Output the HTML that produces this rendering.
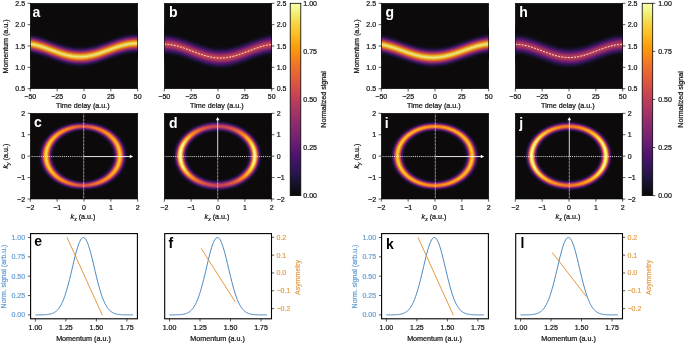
<!DOCTYPE html><html><head><meta charset="utf-8"><style>html,body{margin:0;padding:0;background:#fff;width:685px;height:343px;overflow:hidden}svg text{stroke-width:0.22px}svg text[font-weight=bold]{stroke:none}</style></head><body><svg width="685" height="343" viewBox="0 0 685 343" style="display:block;font-family:'Liberation Sans',Arial,Helvetica,sans-serif"><defs><linearGradient id="bg1" x1="0" y1="0" x2="0" y2="1"><stop offset="0" stop-color="#0c0a0a"/><stop offset="0.04" stop-color="#0c0a0a"/><stop offset="0.08" stop-color="#0c0a0a"/><stop offset="0.12" stop-color="#0c0a0b"/><stop offset="0.17" stop-color="#0d0b10"/><stop offset="0.21" stop-color="#110e1f"/><stop offset="0.25" stop-color="#221541"/><stop offset="0.29" stop-color="#4c146c"/><stop offset="0.33" stop-color="#862870"/><stop offset="0.38" stop-color="#cc474f"/><stop offset="0.42" stop-color="#f88c14"/><stop offset="0.46" stop-color="#f8d13f"/><stop offset="0.5" stop-color="#f2eb6d"/><stop offset="0.54" stop-color="#f8d13f"/><stop offset="0.58" stop-color="#f88c14"/><stop offset="0.62" stop-color="#cc474f"/><stop offset="0.67" stop-color="#862870"/><stop offset="0.71" stop-color="#4c146c"/><stop offset="0.75" stop-color="#221541"/><stop offset="0.79" stop-color="#110e1f"/><stop offset="0.83" stop-color="#0d0b10"/><stop offset="0.88" stop-color="#0c0a0b"/><stop offset="0.92" stop-color="#0c0a0a"/><stop offset="0.96" stop-color="#0c0a0a"/><stop offset="1" stop-color="#0c0a0a"/></linearGradient><clipPath id="cp2"><rect x="30.3" y="3.3" width="107.4" height="85.4"/></clipPath><linearGradient id="bg3" x1="0" y1="0" x2="0" y2="1"><stop offset="0" stop-color="#0c0a0a"/><stop offset="0.04" stop-color="#0c0a0a"/><stop offset="0.08" stop-color="#0c0a0a"/><stop offset="0.12" stop-color="#0c0a0b"/><stop offset="0.17" stop-color="#0c0a0d"/><stop offset="0.21" stop-color="#0e0c16"/><stop offset="0.25" stop-color="#151027"/><stop offset="0.29" stop-color="#2a164d"/><stop offset="0.33" stop-color="#4e146d"/><stop offset="0.38" stop-color="#7a2372"/><stop offset="0.42" stop-color="#a73465"/><stop offset="0.46" stop-color="#c74453"/><stop offset="0.5" stop-color="#d34c4a"/><stop offset="0.54" stop-color="#c74453"/><stop offset="0.58" stop-color="#a73465"/><stop offset="0.62" stop-color="#7a2372"/><stop offset="0.67" stop-color="#4e146d"/><stop offset="0.71" stop-color="#2a164d"/><stop offset="0.75" stop-color="#151027"/><stop offset="0.79" stop-color="#0e0c16"/><stop offset="0.83" stop-color="#0c0a0d"/><stop offset="0.88" stop-color="#0c0a0b"/><stop offset="0.92" stop-color="#0c0a0a"/><stop offset="0.96" stop-color="#0c0a0a"/><stop offset="1" stop-color="#0c0a0a"/></linearGradient><clipPath id="cp4"><rect x="164.3" y="3.3" width="107.4" height="85.4"/></clipPath><clipPath id="cp5"><rect x="30.3" y="113.3" width="107.4" height="85.7"/></clipPath><radialGradient id="r6" gradientUnits="userSpaceOnUse" cx="0" cy="0" r="1.292"><stop offset="0.548" stop-color="#0c0a0a"/><stop offset="0.580" stop-color="#0c0a0a"/><stop offset="0.613" stop-color="#0d0b0e"/><stop offset="0.645" stop-color="#16112a"/><stop offset="0.677" stop-color="#4c146c"/><stop offset="0.709" stop-color="#b23860"/><stop offset="0.742" stop-color="#fb980d"/><stop offset="0.774" stop-color="#f6d94a"/><stop offset="0.806" stop-color="#fb980d"/><stop offset="0.839" stop-color="#b23860"/><stop offset="0.871" stop-color="#4c146c"/><stop offset="0.903" stop-color="#16112a"/><stop offset="0.935" stop-color="#0d0b0e"/><stop offset="0.968" stop-color="#0c0a0a"/><stop offset="1.000" stop-color="#0c0a0a"/></radialGradient><radialGradient id="r7" gradientUnits="userSpaceOnUse" cx="0" cy="0" r="1.292"><stop offset="0.548" stop-color="#0c0a0a"/><stop offset="0.581" stop-color="#0c0a0a"/><stop offset="0.613" stop-color="#0d0b0e"/><stop offset="0.645" stop-color="#16112a"/><stop offset="0.677" stop-color="#4c146c"/><stop offset="0.710" stop-color="#b23860"/><stop offset="0.742" stop-color="#fb980d"/><stop offset="0.774" stop-color="#f7d748"/><stop offset="0.806" stop-color="#fb980d"/><stop offset="0.839" stop-color="#b23860"/><stop offset="0.871" stop-color="#4c146c"/><stop offset="0.903" stop-color="#16112a"/><stop offset="0.935" stop-color="#0d0b0e"/><stop offset="0.968" stop-color="#0c0a0a"/><stop offset="1.000" stop-color="#0c0a0a"/></radialGradient><radialGradient id="r8" gradientUnits="userSpaceOnUse" cx="0" cy="0" r="1.291"><stop offset="0.549" stop-color="#0c0a0a"/><stop offset="0.581" stop-color="#0c0a0a"/><stop offset="0.614" stop-color="#0d0b0e"/><stop offset="0.646" stop-color="#16112a"/><stop offset="0.678" stop-color="#4c146c"/><stop offset="0.710" stop-color="#b23860"/><stop offset="0.742" stop-color="#fa960e"/><stop offset="0.775" stop-color="#f7d545"/><stop offset="0.807" stop-color="#fa960e"/><stop offset="0.839" stop-color="#b23860"/><stop offset="0.871" stop-color="#4c146c"/><stop offset="0.903" stop-color="#16112a"/><stop offset="0.936" stop-color="#0d0b0e"/><stop offset="0.968" stop-color="#0c0a0a"/><stop offset="1.000" stop-color="#0c0a0a"/></radialGradient><radialGradient id="r9" gradientUnits="userSpaceOnUse" cx="0" cy="0" r="1.290"><stop offset="0.550" stop-color="#0c0a0a"/><stop offset="0.583" stop-color="#0c0a0a"/><stop offset="0.615" stop-color="#0d0b0e"/><stop offset="0.647" stop-color="#16112a"/><stop offset="0.679" stop-color="#4c146c"/><stop offset="0.711" stop-color="#b03861"/><stop offset="0.743" stop-color="#fa930f"/><stop offset="0.775" stop-color="#f8d342"/><stop offset="0.807" stop-color="#fa930f"/><stop offset="0.839" stop-color="#b03861"/><stop offset="0.872" stop-color="#4c146c"/><stop offset="0.904" stop-color="#16112a"/><stop offset="0.936" stop-color="#0d0b0e"/><stop offset="0.968" stop-color="#0c0a0a"/><stop offset="1.000" stop-color="#0c0a0a"/></radialGradient><radialGradient id="r10" gradientUnits="userSpaceOnUse" cx="0" cy="0" r="1.289"><stop offset="0.552" stop-color="#0c0a0a"/><stop offset="0.584" stop-color="#0c0a0a"/><stop offset="0.616" stop-color="#0d0b0e"/><stop offset="0.648" stop-color="#16112a"/><stop offset="0.680" stop-color="#4a136c"/><stop offset="0.712" stop-color="#af3762"/><stop offset="0.744" stop-color="#f99110"/><stop offset="0.776" stop-color="#f9cd3a"/><stop offset="0.808" stop-color="#f99110"/><stop offset="0.840" stop-color="#af3762"/><stop offset="0.872" stop-color="#4a136c"/><stop offset="0.904" stop-color="#16112a"/><stop offset="0.936" stop-color="#0d0b0e"/><stop offset="0.968" stop-color="#0c0a0a"/><stop offset="1.000" stop-color="#0c0a0a"/></radialGradient><radialGradient id="r11" gradientUnits="userSpaceOnUse" cx="0" cy="0" r="1.287"><stop offset="0.554" stop-color="#0c0a0a"/><stop offset="0.586" stop-color="#0c0a0a"/><stop offset="0.618" stop-color="#0d0b0e"/><stop offset="0.650" stop-color="#16112a"/><stop offset="0.681" stop-color="#4a136c"/><stop offset="0.713" stop-color="#ac3663"/><stop offset="0.745" stop-color="#f88c14"/><stop offset="0.777" stop-color="#faca35"/><stop offset="0.809" stop-color="#f88c14"/><stop offset="0.841" stop-color="#ac3663"/><stop offset="0.873" stop-color="#4a136c"/><stop offset="0.904" stop-color="#16112a"/><stop offset="0.936" stop-color="#0d0b0e"/><stop offset="0.968" stop-color="#0c0a0a"/><stop offset="1.000" stop-color="#0c0a0a"/></radialGradient><radialGradient id="r12" gradientUnits="userSpaceOnUse" cx="0" cy="0" r="1.285"><stop offset="0.556" stop-color="#0c0a0a"/><stop offset="0.588" stop-color="#0c0a0a"/><stop offset="0.620" stop-color="#0d0b0e"/><stop offset="0.651" stop-color="#16112a"/><stop offset="0.683" stop-color="#49136b"/><stop offset="0.715" stop-color="#aa3564"/><stop offset="0.746" stop-color="#f78816"/><stop offset="0.778" stop-color="#fac42e"/><stop offset="0.810" stop-color="#f78816"/><stop offset="0.842" stop-color="#aa3564"/><stop offset="0.873" stop-color="#49136b"/><stop offset="0.905" stop-color="#16112a"/><stop offset="0.937" stop-color="#0d0b0e"/><stop offset="0.968" stop-color="#0c0a0a"/><stop offset="1.000" stop-color="#0c0a0a"/></radialGradient><radialGradient id="r13" gradientUnits="userSpaceOnUse" cx="0" cy="0" r="1.283"><stop offset="0.559" stop-color="#0c0a0a"/><stop offset="0.590" stop-color="#0c0a0a"/><stop offset="0.622" stop-color="#0d0b0e"/><stop offset="0.653" stop-color="#151027"/><stop offset="0.685" stop-color="#47136a"/><stop offset="0.716" stop-color="#a73465"/><stop offset="0.748" stop-color="#f6831a"/><stop offset="0.779" stop-color="#fbbc25"/><stop offset="0.811" stop-color="#f6831a"/><stop offset="0.842" stop-color="#a73465"/><stop offset="0.874" stop-color="#47136a"/><stop offset="0.905" stop-color="#151027"/><stop offset="0.937" stop-color="#0d0b0e"/><stop offset="0.968" stop-color="#0c0a0a"/><stop offset="1.000" stop-color="#0c0a0a"/></radialGradient><radialGradient id="r14" gradientUnits="userSpaceOnUse" cx="0" cy="0" r="1.280"><stop offset="0.562" stop-color="#0c0a0a"/><stop offset="0.593" stop-color="#0c0a0a"/><stop offset="0.625" stop-color="#0d0b0e"/><stop offset="0.656" stop-color="#151027"/><stop offset="0.687" stop-color="#461369"/><stop offset="0.718" stop-color="#a43367"/><stop offset="0.750" stop-color="#f47d1f"/><stop offset="0.781" stop-color="#fcb51c"/><stop offset="0.812" stop-color="#f47d1f"/><stop offset="0.844" stop-color="#a43367"/><stop offset="0.875" stop-color="#461369"/><stop offset="0.906" stop-color="#151027"/><stop offset="0.937" stop-color="#0d0b0e"/><stop offset="0.969" stop-color="#0c0a0a"/><stop offset="1.000" stop-color="#0c0a0a"/></radialGradient><radialGradient id="r15" gradientUnits="userSpaceOnUse" cx="0" cy="0" r="1.278"><stop offset="0.565" stop-color="#0c0a0a"/><stop offset="0.596" stop-color="#0c0a0a"/><stop offset="0.627" stop-color="#0d0b0e"/><stop offset="0.658" stop-color="#151027"/><stop offset="0.689" stop-color="#441368"/><stop offset="0.721" stop-color="#a03168"/><stop offset="0.752" stop-color="#f17624"/><stop offset="0.783" stop-color="#fcae15"/><stop offset="0.814" stop-color="#f17624"/><stop offset="0.845" stop-color="#a03168"/><stop offset="0.876" stop-color="#441368"/><stop offset="0.907" stop-color="#151027"/><stop offset="0.938" stop-color="#0d0b0e"/><stop offset="0.969" stop-color="#0c0a0a"/><stop offset="1.000" stop-color="#0c0a0a"/></radialGradient><radialGradient id="r16" gradientUnits="userSpaceOnUse" cx="0" cy="0" r="1.275"><stop offset="0.569" stop-color="#0c0a0a"/><stop offset="0.600" stop-color="#0c0a0a"/><stop offset="0.630" stop-color="#0d0b0e"/><stop offset="0.661" stop-color="#141025"/><stop offset="0.692" stop-color="#421367"/><stop offset="0.723" stop-color="#9d3069"/><stop offset="0.754" stop-color="#ef7029"/><stop offset="0.784" stop-color="#fca40e"/><stop offset="0.815" stop-color="#ef7029"/><stop offset="0.846" stop-color="#9d3069"/><stop offset="0.877" stop-color="#421367"/><stop offset="0.908" stop-color="#141025"/><stop offset="0.938" stop-color="#0d0b0e"/><stop offset="0.969" stop-color="#0c0a0a"/><stop offset="1.000" stop-color="#0c0a0a"/></radialGradient><radialGradient id="r17" gradientUnits="userSpaceOnUse" cx="0" cy="0" r="1.272"><stop offset="0.573" stop-color="#0c0a0a"/><stop offset="0.603" stop-color="#0c0a0a"/><stop offset="0.634" stop-color="#0d0b0e"/><stop offset="0.664" stop-color="#141025"/><stop offset="0.695" stop-color="#411366"/><stop offset="0.725" stop-color="#982e6b"/><stop offset="0.756" stop-color="#ec6a2e"/><stop offset="0.786" stop-color="#fb9b0c"/><stop offset="0.817" stop-color="#ec6a2e"/><stop offset="0.847" stop-color="#982e6b"/><stop offset="0.878" stop-color="#411366"/><stop offset="0.908" stop-color="#141025"/><stop offset="0.939" stop-color="#0d0b0e"/><stop offset="0.969" stop-color="#0c0a0a"/><stop offset="1.000" stop-color="#0c0a0a"/></radialGradient><radialGradient id="r18" gradientUnits="userSpaceOnUse" cx="0" cy="0" r="1.268"><stop offset="0.577" stop-color="#0c0a0a"/><stop offset="0.607" stop-color="#0c0a0a"/><stop offset="0.637" stop-color="#0d0b0e"/><stop offset="0.668" stop-color="#141025"/><stop offset="0.698" stop-color="#3f1365"/><stop offset="0.728" stop-color="#942d6c"/><stop offset="0.758" stop-color="#e76334"/><stop offset="0.788" stop-color="#f99110"/><stop offset="0.819" stop-color="#e76334"/><stop offset="0.849" stop-color="#942d6c"/><stop offset="0.879" stop-color="#3f1365"/><stop offset="0.909" stop-color="#141025"/><stop offset="0.940" stop-color="#0d0b0e"/><stop offset="0.970" stop-color="#0c0a0a"/><stop offset="1.000" stop-color="#0c0a0a"/></radialGradient><radialGradient id="r19" gradientUnits="userSpaceOnUse" cx="0" cy="0" r="1.265"><stop offset="0.581" stop-color="#0c0a0a"/><stop offset="0.611" stop-color="#0c0a0a"/><stop offset="0.641" stop-color="#0d0b0e"/><stop offset="0.671" stop-color="#130f23"/><stop offset="0.701" stop-color="#3c1362"/><stop offset="0.731" stop-color="#8f2b6e"/><stop offset="0.761" stop-color="#e35e39"/><stop offset="0.791" stop-color="#f78816"/><stop offset="0.821" stop-color="#e35e39"/><stop offset="0.850" stop-color="#8f2b6e"/><stop offset="0.880" stop-color="#3c1362"/><stop offset="0.910" stop-color="#130f23"/><stop offset="0.940" stop-color="#0d0b0e"/><stop offset="0.970" stop-color="#0c0a0a"/><stop offset="1.000" stop-color="#0c0a0a"/></radialGradient><radialGradient id="r20" gradientUnits="userSpaceOnUse" cx="0" cy="0" r="1.261"><stop offset="0.586" stop-color="#0c0a0a"/><stop offset="0.615" stop-color="#0c0a0a"/><stop offset="0.645" stop-color="#0d0b0e"/><stop offset="0.675" stop-color="#130f23"/><stop offset="0.704" stop-color="#3a1460"/><stop offset="0.734" stop-color="#8b296f"/><stop offset="0.763" stop-color="#de583f"/><stop offset="0.793" stop-color="#f47e1e"/><stop offset="0.822" stop-color="#de583f"/><stop offset="0.852" stop-color="#8b296f"/><stop offset="0.882" stop-color="#3a1460"/><stop offset="0.911" stop-color="#130f23"/><stop offset="0.941" stop-color="#0d0b0e"/><stop offset="0.970" stop-color="#0c0a0a"/><stop offset="1.000" stop-color="#0c0a0a"/></radialGradient><radialGradient id="r21" gradientUnits="userSpaceOnUse" cx="0" cy="0" r="1.258"><stop offset="0.590" stop-color="#0c0a0a"/><stop offset="0.620" stop-color="#0c0a0a"/><stop offset="0.649" stop-color="#0c0a0d"/><stop offset="0.678" stop-color="#120f21"/><stop offset="0.707" stop-color="#38145f"/><stop offset="0.737" stop-color="#862870"/><stop offset="0.766" stop-color="#d75145"/><stop offset="0.795" stop-color="#f17526"/><stop offset="0.824" stop-color="#d75145"/><stop offset="0.854" stop-color="#862870"/><stop offset="0.883" stop-color="#38145f"/><stop offset="0.912" stop-color="#120f21"/><stop offset="0.941" stop-color="#0c0a0d"/><stop offset="0.971" stop-color="#0c0a0a"/><stop offset="1.000" stop-color="#0c0a0a"/></radialGradient><radialGradient id="r22" gradientUnits="userSpaceOnUse" cx="0" cy="0" r="1.254"><stop offset="0.595" stop-color="#0c0a0a"/><stop offset="0.624" stop-color="#0c0a0a"/><stop offset="0.653" stop-color="#0c0a0d"/><stop offset="0.682" stop-color="#120f21"/><stop offset="0.711" stop-color="#35145b"/><stop offset="0.740" stop-color="#822671"/><stop offset="0.769" stop-color="#d14b4b"/><stop offset="0.798" stop-color="#ec6c2d"/><stop offset="0.827" stop-color="#d14b4b"/><stop offset="0.855" stop-color="#822671"/><stop offset="0.884" stop-color="#35145b"/><stop offset="0.913" stop-color="#120f21"/><stop offset="0.942" stop-color="#0c0a0d"/><stop offset="0.971" stop-color="#0c0a0a"/><stop offset="1.000" stop-color="#0c0a0a"/></radialGradient><radialGradient id="r23" gradientUnits="userSpaceOnUse" cx="0" cy="0" r="1.250"><stop offset="0.600" stop-color="#0c0a0a"/><stop offset="0.629" stop-color="#0c0a0a"/><stop offset="0.657" stop-color="#0c0a0d"/><stop offset="0.686" stop-color="#110e1f"/><stop offset="0.714" stop-color="#331559"/><stop offset="0.743" stop-color="#7d2471"/><stop offset="0.771" stop-color="#cb4650"/><stop offset="0.800" stop-color="#e66235"/><stop offset="0.829" stop-color="#cb4650"/><stop offset="0.857" stop-color="#7d2471"/><stop offset="0.886" stop-color="#331559"/><stop offset="0.914" stop-color="#110e1f"/><stop offset="0.943" stop-color="#0c0a0d"/><stop offset="0.971" stop-color="#0c0a0a"/><stop offset="1.000" stop-color="#0c0a0a"/></radialGradient><radialGradient id="r24" gradientUnits="userSpaceOnUse" cx="0" cy="0" r="1.250"><stop offset="0.600" stop-color="#0c0a0a"/><stop offset="0.629" stop-color="#0c0a0a"/><stop offset="0.657" stop-color="#0c0a0d"/><stop offset="0.686" stop-color="#110e1f"/><stop offset="0.714" stop-color="#331559"/><stop offset="0.743" stop-color="#7d2471"/><stop offset="0.771" stop-color="#cb4650"/><stop offset="0.800" stop-color="#e76334"/><stop offset="0.829" stop-color="#cb4650"/><stop offset="0.857" stop-color="#7d2471"/><stop offset="0.886" stop-color="#331559"/><stop offset="0.914" stop-color="#110e1f"/><stop offset="0.943" stop-color="#0c0a0d"/><stop offset="0.971" stop-color="#0c0a0a"/><stop offset="1.000" stop-color="#0c0a0a"/></radialGradient><radialGradient id="r25" gradientUnits="userSpaceOnUse" cx="0" cy="0" r="1.254"><stop offset="0.595" stop-color="#0c0a0a"/><stop offset="0.624" stop-color="#0c0a0a"/><stop offset="0.653" stop-color="#0c0a0d"/><stop offset="0.682" stop-color="#120f21"/><stop offset="0.711" stop-color="#35145b"/><stop offset="0.740" stop-color="#822671"/><stop offset="0.769" stop-color="#d34c4a"/><stop offset="0.798" stop-color="#ed6d2c"/><stop offset="0.827" stop-color="#d34c4a"/><stop offset="0.855" stop-color="#822671"/><stop offset="0.884" stop-color="#35145b"/><stop offset="0.913" stop-color="#120f21"/><stop offset="0.942" stop-color="#0c0a0d"/><stop offset="0.971" stop-color="#0c0a0a"/><stop offset="1.000" stop-color="#0c0a0a"/></radialGradient><radialGradient id="r26" gradientUnits="userSpaceOnUse" cx="0" cy="0" r="1.258"><stop offset="0.590" stop-color="#0c0a0a"/><stop offset="0.620" stop-color="#0c0a0a"/><stop offset="0.649" stop-color="#0c0a0d"/><stop offset="0.678" stop-color="#120f21"/><stop offset="0.707" stop-color="#38145f"/><stop offset="0.737" stop-color="#88286f"/><stop offset="0.766" stop-color="#da5343"/><stop offset="0.795" stop-color="#f17624"/><stop offset="0.824" stop-color="#da5343"/><stop offset="0.854" stop-color="#88286f"/><stop offset="0.883" stop-color="#38145f"/><stop offset="0.912" stop-color="#120f21"/><stop offset="0.941" stop-color="#0c0a0d"/><stop offset="0.971" stop-color="#0c0a0a"/><stop offset="1.000" stop-color="#0c0a0a"/></radialGradient><radialGradient id="r27" gradientUnits="userSpaceOnUse" cx="0" cy="0" r="1.261"><stop offset="0.586" stop-color="#0c0a0a"/><stop offset="0.615" stop-color="#0c0a0a"/><stop offset="0.645" stop-color="#0d0b0e"/><stop offset="0.675" stop-color="#130f23"/><stop offset="0.704" stop-color="#3c1362"/><stop offset="0.734" stop-color="#8e2a6e"/><stop offset="0.763" stop-color="#e05a3c"/><stop offset="0.793" stop-color="#f6821b"/><stop offset="0.822" stop-color="#e05a3c"/><stop offset="0.852" stop-color="#8e2a6e"/><stop offset="0.882" stop-color="#3c1362"/><stop offset="0.911" stop-color="#130f23"/><stop offset="0.941" stop-color="#0d0b0e"/><stop offset="0.970" stop-color="#0c0a0a"/><stop offset="1.000" stop-color="#0c0a0a"/></radialGradient><radialGradient id="r28" gradientUnits="userSpaceOnUse" cx="0" cy="0" r="1.265"><stop offset="0.581" stop-color="#0c0a0a"/><stop offset="0.611" stop-color="#0c0a0a"/><stop offset="0.641" stop-color="#0d0b0e"/><stop offset="0.671" stop-color="#130f23"/><stop offset="0.701" stop-color="#3d1363"/><stop offset="0.731" stop-color="#922c6d"/><stop offset="0.761" stop-color="#e56137"/><stop offset="0.791" stop-color="#f98d13"/><stop offset="0.821" stop-color="#e56137"/><stop offset="0.850" stop-color="#922c6d"/><stop offset="0.880" stop-color="#3d1363"/><stop offset="0.910" stop-color="#130f23"/><stop offset="0.940" stop-color="#0d0b0e"/><stop offset="0.970" stop-color="#0c0a0a"/><stop offset="1.000" stop-color="#0c0a0a"/></radialGradient><radialGradient id="r29" gradientUnits="userSpaceOnUse" cx="0" cy="0" r="1.268"><stop offset="0.577" stop-color="#0c0a0a"/><stop offset="0.607" stop-color="#0c0a0a"/><stop offset="0.637" stop-color="#0d0b0e"/><stop offset="0.668" stop-color="#141025"/><stop offset="0.698" stop-color="#3f1365"/><stop offset="0.728" stop-color="#972e6c"/><stop offset="0.758" stop-color="#ea6731"/><stop offset="0.788" stop-color="#fb980d"/><stop offset="0.819" stop-color="#ea6731"/><stop offset="0.849" stop-color="#972e6c"/><stop offset="0.879" stop-color="#3f1365"/><stop offset="0.909" stop-color="#141025"/><stop offset="0.940" stop-color="#0d0b0e"/><stop offset="0.970" stop-color="#0c0a0a"/><stop offset="1.000" stop-color="#0c0a0a"/></radialGradient><radialGradient id="r30" gradientUnits="userSpaceOnUse" cx="0" cy="0" r="1.272"><stop offset="0.573" stop-color="#0c0a0a"/><stop offset="0.603" stop-color="#0c0a0a"/><stop offset="0.634" stop-color="#0d0b0e"/><stop offset="0.664" stop-color="#141025"/><stop offset="0.695" stop-color="#421367"/><stop offset="0.725" stop-color="#9b2f6a"/><stop offset="0.756" stop-color="#ef7029"/><stop offset="0.786" stop-color="#fca30d"/><stop offset="0.817" stop-color="#ef7029"/><stop offset="0.847" stop-color="#9b2f6a"/><stop offset="0.878" stop-color="#421367"/><stop offset="0.908" stop-color="#141025"/><stop offset="0.939" stop-color="#0d0b0e"/><stop offset="0.969" stop-color="#0c0a0a"/><stop offset="1.000" stop-color="#0c0a0a"/></radialGradient><radialGradient id="r31" gradientUnits="userSpaceOnUse" cx="0" cy="0" r="1.275"><stop offset="0.569" stop-color="#0c0a0a"/><stop offset="0.600" stop-color="#0c0a0a"/><stop offset="0.630" stop-color="#0d0b0e"/><stop offset="0.661" stop-color="#151027"/><stop offset="0.692" stop-color="#441368"/><stop offset="0.723" stop-color="#a03168"/><stop offset="0.754" stop-color="#f17624"/><stop offset="0.784" stop-color="#fcae15"/><stop offset="0.815" stop-color="#f17624"/><stop offset="0.846" stop-color="#a03168"/><stop offset="0.877" stop-color="#441368"/><stop offset="0.908" stop-color="#151027"/><stop offset="0.938" stop-color="#0d0b0e"/><stop offset="0.969" stop-color="#0c0a0a"/><stop offset="1.000" stop-color="#0c0a0a"/></radialGradient><radialGradient id="r32" gradientUnits="userSpaceOnUse" cx="0" cy="0" r="1.278"><stop offset="0.565" stop-color="#0c0a0a"/><stop offset="0.596" stop-color="#0c0a0a"/><stop offset="0.627" stop-color="#0d0b0e"/><stop offset="0.658" stop-color="#151027"/><stop offset="0.689" stop-color="#461369"/><stop offset="0.721" stop-color="#a43367"/><stop offset="0.752" stop-color="#f47e1e"/><stop offset="0.783" stop-color="#fcb71e"/><stop offset="0.814" stop-color="#f47e1e"/><stop offset="0.845" stop-color="#a43367"/><stop offset="0.876" stop-color="#461369"/><stop offset="0.907" stop-color="#151027"/><stop offset="0.938" stop-color="#0d0b0e"/><stop offset="0.969" stop-color="#0c0a0a"/><stop offset="1.000" stop-color="#0c0a0a"/></radialGradient><radialGradient id="r33" gradientUnits="userSpaceOnUse" cx="0" cy="0" r="1.280"><stop offset="0.562" stop-color="#0c0a0a"/><stop offset="0.593" stop-color="#0c0a0a"/><stop offset="0.625" stop-color="#0d0b0e"/><stop offset="0.656" stop-color="#151027"/><stop offset="0.687" stop-color="#47136a"/><stop offset="0.718" stop-color="#a93565"/><stop offset="0.750" stop-color="#f78519"/><stop offset="0.781" stop-color="#fbc029"/><stop offset="0.812" stop-color="#f78519"/><stop offset="0.844" stop-color="#a93565"/><stop offset="0.875" stop-color="#47136a"/><stop offset="0.906" stop-color="#151027"/><stop offset="0.937" stop-color="#0d0b0e"/><stop offset="0.969" stop-color="#0c0a0a"/><stop offset="1.000" stop-color="#0c0a0a"/></radialGradient><radialGradient id="r34" gradientUnits="userSpaceOnUse" cx="0" cy="0" r="1.283"><stop offset="0.559" stop-color="#0c0a0a"/><stop offset="0.590" stop-color="#0c0a0a"/><stop offset="0.622" stop-color="#0d0b0e"/><stop offset="0.653" stop-color="#16112a"/><stop offset="0.685" stop-color="#4a136c"/><stop offset="0.716" stop-color="#ac3663"/><stop offset="0.748" stop-color="#f88c14"/><stop offset="0.779" stop-color="#fac832"/><stop offset="0.811" stop-color="#f88c14"/><stop offset="0.842" stop-color="#ac3663"/><stop offset="0.874" stop-color="#4a136c"/><stop offset="0.905" stop-color="#16112a"/><stop offset="0.937" stop-color="#0d0b0e"/><stop offset="0.968" stop-color="#0c0a0a"/><stop offset="1.000" stop-color="#0c0a0a"/></radialGradient><radialGradient id="r35" gradientUnits="userSpaceOnUse" cx="0" cy="0" r="1.285"><stop offset="0.556" stop-color="#0c0a0a"/><stop offset="0.588" stop-color="#0c0a0a"/><stop offset="0.620" stop-color="#0d0b0e"/><stop offset="0.651" stop-color="#16112a"/><stop offset="0.683" stop-color="#4a136c"/><stop offset="0.715" stop-color="#af3762"/><stop offset="0.746" stop-color="#f99110"/><stop offset="0.778" stop-color="#f8cf3c"/><stop offset="0.810" stop-color="#f99110"/><stop offset="0.842" stop-color="#af3762"/><stop offset="0.873" stop-color="#4a136c"/><stop offset="0.905" stop-color="#16112a"/><stop offset="0.937" stop-color="#0d0b0e"/><stop offset="0.968" stop-color="#0c0a0a"/><stop offset="1.000" stop-color="#0c0a0a"/></radialGradient><radialGradient id="r36" gradientUnits="userSpaceOnUse" cx="0" cy="0" r="1.287"><stop offset="0.554" stop-color="#0c0a0a"/><stop offset="0.586" stop-color="#0c0a0a"/><stop offset="0.618" stop-color="#0d0b0e"/><stop offset="0.650" stop-color="#16112a"/><stop offset="0.681" stop-color="#4c146c"/><stop offset="0.713" stop-color="#b23860"/><stop offset="0.745" stop-color="#fa960e"/><stop offset="0.777" stop-color="#f7d748"/><stop offset="0.809" stop-color="#fa960e"/><stop offset="0.841" stop-color="#b23860"/><stop offset="0.873" stop-color="#4c146c"/><stop offset="0.904" stop-color="#16112a"/><stop offset="0.936" stop-color="#0d0b0e"/><stop offset="0.968" stop-color="#0c0a0a"/><stop offset="1.000" stop-color="#0c0a0a"/></radialGradient><radialGradient id="r37" gradientUnits="userSpaceOnUse" cx="0" cy="0" r="1.289"><stop offset="0.552" stop-color="#0c0a0a"/><stop offset="0.584" stop-color="#0c0a0a"/><stop offset="0.616" stop-color="#0d0b0e"/><stop offset="0.648" stop-color="#17112c"/><stop offset="0.680" stop-color="#4e146d"/><stop offset="0.712" stop-color="#b3395f"/><stop offset="0.744" stop-color="#fb9b0c"/><stop offset="0.776" stop-color="#f5dc51"/><stop offset="0.808" stop-color="#fb9b0c"/><stop offset="0.840" stop-color="#b3395f"/><stop offset="0.872" stop-color="#4e146d"/><stop offset="0.904" stop-color="#17112c"/><stop offset="0.936" stop-color="#0d0b0e"/><stop offset="0.968" stop-color="#0c0a0a"/><stop offset="1.000" stop-color="#0c0a0a"/></radialGradient><radialGradient id="r38" gradientUnits="userSpaceOnUse" cx="0" cy="0" r="1.290"><stop offset="0.550" stop-color="#0c0a0a"/><stop offset="0.583" stop-color="#0c0a0a"/><stop offset="0.615" stop-color="#0d0b0e"/><stop offset="0.647" stop-color="#17112c"/><stop offset="0.679" stop-color="#4e146d"/><stop offset="0.711" stop-color="#b53a5f"/><stop offset="0.743" stop-color="#fb9f0d"/><stop offset="0.775" stop-color="#f4e057"/><stop offset="0.807" stop-color="#fb9f0d"/><stop offset="0.839" stop-color="#b53a5f"/><stop offset="0.872" stop-color="#4e146d"/><stop offset="0.904" stop-color="#17112c"/><stop offset="0.936" stop-color="#0d0b0e"/><stop offset="0.968" stop-color="#0c0a0a"/><stop offset="1.000" stop-color="#0c0a0a"/></radialGradient><radialGradient id="r39" gradientUnits="userSpaceOnUse" cx="0" cy="0" r="1.291"><stop offset="0.549" stop-color="#0c0a0a"/><stop offset="0.581" stop-color="#0c0a0a"/><stop offset="0.614" stop-color="#0d0b0e"/><stop offset="0.646" stop-color="#17112c"/><stop offset="0.678" stop-color="#4f146e"/><stop offset="0.710" stop-color="#b63a5e"/><stop offset="0.742" stop-color="#fca10d"/><stop offset="0.775" stop-color="#f4e45e"/><stop offset="0.807" stop-color="#fca10d"/><stop offset="0.839" stop-color="#b63a5e"/><stop offset="0.871" stop-color="#4f146e"/><stop offset="0.903" stop-color="#17112c"/><stop offset="0.936" stop-color="#0d0b0e"/><stop offset="0.968" stop-color="#0c0a0a"/><stop offset="1.000" stop-color="#0c0a0a"/></radialGradient><radialGradient id="r40" gradientUnits="userSpaceOnUse" cx="0" cy="0" r="1.292"><stop offset="0.548" stop-color="#0c0a0a"/><stop offset="0.581" stop-color="#0c0a0a"/><stop offset="0.613" stop-color="#0d0b10"/><stop offset="0.645" stop-color="#17112c"/><stop offset="0.677" stop-color="#4f146e"/><stop offset="0.710" stop-color="#b83b5d"/><stop offset="0.742" stop-color="#fca30d"/><stop offset="0.774" stop-color="#f3e661"/><stop offset="0.806" stop-color="#fca30d"/><stop offset="0.839" stop-color="#b83b5d"/><stop offset="0.871" stop-color="#4f146e"/><stop offset="0.903" stop-color="#17112c"/><stop offset="0.935" stop-color="#0d0b10"/><stop offset="0.968" stop-color="#0c0a0a"/><stop offset="1.000" stop-color="#0c0a0a"/></radialGradient><radialGradient id="r41" gradientUnits="userSpaceOnUse" cx="0" cy="0" r="1.292"><stop offset="0.548" stop-color="#0c0a0a"/><stop offset="0.580" stop-color="#0c0a0a"/><stop offset="0.613" stop-color="#0d0b10"/><stop offset="0.645" stop-color="#17112c"/><stop offset="0.677" stop-color="#4f146e"/><stop offset="0.709" stop-color="#b83b5d"/><stop offset="0.742" stop-color="#fca40e"/><stop offset="0.774" stop-color="#f3e765"/><stop offset="0.806" stop-color="#fca40e"/><stop offset="0.839" stop-color="#b83b5d"/><stop offset="0.871" stop-color="#4f146e"/><stop offset="0.903" stop-color="#17112c"/><stop offset="0.935" stop-color="#0d0b10"/><stop offset="0.968" stop-color="#0c0a0a"/><stop offset="1.000" stop-color="#0c0a0a"/></radialGradient><radialGradient id="r42" gradientUnits="userSpaceOnUse" cx="0" cy="0" r="1.292"><stop offset="0.548" stop-color="#0c0a0a"/><stop offset="0.580" stop-color="#0c0a0a"/><stop offset="0.613" stop-color="#0d0b10"/><stop offset="0.645" stop-color="#17112c"/><stop offset="0.677" stop-color="#4f146e"/><stop offset="0.709" stop-color="#b83b5d"/><stop offset="0.742" stop-color="#fca40e"/><stop offset="0.774" stop-color="#f3e661"/><stop offset="0.806" stop-color="#fca40e"/><stop offset="0.839" stop-color="#b83b5d"/><stop offset="0.871" stop-color="#4f146e"/><stop offset="0.903" stop-color="#17112c"/><stop offset="0.935" stop-color="#0d0b10"/><stop offset="0.968" stop-color="#0c0a0a"/><stop offset="1.000" stop-color="#0c0a0a"/></radialGradient><radialGradient id="r43" gradientUnits="userSpaceOnUse" cx="0" cy="0" r="1.292"><stop offset="0.548" stop-color="#0c0a0a"/><stop offset="0.581" stop-color="#0c0a0a"/><stop offset="0.613" stop-color="#0d0b10"/><stop offset="0.645" stop-color="#17112c"/><stop offset="0.677" stop-color="#4f146e"/><stop offset="0.710" stop-color="#b83b5d"/><stop offset="0.742" stop-color="#fca30d"/><stop offset="0.774" stop-color="#f3e661"/><stop offset="0.806" stop-color="#fca30d"/><stop offset="0.839" stop-color="#b83b5d"/><stop offset="0.871" stop-color="#4f146e"/><stop offset="0.903" stop-color="#17112c"/><stop offset="0.935" stop-color="#0d0b10"/><stop offset="0.968" stop-color="#0c0a0a"/><stop offset="1.000" stop-color="#0c0a0a"/></radialGradient><radialGradient id="r44" gradientUnits="userSpaceOnUse" cx="0" cy="0" r="1.291"><stop offset="0.549" stop-color="#0c0a0a"/><stop offset="0.581" stop-color="#0c0a0a"/><stop offset="0.614" stop-color="#0d0b0e"/><stop offset="0.646" stop-color="#17112c"/><stop offset="0.678" stop-color="#4f146e"/><stop offset="0.710" stop-color="#b63a5e"/><stop offset="0.742" stop-color="#fca10d"/><stop offset="0.775" stop-color="#f4e45e"/><stop offset="0.807" stop-color="#fca10d"/><stop offset="0.839" stop-color="#b63a5e"/><stop offset="0.871" stop-color="#4f146e"/><stop offset="0.903" stop-color="#17112c"/><stop offset="0.936" stop-color="#0d0b0e"/><stop offset="0.968" stop-color="#0c0a0a"/><stop offset="1.000" stop-color="#0c0a0a"/></radialGradient><radialGradient id="r45" gradientUnits="userSpaceOnUse" cx="0" cy="0" r="1.290"><stop offset="0.550" stop-color="#0c0a0a"/><stop offset="0.583" stop-color="#0c0a0a"/><stop offset="0.615" stop-color="#0d0b0e"/><stop offset="0.647" stop-color="#17112c"/><stop offset="0.679" stop-color="#4e146d"/><stop offset="0.711" stop-color="#b53a5f"/><stop offset="0.743" stop-color="#fb9d0c"/><stop offset="0.775" stop-color="#f4e057"/><stop offset="0.807" stop-color="#fb9d0c"/><stop offset="0.839" stop-color="#b53a5f"/><stop offset="0.872" stop-color="#4e146d"/><stop offset="0.904" stop-color="#17112c"/><stop offset="0.936" stop-color="#0d0b0e"/><stop offset="0.968" stop-color="#0c0a0a"/><stop offset="1.000" stop-color="#0c0a0a"/></radialGradient><radialGradient id="r46" gradientUnits="userSpaceOnUse" cx="0" cy="0" r="1.289"><stop offset="0.552" stop-color="#0c0a0a"/><stop offset="0.584" stop-color="#0c0a0a"/><stop offset="0.616" stop-color="#0d0b0e"/><stop offset="0.648" stop-color="#16112a"/><stop offset="0.680" stop-color="#4e146d"/><stop offset="0.712" stop-color="#b3395f"/><stop offset="0.744" stop-color="#fb9a0d"/><stop offset="0.776" stop-color="#f6db4d"/><stop offset="0.808" stop-color="#fb9a0d"/><stop offset="0.840" stop-color="#b3395f"/><stop offset="0.872" stop-color="#4e146d"/><stop offset="0.904" stop-color="#16112a"/><stop offset="0.936" stop-color="#0d0b0e"/><stop offset="0.968" stop-color="#0c0a0a"/><stop offset="1.000" stop-color="#0c0a0a"/></radialGradient><radialGradient id="r47" gradientUnits="userSpaceOnUse" cx="0" cy="0" r="1.287"><stop offset="0.554" stop-color="#0c0a0a"/><stop offset="0.586" stop-color="#0c0a0a"/><stop offset="0.618" stop-color="#0d0b0e"/><stop offset="0.650" stop-color="#16112a"/><stop offset="0.681" stop-color="#4c146c"/><stop offset="0.713" stop-color="#b03861"/><stop offset="0.745" stop-color="#fa960e"/><stop offset="0.777" stop-color="#f7d545"/><stop offset="0.809" stop-color="#fa960e"/><stop offset="0.841" stop-color="#b03861"/><stop offset="0.873" stop-color="#4c146c"/><stop offset="0.904" stop-color="#16112a"/><stop offset="0.936" stop-color="#0d0b0e"/><stop offset="0.968" stop-color="#0c0a0a"/><stop offset="1.000" stop-color="#0c0a0a"/></radialGradient><radialGradient id="r48" gradientUnits="userSpaceOnUse" cx="0" cy="0" r="1.285"><stop offset="0.556" stop-color="#0c0a0a"/><stop offset="0.588" stop-color="#0c0a0a"/><stop offset="0.620" stop-color="#0d0b0e"/><stop offset="0.651" stop-color="#16112a"/><stop offset="0.683" stop-color="#4a136c"/><stop offset="0.715" stop-color="#af3762"/><stop offset="0.746" stop-color="#f98f11"/><stop offset="0.778" stop-color="#f9cd3a"/><stop offset="0.810" stop-color="#f98f11"/><stop offset="0.842" stop-color="#af3762"/><stop offset="0.873" stop-color="#4a136c"/><stop offset="0.905" stop-color="#16112a"/><stop offset="0.937" stop-color="#0d0b0e"/><stop offset="0.968" stop-color="#0c0a0a"/><stop offset="1.000" stop-color="#0c0a0a"/></radialGradient><radialGradient id="r49" gradientUnits="userSpaceOnUse" cx="0" cy="0" r="1.283"><stop offset="0.559" stop-color="#0c0a0a"/><stop offset="0.590" stop-color="#0c0a0a"/><stop offset="0.622" stop-color="#0d0b0e"/><stop offset="0.653" stop-color="#16112a"/><stop offset="0.685" stop-color="#49136b"/><stop offset="0.716" stop-color="#aa3564"/><stop offset="0.748" stop-color="#f88a15"/><stop offset="0.779" stop-color="#fac630"/><stop offset="0.811" stop-color="#f88a15"/><stop offset="0.842" stop-color="#aa3564"/><stop offset="0.874" stop-color="#49136b"/><stop offset="0.905" stop-color="#16112a"/><stop offset="0.937" stop-color="#0d0b0e"/><stop offset="0.968" stop-color="#0c0a0a"/><stop offset="1.000" stop-color="#0c0a0a"/></radialGradient><radialGradient id="r50" gradientUnits="userSpaceOnUse" cx="0" cy="0" r="1.280"><stop offset="0.562" stop-color="#0c0a0a"/><stop offset="0.593" stop-color="#0c0a0a"/><stop offset="0.625" stop-color="#0d0b0e"/><stop offset="0.656" stop-color="#151027"/><stop offset="0.687" stop-color="#47136a"/><stop offset="0.718" stop-color="#a73465"/><stop offset="0.750" stop-color="#f6831a"/><stop offset="0.781" stop-color="#fbbc25"/><stop offset="0.812" stop-color="#f6831a"/><stop offset="0.844" stop-color="#a73465"/><stop offset="0.875" stop-color="#47136a"/><stop offset="0.906" stop-color="#151027"/><stop offset="0.937" stop-color="#0d0b0e"/><stop offset="0.969" stop-color="#0c0a0a"/><stop offset="1.000" stop-color="#0c0a0a"/></radialGradient><radialGradient id="r51" gradientUnits="userSpaceOnUse" cx="0" cy="0" r="1.278"><stop offset="0.565" stop-color="#0c0a0a"/><stop offset="0.596" stop-color="#0c0a0a"/><stop offset="0.627" stop-color="#0d0b0e"/><stop offset="0.658" stop-color="#151027"/><stop offset="0.689" stop-color="#461369"/><stop offset="0.721" stop-color="#a33267"/><stop offset="0.752" stop-color="#f37b21"/><stop offset="0.783" stop-color="#fcb31a"/><stop offset="0.814" stop-color="#f37b21"/><stop offset="0.845" stop-color="#a33267"/><stop offset="0.876" stop-color="#461369"/><stop offset="0.907" stop-color="#151027"/><stop offset="0.938" stop-color="#0d0b0e"/><stop offset="0.969" stop-color="#0c0a0a"/><stop offset="1.000" stop-color="#0c0a0a"/></radialGradient><radialGradient id="r52" gradientUnits="userSpaceOnUse" cx="0" cy="0" r="1.275"><stop offset="0.569" stop-color="#0c0a0a"/><stop offset="0.600" stop-color="#0c0a0a"/><stop offset="0.630" stop-color="#0d0b0e"/><stop offset="0.661" stop-color="#151027"/><stop offset="0.692" stop-color="#441368"/><stop offset="0.723" stop-color="#9e3069"/><stop offset="0.754" stop-color="#f17526"/><stop offset="0.784" stop-color="#fcaa12"/><stop offset="0.815" stop-color="#f17526"/><stop offset="0.846" stop-color="#9e3069"/><stop offset="0.877" stop-color="#441368"/><stop offset="0.908" stop-color="#151027"/><stop offset="0.938" stop-color="#0d0b0e"/><stop offset="0.969" stop-color="#0c0a0a"/><stop offset="1.000" stop-color="#0c0a0a"/></radialGradient><radialGradient id="r53" gradientUnits="userSpaceOnUse" cx="0" cy="0" r="1.272"><stop offset="0.573" stop-color="#0c0a0a"/><stop offset="0.603" stop-color="#0c0a0a"/><stop offset="0.634" stop-color="#0d0b0e"/><stop offset="0.664" stop-color="#141025"/><stop offset="0.695" stop-color="#411366"/><stop offset="0.725" stop-color="#9a2f6b"/><stop offset="0.756" stop-color="#ed6d2c"/><stop offset="0.786" stop-color="#fb9d0c"/><stop offset="0.817" stop-color="#ed6d2c"/><stop offset="0.847" stop-color="#9a2f6b"/><stop offset="0.878" stop-color="#411366"/><stop offset="0.908" stop-color="#141025"/><stop offset="0.939" stop-color="#0d0b0e"/><stop offset="0.969" stop-color="#0c0a0a"/><stop offset="1.000" stop-color="#0c0a0a"/></radialGradient><radialGradient id="r54" gradientUnits="userSpaceOnUse" cx="0" cy="0" r="1.268"><stop offset="0.577" stop-color="#0c0a0a"/><stop offset="0.607" stop-color="#0c0a0a"/><stop offset="0.637" stop-color="#0d0b0e"/><stop offset="0.668" stop-color="#141025"/><stop offset="0.698" stop-color="#3f1365"/><stop offset="0.728" stop-color="#952d6c"/><stop offset="0.758" stop-color="#e86533"/><stop offset="0.788" stop-color="#fa930f"/><stop offset="0.819" stop-color="#e86533"/><stop offset="0.849" stop-color="#952d6c"/><stop offset="0.879" stop-color="#3f1365"/><stop offset="0.909" stop-color="#141025"/><stop offset="0.940" stop-color="#0d0b0e"/><stop offset="0.970" stop-color="#0c0a0a"/><stop offset="1.000" stop-color="#0c0a0a"/></radialGradient><radialGradient id="r55" gradientUnits="userSpaceOnUse" cx="0" cy="0" r="1.265"><stop offset="0.581" stop-color="#0c0a0a"/><stop offset="0.611" stop-color="#0c0a0a"/><stop offset="0.641" stop-color="#0d0b0e"/><stop offset="0.671" stop-color="#130f23"/><stop offset="0.701" stop-color="#3c1362"/><stop offset="0.731" stop-color="#8f2b6e"/><stop offset="0.761" stop-color="#e25d3a"/><stop offset="0.791" stop-color="#f78718"/><stop offset="0.821" stop-color="#e25d3a"/><stop offset="0.850" stop-color="#8f2b6e"/><stop offset="0.880" stop-color="#3c1362"/><stop offset="0.910" stop-color="#130f23"/><stop offset="0.940" stop-color="#0d0b0e"/><stop offset="0.970" stop-color="#0c0a0a"/><stop offset="1.000" stop-color="#0c0a0a"/></radialGradient><radialGradient id="r56" gradientUnits="userSpaceOnUse" cx="0" cy="0" r="1.261"><stop offset="0.586" stop-color="#0c0a0a"/><stop offset="0.615" stop-color="#0c0a0a"/><stop offset="0.645" stop-color="#0d0b0e"/><stop offset="0.675" stop-color="#130f23"/><stop offset="0.704" stop-color="#3a1460"/><stop offset="0.734" stop-color="#8b296f"/><stop offset="0.763" stop-color="#dd5640"/><stop offset="0.793" stop-color="#f47d1f"/><stop offset="0.822" stop-color="#dd5640"/><stop offset="0.852" stop-color="#8b296f"/><stop offset="0.882" stop-color="#3a1460"/><stop offset="0.911" stop-color="#130f23"/><stop offset="0.941" stop-color="#0d0b0e"/><stop offset="0.970" stop-color="#0c0a0a"/><stop offset="1.000" stop-color="#0c0a0a"/></radialGradient><radialGradient id="r57" gradientUnits="userSpaceOnUse" cx="0" cy="0" r="1.258"><stop offset="0.590" stop-color="#0c0a0a"/><stop offset="0.620" stop-color="#0c0a0a"/><stop offset="0.649" stop-color="#0c0a0d"/><stop offset="0.678" stop-color="#120f21"/><stop offset="0.707" stop-color="#37145d"/><stop offset="0.737" stop-color="#852770"/><stop offset="0.766" stop-color="#d54e48"/><stop offset="0.795" stop-color="#ef7029"/><stop offset="0.824" stop-color="#d54e48"/><stop offset="0.854" stop-color="#852770"/><stop offset="0.883" stop-color="#37145d"/><stop offset="0.912" stop-color="#120f21"/><stop offset="0.941" stop-color="#0c0a0d"/><stop offset="0.971" stop-color="#0c0a0a"/><stop offset="1.000" stop-color="#0c0a0a"/></radialGradient><radialGradient id="r58" gradientUnits="userSpaceOnUse" cx="0" cy="0" r="1.254"><stop offset="0.595" stop-color="#0c0a0a"/><stop offset="0.624" stop-color="#0c0a0a"/><stop offset="0.653" stop-color="#0c0a0d"/><stop offset="0.682" stop-color="#120f21"/><stop offset="0.711" stop-color="#331559"/><stop offset="0.740" stop-color="#7f2571"/><stop offset="0.769" stop-color="#ce484e"/><stop offset="0.798" stop-color="#e96632"/><stop offset="0.827" stop-color="#ce484e"/><stop offset="0.855" stop-color="#7f2571"/><stop offset="0.884" stop-color="#331559"/><stop offset="0.913" stop-color="#120f21"/><stop offset="0.942" stop-color="#0c0a0d"/><stop offset="0.971" stop-color="#0c0a0a"/><stop offset="1.000" stop-color="#0c0a0a"/></radialGradient><radialGradient id="r59" gradientUnits="userSpaceOnUse" cx="0" cy="0" r="1.250"><stop offset="0.600" stop-color="#0c0a0a"/><stop offset="0.629" stop-color="#0c0a0a"/><stop offset="0.657" stop-color="#0c0a0d"/><stop offset="0.686" stop-color="#110e1f"/><stop offset="0.714" stop-color="#321557"/><stop offset="0.743" stop-color="#792372"/><stop offset="0.771" stop-color="#c64354"/><stop offset="0.800" stop-color="#e25d3a"/><stop offset="0.829" stop-color="#c64354"/><stop offset="0.857" stop-color="#792372"/><stop offset="0.886" stop-color="#321557"/><stop offset="0.914" stop-color="#110e1f"/><stop offset="0.943" stop-color="#0c0a0d"/><stop offset="0.971" stop-color="#0c0a0a"/><stop offset="1.000" stop-color="#0c0a0a"/></radialGradient><radialGradient id="r60" gradientUnits="userSpaceOnUse" cx="0" cy="0" r="1.250"><stop offset="0.600" stop-color="#0c0a0a"/><stop offset="0.629" stop-color="#0c0a0a"/><stop offset="0.657" stop-color="#0c0a0d"/><stop offset="0.686" stop-color="#110e1f"/><stop offset="0.714" stop-color="#321557"/><stop offset="0.743" stop-color="#792372"/><stop offset="0.771" stop-color="#c64354"/><stop offset="0.800" stop-color="#e15b3b"/><stop offset="0.829" stop-color="#c64354"/><stop offset="0.857" stop-color="#792372"/><stop offset="0.886" stop-color="#321557"/><stop offset="0.914" stop-color="#110e1f"/><stop offset="0.943" stop-color="#0c0a0d"/><stop offset="0.971" stop-color="#0c0a0a"/><stop offset="1.000" stop-color="#0c0a0a"/></radialGradient><radialGradient id="r61" gradientUnits="userSpaceOnUse" cx="0" cy="0" r="1.254"><stop offset="0.595" stop-color="#0c0a0a"/><stop offset="0.624" stop-color="#0c0a0a"/><stop offset="0.653" stop-color="#0c0a0d"/><stop offset="0.682" stop-color="#120f21"/><stop offset="0.711" stop-color="#331559"/><stop offset="0.740" stop-color="#7f2571"/><stop offset="0.769" stop-color="#cc474f"/><stop offset="0.798" stop-color="#e86533"/><stop offset="0.827" stop-color="#cc474f"/><stop offset="0.855" stop-color="#7f2571"/><stop offset="0.884" stop-color="#331559"/><stop offset="0.913" stop-color="#120f21"/><stop offset="0.942" stop-color="#0c0a0d"/><stop offset="0.971" stop-color="#0c0a0a"/><stop offset="1.000" stop-color="#0c0a0a"/></radialGradient><radialGradient id="r62" gradientUnits="userSpaceOnUse" cx="0" cy="0" r="1.258"><stop offset="0.590" stop-color="#0c0a0a"/><stop offset="0.620" stop-color="#0c0a0a"/><stop offset="0.649" stop-color="#0c0a0d"/><stop offset="0.678" stop-color="#120f21"/><stop offset="0.707" stop-color="#37145d"/><stop offset="0.737" stop-color="#832770"/><stop offset="0.766" stop-color="#d44d49"/><stop offset="0.795" stop-color="#ee6f2b"/><stop offset="0.824" stop-color="#d44d49"/><stop offset="0.854" stop-color="#832770"/><stop offset="0.883" stop-color="#37145d"/><stop offset="0.912" stop-color="#120f21"/><stop offset="0.941" stop-color="#0c0a0d"/><stop offset="0.971" stop-color="#0c0a0a"/><stop offset="1.000" stop-color="#0c0a0a"/></radialGradient><radialGradient id="r63" gradientUnits="userSpaceOnUse" cx="0" cy="0" r="1.261"><stop offset="0.586" stop-color="#0c0a0a"/><stop offset="0.615" stop-color="#0c0a0a"/><stop offset="0.645" stop-color="#0c0a0d"/><stop offset="0.675" stop-color="#120f21"/><stop offset="0.704" stop-color="#38145f"/><stop offset="0.734" stop-color="#88286f"/><stop offset="0.763" stop-color="#db5442"/><stop offset="0.793" stop-color="#f27823"/><stop offset="0.822" stop-color="#db5442"/><stop offset="0.852" stop-color="#88286f"/><stop offset="0.882" stop-color="#38145f"/><stop offset="0.911" stop-color="#120f21"/><stop offset="0.941" stop-color="#0c0a0d"/><stop offset="0.970" stop-color="#0c0a0a"/><stop offset="1.000" stop-color="#0c0a0a"/></radialGradient><radialGradient id="r64" gradientUnits="userSpaceOnUse" cx="0" cy="0" r="1.265"><stop offset="0.581" stop-color="#0c0a0a"/><stop offset="0.611" stop-color="#0c0a0a"/><stop offset="0.641" stop-color="#0d0b0e"/><stop offset="0.671" stop-color="#130f23"/><stop offset="0.701" stop-color="#3c1362"/><stop offset="0.731" stop-color="#8e2a6e"/><stop offset="0.761" stop-color="#e05a3c"/><stop offset="0.791" stop-color="#f6821b"/><stop offset="0.821" stop-color="#e05a3c"/><stop offset="0.850" stop-color="#8e2a6e"/><stop offset="0.880" stop-color="#3c1362"/><stop offset="0.910" stop-color="#130f23"/><stop offset="0.940" stop-color="#0d0b0e"/><stop offset="0.970" stop-color="#0c0a0a"/><stop offset="1.000" stop-color="#0c0a0a"/></radialGradient><radialGradient id="r65" gradientUnits="userSpaceOnUse" cx="0" cy="0" r="1.268"><stop offset="0.577" stop-color="#0c0a0a"/><stop offset="0.607" stop-color="#0c0a0a"/><stop offset="0.637" stop-color="#0d0b0e"/><stop offset="0.668" stop-color="#130f23"/><stop offset="0.698" stop-color="#3d1363"/><stop offset="0.728" stop-color="#922c6d"/><stop offset="0.758" stop-color="#e56137"/><stop offset="0.788" stop-color="#f98d13"/><stop offset="0.819" stop-color="#e56137"/><stop offset="0.849" stop-color="#922c6d"/><stop offset="0.879" stop-color="#3d1363"/><stop offset="0.909" stop-color="#130f23"/><stop offset="0.940" stop-color="#0d0b0e"/><stop offset="0.970" stop-color="#0c0a0a"/><stop offset="1.000" stop-color="#0c0a0a"/></radialGradient><radialGradient id="r66" gradientUnits="userSpaceOnUse" cx="0" cy="0" r="1.272"><stop offset="0.573" stop-color="#0c0a0a"/><stop offset="0.603" stop-color="#0c0a0a"/><stop offset="0.634" stop-color="#0d0b0e"/><stop offset="0.664" stop-color="#141025"/><stop offset="0.695" stop-color="#3f1365"/><stop offset="0.725" stop-color="#972e6c"/><stop offset="0.756" stop-color="#ea6731"/><stop offset="0.786" stop-color="#fa960e"/><stop offset="0.817" stop-color="#ea6731"/><stop offset="0.847" stop-color="#972e6c"/><stop offset="0.878" stop-color="#3f1365"/><stop offset="0.908" stop-color="#141025"/><stop offset="0.939" stop-color="#0d0b0e"/><stop offset="0.969" stop-color="#0c0a0a"/><stop offset="1.000" stop-color="#0c0a0a"/></radialGradient><radialGradient id="r67" gradientUnits="userSpaceOnUse" cx="0" cy="0" r="1.275"><stop offset="0.569" stop-color="#0c0a0a"/><stop offset="0.600" stop-color="#0c0a0a"/><stop offset="0.630" stop-color="#0d0b0e"/><stop offset="0.661" stop-color="#141025"/><stop offset="0.692" stop-color="#421367"/><stop offset="0.723" stop-color="#9b2f6a"/><stop offset="0.754" stop-color="#ee6f2b"/><stop offset="0.784" stop-color="#fca10d"/><stop offset="0.815" stop-color="#ee6f2b"/><stop offset="0.846" stop-color="#9b2f6a"/><stop offset="0.877" stop-color="#421367"/><stop offset="0.908" stop-color="#141025"/><stop offset="0.938" stop-color="#0d0b0e"/><stop offset="0.969" stop-color="#0c0a0a"/><stop offset="1.000" stop-color="#0c0a0a"/></radialGradient><radialGradient id="r68" gradientUnits="userSpaceOnUse" cx="0" cy="0" r="1.278"><stop offset="0.565" stop-color="#0c0a0a"/><stop offset="0.596" stop-color="#0c0a0a"/><stop offset="0.627" stop-color="#0d0b0e"/><stop offset="0.658" stop-color="#151027"/><stop offset="0.689" stop-color="#441368"/><stop offset="0.721" stop-color="#9e3069"/><stop offset="0.752" stop-color="#f17526"/><stop offset="0.783" stop-color="#fcaa12"/><stop offset="0.814" stop-color="#f17526"/><stop offset="0.845" stop-color="#9e3069"/><stop offset="0.876" stop-color="#441368"/><stop offset="0.907" stop-color="#151027"/><stop offset="0.938" stop-color="#0d0b0e"/><stop offset="0.969" stop-color="#0c0a0a"/><stop offset="1.000" stop-color="#0c0a0a"/></radialGradient><radialGradient id="r69" gradientUnits="userSpaceOnUse" cx="0" cy="0" r="1.280"><stop offset="0.562" stop-color="#0c0a0a"/><stop offset="0.593" stop-color="#0c0a0a"/><stop offset="0.625" stop-color="#0d0b0e"/><stop offset="0.656" stop-color="#151027"/><stop offset="0.687" stop-color="#461369"/><stop offset="0.718" stop-color="#a33267"/><stop offset="0.750" stop-color="#f37b21"/><stop offset="0.781" stop-color="#fcb31a"/><stop offset="0.812" stop-color="#f37b21"/><stop offset="0.844" stop-color="#a33267"/><stop offset="0.875" stop-color="#461369"/><stop offset="0.906" stop-color="#151027"/><stop offset="0.937" stop-color="#0d0b0e"/><stop offset="0.969" stop-color="#0c0a0a"/><stop offset="1.000" stop-color="#0c0a0a"/></radialGradient><radialGradient id="r70" gradientUnits="userSpaceOnUse" cx="0" cy="0" r="1.283"><stop offset="0.559" stop-color="#0c0a0a"/><stop offset="0.590" stop-color="#0c0a0a"/><stop offset="0.622" stop-color="#0d0b0e"/><stop offset="0.653" stop-color="#151027"/><stop offset="0.685" stop-color="#47136a"/><stop offset="0.716" stop-color="#a63366"/><stop offset="0.748" stop-color="#f6821b"/><stop offset="0.779" stop-color="#fbbb22"/><stop offset="0.811" stop-color="#f6821b"/><stop offset="0.842" stop-color="#a63366"/><stop offset="0.874" stop-color="#47136a"/><stop offset="0.905" stop-color="#151027"/><stop offset="0.937" stop-color="#0d0b0e"/><stop offset="0.968" stop-color="#0c0a0a"/><stop offset="1.000" stop-color="#0c0a0a"/></radialGradient><radialGradient id="r71" gradientUnits="userSpaceOnUse" cx="0" cy="0" r="1.285"><stop offset="0.556" stop-color="#0c0a0a"/><stop offset="0.588" stop-color="#0c0a0a"/><stop offset="0.620" stop-color="#0d0b0e"/><stop offset="0.651" stop-color="#16112a"/><stop offset="0.683" stop-color="#49136b"/><stop offset="0.715" stop-color="#a93565"/><stop offset="0.746" stop-color="#f78718"/><stop offset="0.778" stop-color="#fbc22b"/><stop offset="0.810" stop-color="#f78718"/><stop offset="0.842" stop-color="#a93565"/><stop offset="0.873" stop-color="#49136b"/><stop offset="0.905" stop-color="#16112a"/><stop offset="0.937" stop-color="#0d0b0e"/><stop offset="0.968" stop-color="#0c0a0a"/><stop offset="1.000" stop-color="#0c0a0a"/></radialGradient><radialGradient id="r72" gradientUnits="userSpaceOnUse" cx="0" cy="0" r="1.287"><stop offset="0.554" stop-color="#0c0a0a"/><stop offset="0.586" stop-color="#0c0a0a"/><stop offset="0.618" stop-color="#0d0b0e"/><stop offset="0.650" stop-color="#16112a"/><stop offset="0.681" stop-color="#4a136c"/><stop offset="0.713" stop-color="#ac3663"/><stop offset="0.745" stop-color="#f88c14"/><stop offset="0.777" stop-color="#fac832"/><stop offset="0.809" stop-color="#f88c14"/><stop offset="0.841" stop-color="#ac3663"/><stop offset="0.873" stop-color="#4a136c"/><stop offset="0.904" stop-color="#16112a"/><stop offset="0.936" stop-color="#0d0b0e"/><stop offset="0.968" stop-color="#0c0a0a"/><stop offset="1.000" stop-color="#0c0a0a"/></radialGradient><radialGradient id="r73" gradientUnits="userSpaceOnUse" cx="0" cy="0" r="1.289"><stop offset="0.552" stop-color="#0c0a0a"/><stop offset="0.584" stop-color="#0c0a0a"/><stop offset="0.616" stop-color="#0d0b0e"/><stop offset="0.648" stop-color="#16112a"/><stop offset="0.680" stop-color="#4a136c"/><stop offset="0.712" stop-color="#ad3662"/><stop offset="0.744" stop-color="#f98f11"/><stop offset="0.776" stop-color="#f9cd3a"/><stop offset="0.808" stop-color="#f98f11"/><stop offset="0.840" stop-color="#ad3662"/><stop offset="0.872" stop-color="#4a136c"/><stop offset="0.904" stop-color="#16112a"/><stop offset="0.936" stop-color="#0d0b0e"/><stop offset="0.968" stop-color="#0c0a0a"/><stop offset="1.000" stop-color="#0c0a0a"/></radialGradient><radialGradient id="r74" gradientUnits="userSpaceOnUse" cx="0" cy="0" r="1.290"><stop offset="0.550" stop-color="#0c0a0a"/><stop offset="0.583" stop-color="#0c0a0a"/><stop offset="0.615" stop-color="#0d0b0e"/><stop offset="0.647" stop-color="#16112a"/><stop offset="0.679" stop-color="#4c146c"/><stop offset="0.711" stop-color="#b03861"/><stop offset="0.743" stop-color="#fa930f"/><stop offset="0.775" stop-color="#f8d13f"/><stop offset="0.807" stop-color="#fa930f"/><stop offset="0.839" stop-color="#b03861"/><stop offset="0.872" stop-color="#4c146c"/><stop offset="0.904" stop-color="#16112a"/><stop offset="0.936" stop-color="#0d0b0e"/><stop offset="0.968" stop-color="#0c0a0a"/><stop offset="1.000" stop-color="#0c0a0a"/></radialGradient><radialGradient id="r75" gradientUnits="userSpaceOnUse" cx="0" cy="0" r="1.291"><stop offset="0.549" stop-color="#0c0a0a"/><stop offset="0.581" stop-color="#0c0a0a"/><stop offset="0.614" stop-color="#0d0b0e"/><stop offset="0.646" stop-color="#16112a"/><stop offset="0.678" stop-color="#4c146c"/><stop offset="0.710" stop-color="#b03861"/><stop offset="0.742" stop-color="#fa960e"/><stop offset="0.775" stop-color="#f7d545"/><stop offset="0.807" stop-color="#fa960e"/><stop offset="0.839" stop-color="#b03861"/><stop offset="0.871" stop-color="#4c146c"/><stop offset="0.903" stop-color="#16112a"/><stop offset="0.936" stop-color="#0d0b0e"/><stop offset="0.968" stop-color="#0c0a0a"/><stop offset="1.000" stop-color="#0c0a0a"/></radialGradient><radialGradient id="r76" gradientUnits="userSpaceOnUse" cx="0" cy="0" r="1.292"><stop offset="0.548" stop-color="#0c0a0a"/><stop offset="0.581" stop-color="#0c0a0a"/><stop offset="0.613" stop-color="#0d0b0e"/><stop offset="0.645" stop-color="#16112a"/><stop offset="0.677" stop-color="#4c146c"/><stop offset="0.710" stop-color="#b23860"/><stop offset="0.742" stop-color="#fb980d"/><stop offset="0.774" stop-color="#f7d748"/><stop offset="0.806" stop-color="#fb980d"/><stop offset="0.839" stop-color="#b23860"/><stop offset="0.871" stop-color="#4c146c"/><stop offset="0.903" stop-color="#16112a"/><stop offset="0.935" stop-color="#0d0b0e"/><stop offset="0.968" stop-color="#0c0a0a"/><stop offset="1.000" stop-color="#0c0a0a"/></radialGradient><radialGradient id="r77" gradientUnits="userSpaceOnUse" cx="0" cy="0" r="1.292"><stop offset="0.548" stop-color="#0c0a0a"/><stop offset="0.580" stop-color="#0c0a0a"/><stop offset="0.613" stop-color="#0d0b0e"/><stop offset="0.645" stop-color="#16112a"/><stop offset="0.677" stop-color="#4c146c"/><stop offset="0.709" stop-color="#b23860"/><stop offset="0.742" stop-color="#fb980d"/><stop offset="0.774" stop-color="#f6d94a"/><stop offset="0.806" stop-color="#fb980d"/><stop offset="0.839" stop-color="#b23860"/><stop offset="0.871" stop-color="#4c146c"/><stop offset="0.903" stop-color="#16112a"/><stop offset="0.935" stop-color="#0d0b0e"/><stop offset="0.968" stop-color="#0c0a0a"/><stop offset="1.000" stop-color="#0c0a0a"/></radialGradient><clipPath id="cp78"><rect x="164.3" y="113.3" width="107.4" height="85.7"/></clipPath><radialGradient id="r79" gradientUnits="userSpaceOnUse" cx="0" cy="0" r="1.272"><stop offset="0.572" stop-color="#0c0a0a"/><stop offset="0.603" stop-color="#0c0a0a"/><stop offset="0.633" stop-color="#0d0b10"/><stop offset="0.664" stop-color="#191230"/><stop offset="0.694" stop-color="#591770"/><stop offset="0.725" stop-color="#cb4650"/><stop offset="0.756" stop-color="#f9cc37"/><stop offset="0.786" stop-color="#fcffa7"/><stop offset="0.817" stop-color="#f9cc37"/><stop offset="0.847" stop-color="#cb4650"/><stop offset="0.878" stop-color="#591770"/><stop offset="0.908" stop-color="#191230"/><stop offset="0.939" stop-color="#0d0b10"/><stop offset="0.969" stop-color="#0c0a0a"/><stop offset="1.000" stop-color="#0c0a0a"/></radialGradient><radialGradient id="r80" gradientUnits="userSpaceOnUse" cx="0" cy="0" r="1.272"><stop offset="0.572" stop-color="#0c0a0a"/><stop offset="0.602" stop-color="#0c0a0a"/><stop offset="0.633" stop-color="#0d0b10"/><stop offset="0.664" stop-color="#191230"/><stop offset="0.694" stop-color="#591770"/><stop offset="0.725" stop-color="#ca4651"/><stop offset="0.755" stop-color="#faca35"/><stop offset="0.786" stop-color="#fcffa7"/><stop offset="0.816" stop-color="#faca35"/><stop offset="0.847" stop-color="#ca4651"/><stop offset="0.878" stop-color="#591770"/><stop offset="0.908" stop-color="#191230"/><stop offset="0.939" stop-color="#0d0b10"/><stop offset="0.969" stop-color="#0c0a0a"/><stop offset="1.000" stop-color="#0c0a0a"/></radialGradient><radialGradient id="r81" gradientUnits="userSpaceOnUse" cx="0" cy="0" r="1.273"><stop offset="0.571" stop-color="#0c0a0a"/><stop offset="0.601" stop-color="#0c0a0a"/><stop offset="0.632" stop-color="#0d0b10"/><stop offset="0.663" stop-color="#18122e"/><stop offset="0.693" stop-color="#571670"/><stop offset="0.724" stop-color="#c74453"/><stop offset="0.755" stop-color="#fac42e"/><stop offset="0.785" stop-color="#fcffa7"/><stop offset="0.816" stop-color="#fac42e"/><stop offset="0.847" stop-color="#c74453"/><stop offset="0.877" stop-color="#571670"/><stop offset="0.908" stop-color="#18122e"/><stop offset="0.939" stop-color="#0d0b10"/><stop offset="0.969" stop-color="#0c0a0a"/><stop offset="1.000" stop-color="#0c0a0a"/></radialGradient><radialGradient id="r82" gradientUnits="userSpaceOnUse" cx="0" cy="0" r="1.275"><stop offset="0.569" stop-color="#0c0a0a"/><stop offset="0.600" stop-color="#0c0a0a"/><stop offset="0.631" stop-color="#0d0b10"/><stop offset="0.662" stop-color="#18122e"/><stop offset="0.692" stop-color="#56166f"/><stop offset="0.723" stop-color="#c34156"/><stop offset="0.754" stop-color="#fbbb22"/><stop offset="0.785" stop-color="#f8fb9c"/><stop offset="0.815" stop-color="#fbbb22"/><stop offset="0.846" stop-color="#c34156"/><stop offset="0.877" stop-color="#56166f"/><stop offset="0.908" stop-color="#18122e"/><stop offset="0.938" stop-color="#0d0b10"/><stop offset="0.969" stop-color="#0c0a0a"/><stop offset="1.000" stop-color="#0c0a0a"/></radialGradient><radialGradient id="r83" gradientUnits="userSpaceOnUse" cx="0" cy="0" r="1.276"><stop offset="0.567" stop-color="#0c0a0a"/><stop offset="0.598" stop-color="#0c0a0a"/><stop offset="0.629" stop-color="#0d0b10"/><stop offset="0.660" stop-color="#18122e"/><stop offset="0.691" stop-color="#52156f"/><stop offset="0.722" stop-color="#bd3e5a"/><stop offset="0.753" stop-color="#fcaf17"/><stop offset="0.784" stop-color="#f2f381"/><stop offset="0.815" stop-color="#fcaf17"/><stop offset="0.845" stop-color="#bd3e5a"/><stop offset="0.876" stop-color="#52156f"/><stop offset="0.907" stop-color="#18122e"/><stop offset="0.938" stop-color="#0d0b10"/><stop offset="0.969" stop-color="#0c0a0a"/><stop offset="1.000" stop-color="#0c0a0a"/></radialGradient><radialGradient id="r84" gradientUnits="userSpaceOnUse" cx="0" cy="0" r="1.278"><stop offset="0.565" stop-color="#0c0a0a"/><stop offset="0.596" stop-color="#0c0a0a"/><stop offset="0.627" stop-color="#0d0b10"/><stop offset="0.658" stop-color="#17112c"/><stop offset="0.689" stop-color="#4f146e"/><stop offset="0.720" stop-color="#b83b5d"/><stop offset="0.751" stop-color="#fca30d"/><stop offset="0.782" stop-color="#f3e661"/><stop offset="0.814" stop-color="#fca30d"/><stop offset="0.845" stop-color="#b83b5d"/><stop offset="0.876" stop-color="#4f146e"/><stop offset="0.907" stop-color="#17112c"/><stop offset="0.938" stop-color="#0d0b10"/><stop offset="0.969" stop-color="#0c0a0a"/><stop offset="1.000" stop-color="#0c0a0a"/></radialGradient><radialGradient id="r85" gradientUnits="userSpaceOnUse" cx="0" cy="0" r="1.280"><stop offset="0.562" stop-color="#0c0a0a"/><stop offset="0.594" stop-color="#0c0a0a"/><stop offset="0.625" stop-color="#0d0b0e"/><stop offset="0.656" stop-color="#16112a"/><stop offset="0.687" stop-color="#4c146c"/><stop offset="0.719" stop-color="#b03861"/><stop offset="0.750" stop-color="#fa940e"/><stop offset="0.781" stop-color="#f7d545"/><stop offset="0.812" stop-color="#fa940e"/><stop offset="0.844" stop-color="#b03861"/><stop offset="0.875" stop-color="#4c146c"/><stop offset="0.906" stop-color="#16112a"/><stop offset="0.937" stop-color="#0d0b0e"/><stop offset="0.969" stop-color="#0c0a0a"/><stop offset="1.000" stop-color="#0c0a0a"/></radialGradient><radialGradient id="r86" gradientUnits="userSpaceOnUse" cx="0" cy="0" r="1.282"><stop offset="0.560" stop-color="#0c0a0a"/><stop offset="0.591" stop-color="#0c0a0a"/><stop offset="0.623" stop-color="#0d0b0e"/><stop offset="0.654" stop-color="#16112a"/><stop offset="0.685" stop-color="#49136b"/><stop offset="0.717" stop-color="#a93565"/><stop offset="0.748" stop-color="#f78718"/><stop offset="0.780" stop-color="#fbc22b"/><stop offset="0.811" stop-color="#f78718"/><stop offset="0.843" stop-color="#a93565"/><stop offset="0.874" stop-color="#49136b"/><stop offset="0.906" stop-color="#16112a"/><stop offset="0.937" stop-color="#0d0b0e"/><stop offset="0.969" stop-color="#0c0a0a"/><stop offset="1.000" stop-color="#0c0a0a"/></radialGradient><radialGradient id="r87" gradientUnits="userSpaceOnUse" cx="0" cy="0" r="1.285"><stop offset="0.557" stop-color="#0c0a0a"/><stop offset="0.588" stop-color="#0c0a0a"/><stop offset="0.620" stop-color="#0d0b0e"/><stop offset="0.652" stop-color="#151027"/><stop offset="0.683" stop-color="#441368"/><stop offset="0.715" stop-color="#a13268"/><stop offset="0.747" stop-color="#f27823"/><stop offset="0.778" stop-color="#fcae15"/><stop offset="0.810" stop-color="#f27823"/><stop offset="0.842" stop-color="#a13268"/><stop offset="0.873" stop-color="#441368"/><stop offset="0.905" stop-color="#151027"/><stop offset="0.937" stop-color="#0d0b0e"/><stop offset="0.968" stop-color="#0c0a0a"/><stop offset="1.000" stop-color="#0c0a0a"/></radialGradient><radialGradient id="r88" gradientUnits="userSpaceOnUse" cx="0" cy="0" r="1.287"><stop offset="0.554" stop-color="#0c0a0a"/><stop offset="0.586" stop-color="#0c0a0a"/><stop offset="0.617" stop-color="#0d0b0e"/><stop offset="0.649" stop-color="#141025"/><stop offset="0.681" stop-color="#411366"/><stop offset="0.713" stop-color="#982e6b"/><stop offset="0.745" stop-color="#ec6a2e"/><stop offset="0.777" stop-color="#fb9a0d"/><stop offset="0.809" stop-color="#ec6a2e"/><stop offset="0.841" stop-color="#982e6b"/><stop offset="0.872" stop-color="#411366"/><stop offset="0.904" stop-color="#141025"/><stop offset="0.936" stop-color="#0d0b0e"/><stop offset="0.968" stop-color="#0c0a0a"/><stop offset="1.000" stop-color="#0c0a0a"/></radialGradient><radialGradient id="r89" gradientUnits="userSpaceOnUse" cx="0" cy="0" r="1.290"><stop offset="0.551" stop-color="#0c0a0a"/><stop offset="0.583" stop-color="#0c0a0a"/><stop offset="0.615" stop-color="#0d0b0e"/><stop offset="0.647" stop-color="#130f23"/><stop offset="0.679" stop-color="#3c1362"/><stop offset="0.711" stop-color="#8f2b6e"/><stop offset="0.743" stop-color="#e35e39"/><stop offset="0.775" stop-color="#f78816"/><stop offset="0.808" stop-color="#e35e39"/><stop offset="0.840" stop-color="#8f2b6e"/><stop offset="0.872" stop-color="#3c1362"/><stop offset="0.904" stop-color="#130f23"/><stop offset="0.936" stop-color="#0d0b0e"/><stop offset="0.968" stop-color="#0c0a0a"/><stop offset="1.000" stop-color="#0c0a0a"/></radialGradient><radialGradient id="r90" gradientUnits="userSpaceOnUse" cx="0" cy="0" r="1.292"><stop offset="0.548" stop-color="#0c0a0a"/><stop offset="0.580" stop-color="#0c0a0a"/><stop offset="0.613" stop-color="#0c0a0d"/><stop offset="0.645" stop-color="#120f21"/><stop offset="0.677" stop-color="#38145f"/><stop offset="0.709" stop-color="#88286f"/><stop offset="0.742" stop-color="#da5343"/><stop offset="0.774" stop-color="#f27823"/><stop offset="0.806" stop-color="#da5343"/><stop offset="0.839" stop-color="#88286f"/><stop offset="0.871" stop-color="#38145f"/><stop offset="0.903" stop-color="#120f21"/><stop offset="0.935" stop-color="#0c0a0d"/><stop offset="0.968" stop-color="#0c0a0a"/><stop offset="1.000" stop-color="#0c0a0a"/></radialGradient><radialGradient id="r91" gradientUnits="userSpaceOnUse" cx="0" cy="0" r="1.294"><stop offset="0.546" stop-color="#0c0a0a"/><stop offset="0.578" stop-color="#0c0a0a"/><stop offset="0.610" stop-color="#0c0a0d"/><stop offset="0.643" stop-color="#120f21"/><stop offset="0.675" stop-color="#35145b"/><stop offset="0.708" stop-color="#802671"/><stop offset="0.740" stop-color="#d04a4c"/><stop offset="0.773" stop-color="#eb6930"/><stop offset="0.805" stop-color="#d04a4c"/><stop offset="0.838" stop-color="#802671"/><stop offset="0.870" stop-color="#35145b"/><stop offset="0.903" stop-color="#120f21"/><stop offset="0.935" stop-color="#0c0a0d"/><stop offset="0.968" stop-color="#0c0a0a"/><stop offset="1.000" stop-color="#0c0a0a"/></radialGradient><radialGradient id="r92" gradientUnits="userSpaceOnUse" cx="0" cy="0" r="1.296"><stop offset="0.543" stop-color="#0c0a0a"/><stop offset="0.576" stop-color="#0c0a0a"/><stop offset="0.609" stop-color="#0c0a0d"/><stop offset="0.641" stop-color="#110e1f"/><stop offset="0.674" stop-color="#321557"/><stop offset="0.706" stop-color="#7a2372"/><stop offset="0.739" stop-color="#c74453"/><stop offset="0.772" stop-color="#e35e39"/><stop offset="0.804" stop-color="#c74453"/><stop offset="0.837" stop-color="#7a2372"/><stop offset="0.870" stop-color="#321557"/><stop offset="0.902" stop-color="#110e1f"/><stop offset="0.935" stop-color="#0c0a0d"/><stop offset="0.967" stop-color="#0c0a0a"/><stop offset="1.000" stop-color="#0c0a0a"/></radialGradient><radialGradient id="r93" gradientUnits="userSpaceOnUse" cx="0" cy="0" r="1.297"><stop offset="0.541" stop-color="#0c0a0a"/><stop offset="0.574" stop-color="#0c0a0a"/><stop offset="0.607" stop-color="#0c0a0d"/><stop offset="0.640" stop-color="#110e1f"/><stop offset="0.672" stop-color="#2e1553"/><stop offset="0.705" stop-color="#762272"/><stop offset="0.738" stop-color="#c04058"/><stop offset="0.771" stop-color="#dc5541"/><stop offset="0.803" stop-color="#c04058"/><stop offset="0.836" stop-color="#762272"/><stop offset="0.869" stop-color="#2e1553"/><stop offset="0.902" stop-color="#110e1f"/><stop offset="0.934" stop-color="#0c0a0d"/><stop offset="0.967" stop-color="#0c0a0a"/><stop offset="1.000" stop-color="#0c0a0a"/></radialGradient><radialGradient id="r94" gradientUnits="userSpaceOnUse" cx="0" cy="0" r="1.299"><stop offset="0.540" stop-color="#0c0a0a"/><stop offset="0.573" stop-color="#0c0a0a"/><stop offset="0.606" stop-color="#0c0a0d"/><stop offset="0.639" stop-color="#100e1d"/><stop offset="0.671" stop-color="#2d1551"/><stop offset="0.704" stop-color="#712072"/><stop offset="0.737" stop-color="#b93c5c"/><stop offset="0.770" stop-color="#d64f47"/><stop offset="0.803" stop-color="#b93c5c"/><stop offset="0.836" stop-color="#712072"/><stop offset="0.869" stop-color="#2d1551"/><stop offset="0.901" stop-color="#100e1d"/><stop offset="0.934" stop-color="#0c0a0d"/><stop offset="0.967" stop-color="#0c0a0a"/><stop offset="1.000" stop-color="#0c0a0a"/></radialGradient><radialGradient id="r95" gradientUnits="userSpaceOnUse" cx="0" cy="0" r="1.300"><stop offset="0.539" stop-color="#0c0a0a"/><stop offset="0.572" stop-color="#0c0a0a"/><stop offset="0.605" stop-color="#0c0a0d"/><stop offset="0.638" stop-color="#100e1d"/><stop offset="0.671" stop-color="#2b154f"/><stop offset="0.704" stop-color="#6e1f72"/><stop offset="0.737" stop-color="#b53a5f"/><stop offset="0.770" stop-color="#d14b4b"/><stop offset="0.802" stop-color="#b53a5f"/><stop offset="0.835" stop-color="#6e1f72"/><stop offset="0.868" stop-color="#2b154f"/><stop offset="0.901" stop-color="#100e1d"/><stop offset="0.934" stop-color="#0c0a0d"/><stop offset="0.967" stop-color="#0c0a0a"/><stop offset="1.000" stop-color="#0c0a0a"/></radialGradient><radialGradient id="r96" gradientUnits="userSpaceOnUse" cx="0" cy="0" r="1.300"><stop offset="0.539" stop-color="#0c0a0a"/><stop offset="0.571" stop-color="#0c0a0a"/><stop offset="0.604" stop-color="#0c0a0d"/><stop offset="0.637" stop-color="#100e1d"/><stop offset="0.670" stop-color="#2b154f"/><stop offset="0.703" stop-color="#6c1e72"/><stop offset="0.736" stop-color="#b23860"/><stop offset="0.769" stop-color="#d04a4c"/><stop offset="0.802" stop-color="#b23860"/><stop offset="0.835" stop-color="#6c1e72"/><stop offset="0.868" stop-color="#2b154f"/><stop offset="0.901" stop-color="#100e1d"/><stop offset="0.934" stop-color="#0c0a0d"/><stop offset="0.967" stop-color="#0c0a0a"/><stop offset="1.000" stop-color="#0c0a0a"/></radialGradient><radialGradient id="r97" gradientUnits="userSpaceOnUse" cx="0" cy="0" r="1.300"><stop offset="0.539" stop-color="#0c0a0a"/><stop offset="0.571" stop-color="#0c0a0a"/><stop offset="0.604" stop-color="#0c0a0d"/><stop offset="0.637" stop-color="#100e1d"/><stop offset="0.670" stop-color="#2b154f"/><stop offset="0.703" stop-color="#6c1e72"/><stop offset="0.736" stop-color="#b23860"/><stop offset="0.769" stop-color="#d04a4c"/><stop offset="0.802" stop-color="#b23860"/><stop offset="0.835" stop-color="#6c1e72"/><stop offset="0.868" stop-color="#2b154f"/><stop offset="0.901" stop-color="#100e1d"/><stop offset="0.934" stop-color="#0c0a0d"/><stop offset="0.967" stop-color="#0c0a0a"/><stop offset="1.000" stop-color="#0c0a0a"/></radialGradient><radialGradient id="r98" gradientUnits="userSpaceOnUse" cx="0" cy="0" r="1.300"><stop offset="0.539" stop-color="#0c0a0a"/><stop offset="0.572" stop-color="#0c0a0a"/><stop offset="0.605" stop-color="#0c0a0d"/><stop offset="0.638" stop-color="#100e1d"/><stop offset="0.671" stop-color="#2b154f"/><stop offset="0.704" stop-color="#6e1f72"/><stop offset="0.737" stop-color="#b53a5f"/><stop offset="0.770" stop-color="#d34c4a"/><stop offset="0.802" stop-color="#b53a5f"/><stop offset="0.835" stop-color="#6e1f72"/><stop offset="0.868" stop-color="#2b154f"/><stop offset="0.901" stop-color="#100e1d"/><stop offset="0.934" stop-color="#0c0a0d"/><stop offset="0.967" stop-color="#0c0a0a"/><stop offset="1.000" stop-color="#0c0a0a"/></radialGradient><radialGradient id="r99" gradientUnits="userSpaceOnUse" cx="0" cy="0" r="1.299"><stop offset="0.540" stop-color="#0c0a0a"/><stop offset="0.573" stop-color="#0c0a0a"/><stop offset="0.606" stop-color="#0c0a0d"/><stop offset="0.639" stop-color="#100e1d"/><stop offset="0.671" stop-color="#2d1551"/><stop offset="0.704" stop-color="#712072"/><stop offset="0.737" stop-color="#b93c5c"/><stop offset="0.770" stop-color="#d75145"/><stop offset="0.803" stop-color="#b93c5c"/><stop offset="0.836" stop-color="#712072"/><stop offset="0.869" stop-color="#2d1551"/><stop offset="0.901" stop-color="#100e1d"/><stop offset="0.934" stop-color="#0c0a0d"/><stop offset="0.967" stop-color="#0c0a0a"/><stop offset="1.000" stop-color="#0c0a0a"/></radialGradient><radialGradient id="r100" gradientUnits="userSpaceOnUse" cx="0" cy="0" r="1.297"><stop offset="0.541" stop-color="#0c0a0a"/><stop offset="0.574" stop-color="#0c0a0a"/><stop offset="0.607" stop-color="#0c0a0d"/><stop offset="0.640" stop-color="#110e1f"/><stop offset="0.672" stop-color="#301555"/><stop offset="0.705" stop-color="#762272"/><stop offset="0.738" stop-color="#c14057"/><stop offset="0.771" stop-color="#de583f"/><stop offset="0.803" stop-color="#c14057"/><stop offset="0.836" stop-color="#762272"/><stop offset="0.869" stop-color="#301555"/><stop offset="0.902" stop-color="#110e1f"/><stop offset="0.934" stop-color="#0c0a0d"/><stop offset="0.967" stop-color="#0c0a0a"/><stop offset="1.000" stop-color="#0c0a0a"/></radialGradient><radialGradient id="r101" gradientUnits="userSpaceOnUse" cx="0" cy="0" r="1.296"><stop offset="0.543" stop-color="#0c0a0a"/><stop offset="0.576" stop-color="#0c0a0a"/><stop offset="0.609" stop-color="#0c0a0d"/><stop offset="0.641" stop-color="#110e1f"/><stop offset="0.674" stop-color="#321557"/><stop offset="0.706" stop-color="#7c2471"/><stop offset="0.739" stop-color="#ca4651"/><stop offset="0.772" stop-color="#e56137"/><stop offset="0.804" stop-color="#ca4651"/><stop offset="0.837" stop-color="#7c2471"/><stop offset="0.870" stop-color="#321557"/><stop offset="0.902" stop-color="#110e1f"/><stop offset="0.935" stop-color="#0c0a0d"/><stop offset="0.967" stop-color="#0c0a0a"/><stop offset="1.000" stop-color="#0c0a0a"/></radialGradient><radialGradient id="r102" gradientUnits="userSpaceOnUse" cx="0" cy="0" r="1.294"><stop offset="0.546" stop-color="#0c0a0a"/><stop offset="0.578" stop-color="#0c0a0a"/><stop offset="0.610" stop-color="#0c0a0d"/><stop offset="0.643" stop-color="#120f21"/><stop offset="0.675" stop-color="#37145d"/><stop offset="0.708" stop-color="#832770"/><stop offset="0.740" stop-color="#d44d49"/><stop offset="0.773" stop-color="#ed6d2c"/><stop offset="0.805" stop-color="#d44d49"/><stop offset="0.838" stop-color="#832770"/><stop offset="0.870" stop-color="#37145d"/><stop offset="0.903" stop-color="#120f21"/><stop offset="0.935" stop-color="#0c0a0d"/><stop offset="0.968" stop-color="#0c0a0a"/><stop offset="1.000" stop-color="#0c0a0a"/></radialGradient><radialGradient id="r103" gradientUnits="userSpaceOnUse" cx="0" cy="0" r="1.292"><stop offset="0.548" stop-color="#0c0a0a"/><stop offset="0.580" stop-color="#0c0a0a"/><stop offset="0.613" stop-color="#0d0b0e"/><stop offset="0.645" stop-color="#130f23"/><stop offset="0.677" stop-color="#3a1460"/><stop offset="0.709" stop-color="#8b296f"/><stop offset="0.742" stop-color="#dd5640"/><stop offset="0.774" stop-color="#f47d1f"/><stop offset="0.806" stop-color="#dd5640"/><stop offset="0.839" stop-color="#8b296f"/><stop offset="0.871" stop-color="#3a1460"/><stop offset="0.903" stop-color="#130f23"/><stop offset="0.935" stop-color="#0d0b0e"/><stop offset="0.968" stop-color="#0c0a0a"/><stop offset="1.000" stop-color="#0c0a0a"/></radialGradient><radialGradient id="r104" gradientUnits="userSpaceOnUse" cx="0" cy="0" r="1.290"><stop offset="0.551" stop-color="#0c0a0a"/><stop offset="0.583" stop-color="#0c0a0a"/><stop offset="0.615" stop-color="#0d0b0e"/><stop offset="0.647" stop-color="#141025"/><stop offset="0.679" stop-color="#3d1363"/><stop offset="0.711" stop-color="#942d6c"/><stop offset="0.743" stop-color="#e76334"/><stop offset="0.775" stop-color="#f99110"/><stop offset="0.808" stop-color="#e76334"/><stop offset="0.840" stop-color="#942d6c"/><stop offset="0.872" stop-color="#3d1363"/><stop offset="0.904" stop-color="#141025"/><stop offset="0.936" stop-color="#0d0b0e"/><stop offset="0.968" stop-color="#0c0a0a"/><stop offset="1.000" stop-color="#0c0a0a"/></radialGradient><radialGradient id="r105" gradientUnits="userSpaceOnUse" cx="0" cy="0" r="1.287"><stop offset="0.554" stop-color="#0c0a0a"/><stop offset="0.586" stop-color="#0c0a0a"/><stop offset="0.617" stop-color="#0d0b0e"/><stop offset="0.649" stop-color="#141025"/><stop offset="0.681" stop-color="#421367"/><stop offset="0.713" stop-color="#9d3069"/><stop offset="0.745" stop-color="#ef7228"/><stop offset="0.777" stop-color="#fca40e"/><stop offset="0.809" stop-color="#ef7228"/><stop offset="0.841" stop-color="#9d3069"/><stop offset="0.872" stop-color="#421367"/><stop offset="0.904" stop-color="#141025"/><stop offset="0.936" stop-color="#0d0b0e"/><stop offset="0.968" stop-color="#0c0a0a"/><stop offset="1.000" stop-color="#0c0a0a"/></radialGradient><radialGradient id="r106" gradientUnits="userSpaceOnUse" cx="0" cy="0" r="1.285"><stop offset="0.557" stop-color="#0c0a0a"/><stop offset="0.588" stop-color="#0c0a0a"/><stop offset="0.620" stop-color="#0d0b0e"/><stop offset="0.652" stop-color="#151027"/><stop offset="0.683" stop-color="#47136a"/><stop offset="0.715" stop-color="#a63366"/><stop offset="0.747" stop-color="#f6821b"/><stop offset="0.778" stop-color="#fbbb22"/><stop offset="0.810" stop-color="#f6821b"/><stop offset="0.842" stop-color="#a63366"/><stop offset="0.873" stop-color="#47136a"/><stop offset="0.905" stop-color="#151027"/><stop offset="0.937" stop-color="#0d0b0e"/><stop offset="0.968" stop-color="#0c0a0a"/><stop offset="1.000" stop-color="#0c0a0a"/></radialGradient><radialGradient id="r107" gradientUnits="userSpaceOnUse" cx="0" cy="0" r="1.282"><stop offset="0.560" stop-color="#0c0a0a"/><stop offset="0.591" stop-color="#0c0a0a"/><stop offset="0.623" stop-color="#0d0b0e"/><stop offset="0.654" stop-color="#16112a"/><stop offset="0.685" stop-color="#4c146c"/><stop offset="0.717" stop-color="#af3762"/><stop offset="0.748" stop-color="#fa930f"/><stop offset="0.780" stop-color="#f8d13f"/><stop offset="0.811" stop-color="#fa930f"/><stop offset="0.843" stop-color="#af3762"/><stop offset="0.874" stop-color="#4c146c"/><stop offset="0.906" stop-color="#16112a"/><stop offset="0.937" stop-color="#0d0b0e"/><stop offset="0.969" stop-color="#0c0a0a"/><stop offset="1.000" stop-color="#0c0a0a"/></radialGradient><radialGradient id="r108" gradientUnits="userSpaceOnUse" cx="0" cy="0" r="1.280"><stop offset="0.562" stop-color="#0c0a0a"/><stop offset="0.594" stop-color="#0c0a0a"/><stop offset="0.625" stop-color="#0d0b10"/><stop offset="0.656" stop-color="#17112c"/><stop offset="0.687" stop-color="#4f146e"/><stop offset="0.719" stop-color="#b83b5d"/><stop offset="0.750" stop-color="#fca30d"/><stop offset="0.781" stop-color="#f3e661"/><stop offset="0.812" stop-color="#fca30d"/><stop offset="0.844" stop-color="#b83b5d"/><stop offset="0.875" stop-color="#4f146e"/><stop offset="0.906" stop-color="#17112c"/><stop offset="0.937" stop-color="#0d0b10"/><stop offset="0.969" stop-color="#0c0a0a"/><stop offset="1.000" stop-color="#0c0a0a"/></radialGradient><radialGradient id="r109" gradientUnits="userSpaceOnUse" cx="0" cy="0" r="1.278"><stop offset="0.565" stop-color="#0c0a0a"/><stop offset="0.596" stop-color="#0c0a0a"/><stop offset="0.627" stop-color="#0d0b10"/><stop offset="0.658" stop-color="#18122e"/><stop offset="0.689" stop-color="#52156f"/><stop offset="0.720" stop-color="#bf3f59"/><stop offset="0.751" stop-color="#fcb31a"/><stop offset="0.782" stop-color="#f3f589"/><stop offset="0.814" stop-color="#fcb31a"/><stop offset="0.845" stop-color="#bf3f59"/><stop offset="0.876" stop-color="#52156f"/><stop offset="0.907" stop-color="#18122e"/><stop offset="0.938" stop-color="#0d0b10"/><stop offset="0.969" stop-color="#0c0a0a"/><stop offset="1.000" stop-color="#0c0a0a"/></radialGradient><radialGradient id="r110" gradientUnits="userSpaceOnUse" cx="0" cy="0" r="1.276"><stop offset="0.567" stop-color="#0c0a0a"/><stop offset="0.598" stop-color="#0c0a0a"/><stop offset="0.629" stop-color="#0d0b10"/><stop offset="0.660" stop-color="#18122e"/><stop offset="0.691" stop-color="#571670"/><stop offset="0.722" stop-color="#c64354"/><stop offset="0.753" stop-color="#fbc029"/><stop offset="0.784" stop-color="#fcffa7"/><stop offset="0.815" stop-color="#fbc029"/><stop offset="0.845" stop-color="#c64354"/><stop offset="0.876" stop-color="#571670"/><stop offset="0.907" stop-color="#18122e"/><stop offset="0.938" stop-color="#0d0b10"/><stop offset="0.969" stop-color="#0c0a0a"/><stop offset="1.000" stop-color="#0c0a0a"/></radialGradient><radialGradient id="r111" gradientUnits="userSpaceOnUse" cx="0" cy="0" r="1.275"><stop offset="0.569" stop-color="#0c0a0a"/><stop offset="0.600" stop-color="#0c0a0a"/><stop offset="0.631" stop-color="#0d0b10"/><stop offset="0.662" stop-color="#191230"/><stop offset="0.692" stop-color="#591770"/><stop offset="0.723" stop-color="#cb4650"/><stop offset="0.754" stop-color="#f9cd3a"/><stop offset="0.785" stop-color="#fcffa7"/><stop offset="0.815" stop-color="#f9cd3a"/><stop offset="0.846" stop-color="#cb4650"/><stop offset="0.877" stop-color="#591770"/><stop offset="0.908" stop-color="#191230"/><stop offset="0.938" stop-color="#0d0b10"/><stop offset="0.969" stop-color="#0c0a0a"/><stop offset="1.000" stop-color="#0c0a0a"/></radialGradient><radialGradient id="r112" gradientUnits="userSpaceOnUse" cx="0" cy="0" r="1.273"><stop offset="0.571" stop-color="#0c0a0a"/><stop offset="0.601" stop-color="#0c0a0a"/><stop offset="0.632" stop-color="#0d0b10"/><stop offset="0.663" stop-color="#191230"/><stop offset="0.693" stop-color="#5c1871"/><stop offset="0.724" stop-color="#cf494d"/><stop offset="0.755" stop-color="#f7d748"/><stop offset="0.785" stop-color="#fcffa7"/><stop offset="0.816" stop-color="#f7d748"/><stop offset="0.847" stop-color="#cf494d"/><stop offset="0.877" stop-color="#5c1871"/><stop offset="0.908" stop-color="#191230"/><stop offset="0.939" stop-color="#0d0b10"/><stop offset="0.969" stop-color="#0c0a0a"/><stop offset="1.000" stop-color="#0c0a0a"/></radialGradient><radialGradient id="r113" gradientUnits="userSpaceOnUse" cx="0" cy="0" r="1.272"><stop offset="0.572" stop-color="#0c0a0a"/><stop offset="0.602" stop-color="#0c0a0a"/><stop offset="0.633" stop-color="#0d0b10"/><stop offset="0.664" stop-color="#1b1333"/><stop offset="0.694" stop-color="#5d1971"/><stop offset="0.725" stop-color="#d14b4b"/><stop offset="0.755" stop-color="#f5dc51"/><stop offset="0.786" stop-color="#fcffa7"/><stop offset="0.816" stop-color="#f5dc51"/><stop offset="0.847" stop-color="#d14b4b"/><stop offset="0.878" stop-color="#5d1971"/><stop offset="0.908" stop-color="#1b1333"/><stop offset="0.939" stop-color="#0d0b10"/><stop offset="0.969" stop-color="#0c0a0a"/><stop offset="1.000" stop-color="#0c0a0a"/></radialGradient><radialGradient id="r114" gradientUnits="userSpaceOnUse" cx="0" cy="0" r="1.272"><stop offset="0.572" stop-color="#0c0a0a"/><stop offset="0.603" stop-color="#0c0a0a"/><stop offset="0.633" stop-color="#0d0b10"/><stop offset="0.664" stop-color="#1b1333"/><stop offset="0.694" stop-color="#5d1971"/><stop offset="0.725" stop-color="#d34c4a"/><stop offset="0.756" stop-color="#f4e057"/><stop offset="0.786" stop-color="#fcffa7"/><stop offset="0.817" stop-color="#f4e057"/><stop offset="0.847" stop-color="#d34c4a"/><stop offset="0.878" stop-color="#5d1971"/><stop offset="0.908" stop-color="#1b1333"/><stop offset="0.939" stop-color="#0d0b10"/><stop offset="0.969" stop-color="#0c0a0a"/><stop offset="1.000" stop-color="#0c0a0a"/></radialGradient><radialGradient id="r115" gradientUnits="userSpaceOnUse" cx="0" cy="0" r="1.272"><stop offset="0.572" stop-color="#0c0a0a"/><stop offset="0.603" stop-color="#0c0a0a"/><stop offset="0.633" stop-color="#0d0b10"/><stop offset="0.664" stop-color="#1b1333"/><stop offset="0.694" stop-color="#5d1971"/><stop offset="0.725" stop-color="#d34c4a"/><stop offset="0.756" stop-color="#f4e057"/><stop offset="0.786" stop-color="#fcffa7"/><stop offset="0.817" stop-color="#f4e057"/><stop offset="0.847" stop-color="#d34c4a"/><stop offset="0.878" stop-color="#5d1971"/><stop offset="0.908" stop-color="#1b1333"/><stop offset="0.939" stop-color="#0d0b10"/><stop offset="0.969" stop-color="#0c0a0a"/><stop offset="1.000" stop-color="#0c0a0a"/></radialGradient><radialGradient id="r116" gradientUnits="userSpaceOnUse" cx="0" cy="0" r="1.272"><stop offset="0.572" stop-color="#0c0a0a"/><stop offset="0.602" stop-color="#0c0a0a"/><stop offset="0.633" stop-color="#0d0b10"/><stop offset="0.664" stop-color="#1b1333"/><stop offset="0.694" stop-color="#5d1971"/><stop offset="0.725" stop-color="#d14b4b"/><stop offset="0.755" stop-color="#f5dc51"/><stop offset="0.786" stop-color="#fcffa7"/><stop offset="0.816" stop-color="#f5dc51"/><stop offset="0.847" stop-color="#d14b4b"/><stop offset="0.878" stop-color="#5d1971"/><stop offset="0.908" stop-color="#1b1333"/><stop offset="0.939" stop-color="#0d0b10"/><stop offset="0.969" stop-color="#0c0a0a"/><stop offset="1.000" stop-color="#0c0a0a"/></radialGradient><radialGradient id="r117" gradientUnits="userSpaceOnUse" cx="0" cy="0" r="1.273"><stop offset="0.571" stop-color="#0c0a0a"/><stop offset="0.601" stop-color="#0c0a0a"/><stop offset="0.632" stop-color="#0d0b10"/><stop offset="0.663" stop-color="#191230"/><stop offset="0.693" stop-color="#5c1871"/><stop offset="0.724" stop-color="#cf494d"/><stop offset="0.755" stop-color="#f7d748"/><stop offset="0.785" stop-color="#fcffa7"/><stop offset="0.816" stop-color="#f7d748"/><stop offset="0.847" stop-color="#cf494d"/><stop offset="0.877" stop-color="#5c1871"/><stop offset="0.908" stop-color="#191230"/><stop offset="0.939" stop-color="#0d0b10"/><stop offset="0.969" stop-color="#0c0a0a"/><stop offset="1.000" stop-color="#0c0a0a"/></radialGradient><radialGradient id="r118" gradientUnits="userSpaceOnUse" cx="0" cy="0" r="1.275"><stop offset="0.569" stop-color="#0c0a0a"/><stop offset="0.600" stop-color="#0c0a0a"/><stop offset="0.631" stop-color="#0d0b10"/><stop offset="0.662" stop-color="#191230"/><stop offset="0.692" stop-color="#591770"/><stop offset="0.723" stop-color="#cb4650"/><stop offset="0.754" stop-color="#f9cd3a"/><stop offset="0.785" stop-color="#fcffa7"/><stop offset="0.815" stop-color="#f9cd3a"/><stop offset="0.846" stop-color="#cb4650"/><stop offset="0.877" stop-color="#591770"/><stop offset="0.908" stop-color="#191230"/><stop offset="0.938" stop-color="#0d0b10"/><stop offset="0.969" stop-color="#0c0a0a"/><stop offset="1.000" stop-color="#0c0a0a"/></radialGradient><radialGradient id="r119" gradientUnits="userSpaceOnUse" cx="0" cy="0" r="1.276"><stop offset="0.567" stop-color="#0c0a0a"/><stop offset="0.598" stop-color="#0c0a0a"/><stop offset="0.629" stop-color="#0d0b10"/><stop offset="0.660" stop-color="#18122e"/><stop offset="0.691" stop-color="#571670"/><stop offset="0.722" stop-color="#c64354"/><stop offset="0.753" stop-color="#fbc029"/><stop offset="0.784" stop-color="#fcffa7"/><stop offset="0.815" stop-color="#fbc029"/><stop offset="0.845" stop-color="#c64354"/><stop offset="0.876" stop-color="#571670"/><stop offset="0.907" stop-color="#18122e"/><stop offset="0.938" stop-color="#0d0b10"/><stop offset="0.969" stop-color="#0c0a0a"/><stop offset="1.000" stop-color="#0c0a0a"/></radialGradient><radialGradient id="r120" gradientUnits="userSpaceOnUse" cx="0" cy="0" r="1.278"><stop offset="0.565" stop-color="#0c0a0a"/><stop offset="0.596" stop-color="#0c0a0a"/><stop offset="0.627" stop-color="#0d0b10"/><stop offset="0.658" stop-color="#18122e"/><stop offset="0.689" stop-color="#52156f"/><stop offset="0.720" stop-color="#bf3f59"/><stop offset="0.751" stop-color="#fcb31a"/><stop offset="0.782" stop-color="#f3f589"/><stop offset="0.814" stop-color="#fcb31a"/><stop offset="0.845" stop-color="#bf3f59"/><stop offset="0.876" stop-color="#52156f"/><stop offset="0.907" stop-color="#18122e"/><stop offset="0.938" stop-color="#0d0b10"/><stop offset="0.969" stop-color="#0c0a0a"/><stop offset="1.000" stop-color="#0c0a0a"/></radialGradient><radialGradient id="r121" gradientUnits="userSpaceOnUse" cx="0" cy="0" r="1.280"><stop offset="0.562" stop-color="#0c0a0a"/><stop offset="0.594" stop-color="#0c0a0a"/><stop offset="0.625" stop-color="#0d0b10"/><stop offset="0.656" stop-color="#17112c"/><stop offset="0.687" stop-color="#4f146e"/><stop offset="0.719" stop-color="#b83b5d"/><stop offset="0.750" stop-color="#fca30d"/><stop offset="0.781" stop-color="#f3e661"/><stop offset="0.812" stop-color="#fca30d"/><stop offset="0.844" stop-color="#b83b5d"/><stop offset="0.875" stop-color="#4f146e"/><stop offset="0.906" stop-color="#17112c"/><stop offset="0.937" stop-color="#0d0b10"/><stop offset="0.969" stop-color="#0c0a0a"/><stop offset="1.000" stop-color="#0c0a0a"/></radialGradient><radialGradient id="r122" gradientUnits="userSpaceOnUse" cx="0" cy="0" r="1.282"><stop offset="0.560" stop-color="#0c0a0a"/><stop offset="0.591" stop-color="#0c0a0a"/><stop offset="0.623" stop-color="#0d0b0e"/><stop offset="0.654" stop-color="#16112a"/><stop offset="0.685" stop-color="#4c146c"/><stop offset="0.717" stop-color="#af3762"/><stop offset="0.748" stop-color="#fa930f"/><stop offset="0.780" stop-color="#f8d13f"/><stop offset="0.811" stop-color="#fa930f"/><stop offset="0.843" stop-color="#af3762"/><stop offset="0.874" stop-color="#4c146c"/><stop offset="0.906" stop-color="#16112a"/><stop offset="0.937" stop-color="#0d0b0e"/><stop offset="0.969" stop-color="#0c0a0a"/><stop offset="1.000" stop-color="#0c0a0a"/></radialGradient><radialGradient id="r123" gradientUnits="userSpaceOnUse" cx="0" cy="0" r="1.285"><stop offset="0.557" stop-color="#0c0a0a"/><stop offset="0.588" stop-color="#0c0a0a"/><stop offset="0.620" stop-color="#0d0b0e"/><stop offset="0.652" stop-color="#151027"/><stop offset="0.683" stop-color="#47136a"/><stop offset="0.715" stop-color="#a63366"/><stop offset="0.747" stop-color="#f6821b"/><stop offset="0.778" stop-color="#fbbb22"/><stop offset="0.810" stop-color="#f6821b"/><stop offset="0.842" stop-color="#a63366"/><stop offset="0.873" stop-color="#47136a"/><stop offset="0.905" stop-color="#151027"/><stop offset="0.937" stop-color="#0d0b0e"/><stop offset="0.968" stop-color="#0c0a0a"/><stop offset="1.000" stop-color="#0c0a0a"/></radialGradient><radialGradient id="r124" gradientUnits="userSpaceOnUse" cx="0" cy="0" r="1.287"><stop offset="0.554" stop-color="#0c0a0a"/><stop offset="0.586" stop-color="#0c0a0a"/><stop offset="0.617" stop-color="#0d0b0e"/><stop offset="0.649" stop-color="#141025"/><stop offset="0.681" stop-color="#421367"/><stop offset="0.713" stop-color="#9d3069"/><stop offset="0.745" stop-color="#ef7228"/><stop offset="0.777" stop-color="#fca40e"/><stop offset="0.809" stop-color="#ef7228"/><stop offset="0.841" stop-color="#9d3069"/><stop offset="0.872" stop-color="#421367"/><stop offset="0.904" stop-color="#141025"/><stop offset="0.936" stop-color="#0d0b0e"/><stop offset="0.968" stop-color="#0c0a0a"/><stop offset="1.000" stop-color="#0c0a0a"/></radialGradient><radialGradient id="r125" gradientUnits="userSpaceOnUse" cx="0" cy="0" r="1.290"><stop offset="0.551" stop-color="#0c0a0a"/><stop offset="0.583" stop-color="#0c0a0a"/><stop offset="0.615" stop-color="#0d0b0e"/><stop offset="0.647" stop-color="#141025"/><stop offset="0.679" stop-color="#3d1363"/><stop offset="0.711" stop-color="#942d6c"/><stop offset="0.743" stop-color="#e76334"/><stop offset="0.775" stop-color="#f99110"/><stop offset="0.808" stop-color="#e76334"/><stop offset="0.840" stop-color="#942d6c"/><stop offset="0.872" stop-color="#3d1363"/><stop offset="0.904" stop-color="#141025"/><stop offset="0.936" stop-color="#0d0b0e"/><stop offset="0.968" stop-color="#0c0a0a"/><stop offset="1.000" stop-color="#0c0a0a"/></radialGradient><radialGradient id="r126" gradientUnits="userSpaceOnUse" cx="0" cy="0" r="1.292"><stop offset="0.548" stop-color="#0c0a0a"/><stop offset="0.580" stop-color="#0c0a0a"/><stop offset="0.613" stop-color="#0d0b0e"/><stop offset="0.645" stop-color="#130f23"/><stop offset="0.677" stop-color="#3a1460"/><stop offset="0.709" stop-color="#8b296f"/><stop offset="0.742" stop-color="#dd5640"/><stop offset="0.774" stop-color="#f47d1f"/><stop offset="0.806" stop-color="#dd5640"/><stop offset="0.839" stop-color="#8b296f"/><stop offset="0.871" stop-color="#3a1460"/><stop offset="0.903" stop-color="#130f23"/><stop offset="0.935" stop-color="#0d0b0e"/><stop offset="0.968" stop-color="#0c0a0a"/><stop offset="1.000" stop-color="#0c0a0a"/></radialGradient><radialGradient id="r127" gradientUnits="userSpaceOnUse" cx="0" cy="0" r="1.294"><stop offset="0.546" stop-color="#0c0a0a"/><stop offset="0.578" stop-color="#0c0a0a"/><stop offset="0.610" stop-color="#0c0a0d"/><stop offset="0.643" stop-color="#120f21"/><stop offset="0.675" stop-color="#37145d"/><stop offset="0.708" stop-color="#832770"/><stop offset="0.740" stop-color="#d44d49"/><stop offset="0.773" stop-color="#ed6d2c"/><stop offset="0.805" stop-color="#d44d49"/><stop offset="0.838" stop-color="#832770"/><stop offset="0.870" stop-color="#37145d"/><stop offset="0.903" stop-color="#120f21"/><stop offset="0.935" stop-color="#0c0a0d"/><stop offset="0.968" stop-color="#0c0a0a"/><stop offset="1.000" stop-color="#0c0a0a"/></radialGradient><radialGradient id="r128" gradientUnits="userSpaceOnUse" cx="0" cy="0" r="1.296"><stop offset="0.543" stop-color="#0c0a0a"/><stop offset="0.576" stop-color="#0c0a0a"/><stop offset="0.609" stop-color="#0c0a0d"/><stop offset="0.641" stop-color="#110e1f"/><stop offset="0.674" stop-color="#321557"/><stop offset="0.706" stop-color="#7c2471"/><stop offset="0.739" stop-color="#ca4651"/><stop offset="0.772" stop-color="#e56137"/><stop offset="0.804" stop-color="#ca4651"/><stop offset="0.837" stop-color="#7c2471"/><stop offset="0.870" stop-color="#321557"/><stop offset="0.902" stop-color="#110e1f"/><stop offset="0.935" stop-color="#0c0a0d"/><stop offset="0.967" stop-color="#0c0a0a"/><stop offset="1.000" stop-color="#0c0a0a"/></radialGradient><radialGradient id="r129" gradientUnits="userSpaceOnUse" cx="0" cy="0" r="1.297"><stop offset="0.541" stop-color="#0c0a0a"/><stop offset="0.574" stop-color="#0c0a0a"/><stop offset="0.607" stop-color="#0c0a0d"/><stop offset="0.640" stop-color="#110e1f"/><stop offset="0.672" stop-color="#301555"/><stop offset="0.705" stop-color="#762272"/><stop offset="0.738" stop-color="#c14057"/><stop offset="0.771" stop-color="#de583f"/><stop offset="0.803" stop-color="#c14057"/><stop offset="0.836" stop-color="#762272"/><stop offset="0.869" stop-color="#301555"/><stop offset="0.902" stop-color="#110e1f"/><stop offset="0.934" stop-color="#0c0a0d"/><stop offset="0.967" stop-color="#0c0a0a"/><stop offset="1.000" stop-color="#0c0a0a"/></radialGradient><radialGradient id="r130" gradientUnits="userSpaceOnUse" cx="0" cy="0" r="1.299"><stop offset="0.540" stop-color="#0c0a0a"/><stop offset="0.573" stop-color="#0c0a0a"/><stop offset="0.606" stop-color="#0c0a0d"/><stop offset="0.639" stop-color="#100e1d"/><stop offset="0.671" stop-color="#2d1551"/><stop offset="0.704" stop-color="#712072"/><stop offset="0.737" stop-color="#b93c5c"/><stop offset="0.770" stop-color="#d75145"/><stop offset="0.803" stop-color="#b93c5c"/><stop offset="0.836" stop-color="#712072"/><stop offset="0.869" stop-color="#2d1551"/><stop offset="0.901" stop-color="#100e1d"/><stop offset="0.934" stop-color="#0c0a0d"/><stop offset="0.967" stop-color="#0c0a0a"/><stop offset="1.000" stop-color="#0c0a0a"/></radialGradient><radialGradient id="r131" gradientUnits="userSpaceOnUse" cx="0" cy="0" r="1.300"><stop offset="0.539" stop-color="#0c0a0a"/><stop offset="0.572" stop-color="#0c0a0a"/><stop offset="0.605" stop-color="#0c0a0d"/><stop offset="0.638" stop-color="#100e1d"/><stop offset="0.671" stop-color="#2b154f"/><stop offset="0.704" stop-color="#6e1f72"/><stop offset="0.737" stop-color="#b53a5f"/><stop offset="0.770" stop-color="#d34c4a"/><stop offset="0.802" stop-color="#b53a5f"/><stop offset="0.835" stop-color="#6e1f72"/><stop offset="0.868" stop-color="#2b154f"/><stop offset="0.901" stop-color="#100e1d"/><stop offset="0.934" stop-color="#0c0a0d"/><stop offset="0.967" stop-color="#0c0a0a"/><stop offset="1.000" stop-color="#0c0a0a"/></radialGradient><radialGradient id="r132" gradientUnits="userSpaceOnUse" cx="0" cy="0" r="1.300"><stop offset="0.539" stop-color="#0c0a0a"/><stop offset="0.571" stop-color="#0c0a0a"/><stop offset="0.604" stop-color="#0c0a0d"/><stop offset="0.637" stop-color="#100e1d"/><stop offset="0.670" stop-color="#2b154f"/><stop offset="0.703" stop-color="#6c1e72"/><stop offset="0.736" stop-color="#b23860"/><stop offset="0.769" stop-color="#d04a4c"/><stop offset="0.802" stop-color="#b23860"/><stop offset="0.835" stop-color="#6c1e72"/><stop offset="0.868" stop-color="#2b154f"/><stop offset="0.901" stop-color="#100e1d"/><stop offset="0.934" stop-color="#0c0a0d"/><stop offset="0.967" stop-color="#0c0a0a"/><stop offset="1.000" stop-color="#0c0a0a"/></radialGradient><radialGradient id="r133" gradientUnits="userSpaceOnUse" cx="0" cy="0" r="1.300"><stop offset="0.539" stop-color="#0c0a0a"/><stop offset="0.571" stop-color="#0c0a0a"/><stop offset="0.604" stop-color="#0c0a0d"/><stop offset="0.637" stop-color="#100e1d"/><stop offset="0.670" stop-color="#2b154f"/><stop offset="0.703" stop-color="#6c1e72"/><stop offset="0.736" stop-color="#b23860"/><stop offset="0.769" stop-color="#d04a4c"/><stop offset="0.802" stop-color="#b23860"/><stop offset="0.835" stop-color="#6c1e72"/><stop offset="0.868" stop-color="#2b154f"/><stop offset="0.901" stop-color="#100e1d"/><stop offset="0.934" stop-color="#0c0a0d"/><stop offset="0.967" stop-color="#0c0a0a"/><stop offset="1.000" stop-color="#0c0a0a"/></radialGradient><radialGradient id="r134" gradientUnits="userSpaceOnUse" cx="0" cy="0" r="1.300"><stop offset="0.539" stop-color="#0c0a0a"/><stop offset="0.572" stop-color="#0c0a0a"/><stop offset="0.605" stop-color="#0c0a0d"/><stop offset="0.638" stop-color="#100e1d"/><stop offset="0.671" stop-color="#2b154f"/><stop offset="0.704" stop-color="#6e1f72"/><stop offset="0.737" stop-color="#b53a5f"/><stop offset="0.770" stop-color="#d14b4b"/><stop offset="0.802" stop-color="#b53a5f"/><stop offset="0.835" stop-color="#6e1f72"/><stop offset="0.868" stop-color="#2b154f"/><stop offset="0.901" stop-color="#100e1d"/><stop offset="0.934" stop-color="#0c0a0d"/><stop offset="0.967" stop-color="#0c0a0a"/><stop offset="1.000" stop-color="#0c0a0a"/></radialGradient><radialGradient id="r135" gradientUnits="userSpaceOnUse" cx="0" cy="0" r="1.299"><stop offset="0.540" stop-color="#0c0a0a"/><stop offset="0.573" stop-color="#0c0a0a"/><stop offset="0.606" stop-color="#0c0a0d"/><stop offset="0.639" stop-color="#100e1d"/><stop offset="0.671" stop-color="#2d1551"/><stop offset="0.704" stop-color="#712072"/><stop offset="0.737" stop-color="#b93c5c"/><stop offset="0.770" stop-color="#d64f47"/><stop offset="0.803" stop-color="#b93c5c"/><stop offset="0.836" stop-color="#712072"/><stop offset="0.869" stop-color="#2d1551"/><stop offset="0.901" stop-color="#100e1d"/><stop offset="0.934" stop-color="#0c0a0d"/><stop offset="0.967" stop-color="#0c0a0a"/><stop offset="1.000" stop-color="#0c0a0a"/></radialGradient><radialGradient id="r136" gradientUnits="userSpaceOnUse" cx="0" cy="0" r="1.297"><stop offset="0.541" stop-color="#0c0a0a"/><stop offset="0.574" stop-color="#0c0a0a"/><stop offset="0.607" stop-color="#0c0a0d"/><stop offset="0.640" stop-color="#110e1f"/><stop offset="0.672" stop-color="#2e1553"/><stop offset="0.705" stop-color="#762272"/><stop offset="0.738" stop-color="#c04058"/><stop offset="0.771" stop-color="#dc5541"/><stop offset="0.803" stop-color="#c04058"/><stop offset="0.836" stop-color="#762272"/><stop offset="0.869" stop-color="#2e1553"/><stop offset="0.902" stop-color="#110e1f"/><stop offset="0.934" stop-color="#0c0a0d"/><stop offset="0.967" stop-color="#0c0a0a"/><stop offset="1.000" stop-color="#0c0a0a"/></radialGradient><radialGradient id="r137" gradientUnits="userSpaceOnUse" cx="0" cy="0" r="1.296"><stop offset="0.543" stop-color="#0c0a0a"/><stop offset="0.576" stop-color="#0c0a0a"/><stop offset="0.609" stop-color="#0c0a0d"/><stop offset="0.641" stop-color="#110e1f"/><stop offset="0.674" stop-color="#321557"/><stop offset="0.706" stop-color="#7a2372"/><stop offset="0.739" stop-color="#c74453"/><stop offset="0.772" stop-color="#e35e39"/><stop offset="0.804" stop-color="#c74453"/><stop offset="0.837" stop-color="#7a2372"/><stop offset="0.870" stop-color="#321557"/><stop offset="0.902" stop-color="#110e1f"/><stop offset="0.935" stop-color="#0c0a0d"/><stop offset="0.967" stop-color="#0c0a0a"/><stop offset="1.000" stop-color="#0c0a0a"/></radialGradient><radialGradient id="r138" gradientUnits="userSpaceOnUse" cx="0" cy="0" r="1.294"><stop offset="0.546" stop-color="#0c0a0a"/><stop offset="0.578" stop-color="#0c0a0a"/><stop offset="0.610" stop-color="#0c0a0d"/><stop offset="0.643" stop-color="#120f21"/><stop offset="0.675" stop-color="#35145b"/><stop offset="0.708" stop-color="#802671"/><stop offset="0.740" stop-color="#d04a4c"/><stop offset="0.773" stop-color="#eb6930"/><stop offset="0.805" stop-color="#d04a4c"/><stop offset="0.838" stop-color="#802671"/><stop offset="0.870" stop-color="#35145b"/><stop offset="0.903" stop-color="#120f21"/><stop offset="0.935" stop-color="#0c0a0d"/><stop offset="0.968" stop-color="#0c0a0a"/><stop offset="1.000" stop-color="#0c0a0a"/></radialGradient><radialGradient id="r139" gradientUnits="userSpaceOnUse" cx="0" cy="0" r="1.292"><stop offset="0.548" stop-color="#0c0a0a"/><stop offset="0.580" stop-color="#0c0a0a"/><stop offset="0.613" stop-color="#0c0a0d"/><stop offset="0.645" stop-color="#120f21"/><stop offset="0.677" stop-color="#38145f"/><stop offset="0.709" stop-color="#88286f"/><stop offset="0.742" stop-color="#da5343"/><stop offset="0.774" stop-color="#f27823"/><stop offset="0.806" stop-color="#da5343"/><stop offset="0.839" stop-color="#88286f"/><stop offset="0.871" stop-color="#38145f"/><stop offset="0.903" stop-color="#120f21"/><stop offset="0.935" stop-color="#0c0a0d"/><stop offset="0.968" stop-color="#0c0a0a"/><stop offset="1.000" stop-color="#0c0a0a"/></radialGradient><radialGradient id="r140" gradientUnits="userSpaceOnUse" cx="0" cy="0" r="1.290"><stop offset="0.551" stop-color="#0c0a0a"/><stop offset="0.583" stop-color="#0c0a0a"/><stop offset="0.615" stop-color="#0d0b0e"/><stop offset="0.647" stop-color="#130f23"/><stop offset="0.679" stop-color="#3c1362"/><stop offset="0.711" stop-color="#8f2b6e"/><stop offset="0.743" stop-color="#e35e39"/><stop offset="0.775" stop-color="#f78816"/><stop offset="0.808" stop-color="#e35e39"/><stop offset="0.840" stop-color="#8f2b6e"/><stop offset="0.872" stop-color="#3c1362"/><stop offset="0.904" stop-color="#130f23"/><stop offset="0.936" stop-color="#0d0b0e"/><stop offset="0.968" stop-color="#0c0a0a"/><stop offset="1.000" stop-color="#0c0a0a"/></radialGradient><radialGradient id="r141" gradientUnits="userSpaceOnUse" cx="0" cy="0" r="1.287"><stop offset="0.554" stop-color="#0c0a0a"/><stop offset="0.586" stop-color="#0c0a0a"/><stop offset="0.617" stop-color="#0d0b0e"/><stop offset="0.649" stop-color="#141025"/><stop offset="0.681" stop-color="#411366"/><stop offset="0.713" stop-color="#982e6b"/><stop offset="0.745" stop-color="#ec6a2e"/><stop offset="0.777" stop-color="#fb9a0d"/><stop offset="0.809" stop-color="#ec6a2e"/><stop offset="0.841" stop-color="#982e6b"/><stop offset="0.872" stop-color="#411366"/><stop offset="0.904" stop-color="#141025"/><stop offset="0.936" stop-color="#0d0b0e"/><stop offset="0.968" stop-color="#0c0a0a"/><stop offset="1.000" stop-color="#0c0a0a"/></radialGradient><radialGradient id="r142" gradientUnits="userSpaceOnUse" cx="0" cy="0" r="1.285"><stop offset="0.557" stop-color="#0c0a0a"/><stop offset="0.588" stop-color="#0c0a0a"/><stop offset="0.620" stop-color="#0d0b0e"/><stop offset="0.652" stop-color="#151027"/><stop offset="0.683" stop-color="#441368"/><stop offset="0.715" stop-color="#a13268"/><stop offset="0.747" stop-color="#f27823"/><stop offset="0.778" stop-color="#fcae15"/><stop offset="0.810" stop-color="#f27823"/><stop offset="0.842" stop-color="#a13268"/><stop offset="0.873" stop-color="#441368"/><stop offset="0.905" stop-color="#151027"/><stop offset="0.937" stop-color="#0d0b0e"/><stop offset="0.968" stop-color="#0c0a0a"/><stop offset="1.000" stop-color="#0c0a0a"/></radialGradient><radialGradient id="r143" gradientUnits="userSpaceOnUse" cx="0" cy="0" r="1.282"><stop offset="0.560" stop-color="#0c0a0a"/><stop offset="0.591" stop-color="#0c0a0a"/><stop offset="0.623" stop-color="#0d0b0e"/><stop offset="0.654" stop-color="#16112a"/><stop offset="0.685" stop-color="#49136b"/><stop offset="0.717" stop-color="#a93565"/><stop offset="0.748" stop-color="#f78718"/><stop offset="0.780" stop-color="#fbc22b"/><stop offset="0.811" stop-color="#f78718"/><stop offset="0.843" stop-color="#a93565"/><stop offset="0.874" stop-color="#49136b"/><stop offset="0.906" stop-color="#16112a"/><stop offset="0.937" stop-color="#0d0b0e"/><stop offset="0.969" stop-color="#0c0a0a"/><stop offset="1.000" stop-color="#0c0a0a"/></radialGradient><radialGradient id="r144" gradientUnits="userSpaceOnUse" cx="0" cy="0" r="1.280"><stop offset="0.562" stop-color="#0c0a0a"/><stop offset="0.594" stop-color="#0c0a0a"/><stop offset="0.625" stop-color="#0d0b0e"/><stop offset="0.656" stop-color="#16112a"/><stop offset="0.687" stop-color="#4c146c"/><stop offset="0.719" stop-color="#b03861"/><stop offset="0.750" stop-color="#fa940e"/><stop offset="0.781" stop-color="#f7d545"/><stop offset="0.812" stop-color="#fa940e"/><stop offset="0.844" stop-color="#b03861"/><stop offset="0.875" stop-color="#4c146c"/><stop offset="0.906" stop-color="#16112a"/><stop offset="0.937" stop-color="#0d0b0e"/><stop offset="0.969" stop-color="#0c0a0a"/><stop offset="1.000" stop-color="#0c0a0a"/></radialGradient><radialGradient id="r145" gradientUnits="userSpaceOnUse" cx="0" cy="0" r="1.278"><stop offset="0.565" stop-color="#0c0a0a"/><stop offset="0.596" stop-color="#0c0a0a"/><stop offset="0.627" stop-color="#0d0b10"/><stop offset="0.658" stop-color="#17112c"/><stop offset="0.689" stop-color="#4f146e"/><stop offset="0.720" stop-color="#b83b5d"/><stop offset="0.751" stop-color="#fca30d"/><stop offset="0.782" stop-color="#f3e661"/><stop offset="0.814" stop-color="#fca30d"/><stop offset="0.845" stop-color="#b83b5d"/><stop offset="0.876" stop-color="#4f146e"/><stop offset="0.907" stop-color="#17112c"/><stop offset="0.938" stop-color="#0d0b10"/><stop offset="0.969" stop-color="#0c0a0a"/><stop offset="1.000" stop-color="#0c0a0a"/></radialGradient><radialGradient id="r146" gradientUnits="userSpaceOnUse" cx="0" cy="0" r="1.276"><stop offset="0.567" stop-color="#0c0a0a"/><stop offset="0.598" stop-color="#0c0a0a"/><stop offset="0.629" stop-color="#0d0b10"/><stop offset="0.660" stop-color="#18122e"/><stop offset="0.691" stop-color="#52156f"/><stop offset="0.722" stop-color="#bd3e5a"/><stop offset="0.753" stop-color="#fcaf17"/><stop offset="0.784" stop-color="#f2f381"/><stop offset="0.815" stop-color="#fcaf17"/><stop offset="0.845" stop-color="#bd3e5a"/><stop offset="0.876" stop-color="#52156f"/><stop offset="0.907" stop-color="#18122e"/><stop offset="0.938" stop-color="#0d0b10"/><stop offset="0.969" stop-color="#0c0a0a"/><stop offset="1.000" stop-color="#0c0a0a"/></radialGradient><radialGradient id="r147" gradientUnits="userSpaceOnUse" cx="0" cy="0" r="1.275"><stop offset="0.569" stop-color="#0c0a0a"/><stop offset="0.600" stop-color="#0c0a0a"/><stop offset="0.631" stop-color="#0d0b10"/><stop offset="0.662" stop-color="#18122e"/><stop offset="0.692" stop-color="#56166f"/><stop offset="0.723" stop-color="#c34156"/><stop offset="0.754" stop-color="#fbbb22"/><stop offset="0.785" stop-color="#f8fb9c"/><stop offset="0.815" stop-color="#fbbb22"/><stop offset="0.846" stop-color="#c34156"/><stop offset="0.877" stop-color="#56166f"/><stop offset="0.908" stop-color="#18122e"/><stop offset="0.938" stop-color="#0d0b10"/><stop offset="0.969" stop-color="#0c0a0a"/><stop offset="1.000" stop-color="#0c0a0a"/></radialGradient><radialGradient id="r148" gradientUnits="userSpaceOnUse" cx="0" cy="0" r="1.273"><stop offset="0.571" stop-color="#0c0a0a"/><stop offset="0.601" stop-color="#0c0a0a"/><stop offset="0.632" stop-color="#0d0b10"/><stop offset="0.663" stop-color="#18122e"/><stop offset="0.693" stop-color="#571670"/><stop offset="0.724" stop-color="#c74453"/><stop offset="0.755" stop-color="#fac42e"/><stop offset="0.785" stop-color="#fcffa7"/><stop offset="0.816" stop-color="#fac42e"/><stop offset="0.847" stop-color="#c74453"/><stop offset="0.877" stop-color="#571670"/><stop offset="0.908" stop-color="#18122e"/><stop offset="0.939" stop-color="#0d0b10"/><stop offset="0.969" stop-color="#0c0a0a"/><stop offset="1.000" stop-color="#0c0a0a"/></radialGradient><radialGradient id="r149" gradientUnits="userSpaceOnUse" cx="0" cy="0" r="1.272"><stop offset="0.572" stop-color="#0c0a0a"/><stop offset="0.602" stop-color="#0c0a0a"/><stop offset="0.633" stop-color="#0d0b10"/><stop offset="0.664" stop-color="#191230"/><stop offset="0.694" stop-color="#591770"/><stop offset="0.725" stop-color="#ca4651"/><stop offset="0.755" stop-color="#faca35"/><stop offset="0.786" stop-color="#fcffa7"/><stop offset="0.816" stop-color="#faca35"/><stop offset="0.847" stop-color="#ca4651"/><stop offset="0.878" stop-color="#591770"/><stop offset="0.908" stop-color="#191230"/><stop offset="0.939" stop-color="#0d0b10"/><stop offset="0.969" stop-color="#0c0a0a"/><stop offset="1.000" stop-color="#0c0a0a"/></radialGradient><radialGradient id="r150" gradientUnits="userSpaceOnUse" cx="0" cy="0" r="1.272"><stop offset="0.572" stop-color="#0c0a0a"/><stop offset="0.603" stop-color="#0c0a0a"/><stop offset="0.633" stop-color="#0d0b10"/><stop offset="0.664" stop-color="#191230"/><stop offset="0.694" stop-color="#591770"/><stop offset="0.725" stop-color="#cb4650"/><stop offset="0.756" stop-color="#f9cc37"/><stop offset="0.786" stop-color="#fcffa7"/><stop offset="0.817" stop-color="#f9cc37"/><stop offset="0.847" stop-color="#cb4650"/><stop offset="0.878" stop-color="#591770"/><stop offset="0.908" stop-color="#191230"/><stop offset="0.939" stop-color="#0d0b10"/><stop offset="0.969" stop-color="#0c0a0a"/><stop offset="1.000" stop-color="#0c0a0a"/></radialGradient><linearGradient id="cb151" x1="0" y1="0" x2="0" y2="1"><stop offset="0" stop-color="#fcffa7"/><stop offset="0.03" stop-color="#f4f78d"/><stop offset="0.06" stop-color="#f2eb6d"/><stop offset="0.09" stop-color="#f5dc51"/><stop offset="0.12" stop-color="#f9cd3a"/><stop offset="0.16" stop-color="#fbbe27"/><stop offset="0.19" stop-color="#fcaf17"/><stop offset="0.22" stop-color="#fca10d"/><stop offset="0.25" stop-color="#fa930f"/><stop offset="0.28" stop-color="#f78519"/><stop offset="0.31" stop-color="#f27823"/><stop offset="0.34" stop-color="#ec6c2d"/><stop offset="0.38" stop-color="#e56137"/><stop offset="0.41" stop-color="#dd5640"/><stop offset="0.44" stop-color="#d44d49"/><stop offset="0.47" stop-color="#ca4651"/><stop offset="0.5" stop-color="#bf3f59"/><stop offset="0.53" stop-color="#b3395f"/><stop offset="0.56" stop-color="#a73465"/><stop offset="0.59" stop-color="#9b2f6a"/><stop offset="0.62" stop-color="#8f2b6e"/><stop offset="0.66" stop-color="#832770"/><stop offset="0.69" stop-color="#772272"/><stop offset="0.72" stop-color="#6b1e72"/><stop offset="0.75" stop-color="#5f1971"/><stop offset="0.78" stop-color="#52156f"/><stop offset="0.81" stop-color="#461369"/><stop offset="0.84" stop-color="#38145f"/><stop offset="0.88" stop-color="#2b154f"/><stop offset="0.91" stop-color="#20153c"/><stop offset="0.94" stop-color="#16112a"/><stop offset="0.97" stop-color="#0f0d18"/><stop offset="1" stop-color="#0c0a0a"/></linearGradient><linearGradient id="bg152" x1="0" y1="0" x2="0" y2="1"><stop offset="0" stop-color="#0c0a0a"/><stop offset="0.04" stop-color="#0c0a0a"/><stop offset="0.08" stop-color="#0c0a0a"/><stop offset="0.12" stop-color="#0c0a0b"/><stop offset="0.17" stop-color="#0d0b10"/><stop offset="0.21" stop-color="#110e1f"/><stop offset="0.25" stop-color="#221541"/><stop offset="0.29" stop-color="#4c146c"/><stop offset="0.33" stop-color="#862870"/><stop offset="0.38" stop-color="#cc474f"/><stop offset="0.42" stop-color="#f88c14"/><stop offset="0.46" stop-color="#f8d13f"/><stop offset="0.5" stop-color="#f2eb6d"/><stop offset="0.54" stop-color="#f8d13f"/><stop offset="0.58" stop-color="#f88c14"/><stop offset="0.62" stop-color="#cc474f"/><stop offset="0.67" stop-color="#862870"/><stop offset="0.71" stop-color="#4c146c"/><stop offset="0.75" stop-color="#221541"/><stop offset="0.79" stop-color="#110e1f"/><stop offset="0.83" stop-color="#0d0b10"/><stop offset="0.88" stop-color="#0c0a0b"/><stop offset="0.92" stop-color="#0c0a0a"/><stop offset="0.96" stop-color="#0c0a0a"/><stop offset="1" stop-color="#0c0a0a"/></linearGradient><clipPath id="cp153"><rect x="381.3" y="3.3" width="107.4" height="85.4"/></clipPath><linearGradient id="bg154" x1="0" y1="0" x2="0" y2="1"><stop offset="0" stop-color="#0c0a0a"/><stop offset="0.04" stop-color="#0c0a0a"/><stop offset="0.08" stop-color="#0c0a0a"/><stop offset="0.12" stop-color="#0c0a0a"/><stop offset="0.17" stop-color="#0c0a0d"/><stop offset="0.21" stop-color="#0e0c14"/><stop offset="0.25" stop-color="#141025"/><stop offset="0.29" stop-color="#251546"/><stop offset="0.33" stop-color="#47136a"/><stop offset="0.38" stop-color="#712072"/><stop offset="0.42" stop-color="#9b2f6a"/><stop offset="0.46" stop-color="#ba3d5b"/><stop offset="0.5" stop-color="#c64354"/><stop offset="0.54" stop-color="#ba3d5b"/><stop offset="0.58" stop-color="#9b2f6a"/><stop offset="0.62" stop-color="#712072"/><stop offset="0.67" stop-color="#47136a"/><stop offset="0.71" stop-color="#251546"/><stop offset="0.75" stop-color="#141025"/><stop offset="0.79" stop-color="#0e0c14"/><stop offset="0.83" stop-color="#0c0a0d"/><stop offset="0.88" stop-color="#0c0a0a"/><stop offset="0.92" stop-color="#0c0a0a"/><stop offset="0.96" stop-color="#0c0a0a"/><stop offset="1" stop-color="#0c0a0a"/></linearGradient><clipPath id="cp155"><rect x="515.3" y="3.3" width="107.4" height="85.4"/></clipPath><clipPath id="cp156"><rect x="381.3" y="113.3" width="107.4" height="85.7"/></clipPath><radialGradient id="r157" gradientUnits="userSpaceOnUse" cx="0" cy="0" r="1.272"><stop offset="0.572" stop-color="#0c0a0a"/><stop offset="0.603" stop-color="#0c0a0a"/><stop offset="0.633" stop-color="#0d0b0e"/><stop offset="0.664" stop-color="#16112a"/><stop offset="0.695" stop-color="#4e146d"/><stop offset="0.725" stop-color="#b23860"/><stop offset="0.756" stop-color="#fb980d"/><stop offset="0.786" stop-color="#f6d94a"/><stop offset="0.817" stop-color="#fb980d"/><stop offset="0.847" stop-color="#b23860"/><stop offset="0.878" stop-color="#4e146d"/><stop offset="0.908" stop-color="#16112a"/><stop offset="0.939" stop-color="#0d0b0e"/><stop offset="0.969" stop-color="#0c0a0a"/><stop offset="1.000" stop-color="#0c0a0a"/></radialGradient><radialGradient id="r158" gradientUnits="userSpaceOnUse" cx="0" cy="0" r="1.272"><stop offset="0.572" stop-color="#0c0a0a"/><stop offset="0.603" stop-color="#0c0a0a"/><stop offset="0.634" stop-color="#0d0b0e"/><stop offset="0.664" stop-color="#16112a"/><stop offset="0.695" stop-color="#4c146c"/><stop offset="0.725" stop-color="#b23860"/><stop offset="0.756" stop-color="#fb980d"/><stop offset="0.786" stop-color="#f6d94a"/><stop offset="0.817" stop-color="#fb980d"/><stop offset="0.847" stop-color="#b23860"/><stop offset="0.878" stop-color="#4c146c"/><stop offset="0.908" stop-color="#16112a"/><stop offset="0.939" stop-color="#0d0b0e"/><stop offset="0.969" stop-color="#0c0a0a"/><stop offset="1.000" stop-color="#0c0a0a"/></radialGradient><radialGradient id="r159" gradientUnits="userSpaceOnUse" cx="0" cy="0" r="1.272"><stop offset="0.573" stop-color="#0c0a0a"/><stop offset="0.603" stop-color="#0c0a0a"/><stop offset="0.634" stop-color="#0d0b0e"/><stop offset="0.664" stop-color="#16112a"/><stop offset="0.695" stop-color="#4c146c"/><stop offset="0.725" stop-color="#b23860"/><stop offset="0.756" stop-color="#fb980d"/><stop offset="0.786" stop-color="#f7d748"/><stop offset="0.817" stop-color="#fb980d"/><stop offset="0.847" stop-color="#b23860"/><stop offset="0.878" stop-color="#4c146c"/><stop offset="0.908" stop-color="#16112a"/><stop offset="0.939" stop-color="#0d0b0e"/><stop offset="0.969" stop-color="#0c0a0a"/><stop offset="1.000" stop-color="#0c0a0a"/></radialGradient><radialGradient id="r160" gradientUnits="userSpaceOnUse" cx="0" cy="0" r="1.271"><stop offset="0.573" stop-color="#0c0a0a"/><stop offset="0.604" stop-color="#0c0a0a"/><stop offset="0.634" stop-color="#0d0b0e"/><stop offset="0.665" stop-color="#16112a"/><stop offset="0.695" stop-color="#4c146c"/><stop offset="0.726" stop-color="#b23860"/><stop offset="0.756" stop-color="#fa960e"/><stop offset="0.787" stop-color="#f7d545"/><stop offset="0.817" stop-color="#fa960e"/><stop offset="0.848" stop-color="#b23860"/><stop offset="0.878" stop-color="#4c146c"/><stop offset="0.909" stop-color="#16112a"/><stop offset="0.939" stop-color="#0d0b0e"/><stop offset="0.970" stop-color="#0c0a0a"/><stop offset="1.000" stop-color="#0c0a0a"/></radialGradient><radialGradient id="r161" gradientUnits="userSpaceOnUse" cx="0" cy="0" r="1.271"><stop offset="0.573" stop-color="#0c0a0a"/><stop offset="0.604" stop-color="#0c0a0a"/><stop offset="0.634" stop-color="#0d0b0e"/><stop offset="0.665" stop-color="#16112a"/><stop offset="0.695" stop-color="#4c146c"/><stop offset="0.726" stop-color="#b03861"/><stop offset="0.756" stop-color="#fa940e"/><stop offset="0.787" stop-color="#f7d545"/><stop offset="0.817" stop-color="#fa940e"/><stop offset="0.848" stop-color="#b03861"/><stop offset="0.878" stop-color="#4c146c"/><stop offset="0.909" stop-color="#16112a"/><stop offset="0.939" stop-color="#0d0b0e"/><stop offset="0.970" stop-color="#0c0a0a"/><stop offset="1.000" stop-color="#0c0a0a"/></radialGradient><radialGradient id="r162" gradientUnits="userSpaceOnUse" cx="0" cy="0" r="1.271"><stop offset="0.574" stop-color="#0c0a0a"/><stop offset="0.604" stop-color="#0c0a0a"/><stop offset="0.635" stop-color="#0d0b0e"/><stop offset="0.665" stop-color="#16112a"/><stop offset="0.696" stop-color="#4c146c"/><stop offset="0.726" stop-color="#b03861"/><stop offset="0.757" stop-color="#fa930f"/><stop offset="0.787" stop-color="#f8d13f"/><stop offset="0.817" stop-color="#fa930f"/><stop offset="0.848" stop-color="#b03861"/><stop offset="0.878" stop-color="#4c146c"/><stop offset="0.909" stop-color="#16112a"/><stop offset="0.939" stop-color="#0d0b0e"/><stop offset="0.970" stop-color="#0c0a0a"/><stop offset="1.000" stop-color="#0c0a0a"/></radialGradient><radialGradient id="r163" gradientUnits="userSpaceOnUse" cx="0" cy="0" r="1.270"><stop offset="0.575" stop-color="#0c0a0a"/><stop offset="0.605" stop-color="#0c0a0a"/><stop offset="0.635" stop-color="#0d0b0e"/><stop offset="0.666" stop-color="#16112a"/><stop offset="0.696" stop-color="#4a136c"/><stop offset="0.727" stop-color="#af3762"/><stop offset="0.757" stop-color="#f99110"/><stop offset="0.787" stop-color="#f8cf3c"/><stop offset="0.818" stop-color="#f99110"/><stop offset="0.848" stop-color="#af3762"/><stop offset="0.878" stop-color="#4a136c"/><stop offset="0.909" stop-color="#16112a"/><stop offset="0.939" stop-color="#0d0b0e"/><stop offset="0.970" stop-color="#0c0a0a"/><stop offset="1.000" stop-color="#0c0a0a"/></radialGradient><radialGradient id="r164" gradientUnits="userSpaceOnUse" cx="0" cy="0" r="1.270"><stop offset="0.575" stop-color="#0c0a0a"/><stop offset="0.606" stop-color="#0c0a0a"/><stop offset="0.636" stop-color="#0d0b0e"/><stop offset="0.666" stop-color="#16112a"/><stop offset="0.697" stop-color="#4a136c"/><stop offset="0.727" stop-color="#ad3662"/><stop offset="0.757" stop-color="#f98f11"/><stop offset="0.788" stop-color="#f9cd3a"/><stop offset="0.818" stop-color="#f98f11"/><stop offset="0.848" stop-color="#ad3662"/><stop offset="0.879" stop-color="#4a136c"/><stop offset="0.909" stop-color="#16112a"/><stop offset="0.939" stop-color="#0d0b0e"/><stop offset="0.970" stop-color="#0c0a0a"/><stop offset="1.000" stop-color="#0c0a0a"/></radialGradient><radialGradient id="r165" gradientUnits="userSpaceOnUse" cx="0" cy="0" r="1.269"><stop offset="0.576" stop-color="#0c0a0a"/><stop offset="0.607" stop-color="#0c0a0a"/><stop offset="0.637" stop-color="#0d0b0e"/><stop offset="0.667" stop-color="#16112a"/><stop offset="0.697" stop-color="#4a136c"/><stop offset="0.728" stop-color="#ac3663"/><stop offset="0.758" stop-color="#f88c14"/><stop offset="0.788" stop-color="#faca35"/><stop offset="0.818" stop-color="#f88c14"/><stop offset="0.849" stop-color="#ac3663"/><stop offset="0.879" stop-color="#4a136c"/><stop offset="0.909" stop-color="#16112a"/><stop offset="0.939" stop-color="#0d0b0e"/><stop offset="0.970" stop-color="#0c0a0a"/><stop offset="1.000" stop-color="#0c0a0a"/></radialGradient><radialGradient id="r166" gradientUnits="userSpaceOnUse" cx="0" cy="0" r="1.268"><stop offset="0.577" stop-color="#0c0a0a"/><stop offset="0.607" stop-color="#0c0a0a"/><stop offset="0.638" stop-color="#0d0b0e"/><stop offset="0.668" stop-color="#16112a"/><stop offset="0.698" stop-color="#49136b"/><stop offset="0.728" stop-color="#aa3564"/><stop offset="0.758" stop-color="#f88a15"/><stop offset="0.789" stop-color="#fac630"/><stop offset="0.819" stop-color="#f88a15"/><stop offset="0.849" stop-color="#aa3564"/><stop offset="0.879" stop-color="#49136b"/><stop offset="0.909" stop-color="#16112a"/><stop offset="0.940" stop-color="#0d0b0e"/><stop offset="0.970" stop-color="#0c0a0a"/><stop offset="1.000" stop-color="#0c0a0a"/></radialGradient><radialGradient id="r167" gradientUnits="userSpaceOnUse" cx="0" cy="0" r="1.267"><stop offset="0.578" stop-color="#0c0a0a"/><stop offset="0.608" stop-color="#0c0a0a"/><stop offset="0.638" stop-color="#0d0b0e"/><stop offset="0.669" stop-color="#16112a"/><stop offset="0.699" stop-color="#49136b"/><stop offset="0.729" stop-color="#a93565"/><stop offset="0.759" stop-color="#f78718"/><stop offset="0.789" stop-color="#fbc22b"/><stop offset="0.819" stop-color="#f78718"/><stop offset="0.849" stop-color="#a93565"/><stop offset="0.879" stop-color="#49136b"/><stop offset="0.910" stop-color="#16112a"/><stop offset="0.940" stop-color="#0d0b0e"/><stop offset="0.970" stop-color="#0c0a0a"/><stop offset="1.000" stop-color="#0c0a0a"/></radialGradient><radialGradient id="r168" gradientUnits="userSpaceOnUse" cx="0" cy="0" r="1.266"><stop offset="0.579" stop-color="#0c0a0a"/><stop offset="0.609" stop-color="#0c0a0a"/><stop offset="0.639" stop-color="#0d0b0e"/><stop offset="0.669" stop-color="#151027"/><stop offset="0.699" stop-color="#47136a"/><stop offset="0.729" stop-color="#a73465"/><stop offset="0.760" stop-color="#f6831a"/><stop offset="0.790" stop-color="#fbbe27"/><stop offset="0.820" stop-color="#f6831a"/><stop offset="0.850" stop-color="#a73465"/><stop offset="0.880" stop-color="#47136a"/><stop offset="0.910" stop-color="#151027"/><stop offset="0.940" stop-color="#0d0b0e"/><stop offset="0.970" stop-color="#0c0a0a"/><stop offset="1.000" stop-color="#0c0a0a"/></radialGradient><radialGradient id="r169" gradientUnits="userSpaceOnUse" cx="0" cy="0" r="1.266"><stop offset="0.580" stop-color="#0c0a0a"/><stop offset="0.610" stop-color="#0c0a0a"/><stop offset="0.640" stop-color="#0d0b0e"/><stop offset="0.670" stop-color="#151027"/><stop offset="0.700" stop-color="#47136a"/><stop offset="0.730" stop-color="#a63366"/><stop offset="0.760" stop-color="#f5801d"/><stop offset="0.790" stop-color="#fcb920"/><stop offset="0.820" stop-color="#f5801d"/><stop offset="0.850" stop-color="#a63366"/><stop offset="0.880" stop-color="#47136a"/><stop offset="0.910" stop-color="#151027"/><stop offset="0.940" stop-color="#0d0b0e"/><stop offset="0.970" stop-color="#0c0a0a"/><stop offset="1.000" stop-color="#0c0a0a"/></radialGradient><radialGradient id="r170" gradientUnits="userSpaceOnUse" cx="0" cy="0" r="1.265"><stop offset="0.582" stop-color="#0c0a0a"/><stop offset="0.611" stop-color="#0c0a0a"/><stop offset="0.641" stop-color="#0d0b0e"/><stop offset="0.671" stop-color="#151027"/><stop offset="0.701" stop-color="#461369"/><stop offset="0.731" stop-color="#a43367"/><stop offset="0.761" stop-color="#f47d1f"/><stop offset="0.791" stop-color="#fcb51c"/><stop offset="0.821" stop-color="#f47d1f"/><stop offset="0.851" stop-color="#a43367"/><stop offset="0.880" stop-color="#461369"/><stop offset="0.910" stop-color="#151027"/><stop offset="0.940" stop-color="#0d0b0e"/><stop offset="0.970" stop-color="#0c0a0a"/><stop offset="1.000" stop-color="#0c0a0a"/></radialGradient><radialGradient id="r171" gradientUnits="userSpaceOnUse" cx="0" cy="0" r="1.264"><stop offset="0.583" stop-color="#0c0a0a"/><stop offset="0.613" stop-color="#0c0a0a"/><stop offset="0.642" stop-color="#0d0b0e"/><stop offset="0.672" stop-color="#151027"/><stop offset="0.702" stop-color="#461369"/><stop offset="0.732" stop-color="#a13268"/><stop offset="0.762" stop-color="#f37a22"/><stop offset="0.791" stop-color="#fcaf17"/><stop offset="0.821" stop-color="#f37a22"/><stop offset="0.851" stop-color="#a13268"/><stop offset="0.881" stop-color="#461369"/><stop offset="0.911" stop-color="#151027"/><stop offset="0.940" stop-color="#0d0b0e"/><stop offset="0.970" stop-color="#0c0a0a"/><stop offset="1.000" stop-color="#0c0a0a"/></radialGradient><radialGradient id="r172" gradientUnits="userSpaceOnUse" cx="0" cy="0" r="1.263"><stop offset="0.584" stop-color="#0c0a0a"/><stop offset="0.614" stop-color="#0c0a0a"/><stop offset="0.643" stop-color="#0d0b0e"/><stop offset="0.673" stop-color="#151027"/><stop offset="0.703" stop-color="#441368"/><stop offset="0.733" stop-color="#a03168"/><stop offset="0.762" stop-color="#f17624"/><stop offset="0.792" stop-color="#fcac13"/><stop offset="0.822" stop-color="#f17624"/><stop offset="0.851" stop-color="#a03168"/><stop offset="0.881" stop-color="#441368"/><stop offset="0.911" stop-color="#151027"/><stop offset="0.941" stop-color="#0d0b0e"/><stop offset="0.970" stop-color="#0c0a0a"/><stop offset="1.000" stop-color="#0c0a0a"/></radialGradient><radialGradient id="r173" gradientUnits="userSpaceOnUse" cx="0" cy="0" r="1.262"><stop offset="0.585" stop-color="#0c0a0a"/><stop offset="0.615" stop-color="#0c0a0a"/><stop offset="0.645" stop-color="#0d0b0e"/><stop offset="0.674" stop-color="#141025"/><stop offset="0.704" stop-color="#421367"/><stop offset="0.733" stop-color="#9e3069"/><stop offset="0.763" stop-color="#f07327"/><stop offset="0.793" stop-color="#fca60f"/><stop offset="0.822" stop-color="#f07327"/><stop offset="0.852" stop-color="#9e3069"/><stop offset="0.882" stop-color="#421367"/><stop offset="0.911" stop-color="#141025"/><stop offset="0.941" stop-color="#0d0b0e"/><stop offset="0.970" stop-color="#0c0a0a"/><stop offset="1.000" stop-color="#0c0a0a"/></radialGradient><radialGradient id="r174" gradientUnits="userSpaceOnUse" cx="0" cy="0" r="1.261"><stop offset="0.587" stop-color="#0c0a0a"/><stop offset="0.616" stop-color="#0c0a0a"/><stop offset="0.646" stop-color="#0d0b0e"/><stop offset="0.675" stop-color="#141025"/><stop offset="0.705" stop-color="#421367"/><stop offset="0.734" stop-color="#9b2f6a"/><stop offset="0.764" stop-color="#ee6f2b"/><stop offset="0.793" stop-color="#fca30d"/><stop offset="0.823" stop-color="#ee6f2b"/><stop offset="0.852" stop-color="#9b2f6a"/><stop offset="0.882" stop-color="#421367"/><stop offset="0.911" stop-color="#141025"/><stop offset="0.941" stop-color="#0d0b0e"/><stop offset="0.970" stop-color="#0c0a0a"/><stop offset="1.000" stop-color="#0c0a0a"/></radialGradient><radialGradient id="r175" gradientUnits="userSpaceOnUse" cx="0" cy="0" r="1.261"><stop offset="0.587" stop-color="#0c0a0a"/><stop offset="0.616" stop-color="#0c0a0a"/><stop offset="0.646" stop-color="#0d0b0e"/><stop offset="0.675" stop-color="#141025"/><stop offset="0.705" stop-color="#421367"/><stop offset="0.734" stop-color="#9b2f6a"/><stop offset="0.764" stop-color="#ee6f2b"/><stop offset="0.793" stop-color="#fca30d"/><stop offset="0.823" stop-color="#ee6f2b"/><stop offset="0.852" stop-color="#9b2f6a"/><stop offset="0.882" stop-color="#421367"/><stop offset="0.911" stop-color="#141025"/><stop offset="0.941" stop-color="#0d0b0e"/><stop offset="0.970" stop-color="#0c0a0a"/><stop offset="1.000" stop-color="#0c0a0a"/></radialGradient><radialGradient id="r176" gradientUnits="userSpaceOnUse" cx="0" cy="0" r="1.262"><stop offset="0.585" stop-color="#0c0a0a"/><stop offset="0.615" stop-color="#0c0a0a"/><stop offset="0.645" stop-color="#0d0b0e"/><stop offset="0.674" stop-color="#141025"/><stop offset="0.704" stop-color="#421367"/><stop offset="0.733" stop-color="#9e3069"/><stop offset="0.763" stop-color="#f07327"/><stop offset="0.793" stop-color="#fca810"/><stop offset="0.822" stop-color="#f07327"/><stop offset="0.852" stop-color="#9e3069"/><stop offset="0.882" stop-color="#421367"/><stop offset="0.911" stop-color="#141025"/><stop offset="0.941" stop-color="#0d0b0e"/><stop offset="0.970" stop-color="#0c0a0a"/><stop offset="1.000" stop-color="#0c0a0a"/></radialGradient><radialGradient id="r177" gradientUnits="userSpaceOnUse" cx="0" cy="0" r="1.263"><stop offset="0.584" stop-color="#0c0a0a"/><stop offset="0.614" stop-color="#0c0a0a"/><stop offset="0.643" stop-color="#0d0b0e"/><stop offset="0.673" stop-color="#151027"/><stop offset="0.703" stop-color="#441368"/><stop offset="0.733" stop-color="#a03168"/><stop offset="0.762" stop-color="#f17624"/><stop offset="0.792" stop-color="#fcac13"/><stop offset="0.822" stop-color="#f17624"/><stop offset="0.851" stop-color="#a03168"/><stop offset="0.881" stop-color="#441368"/><stop offset="0.911" stop-color="#151027"/><stop offset="0.941" stop-color="#0d0b0e"/><stop offset="0.970" stop-color="#0c0a0a"/><stop offset="1.000" stop-color="#0c0a0a"/></radialGradient><radialGradient id="r178" gradientUnits="userSpaceOnUse" cx="0" cy="0" r="1.264"><stop offset="0.583" stop-color="#0c0a0a"/><stop offset="0.613" stop-color="#0c0a0a"/><stop offset="0.642" stop-color="#0d0b0e"/><stop offset="0.672" stop-color="#151027"/><stop offset="0.702" stop-color="#461369"/><stop offset="0.732" stop-color="#a33267"/><stop offset="0.762" stop-color="#f37b21"/><stop offset="0.791" stop-color="#fcb119"/><stop offset="0.821" stop-color="#f37b21"/><stop offset="0.851" stop-color="#a33267"/><stop offset="0.881" stop-color="#461369"/><stop offset="0.911" stop-color="#151027"/><stop offset="0.940" stop-color="#0d0b0e"/><stop offset="0.970" stop-color="#0c0a0a"/><stop offset="1.000" stop-color="#0c0a0a"/></radialGradient><radialGradient id="r179" gradientUnits="userSpaceOnUse" cx="0" cy="0" r="1.265"><stop offset="0.582" stop-color="#0c0a0a"/><stop offset="0.611" stop-color="#0c0a0a"/><stop offset="0.641" stop-color="#0d0b0e"/><stop offset="0.671" stop-color="#151027"/><stop offset="0.701" stop-color="#461369"/><stop offset="0.731" stop-color="#a43367"/><stop offset="0.761" stop-color="#f47e1e"/><stop offset="0.791" stop-color="#fcb71e"/><stop offset="0.821" stop-color="#f47e1e"/><stop offset="0.851" stop-color="#a43367"/><stop offset="0.880" stop-color="#461369"/><stop offset="0.910" stop-color="#151027"/><stop offset="0.940" stop-color="#0d0b0e"/><stop offset="0.970" stop-color="#0c0a0a"/><stop offset="1.000" stop-color="#0c0a0a"/></radialGradient><radialGradient id="r180" gradientUnits="userSpaceOnUse" cx="0" cy="0" r="1.266"><stop offset="0.580" stop-color="#0c0a0a"/><stop offset="0.610" stop-color="#0c0a0a"/><stop offset="0.640" stop-color="#0d0b0e"/><stop offset="0.670" stop-color="#151027"/><stop offset="0.700" stop-color="#47136a"/><stop offset="0.730" stop-color="#a63366"/><stop offset="0.760" stop-color="#f6821b"/><stop offset="0.790" stop-color="#fbbc25"/><stop offset="0.820" stop-color="#f6821b"/><stop offset="0.850" stop-color="#a63366"/><stop offset="0.880" stop-color="#47136a"/><stop offset="0.910" stop-color="#151027"/><stop offset="0.940" stop-color="#0d0b0e"/><stop offset="0.970" stop-color="#0c0a0a"/><stop offset="1.000" stop-color="#0c0a0a"/></radialGradient><radialGradient id="r181" gradientUnits="userSpaceOnUse" cx="0" cy="0" r="1.266"><stop offset="0.579" stop-color="#0c0a0a"/><stop offset="0.609" stop-color="#0c0a0a"/><stop offset="0.639" stop-color="#0d0b0e"/><stop offset="0.669" stop-color="#151027"/><stop offset="0.699" stop-color="#49136b"/><stop offset="0.729" stop-color="#a93565"/><stop offset="0.760" stop-color="#f78519"/><stop offset="0.790" stop-color="#fbc029"/><stop offset="0.820" stop-color="#f78519"/><stop offset="0.850" stop-color="#a93565"/><stop offset="0.880" stop-color="#49136b"/><stop offset="0.910" stop-color="#151027"/><stop offset="0.940" stop-color="#0d0b0e"/><stop offset="0.970" stop-color="#0c0a0a"/><stop offset="1.000" stop-color="#0c0a0a"/></radialGradient><radialGradient id="r182" gradientUnits="userSpaceOnUse" cx="0" cy="0" r="1.267"><stop offset="0.578" stop-color="#0c0a0a"/><stop offset="0.608" stop-color="#0c0a0a"/><stop offset="0.638" stop-color="#0d0b0e"/><stop offset="0.669" stop-color="#16112a"/><stop offset="0.699" stop-color="#49136b"/><stop offset="0.729" stop-color="#aa3564"/><stop offset="0.759" stop-color="#f78816"/><stop offset="0.789" stop-color="#fac42e"/><stop offset="0.819" stop-color="#f78816"/><stop offset="0.849" stop-color="#aa3564"/><stop offset="0.879" stop-color="#49136b"/><stop offset="0.910" stop-color="#16112a"/><stop offset="0.940" stop-color="#0d0b0e"/><stop offset="0.970" stop-color="#0c0a0a"/><stop offset="1.000" stop-color="#0c0a0a"/></radialGradient><radialGradient id="r183" gradientUnits="userSpaceOnUse" cx="0" cy="0" r="1.268"><stop offset="0.577" stop-color="#0c0a0a"/><stop offset="0.607" stop-color="#0c0a0a"/><stop offset="0.638" stop-color="#0d0b0e"/><stop offset="0.668" stop-color="#16112a"/><stop offset="0.698" stop-color="#4a136c"/><stop offset="0.728" stop-color="#ac3663"/><stop offset="0.758" stop-color="#f88c14"/><stop offset="0.789" stop-color="#faca35"/><stop offset="0.819" stop-color="#f88c14"/><stop offset="0.849" stop-color="#ac3663"/><stop offset="0.879" stop-color="#4a136c"/><stop offset="0.909" stop-color="#16112a"/><stop offset="0.940" stop-color="#0d0b0e"/><stop offset="0.970" stop-color="#0c0a0a"/><stop offset="1.000" stop-color="#0c0a0a"/></radialGradient><radialGradient id="r184" gradientUnits="userSpaceOnUse" cx="0" cy="0" r="1.269"><stop offset="0.576" stop-color="#0c0a0a"/><stop offset="0.607" stop-color="#0c0a0a"/><stop offset="0.637" stop-color="#0d0b0e"/><stop offset="0.667" stop-color="#16112a"/><stop offset="0.697" stop-color="#4a136c"/><stop offset="0.728" stop-color="#ad3662"/><stop offset="0.758" stop-color="#f98f11"/><stop offset="0.788" stop-color="#f9cd3a"/><stop offset="0.818" stop-color="#f98f11"/><stop offset="0.849" stop-color="#ad3662"/><stop offset="0.879" stop-color="#4a136c"/><stop offset="0.909" stop-color="#16112a"/><stop offset="0.939" stop-color="#0d0b0e"/><stop offset="0.970" stop-color="#0c0a0a"/><stop offset="1.000" stop-color="#0c0a0a"/></radialGradient><radialGradient id="r185" gradientUnits="userSpaceOnUse" cx="0" cy="0" r="1.270"><stop offset="0.575" stop-color="#0c0a0a"/><stop offset="0.606" stop-color="#0c0a0a"/><stop offset="0.636" stop-color="#0d0b0e"/><stop offset="0.666" stop-color="#16112a"/><stop offset="0.697" stop-color="#4c146c"/><stop offset="0.727" stop-color="#af3762"/><stop offset="0.757" stop-color="#fa930f"/><stop offset="0.788" stop-color="#f8d13f"/><stop offset="0.818" stop-color="#fa930f"/><stop offset="0.848" stop-color="#af3762"/><stop offset="0.879" stop-color="#4c146c"/><stop offset="0.909" stop-color="#16112a"/><stop offset="0.939" stop-color="#0d0b0e"/><stop offset="0.970" stop-color="#0c0a0a"/><stop offset="1.000" stop-color="#0c0a0a"/></radialGradient><radialGradient id="r186" gradientUnits="userSpaceOnUse" cx="0" cy="0" r="1.270"><stop offset="0.575" stop-color="#0c0a0a"/><stop offset="0.605" stop-color="#0c0a0a"/><stop offset="0.635" stop-color="#0d0b0e"/><stop offset="0.666" stop-color="#16112a"/><stop offset="0.696" stop-color="#4c146c"/><stop offset="0.727" stop-color="#b03861"/><stop offset="0.757" stop-color="#fa940e"/><stop offset="0.787" stop-color="#f8d342"/><stop offset="0.818" stop-color="#fa940e"/><stop offset="0.848" stop-color="#b03861"/><stop offset="0.878" stop-color="#4c146c"/><stop offset="0.909" stop-color="#16112a"/><stop offset="0.939" stop-color="#0d0b0e"/><stop offset="0.970" stop-color="#0c0a0a"/><stop offset="1.000" stop-color="#0c0a0a"/></radialGradient><radialGradient id="r187" gradientUnits="userSpaceOnUse" cx="0" cy="0" r="1.271"><stop offset="0.574" stop-color="#0c0a0a"/><stop offset="0.604" stop-color="#0c0a0a"/><stop offset="0.635" stop-color="#0d0b0e"/><stop offset="0.665" stop-color="#16112a"/><stop offset="0.696" stop-color="#4c146c"/><stop offset="0.726" stop-color="#b23860"/><stop offset="0.757" stop-color="#fa960e"/><stop offset="0.787" stop-color="#f7d748"/><stop offset="0.817" stop-color="#fa960e"/><stop offset="0.848" stop-color="#b23860"/><stop offset="0.878" stop-color="#4c146c"/><stop offset="0.909" stop-color="#16112a"/><stop offset="0.939" stop-color="#0d0b0e"/><stop offset="0.970" stop-color="#0c0a0a"/><stop offset="1.000" stop-color="#0c0a0a"/></radialGradient><radialGradient id="r188" gradientUnits="userSpaceOnUse" cx="0" cy="0" r="1.271"><stop offset="0.573" stop-color="#0c0a0a"/><stop offset="0.604" stop-color="#0c0a0a"/><stop offset="0.634" stop-color="#0d0b0e"/><stop offset="0.665" stop-color="#16112a"/><stop offset="0.695" stop-color="#4e146d"/><stop offset="0.726" stop-color="#b23860"/><stop offset="0.756" stop-color="#fb980d"/><stop offset="0.787" stop-color="#f6d94a"/><stop offset="0.817" stop-color="#fb980d"/><stop offset="0.848" stop-color="#b23860"/><stop offset="0.878" stop-color="#4e146d"/><stop offset="0.909" stop-color="#16112a"/><stop offset="0.939" stop-color="#0d0b0e"/><stop offset="0.970" stop-color="#0c0a0a"/><stop offset="1.000" stop-color="#0c0a0a"/></radialGradient><radialGradient id="r189" gradientUnits="userSpaceOnUse" cx="0" cy="0" r="1.271"><stop offset="0.573" stop-color="#0c0a0a"/><stop offset="0.604" stop-color="#0c0a0a"/><stop offset="0.634" stop-color="#0d0b0e"/><stop offset="0.665" stop-color="#16112a"/><stop offset="0.695" stop-color="#4e146d"/><stop offset="0.726" stop-color="#b3395f"/><stop offset="0.756" stop-color="#fb9a0d"/><stop offset="0.787" stop-color="#f6db4d"/><stop offset="0.817" stop-color="#fb9a0d"/><stop offset="0.848" stop-color="#b3395f"/><stop offset="0.878" stop-color="#4e146d"/><stop offset="0.909" stop-color="#16112a"/><stop offset="0.939" stop-color="#0d0b0e"/><stop offset="0.970" stop-color="#0c0a0a"/><stop offset="1.000" stop-color="#0c0a0a"/></radialGradient><radialGradient id="r190" gradientUnits="userSpaceOnUse" cx="0" cy="0" r="1.272"><stop offset="0.573" stop-color="#0c0a0a"/><stop offset="0.603" stop-color="#0c0a0a"/><stop offset="0.634" stop-color="#0d0b0e"/><stop offset="0.664" stop-color="#17112c"/><stop offset="0.695" stop-color="#4e146d"/><stop offset="0.725" stop-color="#b3395f"/><stop offset="0.756" stop-color="#fb9b0c"/><stop offset="0.786" stop-color="#f5dc51"/><stop offset="0.817" stop-color="#fb9b0c"/><stop offset="0.847" stop-color="#b3395f"/><stop offset="0.878" stop-color="#4e146d"/><stop offset="0.908" stop-color="#17112c"/><stop offset="0.939" stop-color="#0d0b0e"/><stop offset="0.969" stop-color="#0c0a0a"/><stop offset="1.000" stop-color="#0c0a0a"/></radialGradient><radialGradient id="r191" gradientUnits="userSpaceOnUse" cx="0" cy="0" r="1.272"><stop offset="0.572" stop-color="#0c0a0a"/><stop offset="0.603" stop-color="#0c0a0a"/><stop offset="0.634" stop-color="#0d0b0e"/><stop offset="0.664" stop-color="#17112c"/><stop offset="0.695" stop-color="#4e146d"/><stop offset="0.725" stop-color="#b53a5f"/><stop offset="0.756" stop-color="#fb9b0c"/><stop offset="0.786" stop-color="#f5dc51"/><stop offset="0.817" stop-color="#fb9b0c"/><stop offset="0.847" stop-color="#b53a5f"/><stop offset="0.878" stop-color="#4e146d"/><stop offset="0.908" stop-color="#17112c"/><stop offset="0.939" stop-color="#0d0b0e"/><stop offset="0.969" stop-color="#0c0a0a"/><stop offset="1.000" stop-color="#0c0a0a"/></radialGradient><radialGradient id="r192" gradientUnits="userSpaceOnUse" cx="0" cy="0" r="1.272"><stop offset="0.572" stop-color="#0c0a0a"/><stop offset="0.603" stop-color="#0c0a0a"/><stop offset="0.633" stop-color="#0d0b0e"/><stop offset="0.664" stop-color="#17112c"/><stop offset="0.695" stop-color="#4e146d"/><stop offset="0.725" stop-color="#b53a5f"/><stop offset="0.756" stop-color="#fb9b0c"/><stop offset="0.786" stop-color="#f5dc51"/><stop offset="0.817" stop-color="#fb9b0c"/><stop offset="0.847" stop-color="#b53a5f"/><stop offset="0.878" stop-color="#4e146d"/><stop offset="0.908" stop-color="#17112c"/><stop offset="0.939" stop-color="#0d0b0e"/><stop offset="0.969" stop-color="#0c0a0a"/><stop offset="1.000" stop-color="#0c0a0a"/></radialGradient><radialGradient id="r193" gradientUnits="userSpaceOnUse" cx="0" cy="0" r="1.272"><stop offset="0.572" stop-color="#0c0a0a"/><stop offset="0.603" stop-color="#0c0a0a"/><stop offset="0.633" stop-color="#0d0b0e"/><stop offset="0.664" stop-color="#17112c"/><stop offset="0.695" stop-color="#4e146d"/><stop offset="0.725" stop-color="#b53a5f"/><stop offset="0.756" stop-color="#fb9b0c"/><stop offset="0.786" stop-color="#f5dc51"/><stop offset="0.817" stop-color="#fb9b0c"/><stop offset="0.847" stop-color="#b53a5f"/><stop offset="0.878" stop-color="#4e146d"/><stop offset="0.908" stop-color="#17112c"/><stop offset="0.939" stop-color="#0d0b0e"/><stop offset="0.969" stop-color="#0c0a0a"/><stop offset="1.000" stop-color="#0c0a0a"/></radialGradient><radialGradient id="r194" gradientUnits="userSpaceOnUse" cx="0" cy="0" r="1.272"><stop offset="0.572" stop-color="#0c0a0a"/><stop offset="0.603" stop-color="#0c0a0a"/><stop offset="0.634" stop-color="#0d0b0e"/><stop offset="0.664" stop-color="#17112c"/><stop offset="0.695" stop-color="#4e146d"/><stop offset="0.725" stop-color="#b53a5f"/><stop offset="0.756" stop-color="#fb9b0c"/><stop offset="0.786" stop-color="#f5dc51"/><stop offset="0.817" stop-color="#fb9b0c"/><stop offset="0.847" stop-color="#b53a5f"/><stop offset="0.878" stop-color="#4e146d"/><stop offset="0.908" stop-color="#17112c"/><stop offset="0.939" stop-color="#0d0b0e"/><stop offset="0.969" stop-color="#0c0a0a"/><stop offset="1.000" stop-color="#0c0a0a"/></radialGradient><radialGradient id="r195" gradientUnits="userSpaceOnUse" cx="0" cy="0" r="1.272"><stop offset="0.573" stop-color="#0c0a0a"/><stop offset="0.603" stop-color="#0c0a0a"/><stop offset="0.634" stop-color="#0d0b0e"/><stop offset="0.664" stop-color="#17112c"/><stop offset="0.695" stop-color="#4e146d"/><stop offset="0.725" stop-color="#b3395f"/><stop offset="0.756" stop-color="#fb9b0c"/><stop offset="0.786" stop-color="#f5dc51"/><stop offset="0.817" stop-color="#fb9b0c"/><stop offset="0.847" stop-color="#b3395f"/><stop offset="0.878" stop-color="#4e146d"/><stop offset="0.908" stop-color="#17112c"/><stop offset="0.939" stop-color="#0d0b0e"/><stop offset="0.969" stop-color="#0c0a0a"/><stop offset="1.000" stop-color="#0c0a0a"/></radialGradient><radialGradient id="r196" gradientUnits="userSpaceOnUse" cx="0" cy="0" r="1.271"><stop offset="0.573" stop-color="#0c0a0a"/><stop offset="0.604" stop-color="#0c0a0a"/><stop offset="0.634" stop-color="#0d0b0e"/><stop offset="0.665" stop-color="#16112a"/><stop offset="0.695" stop-color="#4e146d"/><stop offset="0.726" stop-color="#b3395f"/><stop offset="0.756" stop-color="#fb9a0d"/><stop offset="0.787" stop-color="#f6db4d"/><stop offset="0.817" stop-color="#fb9a0d"/><stop offset="0.848" stop-color="#b3395f"/><stop offset="0.878" stop-color="#4e146d"/><stop offset="0.909" stop-color="#16112a"/><stop offset="0.939" stop-color="#0d0b0e"/><stop offset="0.970" stop-color="#0c0a0a"/><stop offset="1.000" stop-color="#0c0a0a"/></radialGradient><radialGradient id="r197" gradientUnits="userSpaceOnUse" cx="0" cy="0" r="1.271"><stop offset="0.573" stop-color="#0c0a0a"/><stop offset="0.604" stop-color="#0c0a0a"/><stop offset="0.634" stop-color="#0d0b0e"/><stop offset="0.665" stop-color="#16112a"/><stop offset="0.695" stop-color="#4c146c"/><stop offset="0.726" stop-color="#b23860"/><stop offset="0.756" stop-color="#fb980d"/><stop offset="0.787" stop-color="#f6d94a"/><stop offset="0.817" stop-color="#fb980d"/><stop offset="0.848" stop-color="#b23860"/><stop offset="0.878" stop-color="#4c146c"/><stop offset="0.909" stop-color="#16112a"/><stop offset="0.939" stop-color="#0d0b0e"/><stop offset="0.970" stop-color="#0c0a0a"/><stop offset="1.000" stop-color="#0c0a0a"/></radialGradient><radialGradient id="r198" gradientUnits="userSpaceOnUse" cx="0" cy="0" r="1.271"><stop offset="0.574" stop-color="#0c0a0a"/><stop offset="0.604" stop-color="#0c0a0a"/><stop offset="0.635" stop-color="#0d0b0e"/><stop offset="0.665" stop-color="#16112a"/><stop offset="0.696" stop-color="#4c146c"/><stop offset="0.726" stop-color="#b03861"/><stop offset="0.757" stop-color="#fa960e"/><stop offset="0.787" stop-color="#f7d545"/><stop offset="0.817" stop-color="#fa960e"/><stop offset="0.848" stop-color="#b03861"/><stop offset="0.878" stop-color="#4c146c"/><stop offset="0.909" stop-color="#16112a"/><stop offset="0.939" stop-color="#0d0b0e"/><stop offset="0.970" stop-color="#0c0a0a"/><stop offset="1.000" stop-color="#0c0a0a"/></radialGradient><radialGradient id="r199" gradientUnits="userSpaceOnUse" cx="0" cy="0" r="1.270"><stop offset="0.575" stop-color="#0c0a0a"/><stop offset="0.605" stop-color="#0c0a0a"/><stop offset="0.635" stop-color="#0d0b0e"/><stop offset="0.666" stop-color="#16112a"/><stop offset="0.696" stop-color="#4c146c"/><stop offset="0.727" stop-color="#b03861"/><stop offset="0.757" stop-color="#fa930f"/><stop offset="0.787" stop-color="#f8d13f"/><stop offset="0.818" stop-color="#fa930f"/><stop offset="0.848" stop-color="#b03861"/><stop offset="0.878" stop-color="#4c146c"/><stop offset="0.909" stop-color="#16112a"/><stop offset="0.939" stop-color="#0d0b0e"/><stop offset="0.970" stop-color="#0c0a0a"/><stop offset="1.000" stop-color="#0c0a0a"/></radialGradient><radialGradient id="r200" gradientUnits="userSpaceOnUse" cx="0" cy="0" r="1.270"><stop offset="0.575" stop-color="#0c0a0a"/><stop offset="0.606" stop-color="#0c0a0a"/><stop offset="0.636" stop-color="#0d0b0e"/><stop offset="0.666" stop-color="#16112a"/><stop offset="0.697" stop-color="#4a136c"/><stop offset="0.727" stop-color="#af3762"/><stop offset="0.757" stop-color="#f99110"/><stop offset="0.788" stop-color="#f8cf3c"/><stop offset="0.818" stop-color="#f99110"/><stop offset="0.848" stop-color="#af3762"/><stop offset="0.879" stop-color="#4a136c"/><stop offset="0.909" stop-color="#16112a"/><stop offset="0.939" stop-color="#0d0b0e"/><stop offset="0.970" stop-color="#0c0a0a"/><stop offset="1.000" stop-color="#0c0a0a"/></radialGradient><radialGradient id="r201" gradientUnits="userSpaceOnUse" cx="0" cy="0" r="1.269"><stop offset="0.576" stop-color="#0c0a0a"/><stop offset="0.607" stop-color="#0c0a0a"/><stop offset="0.637" stop-color="#0d0b0e"/><stop offset="0.667" stop-color="#16112a"/><stop offset="0.697" stop-color="#4a136c"/><stop offset="0.728" stop-color="#ac3663"/><stop offset="0.758" stop-color="#f98d13"/><stop offset="0.788" stop-color="#faca35"/><stop offset="0.818" stop-color="#f98d13"/><stop offset="0.849" stop-color="#ac3663"/><stop offset="0.879" stop-color="#4a136c"/><stop offset="0.909" stop-color="#16112a"/><stop offset="0.939" stop-color="#0d0b0e"/><stop offset="0.970" stop-color="#0c0a0a"/><stop offset="1.000" stop-color="#0c0a0a"/></radialGradient><radialGradient id="r202" gradientUnits="userSpaceOnUse" cx="0" cy="0" r="1.268"><stop offset="0.577" stop-color="#0c0a0a"/><stop offset="0.607" stop-color="#0c0a0a"/><stop offset="0.638" stop-color="#0d0b0e"/><stop offset="0.668" stop-color="#16112a"/><stop offset="0.698" stop-color="#49136b"/><stop offset="0.728" stop-color="#aa3564"/><stop offset="0.758" stop-color="#f88a15"/><stop offset="0.789" stop-color="#fac630"/><stop offset="0.819" stop-color="#f88a15"/><stop offset="0.849" stop-color="#aa3564"/><stop offset="0.879" stop-color="#49136b"/><stop offset="0.909" stop-color="#16112a"/><stop offset="0.940" stop-color="#0d0b0e"/><stop offset="0.970" stop-color="#0c0a0a"/><stop offset="1.000" stop-color="#0c0a0a"/></radialGradient><radialGradient id="r203" gradientUnits="userSpaceOnUse" cx="0" cy="0" r="1.267"><stop offset="0.578" stop-color="#0c0a0a"/><stop offset="0.608" stop-color="#0c0a0a"/><stop offset="0.638" stop-color="#0d0b0e"/><stop offset="0.669" stop-color="#151027"/><stop offset="0.699" stop-color="#49136b"/><stop offset="0.729" stop-color="#a93565"/><stop offset="0.759" stop-color="#f78718"/><stop offset="0.789" stop-color="#fbc029"/><stop offset="0.819" stop-color="#f78718"/><stop offset="0.849" stop-color="#a93565"/><stop offset="0.879" stop-color="#49136b"/><stop offset="0.910" stop-color="#151027"/><stop offset="0.940" stop-color="#0d0b0e"/><stop offset="0.970" stop-color="#0c0a0a"/><stop offset="1.000" stop-color="#0c0a0a"/></radialGradient><radialGradient id="r204" gradientUnits="userSpaceOnUse" cx="0" cy="0" r="1.266"><stop offset="0.579" stop-color="#0c0a0a"/><stop offset="0.609" stop-color="#0c0a0a"/><stop offset="0.639" stop-color="#0d0b0e"/><stop offset="0.669" stop-color="#151027"/><stop offset="0.699" stop-color="#47136a"/><stop offset="0.729" stop-color="#a63366"/><stop offset="0.760" stop-color="#f6821b"/><stop offset="0.790" stop-color="#fbbc25"/><stop offset="0.820" stop-color="#f6821b"/><stop offset="0.850" stop-color="#a63366"/><stop offset="0.880" stop-color="#47136a"/><stop offset="0.910" stop-color="#151027"/><stop offset="0.940" stop-color="#0d0b0e"/><stop offset="0.970" stop-color="#0c0a0a"/><stop offset="1.000" stop-color="#0c0a0a"/></radialGradient><radialGradient id="r205" gradientUnits="userSpaceOnUse" cx="0" cy="0" r="1.266"><stop offset="0.580" stop-color="#0c0a0a"/><stop offset="0.610" stop-color="#0c0a0a"/><stop offset="0.640" stop-color="#0d0b0e"/><stop offset="0.670" stop-color="#151027"/><stop offset="0.700" stop-color="#461369"/><stop offset="0.730" stop-color="#a43367"/><stop offset="0.760" stop-color="#f47e1e"/><stop offset="0.790" stop-color="#fcb71e"/><stop offset="0.820" stop-color="#f47e1e"/><stop offset="0.850" stop-color="#a43367"/><stop offset="0.880" stop-color="#461369"/><stop offset="0.910" stop-color="#151027"/><stop offset="0.940" stop-color="#0d0b0e"/><stop offset="0.970" stop-color="#0c0a0a"/><stop offset="1.000" stop-color="#0c0a0a"/></radialGradient><radialGradient id="r206" gradientUnits="userSpaceOnUse" cx="0" cy="0" r="1.265"><stop offset="0.582" stop-color="#0c0a0a"/><stop offset="0.611" stop-color="#0c0a0a"/><stop offset="0.641" stop-color="#0d0b0e"/><stop offset="0.671" stop-color="#151027"/><stop offset="0.701" stop-color="#461369"/><stop offset="0.731" stop-color="#a13268"/><stop offset="0.761" stop-color="#f37a22"/><stop offset="0.791" stop-color="#fcb119"/><stop offset="0.821" stop-color="#f37a22"/><stop offset="0.851" stop-color="#a13268"/><stop offset="0.880" stop-color="#461369"/><stop offset="0.910" stop-color="#151027"/><stop offset="0.940" stop-color="#0d0b0e"/><stop offset="0.970" stop-color="#0c0a0a"/><stop offset="1.000" stop-color="#0c0a0a"/></radialGradient><radialGradient id="r207" gradientUnits="userSpaceOnUse" cx="0" cy="0" r="1.264"><stop offset="0.583" stop-color="#0c0a0a"/><stop offset="0.613" stop-color="#0c0a0a"/><stop offset="0.642" stop-color="#0d0b0e"/><stop offset="0.672" stop-color="#151027"/><stop offset="0.702" stop-color="#441368"/><stop offset="0.732" stop-color="#a03168"/><stop offset="0.762" stop-color="#f17624"/><stop offset="0.791" stop-color="#fcac13"/><stop offset="0.821" stop-color="#f17624"/><stop offset="0.851" stop-color="#a03168"/><stop offset="0.881" stop-color="#441368"/><stop offset="0.911" stop-color="#151027"/><stop offset="0.940" stop-color="#0d0b0e"/><stop offset="0.970" stop-color="#0c0a0a"/><stop offset="1.000" stop-color="#0c0a0a"/></radialGradient><radialGradient id="r208" gradientUnits="userSpaceOnUse" cx="0" cy="0" r="1.263"><stop offset="0.584" stop-color="#0c0a0a"/><stop offset="0.614" stop-color="#0c0a0a"/><stop offset="0.643" stop-color="#0d0b0e"/><stop offset="0.673" stop-color="#141025"/><stop offset="0.703" stop-color="#421367"/><stop offset="0.733" stop-color="#9d3069"/><stop offset="0.762" stop-color="#ef7228"/><stop offset="0.792" stop-color="#fca40e"/><stop offset="0.822" stop-color="#ef7228"/><stop offset="0.851" stop-color="#9d3069"/><stop offset="0.881" stop-color="#421367"/><stop offset="0.911" stop-color="#141025"/><stop offset="0.941" stop-color="#0d0b0e"/><stop offset="0.970" stop-color="#0c0a0a"/><stop offset="1.000" stop-color="#0c0a0a"/></radialGradient><radialGradient id="r209" gradientUnits="userSpaceOnUse" cx="0" cy="0" r="1.262"><stop offset="0.585" stop-color="#0c0a0a"/><stop offset="0.615" stop-color="#0c0a0a"/><stop offset="0.645" stop-color="#0d0b0e"/><stop offset="0.674" stop-color="#141025"/><stop offset="0.704" stop-color="#411366"/><stop offset="0.733" stop-color="#9a2f6b"/><stop offset="0.763" stop-color="#ed6d2c"/><stop offset="0.793" stop-color="#fb9f0d"/><stop offset="0.822" stop-color="#ed6d2c"/><stop offset="0.852" stop-color="#9a2f6b"/><stop offset="0.882" stop-color="#411366"/><stop offset="0.911" stop-color="#141025"/><stop offset="0.941" stop-color="#0d0b0e"/><stop offset="0.970" stop-color="#0c0a0a"/><stop offset="1.000" stop-color="#0c0a0a"/></radialGradient><radialGradient id="r210" gradientUnits="userSpaceOnUse" cx="0" cy="0" r="1.261"><stop offset="0.587" stop-color="#0c0a0a"/><stop offset="0.616" stop-color="#0c0a0a"/><stop offset="0.646" stop-color="#0d0b0e"/><stop offset="0.675" stop-color="#141025"/><stop offset="0.705" stop-color="#411366"/><stop offset="0.734" stop-color="#982e6b"/><stop offset="0.764" stop-color="#eb6930"/><stop offset="0.793" stop-color="#fb9a0d"/><stop offset="0.823" stop-color="#eb6930"/><stop offset="0.852" stop-color="#982e6b"/><stop offset="0.882" stop-color="#411366"/><stop offset="0.911" stop-color="#141025"/><stop offset="0.941" stop-color="#0d0b0e"/><stop offset="0.970" stop-color="#0c0a0a"/><stop offset="1.000" stop-color="#0c0a0a"/></radialGradient><radialGradient id="r211" gradientUnits="userSpaceOnUse" cx="0" cy="0" r="1.261"><stop offset="0.587" stop-color="#0c0a0a"/><stop offset="0.616" stop-color="#0c0a0a"/><stop offset="0.646" stop-color="#0d0b0e"/><stop offset="0.675" stop-color="#141025"/><stop offset="0.705" stop-color="#411366"/><stop offset="0.734" stop-color="#982e6b"/><stop offset="0.764" stop-color="#eb6930"/><stop offset="0.793" stop-color="#fb9a0d"/><stop offset="0.823" stop-color="#eb6930"/><stop offset="0.852" stop-color="#982e6b"/><stop offset="0.882" stop-color="#411366"/><stop offset="0.911" stop-color="#141025"/><stop offset="0.941" stop-color="#0d0b0e"/><stop offset="0.970" stop-color="#0c0a0a"/><stop offset="1.000" stop-color="#0c0a0a"/></radialGradient><radialGradient id="r212" gradientUnits="userSpaceOnUse" cx="0" cy="0" r="1.262"><stop offset="0.585" stop-color="#0c0a0a"/><stop offset="0.615" stop-color="#0c0a0a"/><stop offset="0.645" stop-color="#0d0b0e"/><stop offset="0.674" stop-color="#141025"/><stop offset="0.704" stop-color="#411366"/><stop offset="0.733" stop-color="#9a2f6b"/><stop offset="0.763" stop-color="#ed6d2c"/><stop offset="0.793" stop-color="#fb9f0d"/><stop offset="0.822" stop-color="#ed6d2c"/><stop offset="0.852" stop-color="#9a2f6b"/><stop offset="0.882" stop-color="#411366"/><stop offset="0.911" stop-color="#141025"/><stop offset="0.941" stop-color="#0d0b0e"/><stop offset="0.970" stop-color="#0c0a0a"/><stop offset="1.000" stop-color="#0c0a0a"/></radialGradient><radialGradient id="r213" gradientUnits="userSpaceOnUse" cx="0" cy="0" r="1.263"><stop offset="0.584" stop-color="#0c0a0a"/><stop offset="0.614" stop-color="#0c0a0a"/><stop offset="0.643" stop-color="#0d0b0e"/><stop offset="0.673" stop-color="#141025"/><stop offset="0.703" stop-color="#421367"/><stop offset="0.733" stop-color="#9d3069"/><stop offset="0.762" stop-color="#ef7029"/><stop offset="0.792" stop-color="#fca40e"/><stop offset="0.822" stop-color="#ef7029"/><stop offset="0.851" stop-color="#9d3069"/><stop offset="0.881" stop-color="#421367"/><stop offset="0.911" stop-color="#141025"/><stop offset="0.941" stop-color="#0d0b0e"/><stop offset="0.970" stop-color="#0c0a0a"/><stop offset="1.000" stop-color="#0c0a0a"/></radialGradient><radialGradient id="r214" gradientUnits="userSpaceOnUse" cx="0" cy="0" r="1.264"><stop offset="0.583" stop-color="#0c0a0a"/><stop offset="0.613" stop-color="#0c0a0a"/><stop offset="0.642" stop-color="#0d0b0e"/><stop offset="0.672" stop-color="#151027"/><stop offset="0.702" stop-color="#441368"/><stop offset="0.732" stop-color="#9e3069"/><stop offset="0.762" stop-color="#f17526"/><stop offset="0.791" stop-color="#fcaa12"/><stop offset="0.821" stop-color="#f17526"/><stop offset="0.851" stop-color="#9e3069"/><stop offset="0.881" stop-color="#441368"/><stop offset="0.911" stop-color="#151027"/><stop offset="0.940" stop-color="#0d0b0e"/><stop offset="0.970" stop-color="#0c0a0a"/><stop offset="1.000" stop-color="#0c0a0a"/></radialGradient><radialGradient id="r215" gradientUnits="userSpaceOnUse" cx="0" cy="0" r="1.265"><stop offset="0.582" stop-color="#0c0a0a"/><stop offset="0.611" stop-color="#0c0a0a"/><stop offset="0.641" stop-color="#0d0b0e"/><stop offset="0.671" stop-color="#151027"/><stop offset="0.701" stop-color="#441368"/><stop offset="0.731" stop-color="#a13268"/><stop offset="0.761" stop-color="#f27823"/><stop offset="0.791" stop-color="#fcaf17"/><stop offset="0.821" stop-color="#f27823"/><stop offset="0.851" stop-color="#a13268"/><stop offset="0.880" stop-color="#441368"/><stop offset="0.910" stop-color="#151027"/><stop offset="0.940" stop-color="#0d0b0e"/><stop offset="0.970" stop-color="#0c0a0a"/><stop offset="1.000" stop-color="#0c0a0a"/></radialGradient><radialGradient id="r216" gradientUnits="userSpaceOnUse" cx="0" cy="0" r="1.266"><stop offset="0.580" stop-color="#0c0a0a"/><stop offset="0.610" stop-color="#0c0a0a"/><stop offset="0.640" stop-color="#0d0b0e"/><stop offset="0.670" stop-color="#151027"/><stop offset="0.700" stop-color="#461369"/><stop offset="0.730" stop-color="#a33267"/><stop offset="0.760" stop-color="#f47d1f"/><stop offset="0.790" stop-color="#fcb51c"/><stop offset="0.820" stop-color="#f47d1f"/><stop offset="0.850" stop-color="#a33267"/><stop offset="0.880" stop-color="#461369"/><stop offset="0.910" stop-color="#151027"/><stop offset="0.940" stop-color="#0d0b0e"/><stop offset="0.970" stop-color="#0c0a0a"/><stop offset="1.000" stop-color="#0c0a0a"/></radialGradient><radialGradient id="r217" gradientUnits="userSpaceOnUse" cx="0" cy="0" r="1.266"><stop offset="0.579" stop-color="#0c0a0a"/><stop offset="0.609" stop-color="#0c0a0a"/><stop offset="0.639" stop-color="#0d0b0e"/><stop offset="0.669" stop-color="#151027"/><stop offset="0.699" stop-color="#47136a"/><stop offset="0.729" stop-color="#a63366"/><stop offset="0.760" stop-color="#f5801d"/><stop offset="0.790" stop-color="#fcb920"/><stop offset="0.820" stop-color="#f5801d"/><stop offset="0.850" stop-color="#a63366"/><stop offset="0.880" stop-color="#47136a"/><stop offset="0.910" stop-color="#151027"/><stop offset="0.940" stop-color="#0d0b0e"/><stop offset="0.970" stop-color="#0c0a0a"/><stop offset="1.000" stop-color="#0c0a0a"/></radialGradient><radialGradient id="r218" gradientUnits="userSpaceOnUse" cx="0" cy="0" r="1.267"><stop offset="0.578" stop-color="#0c0a0a"/><stop offset="0.608" stop-color="#0c0a0a"/><stop offset="0.638" stop-color="#0d0b0e"/><stop offset="0.669" stop-color="#151027"/><stop offset="0.699" stop-color="#47136a"/><stop offset="0.729" stop-color="#a73465"/><stop offset="0.759" stop-color="#f6831a"/><stop offset="0.789" stop-color="#fbbe27"/><stop offset="0.819" stop-color="#f6831a"/><stop offset="0.849" stop-color="#a73465"/><stop offset="0.879" stop-color="#47136a"/><stop offset="0.910" stop-color="#151027"/><stop offset="0.940" stop-color="#0d0b0e"/><stop offset="0.970" stop-color="#0c0a0a"/><stop offset="1.000" stop-color="#0c0a0a"/></radialGradient><radialGradient id="r219" gradientUnits="userSpaceOnUse" cx="0" cy="0" r="1.268"><stop offset="0.577" stop-color="#0c0a0a"/><stop offset="0.607" stop-color="#0c0a0a"/><stop offset="0.638" stop-color="#0d0b0e"/><stop offset="0.668" stop-color="#16112a"/><stop offset="0.698" stop-color="#49136b"/><stop offset="0.728" stop-color="#a93565"/><stop offset="0.758" stop-color="#f78718"/><stop offset="0.789" stop-color="#fbc22b"/><stop offset="0.819" stop-color="#f78718"/><stop offset="0.849" stop-color="#a93565"/><stop offset="0.879" stop-color="#49136b"/><stop offset="0.909" stop-color="#16112a"/><stop offset="0.940" stop-color="#0d0b0e"/><stop offset="0.970" stop-color="#0c0a0a"/><stop offset="1.000" stop-color="#0c0a0a"/></radialGradient><radialGradient id="r220" gradientUnits="userSpaceOnUse" cx="0" cy="0" r="1.269"><stop offset="0.576" stop-color="#0c0a0a"/><stop offset="0.607" stop-color="#0c0a0a"/><stop offset="0.637" stop-color="#0d0b0e"/><stop offset="0.667" stop-color="#16112a"/><stop offset="0.697" stop-color="#49136b"/><stop offset="0.728" stop-color="#ac3663"/><stop offset="0.758" stop-color="#f88a15"/><stop offset="0.788" stop-color="#fac630"/><stop offset="0.818" stop-color="#f88a15"/><stop offset="0.849" stop-color="#ac3663"/><stop offset="0.879" stop-color="#49136b"/><stop offset="0.909" stop-color="#16112a"/><stop offset="0.939" stop-color="#0d0b0e"/><stop offset="0.970" stop-color="#0c0a0a"/><stop offset="1.000" stop-color="#0c0a0a"/></radialGradient><radialGradient id="r221" gradientUnits="userSpaceOnUse" cx="0" cy="0" r="1.270"><stop offset="0.575" stop-color="#0c0a0a"/><stop offset="0.606" stop-color="#0c0a0a"/><stop offset="0.636" stop-color="#0d0b0e"/><stop offset="0.666" stop-color="#16112a"/><stop offset="0.697" stop-color="#4a136c"/><stop offset="0.727" stop-color="#ad3662"/><stop offset="0.757" stop-color="#f98d13"/><stop offset="0.788" stop-color="#faca35"/><stop offset="0.818" stop-color="#f98d13"/><stop offset="0.848" stop-color="#ad3662"/><stop offset="0.879" stop-color="#4a136c"/><stop offset="0.909" stop-color="#16112a"/><stop offset="0.939" stop-color="#0d0b0e"/><stop offset="0.970" stop-color="#0c0a0a"/><stop offset="1.000" stop-color="#0c0a0a"/></radialGradient><radialGradient id="r222" gradientUnits="userSpaceOnUse" cx="0" cy="0" r="1.270"><stop offset="0.575" stop-color="#0c0a0a"/><stop offset="0.605" stop-color="#0c0a0a"/><stop offset="0.635" stop-color="#0d0b0e"/><stop offset="0.666" stop-color="#16112a"/><stop offset="0.696" stop-color="#4a136c"/><stop offset="0.727" stop-color="#ad3662"/><stop offset="0.757" stop-color="#f98f11"/><stop offset="0.787" stop-color="#f9cd3a"/><stop offset="0.818" stop-color="#f98f11"/><stop offset="0.848" stop-color="#ad3662"/><stop offset="0.878" stop-color="#4a136c"/><stop offset="0.909" stop-color="#16112a"/><stop offset="0.939" stop-color="#0d0b0e"/><stop offset="0.970" stop-color="#0c0a0a"/><stop offset="1.000" stop-color="#0c0a0a"/></radialGradient><radialGradient id="r223" gradientUnits="userSpaceOnUse" cx="0" cy="0" r="1.271"><stop offset="0.574" stop-color="#0c0a0a"/><stop offset="0.604" stop-color="#0c0a0a"/><stop offset="0.635" stop-color="#0d0b0e"/><stop offset="0.665" stop-color="#16112a"/><stop offset="0.696" stop-color="#4c146c"/><stop offset="0.726" stop-color="#af3762"/><stop offset="0.757" stop-color="#fa930f"/><stop offset="0.787" stop-color="#f8d13f"/><stop offset="0.817" stop-color="#fa930f"/><stop offset="0.848" stop-color="#af3762"/><stop offset="0.878" stop-color="#4c146c"/><stop offset="0.909" stop-color="#16112a"/><stop offset="0.939" stop-color="#0d0b0e"/><stop offset="0.970" stop-color="#0c0a0a"/><stop offset="1.000" stop-color="#0c0a0a"/></radialGradient><radialGradient id="r224" gradientUnits="userSpaceOnUse" cx="0" cy="0" r="1.271"><stop offset="0.573" stop-color="#0c0a0a"/><stop offset="0.604" stop-color="#0c0a0a"/><stop offset="0.634" stop-color="#0d0b0e"/><stop offset="0.665" stop-color="#16112a"/><stop offset="0.695" stop-color="#4c146c"/><stop offset="0.726" stop-color="#b03861"/><stop offset="0.756" stop-color="#fa940e"/><stop offset="0.787" stop-color="#f8d342"/><stop offset="0.817" stop-color="#fa940e"/><stop offset="0.848" stop-color="#b03861"/><stop offset="0.878" stop-color="#4c146c"/><stop offset="0.909" stop-color="#16112a"/><stop offset="0.939" stop-color="#0d0b0e"/><stop offset="0.970" stop-color="#0c0a0a"/><stop offset="1.000" stop-color="#0c0a0a"/></radialGradient><radialGradient id="r225" gradientUnits="userSpaceOnUse" cx="0" cy="0" r="1.271"><stop offset="0.573" stop-color="#0c0a0a"/><stop offset="0.604" stop-color="#0c0a0a"/><stop offset="0.634" stop-color="#0d0b0e"/><stop offset="0.665" stop-color="#16112a"/><stop offset="0.695" stop-color="#4c146c"/><stop offset="0.726" stop-color="#b23860"/><stop offset="0.756" stop-color="#fa960e"/><stop offset="0.787" stop-color="#f7d545"/><stop offset="0.817" stop-color="#fa960e"/><stop offset="0.848" stop-color="#b23860"/><stop offset="0.878" stop-color="#4c146c"/><stop offset="0.909" stop-color="#16112a"/><stop offset="0.939" stop-color="#0d0b0e"/><stop offset="0.970" stop-color="#0c0a0a"/><stop offset="1.000" stop-color="#0c0a0a"/></radialGradient><radialGradient id="r226" gradientUnits="userSpaceOnUse" cx="0" cy="0" r="1.272"><stop offset="0.573" stop-color="#0c0a0a"/><stop offset="0.603" stop-color="#0c0a0a"/><stop offset="0.634" stop-color="#0d0b0e"/><stop offset="0.664" stop-color="#16112a"/><stop offset="0.695" stop-color="#4c146c"/><stop offset="0.725" stop-color="#b23860"/><stop offset="0.756" stop-color="#fa960e"/><stop offset="0.786" stop-color="#f7d748"/><stop offset="0.817" stop-color="#fa960e"/><stop offset="0.847" stop-color="#b23860"/><stop offset="0.878" stop-color="#4c146c"/><stop offset="0.908" stop-color="#16112a"/><stop offset="0.939" stop-color="#0d0b0e"/><stop offset="0.969" stop-color="#0c0a0a"/><stop offset="1.000" stop-color="#0c0a0a"/></radialGradient><radialGradient id="r227" gradientUnits="userSpaceOnUse" cx="0" cy="0" r="1.272"><stop offset="0.572" stop-color="#0c0a0a"/><stop offset="0.603" stop-color="#0c0a0a"/><stop offset="0.634" stop-color="#0d0b0e"/><stop offset="0.664" stop-color="#16112a"/><stop offset="0.695" stop-color="#4c146c"/><stop offset="0.725" stop-color="#b23860"/><stop offset="0.756" stop-color="#fb980d"/><stop offset="0.786" stop-color="#f6d94a"/><stop offset="0.817" stop-color="#fb980d"/><stop offset="0.847" stop-color="#b23860"/><stop offset="0.878" stop-color="#4c146c"/><stop offset="0.908" stop-color="#16112a"/><stop offset="0.939" stop-color="#0d0b0e"/><stop offset="0.969" stop-color="#0c0a0a"/><stop offset="1.000" stop-color="#0c0a0a"/></radialGradient><radialGradient id="r228" gradientUnits="userSpaceOnUse" cx="0" cy="0" r="1.272"><stop offset="0.572" stop-color="#0c0a0a"/><stop offset="0.603" stop-color="#0c0a0a"/><stop offset="0.633" stop-color="#0d0b0e"/><stop offset="0.664" stop-color="#16112a"/><stop offset="0.695" stop-color="#4c146c"/><stop offset="0.725" stop-color="#b23860"/><stop offset="0.756" stop-color="#fb980d"/><stop offset="0.786" stop-color="#f6d94a"/><stop offset="0.817" stop-color="#fb980d"/><stop offset="0.847" stop-color="#b23860"/><stop offset="0.878" stop-color="#4c146c"/><stop offset="0.908" stop-color="#16112a"/><stop offset="0.939" stop-color="#0d0b0e"/><stop offset="0.969" stop-color="#0c0a0a"/><stop offset="1.000" stop-color="#0c0a0a"/></radialGradient><clipPath id="cp229"><rect x="515.3" y="113.3" width="107.4" height="85.7"/></clipPath><radialGradient id="r230" gradientUnits="userSpaceOnUse" cx="0" cy="0" r="1.256"><stop offset="0.592" stop-color="#0c0a0a"/><stop offset="0.621" stop-color="#0c0a0a"/><stop offset="0.651" stop-color="#0d0b10"/><stop offset="0.680" stop-color="#191230"/><stop offset="0.709" stop-color="#5a1870"/><stop offset="0.738" stop-color="#ce484e"/><stop offset="0.767" stop-color="#f7d545"/><stop offset="0.796" stop-color="#fcffa7"/><stop offset="0.825" stop-color="#f7d545"/><stop offset="0.854" stop-color="#ce484e"/><stop offset="0.884" stop-color="#5a1870"/><stop offset="0.913" stop-color="#191230"/><stop offset="0.942" stop-color="#0d0b10"/><stop offset="0.971" stop-color="#0c0a0a"/><stop offset="1.000" stop-color="#0c0a0a"/></radialGradient><radialGradient id="r231" gradientUnits="userSpaceOnUse" cx="0" cy="0" r="1.256"><stop offset="0.592" stop-color="#0c0a0a"/><stop offset="0.621" stop-color="#0c0a0a"/><stop offset="0.650" stop-color="#0d0b10"/><stop offset="0.680" stop-color="#191230"/><stop offset="0.709" stop-color="#5a1870"/><stop offset="0.738" stop-color="#ce484e"/><stop offset="0.767" stop-color="#f8d342"/><stop offset="0.796" stop-color="#fcffa7"/><stop offset="0.825" stop-color="#f8d342"/><stop offset="0.854" stop-color="#ce484e"/><stop offset="0.883" stop-color="#5a1870"/><stop offset="0.913" stop-color="#191230"/><stop offset="0.942" stop-color="#0d0b10"/><stop offset="0.971" stop-color="#0c0a0a"/><stop offset="1.000" stop-color="#0c0a0a"/></radialGradient><radialGradient id="r232" gradientUnits="userSpaceOnUse" cx="0" cy="0" r="1.257"><stop offset="0.592" stop-color="#0c0a0a"/><stop offset="0.621" stop-color="#0c0a0a"/><stop offset="0.650" stop-color="#0d0b10"/><stop offset="0.679" stop-color="#191230"/><stop offset="0.708" stop-color="#5a1870"/><stop offset="0.737" stop-color="#cc474f"/><stop offset="0.767" stop-color="#f8cf3c"/><stop offset="0.796" stop-color="#fcffa7"/><stop offset="0.825" stop-color="#f8cf3c"/><stop offset="0.854" stop-color="#cc474f"/><stop offset="0.883" stop-color="#5a1870"/><stop offset="0.912" stop-color="#191230"/><stop offset="0.942" stop-color="#0d0b10"/><stop offset="0.971" stop-color="#0c0a0a"/><stop offset="1.000" stop-color="#0c0a0a"/></radialGradient><radialGradient id="r233" gradientUnits="userSpaceOnUse" cx="0" cy="0" r="1.257"><stop offset="0.591" stop-color="#0c0a0a"/><stop offset="0.620" stop-color="#0c0a0a"/><stop offset="0.649" stop-color="#0d0b10"/><stop offset="0.679" stop-color="#191230"/><stop offset="0.708" stop-color="#591770"/><stop offset="0.737" stop-color="#ca4651"/><stop offset="0.766" stop-color="#f9cc37"/><stop offset="0.795" stop-color="#fcffa7"/><stop offset="0.825" stop-color="#f9cc37"/><stop offset="0.854" stop-color="#ca4651"/><stop offset="0.883" stop-color="#591770"/><stop offset="0.912" stop-color="#191230"/><stop offset="0.942" stop-color="#0d0b10"/><stop offset="0.971" stop-color="#0c0a0a"/><stop offset="1.000" stop-color="#0c0a0a"/></radialGradient><radialGradient id="r234" gradientUnits="userSpaceOnUse" cx="0" cy="0" r="1.258"><stop offset="0.590" stop-color="#0c0a0a"/><stop offset="0.619" stop-color="#0c0a0a"/><stop offset="0.649" stop-color="#0d0b10"/><stop offset="0.678" stop-color="#191230"/><stop offset="0.707" stop-color="#571670"/><stop offset="0.736" stop-color="#c74453"/><stop offset="0.766" stop-color="#fac630"/><stop offset="0.795" stop-color="#fcffa7"/><stop offset="0.824" stop-color="#fac630"/><stop offset="0.854" stop-color="#c74453"/><stop offset="0.883" stop-color="#571670"/><stop offset="0.912" stop-color="#191230"/><stop offset="0.941" stop-color="#0d0b10"/><stop offset="0.971" stop-color="#0c0a0a"/><stop offset="1.000" stop-color="#0c0a0a"/></radialGradient><radialGradient id="r235" gradientUnits="userSpaceOnUse" cx="0" cy="0" r="1.259"><stop offset="0.589" stop-color="#0c0a0a"/><stop offset="0.618" stop-color="#0c0a0a"/><stop offset="0.648" stop-color="#0d0b10"/><stop offset="0.677" stop-color="#18122e"/><stop offset="0.706" stop-color="#56166f"/><stop offset="0.736" stop-color="#c44255"/><stop offset="0.765" stop-color="#fbbe27"/><stop offset="0.795" stop-color="#fbfea3"/><stop offset="0.824" stop-color="#fbbe27"/><stop offset="0.853" stop-color="#c44255"/><stop offset="0.883" stop-color="#56166f"/><stop offset="0.912" stop-color="#18122e"/><stop offset="0.941" stop-color="#0d0b10"/><stop offset="0.971" stop-color="#0c0a0a"/><stop offset="1.000" stop-color="#0c0a0a"/></radialGradient><radialGradient id="r236" gradientUnits="userSpaceOnUse" cx="0" cy="0" r="1.260"><stop offset="0.588" stop-color="#0c0a0a"/><stop offset="0.617" stop-color="#0c0a0a"/><stop offset="0.647" stop-color="#0d0b10"/><stop offset="0.676" stop-color="#18122e"/><stop offset="0.706" stop-color="#54166f"/><stop offset="0.735" stop-color="#c04058"/><stop offset="0.764" stop-color="#fcb71e"/><stop offset="0.794" stop-color="#f5f891"/><stop offset="0.823" stop-color="#fcb71e"/><stop offset="0.853" stop-color="#c04058"/><stop offset="0.882" stop-color="#54166f"/><stop offset="0.912" stop-color="#18122e"/><stop offset="0.941" stop-color="#0d0b10"/><stop offset="0.971" stop-color="#0c0a0a"/><stop offset="1.000" stop-color="#0c0a0a"/></radialGradient><radialGradient id="r237" gradientUnits="userSpaceOnUse" cx="0" cy="0" r="1.261"><stop offset="0.586" stop-color="#0c0a0a"/><stop offset="0.616" stop-color="#0c0a0a"/><stop offset="0.646" stop-color="#0d0b10"/><stop offset="0.675" stop-color="#17112c"/><stop offset="0.705" stop-color="#52156f"/><stop offset="0.734" stop-color="#bc3d5a"/><stop offset="0.764" stop-color="#fcae15"/><stop offset="0.793" stop-color="#f2f17d"/><stop offset="0.823" stop-color="#fcae15"/><stop offset="0.852" stop-color="#bc3d5a"/><stop offset="0.882" stop-color="#52156f"/><stop offset="0.911" stop-color="#17112c"/><stop offset="0.941" stop-color="#0d0b10"/><stop offset="0.970" stop-color="#0c0a0a"/><stop offset="1.000" stop-color="#0c0a0a"/></radialGradient><radialGradient id="r238" gradientUnits="userSpaceOnUse" cx="0" cy="0" r="1.262"><stop offset="0.585" stop-color="#0c0a0a"/><stop offset="0.615" stop-color="#0c0a0a"/><stop offset="0.644" stop-color="#0d0b10"/><stop offset="0.674" stop-color="#17112c"/><stop offset="0.704" stop-color="#4f146e"/><stop offset="0.733" stop-color="#b83b5d"/><stop offset="0.763" stop-color="#fca30d"/><stop offset="0.792" stop-color="#f3e661"/><stop offset="0.822" stop-color="#fca30d"/><stop offset="0.852" stop-color="#b83b5d"/><stop offset="0.881" stop-color="#4f146e"/><stop offset="0.911" stop-color="#17112c"/><stop offset="0.941" stop-color="#0d0b10"/><stop offset="0.970" stop-color="#0c0a0a"/><stop offset="1.000" stop-color="#0c0a0a"/></radialGradient><radialGradient id="r239" gradientUnits="userSpaceOnUse" cx="0" cy="0" r="1.263"><stop offset="0.583" stop-color="#0c0a0a"/><stop offset="0.613" stop-color="#0c0a0a"/><stop offset="0.643" stop-color="#0d0b0e"/><stop offset="0.673" stop-color="#16112a"/><stop offset="0.702" stop-color="#4e146d"/><stop offset="0.732" stop-color="#b3395f"/><stop offset="0.762" stop-color="#fb9a0d"/><stop offset="0.792" stop-color="#f6db4d"/><stop offset="0.821" stop-color="#fb9a0d"/><stop offset="0.851" stop-color="#b3395f"/><stop offset="0.881" stop-color="#4e146d"/><stop offset="0.911" stop-color="#16112a"/><stop offset="0.940" stop-color="#0d0b0e"/><stop offset="0.970" stop-color="#0c0a0a"/><stop offset="1.000" stop-color="#0c0a0a"/></radialGradient><radialGradient id="r240" gradientUnits="userSpaceOnUse" cx="0" cy="0" r="1.264"><stop offset="0.582" stop-color="#0c0a0a"/><stop offset="0.612" stop-color="#0c0a0a"/><stop offset="0.642" stop-color="#0d0b0e"/><stop offset="0.671" stop-color="#16112a"/><stop offset="0.701" stop-color="#4a136c"/><stop offset="0.731" stop-color="#ad3662"/><stop offset="0.761" stop-color="#f98f11"/><stop offset="0.791" stop-color="#f9cd3a"/><stop offset="0.821" stop-color="#f98f11"/><stop offset="0.851" stop-color="#ad3662"/><stop offset="0.881" stop-color="#4a136c"/><stop offset="0.910" stop-color="#16112a"/><stop offset="0.940" stop-color="#0d0b0e"/><stop offset="0.970" stop-color="#0c0a0a"/><stop offset="1.000" stop-color="#0c0a0a"/></radialGradient><radialGradient id="r241" gradientUnits="userSpaceOnUse" cx="0" cy="0" r="1.266"><stop offset="0.580" stop-color="#0c0a0a"/><stop offset="0.610" stop-color="#0c0a0a"/><stop offset="0.640" stop-color="#0d0b0e"/><stop offset="0.670" stop-color="#151027"/><stop offset="0.700" stop-color="#49136b"/><stop offset="0.730" stop-color="#a93565"/><stop offset="0.760" stop-color="#f78519"/><stop offset="0.790" stop-color="#fbc029"/><stop offset="0.820" stop-color="#f78519"/><stop offset="0.850" stop-color="#a93565"/><stop offset="0.880" stop-color="#49136b"/><stop offset="0.910" stop-color="#151027"/><stop offset="0.940" stop-color="#0d0b0e"/><stop offset="0.970" stop-color="#0c0a0a"/><stop offset="1.000" stop-color="#0c0a0a"/></radialGradient><radialGradient id="r242" gradientUnits="userSpaceOnUse" cx="0" cy="0" r="1.267"><stop offset="0.579" stop-color="#0c0a0a"/><stop offset="0.609" stop-color="#0c0a0a"/><stop offset="0.639" stop-color="#0d0b0e"/><stop offset="0.669" stop-color="#151027"/><stop offset="0.699" stop-color="#461369"/><stop offset="0.729" stop-color="#a33267"/><stop offset="0.759" stop-color="#f47d1f"/><stop offset="0.789" stop-color="#fcb31a"/><stop offset="0.819" stop-color="#f47d1f"/><stop offset="0.849" stop-color="#a33267"/><stop offset="0.880" stop-color="#461369"/><stop offset="0.910" stop-color="#151027"/><stop offset="0.940" stop-color="#0d0b0e"/><stop offset="0.970" stop-color="#0c0a0a"/><stop offset="1.000" stop-color="#0c0a0a"/></radialGradient><radialGradient id="r243" gradientUnits="userSpaceOnUse" cx="0" cy="0" r="1.268"><stop offset="0.577" stop-color="#0c0a0a"/><stop offset="0.607" stop-color="#0c0a0a"/><stop offset="0.637" stop-color="#0d0b0e"/><stop offset="0.668" stop-color="#141025"/><stop offset="0.698" stop-color="#441368"/><stop offset="0.728" stop-color="#9e3069"/><stop offset="0.758" stop-color="#f07327"/><stop offset="0.789" stop-color="#fca810"/><stop offset="0.819" stop-color="#f07327"/><stop offset="0.849" stop-color="#9e3069"/><stop offset="0.879" stop-color="#441368"/><stop offset="0.909" stop-color="#141025"/><stop offset="0.940" stop-color="#0d0b0e"/><stop offset="0.970" stop-color="#0c0a0a"/><stop offset="1.000" stop-color="#0c0a0a"/></radialGradient><radialGradient id="r244" gradientUnits="userSpaceOnUse" cx="0" cy="0" r="1.269"><stop offset="0.576" stop-color="#0c0a0a"/><stop offset="0.606" stop-color="#0c0a0a"/><stop offset="0.636" stop-color="#0d0b0e"/><stop offset="0.667" stop-color="#141025"/><stop offset="0.697" stop-color="#411366"/><stop offset="0.727" stop-color="#9a2f6b"/><stop offset="0.757" stop-color="#ec6c2d"/><stop offset="0.788" stop-color="#fb9d0c"/><stop offset="0.818" stop-color="#ec6c2d"/><stop offset="0.848" stop-color="#9a2f6b"/><stop offset="0.879" stop-color="#411366"/><stop offset="0.909" stop-color="#141025"/><stop offset="0.939" stop-color="#0d0b0e"/><stop offset="0.970" stop-color="#0c0a0a"/><stop offset="1.000" stop-color="#0c0a0a"/></radialGradient><radialGradient id="r245" gradientUnits="userSpaceOnUse" cx="0" cy="0" r="1.270"><stop offset="0.574" stop-color="#0c0a0a"/><stop offset="0.605" stop-color="#0c0a0a"/><stop offset="0.635" stop-color="#0d0b0e"/><stop offset="0.666" stop-color="#141025"/><stop offset="0.696" stop-color="#3f1365"/><stop offset="0.726" stop-color="#952d6c"/><stop offset="0.757" stop-color="#e86533"/><stop offset="0.787" stop-color="#fa930f"/><stop offset="0.818" stop-color="#e86533"/><stop offset="0.848" stop-color="#952d6c"/><stop offset="0.878" stop-color="#3f1365"/><stop offset="0.909" stop-color="#141025"/><stop offset="0.939" stop-color="#0d0b0e"/><stop offset="0.970" stop-color="#0c0a0a"/><stop offset="1.000" stop-color="#0c0a0a"/></radialGradient><radialGradient id="r246" gradientUnits="userSpaceOnUse" cx="0" cy="0" r="1.271"><stop offset="0.573" stop-color="#0c0a0a"/><stop offset="0.604" stop-color="#0c0a0a"/><stop offset="0.634" stop-color="#0d0b0e"/><stop offset="0.665" stop-color="#130f23"/><stop offset="0.695" stop-color="#3d1363"/><stop offset="0.726" stop-color="#922c6d"/><stop offset="0.756" stop-color="#e45f38"/><stop offset="0.787" stop-color="#f88c14"/><stop offset="0.817" stop-color="#e45f38"/><stop offset="0.848" stop-color="#922c6d"/><stop offset="0.878" stop-color="#3d1363"/><stop offset="0.909" stop-color="#130f23"/><stop offset="0.939" stop-color="#0d0b0e"/><stop offset="0.970" stop-color="#0c0a0a"/><stop offset="1.000" stop-color="#0c0a0a"/></radialGradient><radialGradient id="r247" gradientUnits="userSpaceOnUse" cx="0" cy="0" r="1.272"><stop offset="0.573" stop-color="#0c0a0a"/><stop offset="0.603" stop-color="#0c0a0a"/><stop offset="0.634" stop-color="#0d0b0e"/><stop offset="0.664" stop-color="#130f23"/><stop offset="0.695" stop-color="#3c1362"/><stop offset="0.725" stop-color="#8f2b6e"/><stop offset="0.756" stop-color="#e25d3a"/><stop offset="0.786" stop-color="#f78718"/><stop offset="0.817" stop-color="#e25d3a"/><stop offset="0.847" stop-color="#8f2b6e"/><stop offset="0.878" stop-color="#3c1362"/><stop offset="0.908" stop-color="#130f23"/><stop offset="0.939" stop-color="#0d0b0e"/><stop offset="0.969" stop-color="#0c0a0a"/><stop offset="1.000" stop-color="#0c0a0a"/></radialGradient><radialGradient id="r248" gradientUnits="userSpaceOnUse" cx="0" cy="0" r="1.272"><stop offset="0.573" stop-color="#0c0a0a"/><stop offset="0.603" stop-color="#0c0a0a"/><stop offset="0.634" stop-color="#0d0b0e"/><stop offset="0.664" stop-color="#130f23"/><stop offset="0.695" stop-color="#3c1362"/><stop offset="0.725" stop-color="#8f2b6e"/><stop offset="0.756" stop-color="#e25d3a"/><stop offset="0.786" stop-color="#f78718"/><stop offset="0.817" stop-color="#e25d3a"/><stop offset="0.847" stop-color="#8f2b6e"/><stop offset="0.878" stop-color="#3c1362"/><stop offset="0.908" stop-color="#130f23"/><stop offset="0.939" stop-color="#0d0b0e"/><stop offset="0.969" stop-color="#0c0a0a"/><stop offset="1.000" stop-color="#0c0a0a"/></radialGradient><radialGradient id="r249" gradientUnits="userSpaceOnUse" cx="0" cy="0" r="1.271"><stop offset="0.573" stop-color="#0c0a0a"/><stop offset="0.604" stop-color="#0c0a0a"/><stop offset="0.634" stop-color="#0d0b0e"/><stop offset="0.665" stop-color="#130f23"/><stop offset="0.695" stop-color="#3d1363"/><stop offset="0.726" stop-color="#922c6d"/><stop offset="0.756" stop-color="#e56137"/><stop offset="0.787" stop-color="#f88c14"/><stop offset="0.817" stop-color="#e56137"/><stop offset="0.848" stop-color="#922c6d"/><stop offset="0.878" stop-color="#3d1363"/><stop offset="0.909" stop-color="#130f23"/><stop offset="0.939" stop-color="#0d0b0e"/><stop offset="0.970" stop-color="#0c0a0a"/><stop offset="1.000" stop-color="#0c0a0a"/></radialGradient><radialGradient id="r250" gradientUnits="userSpaceOnUse" cx="0" cy="0" r="1.270"><stop offset="0.574" stop-color="#0c0a0a"/><stop offset="0.605" stop-color="#0c0a0a"/><stop offset="0.635" stop-color="#0d0b0e"/><stop offset="0.666" stop-color="#141025"/><stop offset="0.696" stop-color="#3f1365"/><stop offset="0.726" stop-color="#952d6c"/><stop offset="0.757" stop-color="#e86533"/><stop offset="0.787" stop-color="#fa940e"/><stop offset="0.818" stop-color="#e86533"/><stop offset="0.848" stop-color="#952d6c"/><stop offset="0.878" stop-color="#3f1365"/><stop offset="0.909" stop-color="#141025"/><stop offset="0.939" stop-color="#0d0b0e"/><stop offset="0.970" stop-color="#0c0a0a"/><stop offset="1.000" stop-color="#0c0a0a"/></radialGradient><radialGradient id="r251" gradientUnits="userSpaceOnUse" cx="0" cy="0" r="1.269"><stop offset="0.576" stop-color="#0c0a0a"/><stop offset="0.606" stop-color="#0c0a0a"/><stop offset="0.636" stop-color="#0d0b0e"/><stop offset="0.667" stop-color="#141025"/><stop offset="0.697" stop-color="#411366"/><stop offset="0.727" stop-color="#9a2f6b"/><stop offset="0.757" stop-color="#ec6c2d"/><stop offset="0.788" stop-color="#fb9d0c"/><stop offset="0.818" stop-color="#ec6c2d"/><stop offset="0.848" stop-color="#9a2f6b"/><stop offset="0.879" stop-color="#411366"/><stop offset="0.909" stop-color="#141025"/><stop offset="0.939" stop-color="#0d0b0e"/><stop offset="0.970" stop-color="#0c0a0a"/><stop offset="1.000" stop-color="#0c0a0a"/></radialGradient><radialGradient id="r252" gradientUnits="userSpaceOnUse" cx="0" cy="0" r="1.268"><stop offset="0.577" stop-color="#0c0a0a"/><stop offset="0.607" stop-color="#0c0a0a"/><stop offset="0.637" stop-color="#0d0b0e"/><stop offset="0.668" stop-color="#151027"/><stop offset="0.698" stop-color="#441368"/><stop offset="0.728" stop-color="#9e3069"/><stop offset="0.758" stop-color="#f17526"/><stop offset="0.789" stop-color="#fca810"/><stop offset="0.819" stop-color="#f17526"/><stop offset="0.849" stop-color="#9e3069"/><stop offset="0.879" stop-color="#441368"/><stop offset="0.909" stop-color="#151027"/><stop offset="0.940" stop-color="#0d0b0e"/><stop offset="0.970" stop-color="#0c0a0a"/><stop offset="1.000" stop-color="#0c0a0a"/></radialGradient><radialGradient id="r253" gradientUnits="userSpaceOnUse" cx="0" cy="0" r="1.267"><stop offset="0.579" stop-color="#0c0a0a"/><stop offset="0.609" stop-color="#0c0a0a"/><stop offset="0.639" stop-color="#0d0b0e"/><stop offset="0.669" stop-color="#151027"/><stop offset="0.699" stop-color="#461369"/><stop offset="0.729" stop-color="#a43367"/><stop offset="0.759" stop-color="#f47d1f"/><stop offset="0.789" stop-color="#fcb51c"/><stop offset="0.819" stop-color="#f47d1f"/><stop offset="0.849" stop-color="#a43367"/><stop offset="0.880" stop-color="#461369"/><stop offset="0.910" stop-color="#151027"/><stop offset="0.940" stop-color="#0d0b0e"/><stop offset="0.970" stop-color="#0c0a0a"/><stop offset="1.000" stop-color="#0c0a0a"/></radialGradient><radialGradient id="r254" gradientUnits="userSpaceOnUse" cx="0" cy="0" r="1.266"><stop offset="0.580" stop-color="#0c0a0a"/><stop offset="0.610" stop-color="#0c0a0a"/><stop offset="0.640" stop-color="#0d0b0e"/><stop offset="0.670" stop-color="#16112a"/><stop offset="0.700" stop-color="#49136b"/><stop offset="0.730" stop-color="#a93565"/><stop offset="0.760" stop-color="#f78718"/><stop offset="0.790" stop-color="#fbc22b"/><stop offset="0.820" stop-color="#f78718"/><stop offset="0.850" stop-color="#a93565"/><stop offset="0.880" stop-color="#49136b"/><stop offset="0.910" stop-color="#16112a"/><stop offset="0.940" stop-color="#0d0b0e"/><stop offset="0.970" stop-color="#0c0a0a"/><stop offset="1.000" stop-color="#0c0a0a"/></radialGradient><radialGradient id="r255" gradientUnits="userSpaceOnUse" cx="0" cy="0" r="1.264"><stop offset="0.582" stop-color="#0c0a0a"/><stop offset="0.612" stop-color="#0c0a0a"/><stop offset="0.642" stop-color="#0d0b0e"/><stop offset="0.671" stop-color="#16112a"/><stop offset="0.701" stop-color="#4a136c"/><stop offset="0.731" stop-color="#af3762"/><stop offset="0.761" stop-color="#f99110"/><stop offset="0.791" stop-color="#f8cf3c"/><stop offset="0.821" stop-color="#f99110"/><stop offset="0.851" stop-color="#af3762"/><stop offset="0.881" stop-color="#4a136c"/><stop offset="0.910" stop-color="#16112a"/><stop offset="0.940" stop-color="#0d0b0e"/><stop offset="0.970" stop-color="#0c0a0a"/><stop offset="1.000" stop-color="#0c0a0a"/></radialGradient><radialGradient id="r256" gradientUnits="userSpaceOnUse" cx="0" cy="0" r="1.263"><stop offset="0.583" stop-color="#0c0a0a"/><stop offset="0.613" stop-color="#0c0a0a"/><stop offset="0.643" stop-color="#0d0b0e"/><stop offset="0.673" stop-color="#17112c"/><stop offset="0.702" stop-color="#4e146d"/><stop offset="0.732" stop-color="#b53a5f"/><stop offset="0.762" stop-color="#fb9b0c"/><stop offset="0.792" stop-color="#f5dc51"/><stop offset="0.821" stop-color="#fb9b0c"/><stop offset="0.851" stop-color="#b53a5f"/><stop offset="0.881" stop-color="#4e146d"/><stop offset="0.911" stop-color="#17112c"/><stop offset="0.940" stop-color="#0d0b0e"/><stop offset="0.970" stop-color="#0c0a0a"/><stop offset="1.000" stop-color="#0c0a0a"/></radialGradient><radialGradient id="r257" gradientUnits="userSpaceOnUse" cx="0" cy="0" r="1.262"><stop offset="0.585" stop-color="#0c0a0a"/><stop offset="0.615" stop-color="#0c0a0a"/><stop offset="0.644" stop-color="#0d0b10"/><stop offset="0.674" stop-color="#17112c"/><stop offset="0.704" stop-color="#51156e"/><stop offset="0.733" stop-color="#b93c5c"/><stop offset="0.763" stop-color="#fca60f"/><stop offset="0.792" stop-color="#f3e969"/><stop offset="0.822" stop-color="#fca60f"/><stop offset="0.852" stop-color="#b93c5c"/><stop offset="0.881" stop-color="#51156e"/><stop offset="0.911" stop-color="#17112c"/><stop offset="0.941" stop-color="#0d0b10"/><stop offset="0.970" stop-color="#0c0a0a"/><stop offset="1.000" stop-color="#0c0a0a"/></radialGradient><radialGradient id="r258" gradientUnits="userSpaceOnUse" cx="0" cy="0" r="1.261"><stop offset="0.586" stop-color="#0c0a0a"/><stop offset="0.616" stop-color="#0c0a0a"/><stop offset="0.646" stop-color="#0d0b10"/><stop offset="0.675" stop-color="#18122e"/><stop offset="0.705" stop-color="#52156f"/><stop offset="0.734" stop-color="#bd3e5a"/><stop offset="0.764" stop-color="#fcaf17"/><stop offset="0.793" stop-color="#f2f381"/><stop offset="0.823" stop-color="#fcaf17"/><stop offset="0.852" stop-color="#bd3e5a"/><stop offset="0.882" stop-color="#52156f"/><stop offset="0.911" stop-color="#18122e"/><stop offset="0.941" stop-color="#0d0b10"/><stop offset="0.970" stop-color="#0c0a0a"/><stop offset="1.000" stop-color="#0c0a0a"/></radialGradient><radialGradient id="r259" gradientUnits="userSpaceOnUse" cx="0" cy="0" r="1.260"><stop offset="0.588" stop-color="#0c0a0a"/><stop offset="0.617" stop-color="#0c0a0a"/><stop offset="0.647" stop-color="#0d0b10"/><stop offset="0.676" stop-color="#18122e"/><stop offset="0.706" stop-color="#54166f"/><stop offset="0.735" stop-color="#c34156"/><stop offset="0.764" stop-color="#fcb920"/><stop offset="0.794" stop-color="#f7fa98"/><stop offset="0.823" stop-color="#fcb920"/><stop offset="0.853" stop-color="#c34156"/><stop offset="0.882" stop-color="#54166f"/><stop offset="0.912" stop-color="#18122e"/><stop offset="0.941" stop-color="#0d0b10"/><stop offset="0.971" stop-color="#0c0a0a"/><stop offset="1.000" stop-color="#0c0a0a"/></radialGradient><radialGradient id="r260" gradientUnits="userSpaceOnUse" cx="0" cy="0" r="1.259"><stop offset="0.589" stop-color="#0c0a0a"/><stop offset="0.618" stop-color="#0c0a0a"/><stop offset="0.648" stop-color="#0d0b10"/><stop offset="0.677" stop-color="#18122e"/><stop offset="0.706" stop-color="#571670"/><stop offset="0.736" stop-color="#c64354"/><stop offset="0.765" stop-color="#fbc22b"/><stop offset="0.795" stop-color="#fcffa7"/><stop offset="0.824" stop-color="#fbc22b"/><stop offset="0.853" stop-color="#c64354"/><stop offset="0.883" stop-color="#571670"/><stop offset="0.912" stop-color="#18122e"/><stop offset="0.941" stop-color="#0d0b10"/><stop offset="0.971" stop-color="#0c0a0a"/><stop offset="1.000" stop-color="#0c0a0a"/></radialGradient><radialGradient id="r261" gradientUnits="userSpaceOnUse" cx="0" cy="0" r="1.258"><stop offset="0.590" stop-color="#0c0a0a"/><stop offset="0.619" stop-color="#0c0a0a"/><stop offset="0.649" stop-color="#0d0b10"/><stop offset="0.678" stop-color="#191230"/><stop offset="0.707" stop-color="#591770"/><stop offset="0.736" stop-color="#ca4651"/><stop offset="0.766" stop-color="#faca35"/><stop offset="0.795" stop-color="#fcffa7"/><stop offset="0.824" stop-color="#faca35"/><stop offset="0.854" stop-color="#ca4651"/><stop offset="0.883" stop-color="#591770"/><stop offset="0.912" stop-color="#191230"/><stop offset="0.941" stop-color="#0d0b10"/><stop offset="0.971" stop-color="#0c0a0a"/><stop offset="1.000" stop-color="#0c0a0a"/></radialGradient><radialGradient id="r262" gradientUnits="userSpaceOnUse" cx="0" cy="0" r="1.257"><stop offset="0.591" stop-color="#0c0a0a"/><stop offset="0.620" stop-color="#0c0a0a"/><stop offset="0.649" stop-color="#0d0b10"/><stop offset="0.679" stop-color="#191230"/><stop offset="0.708" stop-color="#5a1870"/><stop offset="0.737" stop-color="#cc474f"/><stop offset="0.766" stop-color="#f8cf3c"/><stop offset="0.795" stop-color="#fcffa7"/><stop offset="0.825" stop-color="#f8cf3c"/><stop offset="0.854" stop-color="#cc474f"/><stop offset="0.883" stop-color="#5a1870"/><stop offset="0.912" stop-color="#191230"/><stop offset="0.942" stop-color="#0d0b10"/><stop offset="0.971" stop-color="#0c0a0a"/><stop offset="1.000" stop-color="#0c0a0a"/></radialGradient><radialGradient id="r263" gradientUnits="userSpaceOnUse" cx="0" cy="0" r="1.257"><stop offset="0.592" stop-color="#0c0a0a"/><stop offset="0.621" stop-color="#0c0a0a"/><stop offset="0.650" stop-color="#0d0b10"/><stop offset="0.679" stop-color="#191230"/><stop offset="0.708" stop-color="#5a1870"/><stop offset="0.737" stop-color="#ce484e"/><stop offset="0.767" stop-color="#f8d342"/><stop offset="0.796" stop-color="#fcffa7"/><stop offset="0.825" stop-color="#f8d342"/><stop offset="0.854" stop-color="#ce484e"/><stop offset="0.883" stop-color="#5a1870"/><stop offset="0.912" stop-color="#191230"/><stop offset="0.942" stop-color="#0d0b10"/><stop offset="0.971" stop-color="#0c0a0a"/><stop offset="1.000" stop-color="#0c0a0a"/></radialGradient><radialGradient id="r264" gradientUnits="userSpaceOnUse" cx="0" cy="0" r="1.256"><stop offset="0.592" stop-color="#0c0a0a"/><stop offset="0.621" stop-color="#0c0a0a"/><stop offset="0.650" stop-color="#0d0b10"/><stop offset="0.680" stop-color="#191230"/><stop offset="0.709" stop-color="#5c1871"/><stop offset="0.738" stop-color="#cf494d"/><stop offset="0.767" stop-color="#f7d748"/><stop offset="0.796" stop-color="#fcffa7"/><stop offset="0.825" stop-color="#f7d748"/><stop offset="0.854" stop-color="#cf494d"/><stop offset="0.883" stop-color="#5c1871"/><stop offset="0.913" stop-color="#191230"/><stop offset="0.942" stop-color="#0d0b10"/><stop offset="0.971" stop-color="#0c0a0a"/><stop offset="1.000" stop-color="#0c0a0a"/></radialGradient><radialGradient id="r265" gradientUnits="userSpaceOnUse" cx="0" cy="0" r="1.256"><stop offset="0.592" stop-color="#0c0a0a"/><stop offset="0.621" stop-color="#0c0a0a"/><stop offset="0.651" stop-color="#0d0b10"/><stop offset="0.680" stop-color="#191230"/><stop offset="0.709" stop-color="#5c1871"/><stop offset="0.738" stop-color="#d04a4c"/><stop offset="0.767" stop-color="#f6d94a"/><stop offset="0.796" stop-color="#fcffa7"/><stop offset="0.825" stop-color="#f6d94a"/><stop offset="0.854" stop-color="#d04a4c"/><stop offset="0.884" stop-color="#5c1871"/><stop offset="0.913" stop-color="#191230"/><stop offset="0.942" stop-color="#0d0b10"/><stop offset="0.971" stop-color="#0c0a0a"/><stop offset="1.000" stop-color="#0c0a0a"/></radialGradient><radialGradient id="r266" gradientUnits="userSpaceOnUse" cx="0" cy="0" r="1.256"><stop offset="0.592" stop-color="#0c0a0a"/><stop offset="0.621" stop-color="#0c0a0a"/><stop offset="0.651" stop-color="#0d0b10"/><stop offset="0.680" stop-color="#191230"/><stop offset="0.709" stop-color="#5c1871"/><stop offset="0.738" stop-color="#d04a4c"/><stop offset="0.767" stop-color="#f6d94a"/><stop offset="0.796" stop-color="#fcffa7"/><stop offset="0.825" stop-color="#f6d94a"/><stop offset="0.854" stop-color="#d04a4c"/><stop offset="0.884" stop-color="#5c1871"/><stop offset="0.913" stop-color="#191230"/><stop offset="0.942" stop-color="#0d0b10"/><stop offset="0.971" stop-color="#0c0a0a"/><stop offset="1.000" stop-color="#0c0a0a"/></radialGradient><radialGradient id="r267" gradientUnits="userSpaceOnUse" cx="0" cy="0" r="1.256"><stop offset="0.592" stop-color="#0c0a0a"/><stop offset="0.621" stop-color="#0c0a0a"/><stop offset="0.650" stop-color="#0d0b10"/><stop offset="0.680" stop-color="#191230"/><stop offset="0.709" stop-color="#5c1871"/><stop offset="0.738" stop-color="#cf494d"/><stop offset="0.767" stop-color="#f7d748"/><stop offset="0.796" stop-color="#fcffa7"/><stop offset="0.825" stop-color="#f7d748"/><stop offset="0.854" stop-color="#cf494d"/><stop offset="0.883" stop-color="#5c1871"/><stop offset="0.913" stop-color="#191230"/><stop offset="0.942" stop-color="#0d0b10"/><stop offset="0.971" stop-color="#0c0a0a"/><stop offset="1.000" stop-color="#0c0a0a"/></radialGradient><radialGradient id="r268" gradientUnits="userSpaceOnUse" cx="0" cy="0" r="1.257"><stop offset="0.592" stop-color="#0c0a0a"/><stop offset="0.621" stop-color="#0c0a0a"/><stop offset="0.650" stop-color="#0d0b10"/><stop offset="0.679" stop-color="#191230"/><stop offset="0.708" stop-color="#5a1870"/><stop offset="0.737" stop-color="#ce484e"/><stop offset="0.767" stop-color="#f8d342"/><stop offset="0.796" stop-color="#fcffa7"/><stop offset="0.825" stop-color="#f8d342"/><stop offset="0.854" stop-color="#ce484e"/><stop offset="0.883" stop-color="#5a1870"/><stop offset="0.912" stop-color="#191230"/><stop offset="0.942" stop-color="#0d0b10"/><stop offset="0.971" stop-color="#0c0a0a"/><stop offset="1.000" stop-color="#0c0a0a"/></radialGradient><radialGradient id="r269" gradientUnits="userSpaceOnUse" cx="0" cy="0" r="1.257"><stop offset="0.591" stop-color="#0c0a0a"/><stop offset="0.620" stop-color="#0c0a0a"/><stop offset="0.649" stop-color="#0d0b10"/><stop offset="0.679" stop-color="#191230"/><stop offset="0.708" stop-color="#5a1870"/><stop offset="0.737" stop-color="#cc474f"/><stop offset="0.766" stop-color="#f8cf3c"/><stop offset="0.795" stop-color="#fcffa7"/><stop offset="0.825" stop-color="#f8cf3c"/><stop offset="0.854" stop-color="#cc474f"/><stop offset="0.883" stop-color="#5a1870"/><stop offset="0.912" stop-color="#191230"/><stop offset="0.942" stop-color="#0d0b10"/><stop offset="0.971" stop-color="#0c0a0a"/><stop offset="1.000" stop-color="#0c0a0a"/></radialGradient><radialGradient id="r270" gradientUnits="userSpaceOnUse" cx="0" cy="0" r="1.258"><stop offset="0.590" stop-color="#0c0a0a"/><stop offset="0.619" stop-color="#0c0a0a"/><stop offset="0.649" stop-color="#0d0b10"/><stop offset="0.678" stop-color="#191230"/><stop offset="0.707" stop-color="#591770"/><stop offset="0.736" stop-color="#ca4651"/><stop offset="0.766" stop-color="#faca35"/><stop offset="0.795" stop-color="#fcffa7"/><stop offset="0.824" stop-color="#faca35"/><stop offset="0.854" stop-color="#ca4651"/><stop offset="0.883" stop-color="#591770"/><stop offset="0.912" stop-color="#191230"/><stop offset="0.941" stop-color="#0d0b10"/><stop offset="0.971" stop-color="#0c0a0a"/><stop offset="1.000" stop-color="#0c0a0a"/></radialGradient><radialGradient id="r271" gradientUnits="userSpaceOnUse" cx="0" cy="0" r="1.259"><stop offset="0.589" stop-color="#0c0a0a"/><stop offset="0.618" stop-color="#0c0a0a"/><stop offset="0.648" stop-color="#0d0b10"/><stop offset="0.677" stop-color="#18122e"/><stop offset="0.706" stop-color="#571670"/><stop offset="0.736" stop-color="#c64354"/><stop offset="0.765" stop-color="#fbc22b"/><stop offset="0.795" stop-color="#fcffa7"/><stop offset="0.824" stop-color="#fbc22b"/><stop offset="0.853" stop-color="#c64354"/><stop offset="0.883" stop-color="#571670"/><stop offset="0.912" stop-color="#18122e"/><stop offset="0.941" stop-color="#0d0b10"/><stop offset="0.971" stop-color="#0c0a0a"/><stop offset="1.000" stop-color="#0c0a0a"/></radialGradient><radialGradient id="r272" gradientUnits="userSpaceOnUse" cx="0" cy="0" r="1.260"><stop offset="0.588" stop-color="#0c0a0a"/><stop offset="0.617" stop-color="#0c0a0a"/><stop offset="0.647" stop-color="#0d0b10"/><stop offset="0.676" stop-color="#18122e"/><stop offset="0.706" stop-color="#54166f"/><stop offset="0.735" stop-color="#c34156"/><stop offset="0.764" stop-color="#fcb920"/><stop offset="0.794" stop-color="#f7fa98"/><stop offset="0.823" stop-color="#fcb920"/><stop offset="0.853" stop-color="#c34156"/><stop offset="0.882" stop-color="#54166f"/><stop offset="0.912" stop-color="#18122e"/><stop offset="0.941" stop-color="#0d0b10"/><stop offset="0.971" stop-color="#0c0a0a"/><stop offset="1.000" stop-color="#0c0a0a"/></radialGradient><radialGradient id="r273" gradientUnits="userSpaceOnUse" cx="0" cy="0" r="1.261"><stop offset="0.586" stop-color="#0c0a0a"/><stop offset="0.616" stop-color="#0c0a0a"/><stop offset="0.646" stop-color="#0d0b10"/><stop offset="0.675" stop-color="#18122e"/><stop offset="0.705" stop-color="#52156f"/><stop offset="0.734" stop-color="#bd3e5a"/><stop offset="0.764" stop-color="#fcaf17"/><stop offset="0.793" stop-color="#f2f381"/><stop offset="0.823" stop-color="#fcaf17"/><stop offset="0.852" stop-color="#bd3e5a"/><stop offset="0.882" stop-color="#52156f"/><stop offset="0.911" stop-color="#18122e"/><stop offset="0.941" stop-color="#0d0b10"/><stop offset="0.970" stop-color="#0c0a0a"/><stop offset="1.000" stop-color="#0c0a0a"/></radialGradient><radialGradient id="r274" gradientUnits="userSpaceOnUse" cx="0" cy="0" r="1.262"><stop offset="0.585" stop-color="#0c0a0a"/><stop offset="0.615" stop-color="#0c0a0a"/><stop offset="0.644" stop-color="#0d0b10"/><stop offset="0.674" stop-color="#17112c"/><stop offset="0.704" stop-color="#51156e"/><stop offset="0.733" stop-color="#b93c5c"/><stop offset="0.763" stop-color="#fca60f"/><stop offset="0.792" stop-color="#f3e969"/><stop offset="0.822" stop-color="#fca60f"/><stop offset="0.852" stop-color="#b93c5c"/><stop offset="0.881" stop-color="#51156e"/><stop offset="0.911" stop-color="#17112c"/><stop offset="0.941" stop-color="#0d0b10"/><stop offset="0.970" stop-color="#0c0a0a"/><stop offset="1.000" stop-color="#0c0a0a"/></radialGradient><radialGradient id="r275" gradientUnits="userSpaceOnUse" cx="0" cy="0" r="1.263"><stop offset="0.583" stop-color="#0c0a0a"/><stop offset="0.613" stop-color="#0c0a0a"/><stop offset="0.643" stop-color="#0d0b0e"/><stop offset="0.673" stop-color="#17112c"/><stop offset="0.702" stop-color="#4e146d"/><stop offset="0.732" stop-color="#b53a5f"/><stop offset="0.762" stop-color="#fb9b0c"/><stop offset="0.792" stop-color="#f5dc51"/><stop offset="0.821" stop-color="#fb9b0c"/><stop offset="0.851" stop-color="#b53a5f"/><stop offset="0.881" stop-color="#4e146d"/><stop offset="0.911" stop-color="#17112c"/><stop offset="0.940" stop-color="#0d0b0e"/><stop offset="0.970" stop-color="#0c0a0a"/><stop offset="1.000" stop-color="#0c0a0a"/></radialGradient><radialGradient id="r276" gradientUnits="userSpaceOnUse" cx="0" cy="0" r="1.264"><stop offset="0.582" stop-color="#0c0a0a"/><stop offset="0.612" stop-color="#0c0a0a"/><stop offset="0.642" stop-color="#0d0b0e"/><stop offset="0.671" stop-color="#16112a"/><stop offset="0.701" stop-color="#4a136c"/><stop offset="0.731" stop-color="#af3762"/><stop offset="0.761" stop-color="#f99110"/><stop offset="0.791" stop-color="#f8cf3c"/><stop offset="0.821" stop-color="#f99110"/><stop offset="0.851" stop-color="#af3762"/><stop offset="0.881" stop-color="#4a136c"/><stop offset="0.910" stop-color="#16112a"/><stop offset="0.940" stop-color="#0d0b0e"/><stop offset="0.970" stop-color="#0c0a0a"/><stop offset="1.000" stop-color="#0c0a0a"/></radialGradient><radialGradient id="r277" gradientUnits="userSpaceOnUse" cx="0" cy="0" r="1.266"><stop offset="0.580" stop-color="#0c0a0a"/><stop offset="0.610" stop-color="#0c0a0a"/><stop offset="0.640" stop-color="#0d0b0e"/><stop offset="0.670" stop-color="#16112a"/><stop offset="0.700" stop-color="#49136b"/><stop offset="0.730" stop-color="#a93565"/><stop offset="0.760" stop-color="#f78718"/><stop offset="0.790" stop-color="#fbc22b"/><stop offset="0.820" stop-color="#f78718"/><stop offset="0.850" stop-color="#a93565"/><stop offset="0.880" stop-color="#49136b"/><stop offset="0.910" stop-color="#16112a"/><stop offset="0.940" stop-color="#0d0b0e"/><stop offset="0.970" stop-color="#0c0a0a"/><stop offset="1.000" stop-color="#0c0a0a"/></radialGradient><radialGradient id="r278" gradientUnits="userSpaceOnUse" cx="0" cy="0" r="1.267"><stop offset="0.579" stop-color="#0c0a0a"/><stop offset="0.609" stop-color="#0c0a0a"/><stop offset="0.639" stop-color="#0d0b0e"/><stop offset="0.669" stop-color="#151027"/><stop offset="0.699" stop-color="#461369"/><stop offset="0.729" stop-color="#a43367"/><stop offset="0.759" stop-color="#f47d1f"/><stop offset="0.789" stop-color="#fcb51c"/><stop offset="0.819" stop-color="#f47d1f"/><stop offset="0.849" stop-color="#a43367"/><stop offset="0.880" stop-color="#461369"/><stop offset="0.910" stop-color="#151027"/><stop offset="0.940" stop-color="#0d0b0e"/><stop offset="0.970" stop-color="#0c0a0a"/><stop offset="1.000" stop-color="#0c0a0a"/></radialGradient><radialGradient id="r279" gradientUnits="userSpaceOnUse" cx="0" cy="0" r="1.268"><stop offset="0.577" stop-color="#0c0a0a"/><stop offset="0.607" stop-color="#0c0a0a"/><stop offset="0.637" stop-color="#0d0b0e"/><stop offset="0.668" stop-color="#151027"/><stop offset="0.698" stop-color="#441368"/><stop offset="0.728" stop-color="#9e3069"/><stop offset="0.758" stop-color="#f17526"/><stop offset="0.789" stop-color="#fca810"/><stop offset="0.819" stop-color="#f17526"/><stop offset="0.849" stop-color="#9e3069"/><stop offset="0.879" stop-color="#441368"/><stop offset="0.909" stop-color="#151027"/><stop offset="0.940" stop-color="#0d0b0e"/><stop offset="0.970" stop-color="#0c0a0a"/><stop offset="1.000" stop-color="#0c0a0a"/></radialGradient><radialGradient id="r280" gradientUnits="userSpaceOnUse" cx="0" cy="0" r="1.269"><stop offset="0.576" stop-color="#0c0a0a"/><stop offset="0.606" stop-color="#0c0a0a"/><stop offset="0.636" stop-color="#0d0b0e"/><stop offset="0.667" stop-color="#141025"/><stop offset="0.697" stop-color="#411366"/><stop offset="0.727" stop-color="#9a2f6b"/><stop offset="0.757" stop-color="#ec6c2d"/><stop offset="0.788" stop-color="#fb9d0c"/><stop offset="0.818" stop-color="#ec6c2d"/><stop offset="0.848" stop-color="#9a2f6b"/><stop offset="0.879" stop-color="#411366"/><stop offset="0.909" stop-color="#141025"/><stop offset="0.939" stop-color="#0d0b0e"/><stop offset="0.970" stop-color="#0c0a0a"/><stop offset="1.000" stop-color="#0c0a0a"/></radialGradient><radialGradient id="r281" gradientUnits="userSpaceOnUse" cx="0" cy="0" r="1.270"><stop offset="0.574" stop-color="#0c0a0a"/><stop offset="0.605" stop-color="#0c0a0a"/><stop offset="0.635" stop-color="#0d0b0e"/><stop offset="0.666" stop-color="#141025"/><stop offset="0.696" stop-color="#3f1365"/><stop offset="0.726" stop-color="#952d6c"/><stop offset="0.757" stop-color="#e86533"/><stop offset="0.787" stop-color="#fa940e"/><stop offset="0.818" stop-color="#e86533"/><stop offset="0.848" stop-color="#952d6c"/><stop offset="0.878" stop-color="#3f1365"/><stop offset="0.909" stop-color="#141025"/><stop offset="0.939" stop-color="#0d0b0e"/><stop offset="0.970" stop-color="#0c0a0a"/><stop offset="1.000" stop-color="#0c0a0a"/></radialGradient><radialGradient id="r282" gradientUnits="userSpaceOnUse" cx="0" cy="0" r="1.271"><stop offset="0.573" stop-color="#0c0a0a"/><stop offset="0.604" stop-color="#0c0a0a"/><stop offset="0.634" stop-color="#0d0b0e"/><stop offset="0.665" stop-color="#130f23"/><stop offset="0.695" stop-color="#3d1363"/><stop offset="0.726" stop-color="#922c6d"/><stop offset="0.756" stop-color="#e56137"/><stop offset="0.787" stop-color="#f88c14"/><stop offset="0.817" stop-color="#e56137"/><stop offset="0.848" stop-color="#922c6d"/><stop offset="0.878" stop-color="#3d1363"/><stop offset="0.909" stop-color="#130f23"/><stop offset="0.939" stop-color="#0d0b0e"/><stop offset="0.970" stop-color="#0c0a0a"/><stop offset="1.000" stop-color="#0c0a0a"/></radialGradient><radialGradient id="r283" gradientUnits="userSpaceOnUse" cx="0" cy="0" r="1.272"><stop offset="0.573" stop-color="#0c0a0a"/><stop offset="0.603" stop-color="#0c0a0a"/><stop offset="0.634" stop-color="#0d0b0e"/><stop offset="0.664" stop-color="#130f23"/><stop offset="0.695" stop-color="#3c1362"/><stop offset="0.725" stop-color="#8f2b6e"/><stop offset="0.756" stop-color="#e25d3a"/><stop offset="0.786" stop-color="#f78718"/><stop offset="0.817" stop-color="#e25d3a"/><stop offset="0.847" stop-color="#8f2b6e"/><stop offset="0.878" stop-color="#3c1362"/><stop offset="0.908" stop-color="#130f23"/><stop offset="0.939" stop-color="#0d0b0e"/><stop offset="0.969" stop-color="#0c0a0a"/><stop offset="1.000" stop-color="#0c0a0a"/></radialGradient><radialGradient id="r284" gradientUnits="userSpaceOnUse" cx="0" cy="0" r="1.272"><stop offset="0.573" stop-color="#0c0a0a"/><stop offset="0.603" stop-color="#0c0a0a"/><stop offset="0.634" stop-color="#0d0b0e"/><stop offset="0.664" stop-color="#130f23"/><stop offset="0.695" stop-color="#3c1362"/><stop offset="0.725" stop-color="#8f2b6e"/><stop offset="0.756" stop-color="#e25d3a"/><stop offset="0.786" stop-color="#f78718"/><stop offset="0.817" stop-color="#e25d3a"/><stop offset="0.847" stop-color="#8f2b6e"/><stop offset="0.878" stop-color="#3c1362"/><stop offset="0.908" stop-color="#130f23"/><stop offset="0.939" stop-color="#0d0b0e"/><stop offset="0.969" stop-color="#0c0a0a"/><stop offset="1.000" stop-color="#0c0a0a"/></radialGradient><radialGradient id="r285" gradientUnits="userSpaceOnUse" cx="0" cy="0" r="1.271"><stop offset="0.573" stop-color="#0c0a0a"/><stop offset="0.604" stop-color="#0c0a0a"/><stop offset="0.634" stop-color="#0d0b0e"/><stop offset="0.665" stop-color="#130f23"/><stop offset="0.695" stop-color="#3d1363"/><stop offset="0.726" stop-color="#922c6d"/><stop offset="0.756" stop-color="#e45f38"/><stop offset="0.787" stop-color="#f88c14"/><stop offset="0.817" stop-color="#e45f38"/><stop offset="0.848" stop-color="#922c6d"/><stop offset="0.878" stop-color="#3d1363"/><stop offset="0.909" stop-color="#130f23"/><stop offset="0.939" stop-color="#0d0b0e"/><stop offset="0.970" stop-color="#0c0a0a"/><stop offset="1.000" stop-color="#0c0a0a"/></radialGradient><radialGradient id="r286" gradientUnits="userSpaceOnUse" cx="0" cy="0" r="1.270"><stop offset="0.574" stop-color="#0c0a0a"/><stop offset="0.605" stop-color="#0c0a0a"/><stop offset="0.635" stop-color="#0d0b0e"/><stop offset="0.666" stop-color="#141025"/><stop offset="0.696" stop-color="#3f1365"/><stop offset="0.726" stop-color="#952d6c"/><stop offset="0.757" stop-color="#e86533"/><stop offset="0.787" stop-color="#fa930f"/><stop offset="0.818" stop-color="#e86533"/><stop offset="0.848" stop-color="#952d6c"/><stop offset="0.878" stop-color="#3f1365"/><stop offset="0.909" stop-color="#141025"/><stop offset="0.939" stop-color="#0d0b0e"/><stop offset="0.970" stop-color="#0c0a0a"/><stop offset="1.000" stop-color="#0c0a0a"/></radialGradient><radialGradient id="r287" gradientUnits="userSpaceOnUse" cx="0" cy="0" r="1.269"><stop offset="0.576" stop-color="#0c0a0a"/><stop offset="0.606" stop-color="#0c0a0a"/><stop offset="0.636" stop-color="#0d0b0e"/><stop offset="0.667" stop-color="#141025"/><stop offset="0.697" stop-color="#411366"/><stop offset="0.727" stop-color="#9a2f6b"/><stop offset="0.757" stop-color="#ec6c2d"/><stop offset="0.788" stop-color="#fb9d0c"/><stop offset="0.818" stop-color="#ec6c2d"/><stop offset="0.848" stop-color="#9a2f6b"/><stop offset="0.879" stop-color="#411366"/><stop offset="0.909" stop-color="#141025"/><stop offset="0.939" stop-color="#0d0b0e"/><stop offset="0.970" stop-color="#0c0a0a"/><stop offset="1.000" stop-color="#0c0a0a"/></radialGradient><radialGradient id="r288" gradientUnits="userSpaceOnUse" cx="0" cy="0" r="1.268"><stop offset="0.577" stop-color="#0c0a0a"/><stop offset="0.607" stop-color="#0c0a0a"/><stop offset="0.637" stop-color="#0d0b0e"/><stop offset="0.668" stop-color="#141025"/><stop offset="0.698" stop-color="#441368"/><stop offset="0.728" stop-color="#9e3069"/><stop offset="0.758" stop-color="#f07327"/><stop offset="0.789" stop-color="#fca810"/><stop offset="0.819" stop-color="#f07327"/><stop offset="0.849" stop-color="#9e3069"/><stop offset="0.879" stop-color="#441368"/><stop offset="0.909" stop-color="#141025"/><stop offset="0.940" stop-color="#0d0b0e"/><stop offset="0.970" stop-color="#0c0a0a"/><stop offset="1.000" stop-color="#0c0a0a"/></radialGradient><radialGradient id="r289" gradientUnits="userSpaceOnUse" cx="0" cy="0" r="1.267"><stop offset="0.579" stop-color="#0c0a0a"/><stop offset="0.609" stop-color="#0c0a0a"/><stop offset="0.639" stop-color="#0d0b0e"/><stop offset="0.669" stop-color="#151027"/><stop offset="0.699" stop-color="#461369"/><stop offset="0.729" stop-color="#a33267"/><stop offset="0.759" stop-color="#f47d1f"/><stop offset="0.789" stop-color="#fcb31a"/><stop offset="0.819" stop-color="#f47d1f"/><stop offset="0.849" stop-color="#a33267"/><stop offset="0.880" stop-color="#461369"/><stop offset="0.910" stop-color="#151027"/><stop offset="0.940" stop-color="#0d0b0e"/><stop offset="0.970" stop-color="#0c0a0a"/><stop offset="1.000" stop-color="#0c0a0a"/></radialGradient><radialGradient id="r290" gradientUnits="userSpaceOnUse" cx="0" cy="0" r="1.266"><stop offset="0.580" stop-color="#0c0a0a"/><stop offset="0.610" stop-color="#0c0a0a"/><stop offset="0.640" stop-color="#0d0b0e"/><stop offset="0.670" stop-color="#151027"/><stop offset="0.700" stop-color="#49136b"/><stop offset="0.730" stop-color="#a93565"/><stop offset="0.760" stop-color="#f78519"/><stop offset="0.790" stop-color="#fbc029"/><stop offset="0.820" stop-color="#f78519"/><stop offset="0.850" stop-color="#a93565"/><stop offset="0.880" stop-color="#49136b"/><stop offset="0.910" stop-color="#151027"/><stop offset="0.940" stop-color="#0d0b0e"/><stop offset="0.970" stop-color="#0c0a0a"/><stop offset="1.000" stop-color="#0c0a0a"/></radialGradient><radialGradient id="r291" gradientUnits="userSpaceOnUse" cx="0" cy="0" r="1.264"><stop offset="0.582" stop-color="#0c0a0a"/><stop offset="0.612" stop-color="#0c0a0a"/><stop offset="0.642" stop-color="#0d0b0e"/><stop offset="0.671" stop-color="#16112a"/><stop offset="0.701" stop-color="#4a136c"/><stop offset="0.731" stop-color="#ad3662"/><stop offset="0.761" stop-color="#f98f11"/><stop offset="0.791" stop-color="#f9cd3a"/><stop offset="0.821" stop-color="#f98f11"/><stop offset="0.851" stop-color="#ad3662"/><stop offset="0.881" stop-color="#4a136c"/><stop offset="0.910" stop-color="#16112a"/><stop offset="0.940" stop-color="#0d0b0e"/><stop offset="0.970" stop-color="#0c0a0a"/><stop offset="1.000" stop-color="#0c0a0a"/></radialGradient><radialGradient id="r292" gradientUnits="userSpaceOnUse" cx="0" cy="0" r="1.263"><stop offset="0.583" stop-color="#0c0a0a"/><stop offset="0.613" stop-color="#0c0a0a"/><stop offset="0.643" stop-color="#0d0b0e"/><stop offset="0.673" stop-color="#16112a"/><stop offset="0.702" stop-color="#4e146d"/><stop offset="0.732" stop-color="#b3395f"/><stop offset="0.762" stop-color="#fb9a0d"/><stop offset="0.792" stop-color="#f6db4d"/><stop offset="0.821" stop-color="#fb9a0d"/><stop offset="0.851" stop-color="#b3395f"/><stop offset="0.881" stop-color="#4e146d"/><stop offset="0.911" stop-color="#16112a"/><stop offset="0.940" stop-color="#0d0b0e"/><stop offset="0.970" stop-color="#0c0a0a"/><stop offset="1.000" stop-color="#0c0a0a"/></radialGradient><radialGradient id="r293" gradientUnits="userSpaceOnUse" cx="0" cy="0" r="1.262"><stop offset="0.585" stop-color="#0c0a0a"/><stop offset="0.615" stop-color="#0c0a0a"/><stop offset="0.644" stop-color="#0d0b10"/><stop offset="0.674" stop-color="#17112c"/><stop offset="0.704" stop-color="#4f146e"/><stop offset="0.733" stop-color="#b83b5d"/><stop offset="0.763" stop-color="#fca30d"/><stop offset="0.792" stop-color="#f3e661"/><stop offset="0.822" stop-color="#fca30d"/><stop offset="0.852" stop-color="#b83b5d"/><stop offset="0.881" stop-color="#4f146e"/><stop offset="0.911" stop-color="#17112c"/><stop offset="0.941" stop-color="#0d0b10"/><stop offset="0.970" stop-color="#0c0a0a"/><stop offset="1.000" stop-color="#0c0a0a"/></radialGradient><radialGradient id="r294" gradientUnits="userSpaceOnUse" cx="0" cy="0" r="1.261"><stop offset="0.586" stop-color="#0c0a0a"/><stop offset="0.616" stop-color="#0c0a0a"/><stop offset="0.646" stop-color="#0d0b10"/><stop offset="0.675" stop-color="#17112c"/><stop offset="0.705" stop-color="#52156f"/><stop offset="0.734" stop-color="#bc3d5a"/><stop offset="0.764" stop-color="#fcae15"/><stop offset="0.793" stop-color="#f2f17d"/><stop offset="0.823" stop-color="#fcae15"/><stop offset="0.852" stop-color="#bc3d5a"/><stop offset="0.882" stop-color="#52156f"/><stop offset="0.911" stop-color="#17112c"/><stop offset="0.941" stop-color="#0d0b10"/><stop offset="0.970" stop-color="#0c0a0a"/><stop offset="1.000" stop-color="#0c0a0a"/></radialGradient><radialGradient id="r295" gradientUnits="userSpaceOnUse" cx="0" cy="0" r="1.260"><stop offset="0.588" stop-color="#0c0a0a"/><stop offset="0.617" stop-color="#0c0a0a"/><stop offset="0.647" stop-color="#0d0b10"/><stop offset="0.676" stop-color="#18122e"/><stop offset="0.706" stop-color="#54166f"/><stop offset="0.735" stop-color="#c04058"/><stop offset="0.764" stop-color="#fcb71e"/><stop offset="0.794" stop-color="#f5f891"/><stop offset="0.823" stop-color="#fcb71e"/><stop offset="0.853" stop-color="#c04058"/><stop offset="0.882" stop-color="#54166f"/><stop offset="0.912" stop-color="#18122e"/><stop offset="0.941" stop-color="#0d0b10"/><stop offset="0.971" stop-color="#0c0a0a"/><stop offset="1.000" stop-color="#0c0a0a"/></radialGradient><radialGradient id="r296" gradientUnits="userSpaceOnUse" cx="0" cy="0" r="1.259"><stop offset="0.589" stop-color="#0c0a0a"/><stop offset="0.618" stop-color="#0c0a0a"/><stop offset="0.648" stop-color="#0d0b10"/><stop offset="0.677" stop-color="#18122e"/><stop offset="0.706" stop-color="#56166f"/><stop offset="0.736" stop-color="#c44255"/><stop offset="0.765" stop-color="#fbbe27"/><stop offset="0.795" stop-color="#fbfea3"/><stop offset="0.824" stop-color="#fbbe27"/><stop offset="0.853" stop-color="#c44255"/><stop offset="0.883" stop-color="#56166f"/><stop offset="0.912" stop-color="#18122e"/><stop offset="0.941" stop-color="#0d0b10"/><stop offset="0.971" stop-color="#0c0a0a"/><stop offset="1.000" stop-color="#0c0a0a"/></radialGradient><radialGradient id="r297" gradientUnits="userSpaceOnUse" cx="0" cy="0" r="1.258"><stop offset="0.590" stop-color="#0c0a0a"/><stop offset="0.619" stop-color="#0c0a0a"/><stop offset="0.649" stop-color="#0d0b10"/><stop offset="0.678" stop-color="#191230"/><stop offset="0.707" stop-color="#571670"/><stop offset="0.736" stop-color="#c74453"/><stop offset="0.766" stop-color="#fac630"/><stop offset="0.795" stop-color="#fcffa7"/><stop offset="0.824" stop-color="#fac630"/><stop offset="0.854" stop-color="#c74453"/><stop offset="0.883" stop-color="#571670"/><stop offset="0.912" stop-color="#191230"/><stop offset="0.941" stop-color="#0d0b10"/><stop offset="0.971" stop-color="#0c0a0a"/><stop offset="1.000" stop-color="#0c0a0a"/></radialGradient><radialGradient id="r298" gradientUnits="userSpaceOnUse" cx="0" cy="0" r="1.257"><stop offset="0.591" stop-color="#0c0a0a"/><stop offset="0.620" stop-color="#0c0a0a"/><stop offset="0.649" stop-color="#0d0b10"/><stop offset="0.679" stop-color="#191230"/><stop offset="0.708" stop-color="#591770"/><stop offset="0.737" stop-color="#ca4651"/><stop offset="0.766" stop-color="#f9cc37"/><stop offset="0.795" stop-color="#fcffa7"/><stop offset="0.825" stop-color="#f9cc37"/><stop offset="0.854" stop-color="#ca4651"/><stop offset="0.883" stop-color="#591770"/><stop offset="0.912" stop-color="#191230"/><stop offset="0.942" stop-color="#0d0b10"/><stop offset="0.971" stop-color="#0c0a0a"/><stop offset="1.000" stop-color="#0c0a0a"/></radialGradient><radialGradient id="r299" gradientUnits="userSpaceOnUse" cx="0" cy="0" r="1.257"><stop offset="0.592" stop-color="#0c0a0a"/><stop offset="0.621" stop-color="#0c0a0a"/><stop offset="0.650" stop-color="#0d0b10"/><stop offset="0.679" stop-color="#191230"/><stop offset="0.708" stop-color="#5a1870"/><stop offset="0.737" stop-color="#cc474f"/><stop offset="0.767" stop-color="#f8cf3c"/><stop offset="0.796" stop-color="#fcffa7"/><stop offset="0.825" stop-color="#f8cf3c"/><stop offset="0.854" stop-color="#cc474f"/><stop offset="0.883" stop-color="#5a1870"/><stop offset="0.912" stop-color="#191230"/><stop offset="0.942" stop-color="#0d0b10"/><stop offset="0.971" stop-color="#0c0a0a"/><stop offset="1.000" stop-color="#0c0a0a"/></radialGradient><radialGradient id="r300" gradientUnits="userSpaceOnUse" cx="0" cy="0" r="1.256"><stop offset="0.592" stop-color="#0c0a0a"/><stop offset="0.621" stop-color="#0c0a0a"/><stop offset="0.650" stop-color="#0d0b10"/><stop offset="0.680" stop-color="#191230"/><stop offset="0.709" stop-color="#5a1870"/><stop offset="0.738" stop-color="#ce484e"/><stop offset="0.767" stop-color="#f8d342"/><stop offset="0.796" stop-color="#fcffa7"/><stop offset="0.825" stop-color="#f8d342"/><stop offset="0.854" stop-color="#ce484e"/><stop offset="0.883" stop-color="#5a1870"/><stop offset="0.913" stop-color="#191230"/><stop offset="0.942" stop-color="#0d0b10"/><stop offset="0.971" stop-color="#0c0a0a"/><stop offset="1.000" stop-color="#0c0a0a"/></radialGradient><radialGradient id="r301" gradientUnits="userSpaceOnUse" cx="0" cy="0" r="1.256"><stop offset="0.592" stop-color="#0c0a0a"/><stop offset="0.621" stop-color="#0c0a0a"/><stop offset="0.651" stop-color="#0d0b10"/><stop offset="0.680" stop-color="#191230"/><stop offset="0.709" stop-color="#5a1870"/><stop offset="0.738" stop-color="#ce484e"/><stop offset="0.767" stop-color="#f7d545"/><stop offset="0.796" stop-color="#fcffa7"/><stop offset="0.825" stop-color="#f7d545"/><stop offset="0.854" stop-color="#ce484e"/><stop offset="0.884" stop-color="#5a1870"/><stop offset="0.913" stop-color="#191230"/><stop offset="0.942" stop-color="#0d0b10"/><stop offset="0.971" stop-color="#0c0a0a"/><stop offset="1.000" stop-color="#0c0a0a"/></radialGradient><linearGradient id="cb302" x1="0" y1="0" x2="0" y2="1"><stop offset="0" stop-color="#fcffa7"/><stop offset="0.03" stop-color="#f4f78d"/><stop offset="0.06" stop-color="#f2eb6d"/><stop offset="0.09" stop-color="#f5dc51"/><stop offset="0.12" stop-color="#f9cd3a"/><stop offset="0.16" stop-color="#fbbe27"/><stop offset="0.19" stop-color="#fcaf17"/><stop offset="0.22" stop-color="#fca10d"/><stop offset="0.25" stop-color="#fa930f"/><stop offset="0.28" stop-color="#f78519"/><stop offset="0.31" stop-color="#f27823"/><stop offset="0.34" stop-color="#ec6c2d"/><stop offset="0.38" stop-color="#e56137"/><stop offset="0.41" stop-color="#dd5640"/><stop offset="0.44" stop-color="#d44d49"/><stop offset="0.47" stop-color="#ca4651"/><stop offset="0.5" stop-color="#bf3f59"/><stop offset="0.53" stop-color="#b3395f"/><stop offset="0.56" stop-color="#a73465"/><stop offset="0.59" stop-color="#9b2f6a"/><stop offset="0.62" stop-color="#8f2b6e"/><stop offset="0.66" stop-color="#832770"/><stop offset="0.69" stop-color="#772272"/><stop offset="0.72" stop-color="#6b1e72"/><stop offset="0.75" stop-color="#5f1971"/><stop offset="0.78" stop-color="#52156f"/><stop offset="0.81" stop-color="#461369"/><stop offset="0.84" stop-color="#38145f"/><stop offset="0.88" stop-color="#2b154f"/><stop offset="0.91" stop-color="#20153c"/><stop offset="0.94" stop-color="#16112a"/><stop offset="0.97" stop-color="#0f0d18"/><stop offset="1" stop-color="#0c0a0a"/></linearGradient></defs><rect x="30.3" y="3.3" width="107.4" height="85.4" fill="#0c0a0a" stroke="none" stroke-width="0.8"/><g clip-path="url(#cp2)" fill="url(#bg1)"><rect x="30.3" y="27.8" width="0.9" height="32.28"/><rect x="30.8" y="27.88" width="0.9" height="32.28"/><rect x="31.3" y="27.96" width="0.9" height="32.28"/><rect x="31.8" y="28.05" width="0.9" height="32.28"/><rect x="32.3" y="28.14" width="0.9" height="32.28"/><rect x="32.8" y="28.24" width="0.9" height="32.28"/><rect x="33.3" y="28.34" width="0.9" height="32.28"/><rect x="33.8" y="28.44" width="0.9" height="32.28"/><rect x="34.3" y="28.55" width="0.9" height="32.28"/><rect x="34.8" y="28.66" width="0.9" height="32.28"/><rect x="35.3" y="28.78" width="0.9" height="32.28"/><rect x="35.8" y="28.9" width="0.9" height="32.28"/><rect x="36.3" y="29.02" width="0.9" height="32.28"/><rect x="36.8" y="29.15" width="0.9" height="32.28"/><rect x="37.3" y="29.28" width="0.9" height="32.28"/><rect x="37.8" y="29.42" width="0.9" height="32.28"/><rect x="38.3" y="29.56" width="0.9" height="32.28"/><rect x="38.8" y="29.7" width="0.9" height="32.28"/><rect x="39.3" y="29.84" width="0.9" height="32.28"/><rect x="39.8" y="29.99" width="0.9" height="32.28"/><rect x="40.3" y="30.14" width="0.9" height="32.28"/><rect x="40.8" y="30.3" width="0.9" height="32.28"/><rect x="41.3" y="30.45" width="0.9" height="32.28"/><rect x="41.8" y="30.61" width="0.9" height="32.28"/><rect x="42.3" y="30.78" width="0.9" height="32.28"/><rect x="42.8" y="30.94" width="0.9" height="32.28"/><rect x="43.3" y="31.11" width="0.9" height="32.28"/><rect x="43.8" y="31.28" width="0.9" height="32.28"/><rect x="44.3" y="31.45" width="0.9" height="32.28"/><rect x="44.8" y="31.62" width="0.9" height="32.28"/><rect x="45.3" y="31.8" width="0.9" height="32.28"/><rect x="45.8" y="31.97" width="0.9" height="32.28"/><rect x="46.3" y="32.15" width="0.9" height="32.28"/><rect x="46.8" y="32.33" width="0.9" height="32.28"/><rect x="47.3" y="32.51" width="0.9" height="32.28"/><rect x="47.8" y="32.69" width="0.9" height="32.28"/><rect x="48.3" y="32.87" width="0.9" height="32.28"/><rect x="48.8" y="33.06" width="0.9" height="32.28"/><rect x="49.3" y="33.24" width="0.9" height="32.28"/><rect x="49.8" y="33.43" width="0.9" height="32.28"/><rect x="50.3" y="33.61" width="0.9" height="32.28"/><rect x="50.8" y="33.8" width="0.9" height="32.28"/><rect x="51.3" y="33.98" width="0.9" height="32.28"/><rect x="51.8" y="34.17" width="0.9" height="32.28"/><rect x="52.3" y="34.35" width="0.9" height="32.28"/><rect x="52.8" y="34.54" width="0.9" height="32.28"/><rect x="53.3" y="34.72" width="0.9" height="32.28"/><rect x="53.8" y="34.91" width="0.9" height="32.28"/><rect x="54.3" y="35.09" width="0.9" height="32.28"/><rect x="54.8" y="35.27" width="0.9" height="32.28"/><rect x="55.3" y="35.45" width="0.9" height="32.28"/><rect x="55.8" y="35.63" width="0.9" height="32.28"/><rect x="56.3" y="35.81" width="0.9" height="32.28"/><rect x="56.8" y="35.99" width="0.9" height="32.28"/><rect x="57.3" y="36.16" width="0.9" height="32.28"/><rect x="57.8" y="36.34" width="0.9" height="32.28"/><rect x="58.3" y="36.51" width="0.9" height="32.28"/><rect x="58.8" y="36.68" width="0.9" height="32.28"/><rect x="59.3" y="36.85" width="0.9" height="32.28"/><rect x="59.8" y="37.01" width="0.9" height="32.28"/><rect x="60.3" y="37.18" width="0.9" height="32.28"/><rect x="60.8" y="37.34" width="0.9" height="32.28"/><rect x="61.3" y="37.5" width="0.9" height="32.28"/><rect x="61.8" y="37.65" width="0.9" height="32.28"/><rect x="62.3" y="37.81" width="0.9" height="32.28"/><rect x="62.8" y="37.96" width="0.9" height="32.28"/><rect x="63.3" y="38.11" width="0.9" height="32.28"/><rect x="63.8" y="38.25" width="0.9" height="32.28"/><rect x="64.3" y="38.39" width="0.9" height="32.28"/><rect x="64.8" y="38.53" width="0.9" height="32.28"/><rect x="65.3" y="38.66" width="0.9" height="32.28"/><rect x="65.8" y="38.79" width="0.9" height="32.28"/><rect x="66.3" y="38.92" width="0.9" height="32.28"/><rect x="66.8" y="39.04" width="0.9" height="32.28"/><rect x="67.3" y="39.16" width="0.9" height="32.28"/><rect x="67.8" y="39.28" width="0.9" height="32.28"/><rect x="68.3" y="39.39" width="0.9" height="32.28"/><rect x="68.8" y="39.5" width="0.9" height="32.28"/><rect x="69.3" y="39.6" width="0.9" height="32.28"/><rect x="69.8" y="39.7" width="0.9" height="32.28"/><rect x="70.3" y="39.79" width="0.9" height="32.28"/><rect x="70.8" y="39.88" width="0.9" height="32.28"/><rect x="71.3" y="39.97" width="0.9" height="32.28"/><rect x="71.8" y="40.05" width="0.9" height="32.28"/><rect x="72.3" y="40.12" width="0.9" height="32.28"/><rect x="72.8" y="40.19" width="0.9" height="32.28"/><rect x="73.3" y="40.26" width="0.9" height="32.28"/><rect x="73.8" y="40.32" width="0.9" height="32.28"/><rect x="74.3" y="40.38" width="0.9" height="32.28"/><rect x="74.8" y="40.43" width="0.9" height="32.28"/><rect x="75.3" y="40.48" width="0.9" height="32.28"/><rect x="75.8" y="40.52" width="0.9" height="32.28"/><rect x="76.3" y="40.56" width="0.9" height="32.28"/><rect x="76.8" y="40.59" width="0.9" height="32.28"/><rect x="77.3" y="40.62" width="0.9" height="32.28"/><rect x="77.8" y="40.64" width="0.9" height="32.28"/><rect x="78.3" y="40.66" width="0.9" height="32.28"/><rect x="78.8" y="40.67" width="0.9" height="32.28"/><rect x="79.3" y="40.68" width="0.9" height="32.28"/><rect x="79.8" y="40.68" width="0.9" height="32.28"/><rect x="80.3" y="40.68" width="0.9" height="32.28"/><rect x="80.8" y="40.67" width="0.9" height="32.28"/><rect x="81.3" y="40.65" width="0.9" height="32.28"/><rect x="81.8" y="40.64" width="0.9" height="32.28"/><rect x="82.3" y="40.61" width="0.9" height="32.28"/><rect x="82.8" y="40.58" width="0.9" height="32.28"/><rect x="83.3" y="40.55" width="0.9" height="32.28"/><rect x="83.8" y="40.51" width="0.9" height="32.28"/><rect x="84.3" y="40.47" width="0.9" height="32.28"/><rect x="84.8" y="40.42" width="0.9" height="32.28"/><rect x="85.3" y="40.37" width="0.9" height="32.28"/><rect x="85.8" y="40.31" width="0.9" height="32.28"/><rect x="86.3" y="40.24" width="0.9" height="32.28"/><rect x="86.8" y="40.18" width="0.9" height="32.28"/><rect x="87.3" y="40.1" width="0.9" height="32.28"/><rect x="87.8" y="40.03" width="0.9" height="32.28"/><rect x="88.3" y="39.94" width="0.9" height="32.28"/><rect x="88.8" y="39.86" width="0.9" height="32.28"/><rect x="89.3" y="39.77" width="0.9" height="32.28"/><rect x="89.8" y="39.67" width="0.9" height="32.28"/><rect x="90.3" y="39.57" width="0.9" height="32.28"/><rect x="90.8" y="39.47" width="0.9" height="32.28"/><rect x="91.3" y="39.36" width="0.9" height="32.28"/><rect x="91.8" y="39.25" width="0.9" height="32.28"/><rect x="92.3" y="39.13" width="0.9" height="32.28"/><rect x="92.8" y="39.01" width="0.9" height="32.28"/><rect x="93.3" y="38.89" width="0.9" height="32.28"/><rect x="93.8" y="38.76" width="0.9" height="32.28"/><rect x="94.3" y="38.63" width="0.9" height="32.28"/><rect x="94.8" y="38.49" width="0.9" height="32.28"/><rect x="95.3" y="38.35" width="0.9" height="32.28"/><rect x="95.8" y="38.21" width="0.9" height="32.28"/><rect x="96.3" y="38.07" width="0.9" height="32.28"/><rect x="96.8" y="37.92" width="0.9" height="32.28"/><rect x="97.3" y="37.77" width="0.9" height="32.28"/><rect x="97.8" y="37.61" width="0.9" height="32.28"/><rect x="98.3" y="37.46" width="0.9" height="32.28"/><rect x="98.8" y="37.3" width="0.9" height="32.28"/><rect x="99.3" y="37.14" width="0.9" height="32.28"/><rect x="99.8" y="36.97" width="0.9" height="32.28"/><rect x="100.3" y="36.8" width="0.9" height="32.28"/><rect x="100.8" y="36.64" width="0.9" height="32.28"/><rect x="101.3" y="36.46" width="0.9" height="32.28"/><rect x="101.8" y="36.29" width="0.9" height="32.28"/><rect x="102.3" y="36.12" width="0.9" height="32.28"/><rect x="102.8" y="35.94" width="0.9" height="32.28"/><rect x="103.3" y="35.76" width="0.9" height="32.28"/><rect x="103.8" y="35.58" width="0.9" height="32.28"/><rect x="104.3" y="35.4" width="0.9" height="32.28"/><rect x="104.8" y="35.22" width="0.9" height="32.28"/><rect x="105.3" y="35.04" width="0.9" height="32.28"/><rect x="105.8" y="34.86" width="0.9" height="32.28"/><rect x="106.3" y="34.67" width="0.9" height="32.28"/><rect x="106.8" y="34.49" width="0.9" height="32.28"/><rect x="107.3" y="34.3" width="0.9" height="32.28"/><rect x="107.8" y="34.12" width="0.9" height="32.28"/><rect x="108.3" y="33.93" width="0.9" height="32.28"/><rect x="108.8" y="33.75" width="0.9" height="32.28"/><rect x="109.3" y="33.56" width="0.9" height="32.28"/><rect x="109.8" y="33.38" width="0.9" height="32.28"/><rect x="110.3" y="33.19" width="0.9" height="32.28"/><rect x="110.8" y="33.01" width="0.9" height="32.28"/><rect x="111.3" y="32.83" width="0.9" height="32.28"/><rect x="111.8" y="32.64" width="0.9" height="32.28"/><rect x="112.3" y="32.46" width="0.9" height="32.28"/><rect x="112.8" y="32.28" width="0.9" height="32.28"/><rect x="113.3" y="32.1" width="0.9" height="32.28"/><rect x="113.8" y="31.93" width="0.9" height="32.28"/><rect x="114.3" y="31.75" width="0.9" height="32.28"/><rect x="114.8" y="31.57" width="0.9" height="32.28"/><rect x="115.3" y="31.4" width="0.9" height="32.28"/><rect x="115.8" y="31.23" width="0.9" height="32.28"/><rect x="116.3" y="31.06" width="0.9" height="32.28"/><rect x="116.8" y="30.9" width="0.9" height="32.28"/><rect x="117.3" y="30.73" width="0.9" height="32.28"/><rect x="117.8" y="30.57" width="0.9" height="32.28"/><rect x="118.3" y="30.41" width="0.9" height="32.28"/><rect x="118.8" y="30.26" width="0.9" height="32.28"/><rect x="119.3" y="30.1" width="0.9" height="32.28"/><rect x="119.8" y="29.95" width="0.9" height="32.28"/><rect x="120.3" y="29.8" width="0.9" height="32.28"/><rect x="120.8" y="29.66" width="0.9" height="32.28"/><rect x="121.3" y="29.52" width="0.9" height="32.28"/><rect x="121.8" y="29.38" width="0.9" height="32.28"/><rect x="122.3" y="29.25" width="0.9" height="32.28"/><rect x="122.8" y="29.12" width="0.9" height="32.28"/><rect x="123.3" y="28.99" width="0.9" height="32.28"/><rect x="123.8" y="28.87" width="0.9" height="32.28"/><rect x="124.3" y="28.75" width="0.9" height="32.28"/><rect x="124.8" y="28.63" width="0.9" height="32.28"/><rect x="125.3" y="28.52" width="0.9" height="32.28"/><rect x="125.8" y="28.41" width="0.9" height="32.28"/><rect x="126.3" y="28.31" width="0.9" height="32.28"/><rect x="126.8" y="28.21" width="0.9" height="32.28"/><rect x="127.3" y="28.11" width="0.9" height="32.28"/><rect x="127.8" y="28.02" width="0.9" height="32.28"/><rect x="128.3" y="27.94" width="0.9" height="32.28"/><rect x="128.8" y="27.86" width="0.9" height="32.28"/><rect x="129.3" y="27.78" width="0.9" height="32.28"/><rect x="129.8" y="27.71" width="0.9" height="32.28"/><rect x="130.3" y="27.64" width="0.9" height="32.28"/><rect x="130.8" y="27.58" width="0.9" height="32.28"/><rect x="131.3" y="27.52" width="0.9" height="32.28"/><rect x="131.8" y="27.47" width="0.9" height="32.28"/><rect x="132.3" y="27.42" width="0.9" height="32.28"/><rect x="132.8" y="27.38" width="0.9" height="32.28"/><rect x="133.3" y="27.34" width="0.9" height="32.28"/><rect x="133.8" y="27.31" width="0.9" height="32.28"/><rect x="134.3" y="27.28" width="0.9" height="32.28"/><rect x="134.8" y="27.26" width="0.9" height="32.28"/><rect x="135.3" y="27.24" width="0.9" height="32.28"/><rect x="135.8" y="27.23" width="0.9" height="32.28"/><rect x="136.3" y="27.22" width="0.9" height="32.28"/><rect x="136.8" y="27.22" width="0.9" height="32.28"/><rect x="137.3" y="27.22" width="0.9" height="32.28"/></g><polyline points="30.3,43.9 31.37,44.07 32.45,44.26 33.52,44.47 34.6,44.7 35.67,44.95 36.74,45.21 37.82,45.5 38.89,45.79 39.97,46.11 41.04,46.44 42.11,46.78 43.19,47.13 44.26,47.49 45.34,47.86 46.41,48.24 47.48,48.63 48.56,49.02 49.63,49.41 50.71,49.81 51.78,50.21 52.85,50.61 53.93,51 55,51.39 56.08,51.78 57.15,52.16 58.22,52.54 59.3,52.9 60.37,53.26 61.45,53.61 62.52,53.94 63.59,54.26 64.67,54.56 65.74,54.85 66.82,55.13 67.89,55.38 68.96,55.62 70.04,55.84 71.11,56.03 72.19,56.21 73.26,56.36 74.33,56.5 75.41,56.61 76.48,56.7 77.56,56.76 78.63,56.8 79.7,56.82 80.78,56.81 81.85,56.78 82.93,56.73 84,56.66 85.07,56.56 86.15,56.44 87.22,56.29 88.3,56.13 89.37,55.94 90.44,55.73 91.52,55.51 92.59,55.26 93.67,55 94.74,54.72 95.81,54.42 96.89,54.11 97.96,53.78 99.04,53.44 100.11,53.09 101.18,52.73 102.26,52.36 103.33,51.98 104.41,51.6 105.48,51.21 106.55,50.81 107.63,50.41 108.7,50.02 109.78,49.62 110.85,49.22 111.92,48.83 113,48.44 114.07,48.06 115.15,47.68 116.22,47.32 117.29,46.96 118.37,46.61 119.44,46.28 120.52,45.96 121.59,45.65 122.66,45.36 123.74,45.08 124.81,44.83 125.89,44.59 126.96,44.37 128.03,44.17 129.11,43.99 130.18,43.83 131.26,43.7 132.33,43.58 133.4,43.49 134.48,43.43 135.55,43.38 136.63,43.36 137.7,43.36" fill="none" stroke="rgba(255,252,240,0.6)" stroke-width="1.0" stroke-dasharray="1.8 1.4" clip-path="url(#cp2)"/><rect x="30.3" y="3.3" width="107.4" height="85.4" fill="none" stroke="#000" stroke-width="0.6"/><line x1="30.3" y1="88.7" x2="30.3" y2="91.4" stroke="#000" stroke-width="0.65"/><text x="30.3" y="98.9" text-anchor="middle" font-size="7" fill="#141414" stroke="#141414">−50</text><line x1="57.15" y1="88.7" x2="57.15" y2="91.4" stroke="#000" stroke-width="0.65"/><text x="57.15" y="98.9" text-anchor="middle" font-size="7" fill="#141414" stroke="#141414">−25</text><line x1="84" y1="88.7" x2="84" y2="91.4" stroke="#000" stroke-width="0.65"/><text x="84" y="98.9" text-anchor="middle" font-size="7" fill="#141414" stroke="#141414">0</text><line x1="110.85" y1="88.7" x2="110.85" y2="91.4" stroke="#000" stroke-width="0.65"/><text x="110.85" y="98.9" text-anchor="middle" font-size="7" fill="#141414" stroke="#141414">25</text><line x1="137.7" y1="88.7" x2="137.7" y2="91.4" stroke="#000" stroke-width="0.65"/><text x="137.7" y="98.9" text-anchor="middle" font-size="7" fill="#141414" stroke="#141414">50</text><text x="82.9" y="108.3" text-anchor="middle" font-size="7.2" fill="#141414" stroke="#141414">Time delay (a.u.)</text><line x1="27.6" y1="88.7" x2="30.3" y2="88.7" stroke="#000" stroke-width="0.65"/><text x="25.1" y="91.2" text-anchor="end" font-size="7" fill="#141414" stroke="#141414">0.5</text><line x1="27.6" y1="67.35" x2="30.3" y2="67.35" stroke="#000" stroke-width="0.65"/><text x="25.1" y="69.85" text-anchor="end" font-size="7" fill="#141414" stroke="#141414">1.0</text><line x1="27.6" y1="46" x2="30.3" y2="46" stroke="#000" stroke-width="0.65"/><text x="25.1" y="48.5" text-anchor="end" font-size="7" fill="#141414" stroke="#141414">1.5</text><line x1="27.6" y1="24.65" x2="30.3" y2="24.65" stroke="#000" stroke-width="0.65"/><text x="25.1" y="27.15" text-anchor="end" font-size="7" fill="#141414" stroke="#141414">2.0</text><line x1="27.6" y1="3.3" x2="30.3" y2="3.3" stroke="#000" stroke-width="0.65"/><text x="25.1" y="5.8" text-anchor="end" font-size="7" fill="#141414" stroke="#141414">2.5</text><text transform="translate(7.8,46.5) rotate(-90)" text-anchor="middle" font-size="7.1" fill="#141414" stroke="#141414">Momentum (a.u.)</text><text x="32.4" y="16.6" font-size="14" font-weight="bold" fill="#fff">a</text><rect x="164.3" y="3.3" width="107.4" height="85.4" fill="#0c0a0a" stroke="none" stroke-width="0.8"/><g clip-path="url(#cp4)" fill="url(#bg3)"><rect x="164.3" y="26.27" width="0.9" height="35.87"/><rect x="164.8" y="26.28" width="0.9" height="35.87"/><rect x="165.3" y="26.29" width="0.9" height="35.87"/><rect x="165.8" y="26.31" width="0.9" height="35.87"/><rect x="166.3" y="26.34" width="0.9" height="35.87"/><rect x="166.8" y="26.37" width="0.9" height="35.87"/><rect x="167.3" y="26.4" width="0.9" height="35.87"/><rect x="167.8" y="26.44" width="0.9" height="35.87"/><rect x="168.3" y="26.49" width="0.9" height="35.87"/><rect x="168.8" y="26.54" width="0.9" height="35.87"/><rect x="169.3" y="26.59" width="0.9" height="35.87"/><rect x="169.8" y="26.66" width="0.9" height="35.87"/><rect x="170.3" y="26.72" width="0.9" height="35.87"/><rect x="170.8" y="26.79" width="0.9" height="35.87"/><rect x="171.3" y="26.87" width="0.9" height="35.87"/><rect x="171.8" y="26.95" width="0.9" height="35.87"/><rect x="172.3" y="27.04" width="0.9" height="35.87"/><rect x="172.8" y="27.13" width="0.9" height="35.87"/><rect x="173.3" y="27.22" width="0.9" height="35.87"/><rect x="173.8" y="27.32" width="0.9" height="35.87"/><rect x="174.3" y="27.43" width="0.9" height="35.87"/><rect x="174.8" y="27.54" width="0.9" height="35.87"/><rect x="175.3" y="27.65" width="0.9" height="35.87"/><rect x="175.8" y="27.77" width="0.9" height="35.87"/><rect x="176.3" y="27.89" width="0.9" height="35.87"/><rect x="176.8" y="28.02" width="0.9" height="35.87"/><rect x="177.3" y="28.15" width="0.9" height="35.87"/><rect x="177.8" y="28.28" width="0.9" height="35.87"/><rect x="178.3" y="28.42" width="0.9" height="35.87"/><rect x="178.8" y="28.56" width="0.9" height="35.87"/><rect x="179.3" y="28.7" width="0.9" height="35.87"/><rect x="179.8" y="28.85" width="0.9" height="35.87"/><rect x="180.3" y="29" width="0.9" height="35.87"/><rect x="180.8" y="29.16" width="0.9" height="35.87"/><rect x="181.3" y="29.32" width="0.9" height="35.87"/><rect x="181.8" y="29.48" width="0.9" height="35.87"/><rect x="182.3" y="29.64" width="0.9" height="35.87"/><rect x="182.8" y="29.81" width="0.9" height="35.87"/><rect x="183.3" y="29.98" width="0.9" height="35.87"/><rect x="183.8" y="30.15" width="0.9" height="35.87"/><rect x="184.3" y="30.32" width="0.9" height="35.87"/><rect x="184.8" y="30.5" width="0.9" height="35.87"/><rect x="185.3" y="30.68" width="0.9" height="35.87"/><rect x="185.8" y="30.86" width="0.9" height="35.87"/><rect x="186.3" y="31.04" width="0.9" height="35.87"/><rect x="186.8" y="31.23" width="0.9" height="35.87"/><rect x="187.3" y="31.41" width="0.9" height="35.87"/><rect x="187.8" y="31.6" width="0.9" height="35.87"/><rect x="188.3" y="31.78" width="0.9" height="35.87"/><rect x="188.8" y="31.97" width="0.9" height="35.87"/><rect x="189.3" y="32.16" width="0.9" height="35.87"/><rect x="189.8" y="32.35" width="0.9" height="35.87"/><rect x="190.3" y="32.55" width="0.9" height="35.87"/><rect x="190.8" y="32.74" width="0.9" height="35.87"/><rect x="191.3" y="32.93" width="0.9" height="35.87"/><rect x="191.8" y="33.12" width="0.9" height="35.87"/><rect x="192.3" y="33.31" width="0.9" height="35.87"/><rect x="192.8" y="33.51" width="0.9" height="35.87"/><rect x="193.3" y="33.7" width="0.9" height="35.87"/><rect x="193.8" y="33.89" width="0.9" height="35.87"/><rect x="194.3" y="34.08" width="0.9" height="35.87"/><rect x="194.8" y="34.27" width="0.9" height="35.87"/><rect x="195.3" y="34.46" width="0.9" height="35.87"/><rect x="195.8" y="34.65" width="0.9" height="35.87"/><rect x="196.3" y="34.84" width="0.9" height="35.87"/><rect x="196.8" y="35.02" width="0.9" height="35.87"/><rect x="197.3" y="35.21" width="0.9" height="35.87"/><rect x="197.8" y="35.39" width="0.9" height="35.87"/><rect x="198.3" y="35.57" width="0.9" height="35.87"/><rect x="198.8" y="35.75" width="0.9" height="35.87"/><rect x="199.3" y="35.93" width="0.9" height="35.87"/><rect x="199.8" y="36.1" width="0.9" height="35.87"/><rect x="200.3" y="36.28" width="0.9" height="35.87"/><rect x="200.8" y="36.45" width="0.9" height="35.87"/><rect x="201.3" y="36.61" width="0.9" height="35.87"/><rect x="201.8" y="36.78" width="0.9" height="35.87"/><rect x="202.3" y="36.94" width="0.9" height="35.87"/><rect x="202.8" y="37.1" width="0.9" height="35.87"/><rect x="203.3" y="37.26" width="0.9" height="35.87"/><rect x="203.8" y="37.41" width="0.9" height="35.87"/><rect x="204.3" y="37.56" width="0.9" height="35.87"/><rect x="204.8" y="37.71" width="0.9" height="35.87"/><rect x="205.3" y="37.85" width="0.9" height="35.87"/><rect x="205.8" y="37.99" width="0.9" height="35.87"/><rect x="206.3" y="38.13" width="0.9" height="35.87"/><rect x="206.8" y="38.26" width="0.9" height="35.87"/><rect x="207.3" y="38.38" width="0.9" height="35.87"/><rect x="207.8" y="38.51" width="0.9" height="35.87"/><rect x="208.3" y="38.63" width="0.9" height="35.87"/><rect x="208.8" y="38.74" width="0.9" height="35.87"/><rect x="209.3" y="38.85" width="0.9" height="35.87"/><rect x="209.8" y="38.96" width="0.9" height="35.87"/><rect x="210.3" y="39.06" width="0.9" height="35.87"/><rect x="210.8" y="39.16" width="0.9" height="35.87"/><rect x="211.3" y="39.25" width="0.9" height="35.87"/><rect x="211.8" y="39.34" width="0.9" height="35.87"/><rect x="212.3" y="39.43" width="0.9" height="35.87"/><rect x="212.8" y="39.5" width="0.9" height="35.87"/><rect x="213.3" y="39.58" width="0.9" height="35.87"/><rect x="213.8" y="39.65" width="0.9" height="35.87"/><rect x="214.3" y="39.71" width="0.9" height="35.87"/><rect x="214.8" y="39.77" width="0.9" height="35.87"/><rect x="215.3" y="39.82" width="0.9" height="35.87"/><rect x="215.8" y="39.87" width="0.9" height="35.87"/><rect x="216.3" y="39.91" width="0.9" height="35.87"/><rect x="216.8" y="39.95" width="0.9" height="35.87"/><rect x="217.3" y="39.98" width="0.9" height="35.87"/><rect x="217.8" y="40.01" width="0.9" height="35.87"/><rect x="218.3" y="40.03" width="0.9" height="35.87"/><rect x="218.8" y="40.05" width="0.9" height="35.87"/><rect x="219.3" y="40.06" width="0.9" height="35.87"/><rect x="219.8" y="40.07" width="0.9" height="35.87"/><rect x="220.3" y="40.07" width="0.9" height="35.87"/><rect x="220.8" y="40.06" width="0.9" height="35.87"/><rect x="221.3" y="40.05" width="0.9" height="35.87"/><rect x="221.8" y="40.03" width="0.9" height="35.87"/><rect x="222.3" y="40.01" width="0.9" height="35.87"/><rect x="222.8" y="39.99" width="0.9" height="35.87"/><rect x="223.3" y="39.96" width="0.9" height="35.87"/><rect x="223.8" y="39.92" width="0.9" height="35.87"/><rect x="224.3" y="39.88" width="0.9" height="35.87"/><rect x="224.8" y="39.83" width="0.9" height="35.87"/><rect x="225.3" y="39.78" width="0.9" height="35.87"/><rect x="225.8" y="39.72" width="0.9" height="35.87"/><rect x="226.3" y="39.66" width="0.9" height="35.87"/><rect x="226.8" y="39.59" width="0.9" height="35.87"/><rect x="227.3" y="39.52" width="0.9" height="35.87"/><rect x="227.8" y="39.44" width="0.9" height="35.87"/><rect x="228.3" y="39.36" width="0.9" height="35.87"/><rect x="228.8" y="39.27" width="0.9" height="35.87"/><rect x="229.3" y="39.18" width="0.9" height="35.87"/><rect x="229.8" y="39.08" width="0.9" height="35.87"/><rect x="230.3" y="38.98" width="0.9" height="35.87"/><rect x="230.8" y="38.87" width="0.9" height="35.87"/><rect x="231.3" y="38.76" width="0.9" height="35.87"/><rect x="231.8" y="38.65" width="0.9" height="35.87"/><rect x="232.3" y="38.53" width="0.9" height="35.87"/><rect x="232.8" y="38.41" width="0.9" height="35.87"/><rect x="233.3" y="38.28" width="0.9" height="35.87"/><rect x="233.8" y="38.15" width="0.9" height="35.87"/><rect x="234.3" y="38.01" width="0.9" height="35.87"/><rect x="234.8" y="37.87" width="0.9" height="35.87"/><rect x="235.3" y="37.73" width="0.9" height="35.87"/><rect x="235.8" y="37.58" width="0.9" height="35.87"/><rect x="236.3" y="37.44" width="0.9" height="35.87"/><rect x="236.8" y="37.28" width="0.9" height="35.87"/><rect x="237.3" y="37.13" width="0.9" height="35.87"/><rect x="237.8" y="36.97" width="0.9" height="35.87"/><rect x="238.3" y="36.81" width="0.9" height="35.87"/><rect x="238.8" y="36.64" width="0.9" height="35.87"/><rect x="239.3" y="36.47" width="0.9" height="35.87"/><rect x="239.8" y="36.3" width="0.9" height="35.87"/><rect x="240.3" y="36.13" width="0.9" height="35.87"/><rect x="240.8" y="35.96" width="0.9" height="35.87"/><rect x="241.3" y="35.78" width="0.9" height="35.87"/><rect x="241.8" y="35.6" width="0.9" height="35.87"/><rect x="242.3" y="35.42" width="0.9" height="35.87"/><rect x="242.8" y="35.24" width="0.9" height="35.87"/><rect x="243.3" y="35.05" width="0.9" height="35.87"/><rect x="243.8" y="34.87" width="0.9" height="35.87"/><rect x="244.3" y="34.68" width="0.9" height="35.87"/><rect x="244.8" y="34.49" width="0.9" height="35.87"/><rect x="245.3" y="34.3" width="0.9" height="35.87"/><rect x="245.8" y="34.11" width="0.9" height="35.87"/><rect x="246.3" y="33.92" width="0.9" height="35.87"/><rect x="246.8" y="33.73" width="0.9" height="35.87"/><rect x="247.3" y="33.54" width="0.9" height="35.87"/><rect x="247.8" y="33.35" width="0.9" height="35.87"/><rect x="248.3" y="33.15" width="0.9" height="35.87"/><rect x="248.8" y="32.96" width="0.9" height="35.87"/><rect x="249.3" y="32.77" width="0.9" height="35.87"/><rect x="249.8" y="32.58" width="0.9" height="35.87"/><rect x="250.3" y="32.39" width="0.9" height="35.87"/><rect x="250.8" y="32.2" width="0.9" height="35.87"/><rect x="251.3" y="32.01" width="0.9" height="35.87"/><rect x="251.8" y="31.82" width="0.9" height="35.87"/><rect x="252.3" y="31.63" width="0.9" height="35.87"/><rect x="252.8" y="31.44" width="0.9" height="35.87"/><rect x="253.3" y="31.26" width="0.9" height="35.87"/><rect x="253.8" y="31.07" width="0.9" height="35.87"/><rect x="254.3" y="30.89" width="0.9" height="35.87"/><rect x="254.8" y="30.71" width="0.9" height="35.87"/><rect x="255.3" y="30.53" width="0.9" height="35.87"/><rect x="255.8" y="30.35" width="0.9" height="35.87"/><rect x="256.3" y="30.18" width="0.9" height="35.87"/><rect x="256.8" y="30.01" width="0.9" height="35.87"/><rect x="257.3" y="29.84" width="0.9" height="35.87"/><rect x="257.8" y="29.67" width="0.9" height="35.87"/><rect x="258.3" y="29.5" width="0.9" height="35.87"/><rect x="258.8" y="29.34" width="0.9" height="35.87"/><rect x="259.3" y="29.18" width="0.9" height="35.87"/><rect x="259.8" y="29.03" width="0.9" height="35.87"/><rect x="260.3" y="28.88" width="0.9" height="35.87"/><rect x="260.8" y="28.73" width="0.9" height="35.87"/><rect x="261.3" y="28.58" width="0.9" height="35.87"/><rect x="261.8" y="28.44" width="0.9" height="35.87"/><rect x="262.3" y="28.3" width="0.9" height="35.87"/><rect x="262.8" y="28.17" width="0.9" height="35.87"/><rect x="263.3" y="28.04" width="0.9" height="35.87"/><rect x="263.8" y="27.91" width="0.9" height="35.87"/><rect x="264.3" y="27.79" width="0.9" height="35.87"/><rect x="264.8" y="27.67" width="0.9" height="35.87"/><rect x="265.3" y="27.56" width="0.9" height="35.87"/><rect x="265.8" y="27.45" width="0.9" height="35.87"/><rect x="266.3" y="27.34" width="0.9" height="35.87"/><rect x="266.8" y="27.24" width="0.9" height="35.87"/><rect x="267.3" y="27.14" width="0.9" height="35.87"/><rect x="267.8" y="27.05" width="0.9" height="35.87"/><rect x="268.3" y="26.97" width="0.9" height="35.87"/><rect x="268.8" y="26.88" width="0.9" height="35.87"/><rect x="269.3" y="26.81" width="0.9" height="35.87"/><rect x="269.8" y="26.73" width="0.9" height="35.87"/><rect x="270.3" y="26.67" width="0.9" height="35.87"/><rect x="270.8" y="26.6" width="0.9" height="35.87"/><rect x="271.3" y="26.55" width="0.9" height="35.87"/></g><polyline points="164.3,44.2 165.37,44.22 166.45,44.26 167.52,44.33 168.6,44.43 169.67,44.54 170.74,44.68 171.82,44.85 172.89,45.03 173.97,45.24 175.04,45.47 176.11,45.72 177.19,45.99 178.26,46.27 179.34,46.58 180.41,46.9 181.48,47.23 182.56,47.58 183.63,47.94 184.71,48.31 185.78,48.7 186.85,49.09 187.93,49.49 189,49.89 190.08,50.3 191.15,50.71 192.22,51.12 193.3,51.54 194.37,51.95 195.45,52.36 196.52,52.76 197.59,53.16 198.67,53.55 199.74,53.93 200.82,54.3 201.89,54.66 202.96,55.01 204.04,55.34 205.11,55.66 206.19,55.96 207.26,56.25 208.33,56.51 209.41,56.76 210.48,56.98 211.56,57.19 212.63,57.37 213.7,57.53 214.78,57.67 215.85,57.79 216.93,57.88 218,57.94 219.07,57.98 220.15,58 221.22,57.99 222.3,57.96 223.37,57.9 224.44,57.82 225.52,57.71 226.59,57.59 227.67,57.43 228.74,57.26 229.81,57.06 230.89,56.84 231.96,56.6 233.04,56.34 234.11,56.07 235.18,55.77 236.26,55.46 237.33,55.13 238.41,54.79 239.48,54.43 240.55,54.06 241.63,53.69 242.7,53.3 243.78,52.9 244.85,52.5 245.92,52.09 247,51.68 248.07,51.27 249.15,50.86 250.22,50.45 251.29,50.04 252.37,49.63 253.44,49.23 254.52,48.84 255.59,48.45 256.66,48.07 257.74,47.71 258.81,47.35 259.89,47.01 260.96,46.69 262.03,46.38 263.11,46.09 264.18,45.81 265.26,45.56 266.33,45.32 267.4,45.1 268.48,44.91 269.55,44.74 270.63,44.59 271.7,44.47" fill="none" stroke="#fff4f0" stroke-width="1.0" stroke-dasharray="1.8 1.4" clip-path="url(#cp4)"/><rect x="164.3" y="3.3" width="107.4" height="85.4" fill="none" stroke="#000" stroke-width="0.6"/><line x1="164.3" y1="88.7" x2="164.3" y2="91.4" stroke="#000" stroke-width="0.65"/><text x="164.3" y="98.9" text-anchor="middle" font-size="7" fill="#141414" stroke="#141414">−50</text><line x1="191.15" y1="88.7" x2="191.15" y2="91.4" stroke="#000" stroke-width="0.65"/><text x="191.15" y="98.9" text-anchor="middle" font-size="7" fill="#141414" stroke="#141414">−25</text><line x1="218" y1="88.7" x2="218" y2="91.4" stroke="#000" stroke-width="0.65"/><text x="218" y="98.9" text-anchor="middle" font-size="7" fill="#141414" stroke="#141414">0</text><line x1="244.85" y1="88.7" x2="244.85" y2="91.4" stroke="#000" stroke-width="0.65"/><text x="244.85" y="98.9" text-anchor="middle" font-size="7" fill="#141414" stroke="#141414">25</text><line x1="271.7" y1="88.7" x2="271.7" y2="91.4" stroke="#000" stroke-width="0.65"/><text x="271.7" y="98.9" text-anchor="middle" font-size="7" fill="#141414" stroke="#141414">50</text><text x="216.9" y="108.3" text-anchor="middle" font-size="7.2" fill="#141414" stroke="#141414">Time delay (a.u.)</text><line x1="271.7" y1="88.7" x2="274.4" y2="88.7" stroke="#000" stroke-width="0.65"/><text x="276.7" y="91.2" text-anchor="start" font-size="7" fill="#141414" stroke="#141414">0.5</text><line x1="271.7" y1="67.35" x2="274.4" y2="67.35" stroke="#000" stroke-width="0.65"/><text x="276.7" y="69.85" text-anchor="start" font-size="7" fill="#141414" stroke="#141414">1.0</text><line x1="271.7" y1="46" x2="274.4" y2="46" stroke="#000" stroke-width="0.65"/><text x="276.7" y="48.5" text-anchor="start" font-size="7" fill="#141414" stroke="#141414">1.5</text><line x1="271.7" y1="24.65" x2="274.4" y2="24.65" stroke="#000" stroke-width="0.65"/><text x="276.7" y="27.15" text-anchor="start" font-size="7" fill="#141414" stroke="#141414">2.0</text><line x1="271.7" y1="3.3" x2="274.4" y2="3.3" stroke="#000" stroke-width="0.65"/><text x="276.7" y="5.8" text-anchor="start" font-size="7" fill="#141414" stroke="#141414">2.5</text><text x="169.1" y="17.1" font-size="14" font-weight="bold" fill="#fff">b</text><rect x="30.3" y="113.3" width="107.4" height="85.7" fill="#0c0a0a" stroke="none" stroke-width="0.8"/><g clip-path="url(#cp5)"><g transform="translate(82.98,155.9) scale(37.000,-29.500)"><path d="M0.708 -0.007L1.292 -0.013A1.292 1.292 0 0 1 1.286 0.125L0.705 0.069A0.708 0.708 0 0 0 0.708 -0.007Z" fill="url(#r6)"/><path d="M0.706 0.055L1.288 0.100A1.292 1.292 0 0 1 1.270 0.237L0.696 0.130A0.708 0.708 0 0 0 0.706 0.055Z" fill="url(#r7)"/><path d="M0.699 0.116L1.274 0.211A1.291 1.291 0 0 1 1.244 0.347L0.683 0.190A0.709 0.709 0 0 0 0.699 0.116Z" fill="url(#r8)"/><path d="M0.688 0.177L1.249 0.321A1.290 1.290 0 0 1 1.208 0.453L0.665 0.250A0.710 0.710 0 0 0 0.688 0.177Z" fill="url(#r9)"/><path d="M0.671 0.237L1.215 0.429A1.289 1.289 0 0 1 1.162 0.556L0.642 0.307A0.711 0.711 0 0 0 0.671 0.237Z" fill="url(#r10)"/><path d="M0.649 0.295L1.172 0.532A1.287 1.287 0 0 1 1.108 0.655L0.614 0.363A0.713 0.713 0 0 0 0.649 0.295Z" fill="url(#r11)"/><path d="M0.623 0.351L1.119 0.631A1.285 1.285 0 0 1 1.045 0.748L0.581 0.416A0.715 0.715 0 0 0 0.623 0.351Z" fill="url(#r12)"/><path d="M0.591 0.405L1.058 0.725A1.283 1.283 0 0 1 0.974 0.834L0.545 0.466A0.717 0.717 0 0 0 0.591 0.405Z" fill="url(#r13)"/><path d="M0.556 0.457L0.989 0.813A1.280 1.280 0 0 1 0.896 0.914L0.504 0.514A0.720 0.720 0 0 0 0.556 0.457Z" fill="url(#r14)"/><path d="M0.516 0.506L0.912 0.894A1.278 1.278 0 0 1 0.811 0.987L0.459 0.558A0.722 0.722 0 0 0 0.516 0.506Z" fill="url(#r15)"/><path d="M0.472 0.551L0.829 0.968A1.275 1.275 0 0 1 0.721 1.052L0.410 0.598A0.725 0.725 0 0 0 0.472 0.551Z" fill="url(#r16)"/><path d="M0.424 0.592L0.740 1.034A1.272 1.272 0 0 1 0.625 1.108L0.358 0.634A0.728 0.728 0 0 0 0.424 0.592Z" fill="url(#r17)"/><path d="M0.372 0.630L0.645 1.092A1.268 1.268 0 0 1 0.524 1.155L0.303 0.666A0.732 0.732 0 0 0 0.372 0.630Z" fill="url(#r18)"/><path d="M0.317 0.663L0.546 1.141A1.265 1.265 0 0 1 0.421 1.193L0.245 0.693A0.735 0.735 0 0 0 0.317 0.663Z" fill="url(#r19)"/><path d="M0.260 0.692L0.443 1.181A1.261 1.261 0 0 1 0.314 1.221L0.184 0.715A0.739 0.739 0 0 0 0.260 0.692Z" fill="url(#r20)"/><path d="M0.199 0.715L0.338 1.211A1.258 1.258 0 0 1 0.206 1.241L0.122 0.732A0.742 0.742 0 0 0 0.199 0.715Z" fill="url(#r21)"/><path d="M0.137 0.734L0.230 1.232A1.254 1.254 0 0 1 0.097 1.250L0.058 0.744A0.746 0.746 0 0 0 0.137 0.734Z" fill="url(#r22)"/><path d="M0.073 0.747L0.121 1.244A1.250 1.250 0 0 1 -0.012 1.250L-0.008 0.750A0.750 0.750 0 0 0 0.073 0.747Z" fill="url(#r23)"/><path d="M0.008 0.750L0.012 1.250A1.250 1.250 0 0 1 -0.121 1.244L-0.073 0.747A0.750 0.750 0 0 0 0.008 0.750Z" fill="url(#r24)"/><path d="M-0.058 0.744L-0.097 1.250A1.254 1.254 0 0 1 -0.230 1.232L-0.137 0.734A0.746 0.746 0 0 0 -0.058 0.744Z" fill="url(#r25)"/><path d="M-0.122 0.732L-0.206 1.241A1.258 1.258 0 0 1 -0.338 1.211L-0.199 0.715A0.742 0.742 0 0 0 -0.122 0.732Z" fill="url(#r26)"/><path d="M-0.184 0.715L-0.314 1.221A1.261 1.261 0 0 1 -0.443 1.181L-0.260 0.692A0.739 0.739 0 0 0 -0.184 0.715Z" fill="url(#r27)"/><path d="M-0.245 0.693L-0.421 1.193A1.265 1.265 0 0 1 -0.546 1.141L-0.317 0.663A0.735 0.735 0 0 0 -0.245 0.693Z" fill="url(#r28)"/><path d="M-0.303 0.666L-0.524 1.155A1.268 1.268 0 0 1 -0.645 1.092L-0.372 0.630A0.732 0.732 0 0 0 -0.303 0.666Z" fill="url(#r29)"/><path d="M-0.358 0.634L-0.625 1.108A1.272 1.272 0 0 1 -0.740 1.034L-0.424 0.592A0.728 0.728 0 0 0 -0.358 0.634Z" fill="url(#r30)"/><path d="M-0.410 0.598L-0.721 1.052A1.275 1.275 0 0 1 -0.829 0.968L-0.472 0.551A0.725 0.725 0 0 0 -0.410 0.598Z" fill="url(#r31)"/><path d="M-0.459 0.558L-0.811 0.987A1.278 1.278 0 0 1 -0.912 0.894L-0.516 0.506A0.722 0.722 0 0 0 -0.459 0.558Z" fill="url(#r32)"/><path d="M-0.504 0.514L-0.896 0.914A1.280 1.280 0 0 1 -0.989 0.813L-0.556 0.457A0.720 0.720 0 0 0 -0.504 0.514Z" fill="url(#r33)"/><path d="M-0.545 0.466L-0.974 0.834A1.283 1.283 0 0 1 -1.058 0.725L-0.591 0.405A0.717 0.717 0 0 0 -0.545 0.466Z" fill="url(#r34)"/><path d="M-0.581 0.416L-1.045 0.748A1.285 1.285 0 0 1 -1.119 0.631L-0.623 0.351A0.715 0.715 0 0 0 -0.581 0.416Z" fill="url(#r35)"/><path d="M-0.614 0.363L-1.108 0.655A1.287 1.287 0 0 1 -1.172 0.532L-0.649 0.295A0.713 0.713 0 0 0 -0.614 0.363Z" fill="url(#r36)"/><path d="M-0.642 0.307L-1.162 0.556A1.289 1.289 0 0 1 -1.215 0.429L-0.671 0.237A0.711 0.711 0 0 0 -0.642 0.307Z" fill="url(#r37)"/><path d="M-0.665 0.250L-1.208 0.453A1.290 1.290 0 0 1 -1.249 0.321L-0.688 0.177A0.710 0.710 0 0 0 -0.665 0.250Z" fill="url(#r38)"/><path d="M-0.683 0.190L-1.244 0.347A1.291 1.291 0 0 1 -1.274 0.211L-0.699 0.116A0.709 0.709 0 0 0 -0.683 0.190Z" fill="url(#r39)"/><path d="M-0.696 0.130L-1.270 0.237A1.292 1.292 0 0 1 -1.288 0.100L-0.706 0.055A0.708 0.708 0 0 0 -0.696 0.130Z" fill="url(#r40)"/><path d="M-0.705 0.069L-1.286 0.125A1.292 1.292 0 0 1 -1.292 -0.013L-0.708 -0.007A0.708 0.708 0 0 0 -0.705 0.069Z" fill="url(#r41)"/><path d="M-0.708 0.007L-1.292 0.013A1.292 1.292 0 0 1 -1.286 -0.125L-0.705 -0.069A0.708 0.708 0 0 0 -0.708 0.007Z" fill="url(#r42)"/><path d="M-0.706 -0.055L-1.288 -0.100A1.292 1.292 0 0 1 -1.270 -0.237L-0.696 -0.130A0.708 0.708 0 0 0 -0.706 -0.055Z" fill="url(#r43)"/><path d="M-0.699 -0.116L-1.274 -0.211A1.291 1.291 0 0 1 -1.244 -0.347L-0.683 -0.190A0.709 0.709 0 0 0 -0.699 -0.116Z" fill="url(#r44)"/><path d="M-0.688 -0.177L-1.249 -0.321A1.290 1.290 0 0 1 -1.208 -0.453L-0.665 -0.250A0.710 0.710 0 0 0 -0.688 -0.177Z" fill="url(#r45)"/><path d="M-0.671 -0.237L-1.215 -0.429A1.289 1.289 0 0 1 -1.162 -0.556L-0.642 -0.307A0.711 0.711 0 0 0 -0.671 -0.237Z" fill="url(#r46)"/><path d="M-0.649 -0.295L-1.172 -0.532A1.287 1.287 0 0 1 -1.108 -0.655L-0.614 -0.363A0.713 0.713 0 0 0 -0.649 -0.295Z" fill="url(#r47)"/><path d="M-0.623 -0.351L-1.119 -0.631A1.285 1.285 0 0 1 -1.045 -0.748L-0.581 -0.416A0.715 0.715 0 0 0 -0.623 -0.351Z" fill="url(#r48)"/><path d="M-0.591 -0.405L-1.058 -0.725A1.283 1.283 0 0 1 -0.974 -0.834L-0.545 -0.466A0.717 0.717 0 0 0 -0.591 -0.405Z" fill="url(#r49)"/><path d="M-0.556 -0.457L-0.989 -0.813A1.280 1.280 0 0 1 -0.896 -0.914L-0.504 -0.514A0.720 0.720 0 0 0 -0.556 -0.457Z" fill="url(#r50)"/><path d="M-0.516 -0.506L-0.912 -0.894A1.278 1.278 0 0 1 -0.811 -0.987L-0.459 -0.558A0.722 0.722 0 0 0 -0.516 -0.506Z" fill="url(#r51)"/><path d="M-0.472 -0.551L-0.829 -0.968A1.275 1.275 0 0 1 -0.721 -1.052L-0.410 -0.598A0.725 0.725 0 0 0 -0.472 -0.551Z" fill="url(#r52)"/><path d="M-0.424 -0.592L-0.740 -1.034A1.272 1.272 0 0 1 -0.625 -1.108L-0.358 -0.634A0.728 0.728 0 0 0 -0.424 -0.592Z" fill="url(#r53)"/><path d="M-0.372 -0.630L-0.645 -1.092A1.268 1.268 0 0 1 -0.524 -1.155L-0.303 -0.666A0.732 0.732 0 0 0 -0.372 -0.630Z" fill="url(#r54)"/><path d="M-0.317 -0.663L-0.546 -1.141A1.265 1.265 0 0 1 -0.421 -1.193L-0.245 -0.693A0.735 0.735 0 0 0 -0.317 -0.663Z" fill="url(#r55)"/><path d="M-0.260 -0.692L-0.443 -1.181A1.261 1.261 0 0 1 -0.314 -1.221L-0.184 -0.715A0.739 0.739 0 0 0 -0.260 -0.692Z" fill="url(#r56)"/><path d="M-0.199 -0.715L-0.338 -1.211A1.258 1.258 0 0 1 -0.206 -1.241L-0.122 -0.732A0.742 0.742 0 0 0 -0.199 -0.715Z" fill="url(#r57)"/><path d="M-0.137 -0.734L-0.230 -1.232A1.254 1.254 0 0 1 -0.097 -1.250L-0.058 -0.744A0.746 0.746 0 0 0 -0.137 -0.734Z" fill="url(#r58)"/><path d="M-0.073 -0.747L-0.121 -1.244A1.250 1.250 0 0 1 0.012 -1.250L0.008 -0.750A0.750 0.750 0 0 0 -0.073 -0.747Z" fill="url(#r59)"/><path d="M-0.008 -0.750L-0.012 -1.250A1.250 1.250 0 0 1 0.121 -1.244L0.073 -0.747A0.750 0.750 0 0 0 -0.008 -0.750Z" fill="url(#r60)"/><path d="M0.058 -0.744L0.097 -1.250A1.254 1.254 0 0 1 0.230 -1.232L0.137 -0.734A0.746 0.746 0 0 0 0.058 -0.744Z" fill="url(#r61)"/><path d="M0.122 -0.732L0.206 -1.241A1.258 1.258 0 0 1 0.338 -1.211L0.199 -0.715A0.742 0.742 0 0 0 0.122 -0.732Z" fill="url(#r62)"/><path d="M0.184 -0.715L0.314 -1.221A1.261 1.261 0 0 1 0.443 -1.181L0.260 -0.692A0.739 0.739 0 0 0 0.184 -0.715Z" fill="url(#r63)"/><path d="M0.245 -0.693L0.421 -1.193A1.265 1.265 0 0 1 0.546 -1.141L0.317 -0.663A0.735 0.735 0 0 0 0.245 -0.693Z" fill="url(#r64)"/><path d="M0.303 -0.666L0.524 -1.155A1.268 1.268 0 0 1 0.645 -1.092L0.372 -0.630A0.732 0.732 0 0 0 0.303 -0.666Z" fill="url(#r65)"/><path d="M0.358 -0.634L0.625 -1.108A1.272 1.272 0 0 1 0.740 -1.034L0.424 -0.592A0.728 0.728 0 0 0 0.358 -0.634Z" fill="url(#r66)"/><path d="M0.410 -0.598L0.721 -1.052A1.275 1.275 0 0 1 0.829 -0.968L0.472 -0.551A0.725 0.725 0 0 0 0.410 -0.598Z" fill="url(#r67)"/><path d="M0.459 -0.558L0.811 -0.987A1.278 1.278 0 0 1 0.912 -0.894L0.516 -0.506A0.722 0.722 0 0 0 0.459 -0.558Z" fill="url(#r68)"/><path d="M0.504 -0.514L0.896 -0.914A1.280 1.280 0 0 1 0.989 -0.813L0.556 -0.457A0.720 0.720 0 0 0 0.504 -0.514Z" fill="url(#r69)"/><path d="M0.545 -0.466L0.974 -0.834A1.283 1.283 0 0 1 1.058 -0.725L0.591 -0.405A0.717 0.717 0 0 0 0.545 -0.466Z" fill="url(#r70)"/><path d="M0.581 -0.416L1.045 -0.748A1.285 1.285 0 0 1 1.119 -0.631L0.623 -0.351A0.715 0.715 0 0 0 0.581 -0.416Z" fill="url(#r71)"/><path d="M0.614 -0.363L1.108 -0.655A1.287 1.287 0 0 1 1.172 -0.532L0.649 -0.295A0.713 0.713 0 0 0 0.614 -0.363Z" fill="url(#r72)"/><path d="M0.642 -0.307L1.162 -0.556A1.289 1.289 0 0 1 1.215 -0.429L0.671 -0.237A0.711 0.711 0 0 0 0.642 -0.307Z" fill="url(#r73)"/><path d="M0.665 -0.250L1.208 -0.453A1.290 1.290 0 0 1 1.249 -0.321L0.688 -0.177A0.710 0.710 0 0 0 0.665 -0.250Z" fill="url(#r74)"/><path d="M0.683 -0.190L1.244 -0.347A1.291 1.291 0 0 1 1.274 -0.211L0.699 -0.116A0.709 0.709 0 0 0 0.683 -0.190Z" fill="url(#r75)"/><path d="M0.696 -0.130L1.270 -0.237A1.292 1.292 0 0 1 1.288 -0.100L0.706 -0.055A0.708 0.708 0 0 0 0.696 -0.130Z" fill="url(#r76)"/><path d="M0.705 -0.069L1.286 -0.125A1.292 1.292 0 0 1 1.292 0.013L0.708 0.007A0.708 0.708 0 0 0 0.705 -0.069Z" fill="url(#r77)"/></g></g><line x1="30.3" y1="156.55" x2="83.7" y2="156.55" stroke="#ffffff" stroke-width="0.85" stroke-dasharray="1.05 1.05"/><line x1="83.7" y1="113.3" x2="83.7" y2="199" stroke="#ffffff" stroke-width="0.8" stroke-dasharray="0.8 0.6"/><line x1="83.7" y1="156.55" x2="130.18" y2="156.55" stroke="#ffffff" stroke-width="0.9"/><path d="M133.14 156.55 L129.74 154.85 L129.74 158.25 Z" fill="#fff"/><rect x="30.3" y="113.3" width="107.4" height="85.7" fill="none" stroke="#000" stroke-width="0.6"/><line x1="30.3" y1="199" x2="30.3" y2="201.7" stroke="#000" stroke-width="0.65"/><text x="30.3" y="209.8" text-anchor="middle" font-size="7" fill="#141414" stroke="#141414">−2</text><line x1="27.6" y1="199" x2="30.3" y2="199" stroke="#000" stroke-width="0.65"/><text x="25.1" y="201.5" text-anchor="end" font-size="7" fill="#141414" stroke="#141414">−2</text><line x1="57.15" y1="199" x2="57.15" y2="201.7" stroke="#000" stroke-width="0.65"/><text x="57.15" y="209.8" text-anchor="middle" font-size="7" fill="#141414" stroke="#141414">−1</text><line x1="27.6" y1="177.58" x2="30.3" y2="177.58" stroke="#000" stroke-width="0.65"/><text x="25.1" y="180.08" text-anchor="end" font-size="7" fill="#141414" stroke="#141414">−1</text><line x1="84" y1="199" x2="84" y2="201.7" stroke="#000" stroke-width="0.65"/><text x="84" y="209.8" text-anchor="middle" font-size="7" fill="#141414" stroke="#141414">0</text><line x1="27.6" y1="156.15" x2="30.3" y2="156.15" stroke="#000" stroke-width="0.65"/><text x="25.1" y="158.65" text-anchor="end" font-size="7" fill="#141414" stroke="#141414">0</text><line x1="110.85" y1="199" x2="110.85" y2="201.7" stroke="#000" stroke-width="0.65"/><text x="110.85" y="209.8" text-anchor="middle" font-size="7" fill="#141414" stroke="#141414">1</text><line x1="27.6" y1="134.72" x2="30.3" y2="134.72" stroke="#000" stroke-width="0.65"/><text x="25.1" y="137.22" text-anchor="end" font-size="7" fill="#141414" stroke="#141414">1</text><line x1="137.7" y1="199" x2="137.7" y2="201.7" stroke="#000" stroke-width="0.65"/><text x="137.7" y="209.8" text-anchor="middle" font-size="7" fill="#141414" stroke="#141414">2</text><line x1="27.6" y1="113.3" x2="30.3" y2="113.3" stroke="#000" stroke-width="0.65"/><text x="25.1" y="115.8" text-anchor="end" font-size="7" fill="#141414" stroke="#141414">2</text><text x="83" y="218.6" text-anchor="middle" font-size="7.2" fill="#141414" stroke="#141414"><tspan font-style="italic">k</tspan><tspan font-size="5" font-style="italic" dy="2.3">x</tspan><tspan dy="-2.3"> (a.u.)</tspan></text><text transform="translate(7.9,156.15) rotate(-90)" text-anchor="middle" font-size="7.2" fill="#141414" stroke="#141414"><tspan font-style="italic">k</tspan><tspan font-size="5" font-style="italic" dy="2.3">y</tspan><tspan dy="-2.3"> (a.u.)</tspan></text><text x="33.9" y="126.5" font-size="14" font-weight="bold" fill="#fff">c</text><rect x="164.3" y="113.3" width="107.4" height="85.7" fill="#0c0a0a" stroke="none" stroke-width="0.8"/><g clip-path="url(#cp78)"><g transform="translate(217.5,155.9) scale(37.300,-29.500)"><path d="M0.728 -0.007L1.272 -0.013A1.272 1.272 0 0 1 1.266 0.124L0.725 0.071A0.728 0.728 0 0 0 0.728 -0.007Z" fill="url(#r79)"/><path d="M0.725 0.056L1.269 0.098A1.272 1.272 0 0 1 1.251 0.233L0.715 0.133A0.728 0.728 0 0 0 0.725 0.056Z" fill="url(#r80)"/><path d="M0.717 0.119L1.256 0.209A1.273 1.273 0 0 1 1.227 0.342L0.700 0.195A0.727 0.727 0 0 0 0.717 0.119Z" fill="url(#r81)"/><path d="M0.703 0.181L1.234 0.318A1.275 1.275 0 0 1 1.193 0.448L0.679 0.255A0.725 0.725 0 0 0 0.703 0.181Z" fill="url(#r82)"/><path d="M0.683 0.241L1.203 0.424A1.276 1.276 0 0 1 1.151 0.551L0.653 0.312A0.724 0.724 0 0 0 0.683 0.241Z" fill="url(#r83)"/><path d="M0.657 0.299L1.164 0.528A1.278 1.278 0 0 1 1.100 0.650L0.622 0.367A0.722 0.722 0 0 0 0.657 0.299Z" fill="url(#r84)"/><path d="M0.627 0.354L1.115 0.629A1.280 1.280 0 0 1 1.041 0.745L0.586 0.419A0.720 0.720 0 0 0 0.627 0.354Z" fill="url(#r85)"/><path d="M0.592 0.406L1.058 0.725A1.282 1.282 0 0 1 0.974 0.834L0.545 0.467A0.718 0.718 0 0 0 0.592 0.406Z" fill="url(#r86)"/><path d="M0.552 0.454L0.992 0.816A1.285 1.285 0 0 1 0.899 0.918L0.501 0.511A0.715 0.715 0 0 0 0.552 0.454Z" fill="url(#r87)"/><path d="M0.509 0.499L0.919 0.901A1.287 1.287 0 0 1 0.818 0.994L0.453 0.551A0.713 0.713 0 0 0 0.509 0.499Z" fill="url(#r88)"/><path d="M0.462 0.540L0.839 0.980A1.290 1.290 0 0 1 0.729 1.064L0.402 0.586A0.710 0.710 0 0 0 0.462 0.540Z" fill="url(#r89)"/><path d="M0.412 0.576L0.752 1.051A1.292 1.292 0 0 1 0.635 1.125L0.348 0.617A0.708 0.708 0 0 0 0.412 0.576Z" fill="url(#r90)"/><path d="M0.359 0.608L0.658 1.114A1.294 1.294 0 0 1 0.535 1.178L0.292 0.643A0.706 0.706 0 0 0 0.359 0.608Z" fill="url(#r91)"/><path d="M0.304 0.635L0.559 1.169A1.296 1.296 0 0 1 0.431 1.222L0.234 0.664A0.704 0.704 0 0 0 0.304 0.635Z" fill="url(#r92)"/><path d="M0.247 0.658L0.456 1.215A1.297 1.297 0 0 1 0.323 1.257L0.175 0.680A0.703 0.703 0 0 0 0.247 0.658Z" fill="url(#r93)"/><path d="M0.188 0.676L0.349 1.251A1.299 1.299 0 0 1 0.213 1.281L0.115 0.692A0.701 0.701 0 0 0 0.188 0.676Z" fill="url(#r94)"/><path d="M0.129 0.689L0.238 1.277A1.300 1.300 0 0 1 0.100 1.296L0.054 0.698A0.700 0.700 0 0 0 0.129 0.689Z" fill="url(#r95)"/><path d="M0.068 0.697L0.126 1.294A1.300 1.300 0 0 1 -0.013 1.300L-0.007 0.700A0.700 0.700 0 0 0 0.068 0.697Z" fill="url(#r96)"/><path d="M0.007 0.700L0.013 1.300A1.300 1.300 0 0 1 -0.126 1.294L-0.068 0.697A0.700 0.700 0 0 0 0.007 0.700Z" fill="url(#r97)"/><path d="M-0.054 0.698L-0.100 1.296A1.300 1.300 0 0 1 -0.238 1.277L-0.129 0.689A0.700 0.700 0 0 0 -0.054 0.698Z" fill="url(#r98)"/><path d="M-0.115 0.692L-0.213 1.281A1.299 1.299 0 0 1 -0.349 1.251L-0.188 0.676A0.701 0.701 0 0 0 -0.115 0.692Z" fill="url(#r99)"/><path d="M-0.175 0.680L-0.323 1.257A1.297 1.297 0 0 1 -0.456 1.215L-0.247 0.658A0.703 0.703 0 0 0 -0.175 0.680Z" fill="url(#r100)"/><path d="M-0.234 0.664L-0.431 1.222A1.296 1.296 0 0 1 -0.559 1.169L-0.304 0.635A0.704 0.704 0 0 0 -0.234 0.664Z" fill="url(#r101)"/><path d="M-0.292 0.643L-0.535 1.178A1.294 1.294 0 0 1 -0.658 1.114L-0.359 0.608A0.706 0.706 0 0 0 -0.292 0.643Z" fill="url(#r102)"/><path d="M-0.348 0.617L-0.635 1.125A1.292 1.292 0 0 1 -0.752 1.051L-0.412 0.576A0.708 0.708 0 0 0 -0.348 0.617Z" fill="url(#r103)"/><path d="M-0.402 0.586L-0.729 1.064A1.290 1.290 0 0 1 -0.839 0.980L-0.462 0.540A0.710 0.710 0 0 0 -0.402 0.586Z" fill="url(#r104)"/><path d="M-0.453 0.551L-0.818 0.994A1.287 1.287 0 0 1 -0.919 0.901L-0.509 0.499A0.713 0.713 0 0 0 -0.453 0.551Z" fill="url(#r105)"/><path d="M-0.501 0.511L-0.899 0.918A1.285 1.285 0 0 1 -0.992 0.816L-0.552 0.454A0.715 0.715 0 0 0 -0.501 0.511Z" fill="url(#r106)"/><path d="M-0.545 0.467L-0.974 0.834A1.282 1.282 0 0 1 -1.058 0.725L-0.592 0.406A0.718 0.718 0 0 0 -0.545 0.467Z" fill="url(#r107)"/><path d="M-0.586 0.419L-1.041 0.745A1.280 1.280 0 0 1 -1.115 0.629L-0.627 0.354A0.720 0.720 0 0 0 -0.586 0.419Z" fill="url(#r108)"/><path d="M-0.622 0.367L-1.100 0.650A1.278 1.278 0 0 1 -1.164 0.528L-0.657 0.299A0.722 0.722 0 0 0 -0.622 0.367Z" fill="url(#r109)"/><path d="M-0.653 0.312L-1.151 0.551A1.276 1.276 0 0 1 -1.203 0.424L-0.683 0.241A0.724 0.724 0 0 0 -0.653 0.312Z" fill="url(#r110)"/><path d="M-0.679 0.255L-1.193 0.448A1.275 1.275 0 0 1 -1.234 0.318L-0.703 0.181A0.725 0.725 0 0 0 -0.679 0.255Z" fill="url(#r111)"/><path d="M-0.700 0.195L-1.227 0.342A1.273 1.273 0 0 1 -1.256 0.209L-0.717 0.119A0.727 0.727 0 0 0 -0.700 0.195Z" fill="url(#r112)"/><path d="M-0.715 0.133L-1.251 0.233A1.272 1.272 0 0 1 -1.269 0.098L-0.725 0.056A0.728 0.728 0 0 0 -0.715 0.133Z" fill="url(#r113)"/><path d="M-0.725 0.071L-1.266 0.124A1.272 1.272 0 0 1 -1.272 -0.013L-0.728 -0.007A0.728 0.728 0 0 0 -0.725 0.071Z" fill="url(#r114)"/><path d="M-0.728 0.007L-1.272 0.013A1.272 1.272 0 0 1 -1.266 -0.124L-0.725 -0.071A0.728 0.728 0 0 0 -0.728 0.007Z" fill="url(#r115)"/><path d="M-0.725 -0.056L-1.269 -0.098A1.272 1.272 0 0 1 -1.251 -0.233L-0.715 -0.133A0.728 0.728 0 0 0 -0.725 -0.056Z" fill="url(#r116)"/><path d="M-0.717 -0.119L-1.256 -0.209A1.273 1.273 0 0 1 -1.227 -0.342L-0.700 -0.195A0.727 0.727 0 0 0 -0.717 -0.119Z" fill="url(#r117)"/><path d="M-0.703 -0.181L-1.234 -0.318A1.275 1.275 0 0 1 -1.193 -0.448L-0.679 -0.255A0.725 0.725 0 0 0 -0.703 -0.181Z" fill="url(#r118)"/><path d="M-0.683 -0.241L-1.203 -0.424A1.276 1.276 0 0 1 -1.151 -0.551L-0.653 -0.312A0.724 0.724 0 0 0 -0.683 -0.241Z" fill="url(#r119)"/><path d="M-0.657 -0.299L-1.164 -0.528A1.278 1.278 0 0 1 -1.100 -0.650L-0.622 -0.367A0.722 0.722 0 0 0 -0.657 -0.299Z" fill="url(#r120)"/><path d="M-0.627 -0.354L-1.115 -0.629A1.280 1.280 0 0 1 -1.041 -0.745L-0.586 -0.419A0.720 0.720 0 0 0 -0.627 -0.354Z" fill="url(#r121)"/><path d="M-0.592 -0.406L-1.058 -0.725A1.282 1.282 0 0 1 -0.974 -0.834L-0.545 -0.467A0.718 0.718 0 0 0 -0.592 -0.406Z" fill="url(#r122)"/><path d="M-0.552 -0.454L-0.992 -0.816A1.285 1.285 0 0 1 -0.899 -0.918L-0.501 -0.511A0.715 0.715 0 0 0 -0.552 -0.454Z" fill="url(#r123)"/><path d="M-0.509 -0.499L-0.919 -0.901A1.287 1.287 0 0 1 -0.818 -0.994L-0.453 -0.551A0.713 0.713 0 0 0 -0.509 -0.499Z" fill="url(#r124)"/><path d="M-0.462 -0.540L-0.839 -0.980A1.290 1.290 0 0 1 -0.729 -1.064L-0.402 -0.586A0.710 0.710 0 0 0 -0.462 -0.540Z" fill="url(#r125)"/><path d="M-0.412 -0.576L-0.752 -1.051A1.292 1.292 0 0 1 -0.635 -1.125L-0.348 -0.617A0.708 0.708 0 0 0 -0.412 -0.576Z" fill="url(#r126)"/><path d="M-0.359 -0.608L-0.658 -1.114A1.294 1.294 0 0 1 -0.535 -1.178L-0.292 -0.643A0.706 0.706 0 0 0 -0.359 -0.608Z" fill="url(#r127)"/><path d="M-0.304 -0.635L-0.559 -1.169A1.296 1.296 0 0 1 -0.431 -1.222L-0.234 -0.664A0.704 0.704 0 0 0 -0.304 -0.635Z" fill="url(#r128)"/><path d="M-0.247 -0.658L-0.456 -1.215A1.297 1.297 0 0 1 -0.323 -1.257L-0.175 -0.680A0.703 0.703 0 0 0 -0.247 -0.658Z" fill="url(#r129)"/><path d="M-0.188 -0.676L-0.349 -1.251A1.299 1.299 0 0 1 -0.213 -1.281L-0.115 -0.692A0.701 0.701 0 0 0 -0.188 -0.676Z" fill="url(#r130)"/><path d="M-0.129 -0.689L-0.238 -1.277A1.300 1.300 0 0 1 -0.100 -1.296L-0.054 -0.698A0.700 0.700 0 0 0 -0.129 -0.689Z" fill="url(#r131)"/><path d="M-0.068 -0.697L-0.126 -1.294A1.300 1.300 0 0 1 0.013 -1.300L0.007 -0.700A0.700 0.700 0 0 0 -0.068 -0.697Z" fill="url(#r132)"/><path d="M-0.007 -0.700L-0.013 -1.300A1.300 1.300 0 0 1 0.126 -1.294L0.068 -0.697A0.700 0.700 0 0 0 -0.007 -0.700Z" fill="url(#r133)"/><path d="M0.054 -0.698L0.100 -1.296A1.300 1.300 0 0 1 0.238 -1.277L0.129 -0.689A0.700 0.700 0 0 0 0.054 -0.698Z" fill="url(#r134)"/><path d="M0.115 -0.692L0.213 -1.281A1.299 1.299 0 0 1 0.349 -1.251L0.188 -0.676A0.701 0.701 0 0 0 0.115 -0.692Z" fill="url(#r135)"/><path d="M0.175 -0.680L0.323 -1.257A1.297 1.297 0 0 1 0.456 -1.215L0.247 -0.658A0.703 0.703 0 0 0 0.175 -0.680Z" fill="url(#r136)"/><path d="M0.234 -0.664L0.431 -1.222A1.296 1.296 0 0 1 0.559 -1.169L0.304 -0.635A0.704 0.704 0 0 0 0.234 -0.664Z" fill="url(#r137)"/><path d="M0.292 -0.643L0.535 -1.178A1.294 1.294 0 0 1 0.658 -1.114L0.359 -0.608A0.706 0.706 0 0 0 0.292 -0.643Z" fill="url(#r138)"/><path d="M0.348 -0.617L0.635 -1.125A1.292 1.292 0 0 1 0.752 -1.051L0.412 -0.576A0.708 0.708 0 0 0 0.348 -0.617Z" fill="url(#r139)"/><path d="M0.402 -0.586L0.729 -1.064A1.290 1.290 0 0 1 0.839 -0.980L0.462 -0.540A0.710 0.710 0 0 0 0.402 -0.586Z" fill="url(#r140)"/><path d="M0.453 -0.551L0.818 -0.994A1.287 1.287 0 0 1 0.919 -0.901L0.509 -0.499A0.713 0.713 0 0 0 0.453 -0.551Z" fill="url(#r141)"/><path d="M0.501 -0.511L0.899 -0.918A1.285 1.285 0 0 1 0.992 -0.816L0.552 -0.454A0.715 0.715 0 0 0 0.501 -0.511Z" fill="url(#r142)"/><path d="M0.545 -0.467L0.974 -0.834A1.282 1.282 0 0 1 1.058 -0.725L0.592 -0.406A0.718 0.718 0 0 0 0.545 -0.467Z" fill="url(#r143)"/><path d="M0.586 -0.419L1.041 -0.745A1.280 1.280 0 0 1 1.115 -0.629L0.627 -0.354A0.720 0.720 0 0 0 0.586 -0.419Z" fill="url(#r144)"/><path d="M0.622 -0.367L1.100 -0.650A1.278 1.278 0 0 1 1.164 -0.528L0.657 -0.299A0.722 0.722 0 0 0 0.622 -0.367Z" fill="url(#r145)"/><path d="M0.653 -0.312L1.151 -0.551A1.276 1.276 0 0 1 1.203 -0.424L0.683 -0.241A0.724 0.724 0 0 0 0.653 -0.312Z" fill="url(#r146)"/><path d="M0.679 -0.255L1.193 -0.448A1.275 1.275 0 0 1 1.234 -0.318L0.703 -0.181A0.725 0.725 0 0 0 0.679 -0.255Z" fill="url(#r147)"/><path d="M0.700 -0.195L1.227 -0.342A1.273 1.273 0 0 1 1.256 -0.209L0.717 -0.119A0.727 0.727 0 0 0 0.700 -0.195Z" fill="url(#r148)"/><path d="M0.715 -0.133L1.251 -0.233A1.272 1.272 0 0 1 1.269 -0.098L0.725 -0.056A0.728 0.728 0 0 0 0.715 -0.133Z" fill="url(#r149)"/><path d="M0.725 -0.071L1.266 -0.124A1.272 1.272 0 0 1 1.272 0.013L0.728 0.007A0.728 0.728 0 0 0 0.725 -0.071Z" fill="url(#r150)"/></g></g><line x1="164.3" y1="156.55" x2="271.7" y2="156.55" stroke="#ffffff" stroke-width="0.85" stroke-dasharray="1.05 1.05"/><line x1="217.7" y1="156.55" x2="217.7" y2="199" stroke="#ffffff" stroke-width="0.8" stroke-dasharray="0.8 0.6"/><line x1="217.7" y1="156.55" x2="217.7" y2="119.73" stroke="#f0f0f0" stroke-width="0.9"/><path d="M217.7 116.94 L215.9 120.34 L219.5 120.34 Z" fill="#fff"/><rect x="164.3" y="113.3" width="107.4" height="85.7" fill="none" stroke="#000" stroke-width="0.6"/><line x1="164.3" y1="199" x2="164.3" y2="201.7" stroke="#000" stroke-width="0.65"/><text x="164.3" y="209.8" text-anchor="middle" font-size="7" fill="#141414" stroke="#141414">−2</text><line x1="271.7" y1="199" x2="274.4" y2="199" stroke="#000" stroke-width="0.65"/><text x="276.7" y="201.5" text-anchor="start" font-size="7" fill="#141414" stroke="#141414">−2</text><line x1="191.15" y1="199" x2="191.15" y2="201.7" stroke="#000" stroke-width="0.65"/><text x="191.15" y="209.8" text-anchor="middle" font-size="7" fill="#141414" stroke="#141414">−1</text><line x1="271.7" y1="177.58" x2="274.4" y2="177.58" stroke="#000" stroke-width="0.65"/><text x="276.7" y="180.08" text-anchor="start" font-size="7" fill="#141414" stroke="#141414">−1</text><line x1="218" y1="199" x2="218" y2="201.7" stroke="#000" stroke-width="0.65"/><text x="218" y="209.8" text-anchor="middle" font-size="7" fill="#141414" stroke="#141414">0</text><line x1="271.7" y1="156.15" x2="274.4" y2="156.15" stroke="#000" stroke-width="0.65"/><text x="276.7" y="158.65" text-anchor="start" font-size="7" fill="#141414" stroke="#141414">0</text><line x1="244.85" y1="199" x2="244.85" y2="201.7" stroke="#000" stroke-width="0.65"/><text x="244.85" y="209.8" text-anchor="middle" font-size="7" fill="#141414" stroke="#141414">1</text><line x1="271.7" y1="134.72" x2="274.4" y2="134.72" stroke="#000" stroke-width="0.65"/><text x="276.7" y="137.22" text-anchor="start" font-size="7" fill="#141414" stroke="#141414">1</text><line x1="271.7" y1="199" x2="271.7" y2="201.7" stroke="#000" stroke-width="0.65"/><text x="271.7" y="209.8" text-anchor="middle" font-size="7" fill="#141414" stroke="#141414">2</text><line x1="271.7" y1="113.3" x2="274.4" y2="113.3" stroke="#000" stroke-width="0.65"/><text x="276.7" y="115.8" text-anchor="start" font-size="7" fill="#141414" stroke="#141414">2</text><text x="217" y="218.6" text-anchor="middle" font-size="7.2" fill="#141414" stroke="#141414"><tspan font-style="italic">k</tspan><tspan font-size="5" font-style="italic" dy="2.3">x</tspan><tspan dy="-2.3"> (a.u.)</tspan></text><text x="169.1" y="128" font-size="14" font-weight="bold" fill="#fff">d</text><rect x="290.2" y="3.3" width="10.6" height="192.3" fill="url(#cb151)" stroke="#000" stroke-width="0.8"/><text x="303.3" y="198.1" text-anchor="start" font-size="7" fill="#141414" stroke="#141414">0.00</text><text x="303.3" y="150.03" text-anchor="start" font-size="7" fill="#141414" stroke="#141414">0.25</text><text x="303.3" y="101.95" text-anchor="start" font-size="7" fill="#141414" stroke="#141414">0.50</text><text x="303.3" y="53.88" text-anchor="start" font-size="7" fill="#141414" stroke="#141414">0.75</text><text x="303.3" y="5.8" text-anchor="start" font-size="7" fill="#141414" stroke="#141414">1.00</text><text transform="translate(326.2,99.45) rotate(-90)" text-anchor="middle" font-size="7.1" fill="#141414" stroke="#141414">Normalized signal</text><polyline points="35.4,314.89 36.01,314.89 36.62,314.89 37.23,314.89 37.84,314.88 38.45,314.88 39.06,314.88 39.67,314.87 40.28,314.86 40.89,314.85 41.5,314.84 42.11,314.83 42.72,314.81 43.33,314.79 43.94,314.77 44.55,314.74 45.16,314.7 45.77,314.66 46.38,314.62 46.99,314.56 47.6,314.49 48.21,314.41 48.82,314.32 49.43,314.21 50.04,314.08 50.65,313.94 51.26,313.77 51.87,313.57 52.48,313.35 53.09,313.09 53.7,312.8 54.31,312.46 54.92,312.09 55.53,311.66 56.14,311.18 56.75,310.65 57.36,310.05 57.97,309.38 58.58,308.65 59.19,307.83 59.8,306.94 60.41,305.95 61.02,304.88 61.63,303.71 62.24,302.45 62.85,301.08 63.46,299.61 64.07,298.04 64.68,296.36 65.29,294.58 65.9,292.69 66.51,290.7 67.12,288.61 67.73,286.43 68.34,284.17 68.95,281.82 69.56,279.4 70.17,276.93 70.78,274.4 71.39,271.84 72,269.25 72.61,266.66 73.22,264.07 73.83,261.51 74.44,258.99 75.05,256.54 75.66,254.15 76.27,251.87 76.88,249.7 77.49,247.66 78.1,245.76 78.71,244.03 79.32,242.48 79.93,241.12 80.54,239.96 81.15,239.02 81.76,238.29 82.37,237.8 82.98,237.54 83.59,237.52 84.2,237.73 84.81,238.18 85.42,238.85 86.03,239.75 86.64,240.87 87.25,242.19 87.86,243.71 88.47,245.4 89.08,247.26 89.69,249.28 90.3,251.43 90.91,253.69 91.52,256.05 92.13,258.5 92.74,261.01 93.35,263.56 93.96,266.14 94.57,268.73 95.18,271.32 95.79,273.89 96.4,276.42 97.01,278.91 97.62,281.34 98.23,283.7 98.84,285.99 99.45,288.18 100.06,290.29 100.67,292.3 101.28,294.21 101.89,296.01 102.5,297.71 103.11,299.31 103.72,300.8 104.33,302.18 104.94,303.47 105.55,304.65 106.16,305.75 106.77,306.75 107.38,307.66 107.99,308.49 108.6,309.24 109.21,309.92 109.82,310.53 110.43,311.08 111.04,311.57 111.65,312 112.26,312.39 112.87,312.73 113.48,313.03 114.09,313.3 114.7,313.53 115.31,313.73 115.92,313.9 116.53,314.05 117.14,314.18 117.75,314.3 118.36,314.39 118.97,314.48 119.58,314.55 120.19,314.6 120.8,314.65 121.41,314.7 122.02,314.73 122.63,314.76 123.24,314.79 123.85,314.81 124.46,314.82 125.07,314.84 125.68,314.85 126.29,314.86 126.9,314.87 127.51,314.87 128.12,314.88 128.73,314.88 129.34,314.89 129.95,314.89 130.56,314.89 131.17,314.89 131.78,314.89 132.39,314.9 133,314.9" fill="none" stroke="#3f80bb" stroke-width="0.95"/><line x1="67" y1="237.3" x2="102.38" y2="315.3" stroke="#e0923a" stroke-width="0.95"/><rect x="30.6" y="233.6" width="106.8" height="85.2" fill="none" stroke="#000" stroke-width="1.1"/><line x1="35.4" y1="318.8" x2="35.4" y2="321.5" stroke="#000" stroke-width="0.65"/><text x="35.4" y="329.7" text-anchor="middle" font-size="7" fill="#141414" stroke="#141414">1.00</text><line x1="65.9" y1="318.8" x2="65.9" y2="321.5" stroke="#000" stroke-width="0.65"/><text x="65.9" y="329.7" text-anchor="middle" font-size="7" fill="#141414" stroke="#141414">1.25</text><line x1="96.4" y1="318.8" x2="96.4" y2="321.5" stroke="#000" stroke-width="0.65"/><text x="96.4" y="329.7" text-anchor="middle" font-size="7" fill="#141414" stroke="#141414">1.50</text><line x1="126.9" y1="318.8" x2="126.9" y2="321.5" stroke="#000" stroke-width="0.65"/><text x="126.9" y="329.7" text-anchor="middle" font-size="7" fill="#141414" stroke="#141414">1.75</text><text x="83.5" y="341.2" text-anchor="middle" font-size="7.2" fill="#141414" stroke="#141414">Momentum (a.u.)</text><line x1="27.9" y1="314.9" x2="30.6" y2="314.9" stroke="#000" stroke-width="0.65"/><text x="25.1" y="317.4" text-anchor="end" font-size="7" fill="#6a9fd0" stroke="#6a9fd0">0.00</text><line x1="27.9" y1="295.55" x2="30.6" y2="295.55" stroke="#000" stroke-width="0.65"/><text x="25.1" y="298.05" text-anchor="end" font-size="7" fill="#6a9fd0" stroke="#6a9fd0">0.25</text><line x1="27.9" y1="276.2" x2="30.6" y2="276.2" stroke="#000" stroke-width="0.65"/><text x="25.1" y="278.7" text-anchor="end" font-size="7" fill="#6a9fd0" stroke="#6a9fd0">0.50</text><line x1="27.9" y1="256.85" x2="30.6" y2="256.85" stroke="#000" stroke-width="0.65"/><text x="25.1" y="259.35" text-anchor="end" font-size="7" fill="#6a9fd0" stroke="#6a9fd0">0.75</text><line x1="27.9" y1="237.5" x2="30.6" y2="237.5" stroke="#000" stroke-width="0.65"/><text x="25.1" y="240" text-anchor="end" font-size="7" fill="#6a9fd0" stroke="#6a9fd0">1.00</text><text transform="translate(6.3,276.5) rotate(-90)" text-anchor="middle" font-size="7" fill="#6a9fd0" stroke="#6a9fd0">Norm. signal (arb.u.)</text><text x="34.3" y="245.5" font-size="14" font-weight="bold" fill="#000">e</text><polyline points="169.5,314.89 170.11,314.89 170.72,314.89 171.33,314.89 171.94,314.88 172.55,314.88 173.16,314.88 173.77,314.87 174.38,314.86 174.99,314.85 175.6,314.84 176.21,314.83 176.82,314.81 177.43,314.79 178.04,314.77 178.65,314.74 179.26,314.7 179.87,314.66 180.48,314.62 181.09,314.56 181.7,314.49 182.31,314.41 182.92,314.32 183.53,314.21 184.14,314.08 184.75,313.94 185.36,313.77 185.97,313.57 186.58,313.35 187.19,313.09 187.8,312.8 188.41,312.46 189.02,312.09 189.63,311.66 190.24,311.18 190.85,310.65 191.46,310.05 192.07,309.38 192.68,308.65 193.29,307.83 193.9,306.94 194.51,305.95 195.12,304.88 195.73,303.71 196.34,302.45 196.95,301.08 197.56,299.61 198.17,298.04 198.78,296.36 199.39,294.58 200,292.69 200.61,290.7 201.22,288.61 201.83,286.43 202.44,284.17 203.05,281.82 203.66,279.4 204.27,276.93 204.88,274.4 205.49,271.84 206.1,269.25 206.71,266.66 207.32,264.07 207.93,261.51 208.54,258.99 209.15,256.54 209.76,254.15 210.37,251.87 210.98,249.7 211.59,247.66 212.2,245.76 212.81,244.03 213.42,242.48 214.03,241.12 214.64,239.96 215.25,239.02 215.86,238.29 216.47,237.8 217.08,237.54 217.69,237.52 218.3,237.73 218.91,238.18 219.52,238.85 220.13,239.75 220.74,240.87 221.35,242.19 221.96,243.71 222.57,245.4 223.18,247.26 223.79,249.28 224.4,251.43 225.01,253.69 225.62,256.05 226.23,258.5 226.84,261.01 227.45,263.56 228.06,266.14 228.67,268.73 229.28,271.32 229.89,273.89 230.5,276.42 231.11,278.91 231.72,281.34 232.33,283.7 232.94,285.99 233.55,288.18 234.16,290.29 234.77,292.3 235.38,294.21 235.99,296.01 236.6,297.71 237.21,299.31 237.82,300.8 238.43,302.18 239.04,303.47 239.65,304.65 240.26,305.75 240.87,306.75 241.48,307.66 242.09,308.49 242.7,309.24 243.31,309.92 243.92,310.53 244.53,311.08 245.14,311.57 245.75,312 246.36,312.39 246.97,312.73 247.58,313.03 248.19,313.3 248.8,313.53 249.41,313.73 250.02,313.9 250.63,314.05 251.24,314.18 251.85,314.3 252.46,314.39 253.07,314.48 253.68,314.55 254.29,314.6 254.9,314.65 255.51,314.7 256.12,314.73 256.73,314.76 257.34,314.79 257.95,314.81 258.56,314.82 259.17,314.84 259.78,314.85 260.39,314.86 261,314.87 261.61,314.87 262.22,314.88 262.83,314.88 263.44,314.89 264.05,314.89 264.66,314.89 265.27,314.89 265.88,314.89 266.49,314.9 267.1,314.9" fill="none" stroke="#3f80bb" stroke-width="0.95"/><line x1="201.22" y1="248.4" x2="235.38" y2="302.1" stroke="#e0923a" stroke-width="0.95"/><rect x="164.7" y="233.6" width="106.8" height="85.2" fill="none" stroke="#000" stroke-width="1.1"/><line x1="169.5" y1="318.8" x2="169.5" y2="321.5" stroke="#000" stroke-width="0.65"/><text x="169.5" y="329.7" text-anchor="middle" font-size="7" fill="#141414" stroke="#141414">1.00</text><line x1="200" y1="318.8" x2="200" y2="321.5" stroke="#000" stroke-width="0.65"/><text x="200" y="329.7" text-anchor="middle" font-size="7" fill="#141414" stroke="#141414">1.25</text><line x1="230.5" y1="318.8" x2="230.5" y2="321.5" stroke="#000" stroke-width="0.65"/><text x="230.5" y="329.7" text-anchor="middle" font-size="7" fill="#141414" stroke="#141414">1.50</text><line x1="261" y1="318.8" x2="261" y2="321.5" stroke="#000" stroke-width="0.65"/><text x="261" y="329.7" text-anchor="middle" font-size="7" fill="#141414" stroke="#141414">1.75</text><text x="217.6" y="341.2" text-anchor="middle" font-size="7.2" fill="#141414" stroke="#141414">Momentum (a.u.)</text><line x1="271.5" y1="237.3" x2="274.2" y2="237.3" stroke="#000" stroke-width="0.65"/><text x="276.5" y="239.8" text-anchor="start" font-size="7" fill="#e6a04e" stroke="#e6a04e">0.2</text><line x1="271.5" y1="255.12" x2="274.2" y2="255.12" stroke="#000" stroke-width="0.65"/><text x="276.5" y="257.62" text-anchor="start" font-size="7" fill="#e6a04e" stroke="#e6a04e">0.1</text><line x1="271.5" y1="272.95" x2="274.2" y2="272.95" stroke="#000" stroke-width="0.65"/><text x="276.5" y="275.45" text-anchor="start" font-size="7" fill="#e6a04e" stroke="#e6a04e">0.0</text><line x1="271.5" y1="290.77" x2="274.2" y2="290.77" stroke="#000" stroke-width="0.65"/><text x="276.5" y="293.27" text-anchor="start" font-size="7" fill="#e6a04e" stroke="#e6a04e">−0.1</text><line x1="271.5" y1="308.6" x2="274.2" y2="308.6" stroke="#000" stroke-width="0.65"/><text x="276.5" y="311.1" text-anchor="start" font-size="7" fill="#e6a04e" stroke="#e6a04e">−0.2</text><text transform="translate(300.1,277.5) rotate(-90)" text-anchor="middle" font-size="7" fill="#e6a04e" stroke="#e6a04e">Asymmetry</text><text x="168.4" y="248.1" font-size="14" font-weight="bold" fill="#000">f</text><rect x="381.3" y="3.3" width="107.4" height="85.4" fill="#0c0a0a" stroke="none" stroke-width="0.8"/><g clip-path="url(#cp153)" fill="url(#bg152)"><rect x="381.3" y="28.37" width="0.9" height="32.28"/><rect x="381.8" y="28.46" width="0.9" height="32.28"/><rect x="382.3" y="28.56" width="0.9" height="32.28"/><rect x="382.8" y="28.66" width="0.9" height="32.28"/><rect x="383.3" y="28.76" width="0.9" height="32.28"/><rect x="383.8" y="28.87" width="0.9" height="32.28"/><rect x="384.3" y="28.98" width="0.9" height="32.28"/><rect x="384.8" y="29.09" width="0.9" height="32.28"/><rect x="385.3" y="29.21" width="0.9" height="32.28"/><rect x="385.8" y="29.33" width="0.9" height="32.28"/><rect x="386.3" y="29.46" width="0.9" height="32.28"/><rect x="386.8" y="29.58" width="0.9" height="32.28"/><rect x="387.3" y="29.72" width="0.9" height="32.28"/><rect x="387.8" y="29.85" width="0.9" height="32.28"/><rect x="388.3" y="29.99" width="0.9" height="32.28"/><rect x="388.8" y="30.12" width="0.9" height="32.28"/><rect x="389.3" y="30.27" width="0.9" height="32.28"/><rect x="389.8" y="30.41" width="0.9" height="32.28"/><rect x="390.3" y="30.56" width="0.9" height="32.28"/><rect x="390.8" y="30.71" width="0.9" height="32.28"/><rect x="391.3" y="30.86" width="0.9" height="32.28"/><rect x="391.8" y="31.01" width="0.9" height="32.28"/><rect x="392.3" y="31.17" width="0.9" height="32.28"/><rect x="392.8" y="31.33" width="0.9" height="32.28"/><rect x="393.3" y="31.49" width="0.9" height="32.28"/><rect x="393.8" y="31.65" width="0.9" height="32.28"/><rect x="394.3" y="31.82" width="0.9" height="32.28"/><rect x="394.8" y="31.98" width="0.9" height="32.28"/><rect x="395.3" y="32.15" width="0.9" height="32.28"/><rect x="395.8" y="32.32" width="0.9" height="32.28"/><rect x="396.3" y="32.49" width="0.9" height="32.28"/><rect x="396.8" y="32.66" width="0.9" height="32.28"/><rect x="397.3" y="32.83" width="0.9" height="32.28"/><rect x="397.8" y="33" width="0.9" height="32.28"/><rect x="398.3" y="33.18" width="0.9" height="32.28"/><rect x="398.8" y="33.35" width="0.9" height="32.28"/><rect x="399.3" y="33.53" width="0.9" height="32.28"/><rect x="399.8" y="33.7" width="0.9" height="32.28"/><rect x="400.3" y="33.88" width="0.9" height="32.28"/><rect x="400.8" y="34.06" width="0.9" height="32.28"/><rect x="401.3" y="34.23" width="0.9" height="32.28"/><rect x="401.8" y="34.41" width="0.9" height="32.28"/><rect x="402.3" y="34.59" width="0.9" height="32.28"/><rect x="402.8" y="34.76" width="0.9" height="32.28"/><rect x="403.3" y="34.94" width="0.9" height="32.28"/><rect x="403.8" y="35.12" width="0.9" height="32.28"/><rect x="404.3" y="35.29" width="0.9" height="32.28"/><rect x="404.8" y="35.47" width="0.9" height="32.28"/><rect x="405.3" y="35.64" width="0.9" height="32.28"/><rect x="405.8" y="35.81" width="0.9" height="32.28"/><rect x="406.3" y="35.99" width="0.9" height="32.28"/><rect x="406.8" y="36.16" width="0.9" height="32.28"/><rect x="407.3" y="36.33" width="0.9" height="32.28"/><rect x="407.8" y="36.5" width="0.9" height="32.28"/><rect x="408.3" y="36.66" width="0.9" height="32.28"/><rect x="408.8" y="36.83" width="0.9" height="32.28"/><rect x="409.3" y="37" width="0.9" height="32.28"/><rect x="409.8" y="37.16" width="0.9" height="32.28"/><rect x="410.3" y="37.32" width="0.9" height="32.28"/><rect x="410.8" y="37.48" width="0.9" height="32.28"/><rect x="411.3" y="37.64" width="0.9" height="32.28"/><rect x="411.8" y="37.79" width="0.9" height="32.28"/><rect x="412.3" y="37.94" width="0.9" height="32.28"/><rect x="412.8" y="38.1" width="0.9" height="32.28"/><rect x="413.3" y="38.24" width="0.9" height="32.28"/><rect x="413.8" y="38.39" width="0.9" height="32.28"/><rect x="414.3" y="38.53" width="0.9" height="32.28"/><rect x="414.8" y="38.67" width="0.9" height="32.28"/><rect x="415.3" y="38.81" width="0.9" height="32.28"/><rect x="415.8" y="38.95" width="0.9" height="32.28"/><rect x="416.3" y="39.08" width="0.9" height="32.28"/><rect x="416.8" y="39.21" width="0.9" height="32.28"/><rect x="417.3" y="39.33" width="0.9" height="32.28"/><rect x="417.8" y="39.45" width="0.9" height="32.28"/><rect x="418.3" y="39.57" width="0.9" height="32.28"/><rect x="418.8" y="39.69" width="0.9" height="32.28"/><rect x="419.3" y="39.8" width="0.9" height="32.28"/><rect x="419.8" y="39.91" width="0.9" height="32.28"/><rect x="420.3" y="40.02" width="0.9" height="32.28"/><rect x="420.8" y="40.12" width="0.9" height="32.28"/><rect x="421.3" y="40.22" width="0.9" height="32.28"/><rect x="421.8" y="40.31" width="0.9" height="32.28"/><rect x="422.3" y="40.4" width="0.9" height="32.28"/><rect x="422.8" y="40.49" width="0.9" height="32.28"/><rect x="423.3" y="40.57" width="0.9" height="32.28"/><rect x="423.8" y="40.65" width="0.9" height="32.28"/><rect x="424.3" y="40.72" width="0.9" height="32.28"/><rect x="424.8" y="40.79" width="0.9" height="32.28"/><rect x="425.3" y="40.86" width="0.9" height="32.28"/><rect x="425.8" y="40.92" width="0.9" height="32.28"/><rect x="426.3" y="40.98" width="0.9" height="32.28"/><rect x="426.8" y="41.04" width="0.9" height="32.28"/><rect x="427.3" y="41.08" width="0.9" height="32.28"/><rect x="427.8" y="41.13" width="0.9" height="32.28"/><rect x="428.3" y="41.17" width="0.9" height="32.28"/><rect x="428.8" y="41.21" width="0.9" height="32.28"/><rect x="429.3" y="41.24" width="0.9" height="32.28"/><rect x="429.8" y="41.27" width="0.9" height="32.28"/><rect x="430.3" y="41.29" width="0.9" height="32.28"/><rect x="430.8" y="41.31" width="0.9" height="32.28"/><rect x="431.3" y="41.32" width="0.9" height="32.28"/><rect x="431.8" y="41.33" width="0.9" height="32.28"/><rect x="432.3" y="41.34" width="0.9" height="32.28"/><rect x="432.8" y="41.34" width="0.9" height="32.28"/><rect x="433.3" y="41.34" width="0.9" height="32.28"/><rect x="433.8" y="41.33" width="0.9" height="32.28"/><rect x="434.3" y="41.31" width="0.9" height="32.28"/><rect x="434.8" y="41.3" width="0.9" height="32.28"/><rect x="435.3" y="41.28" width="0.9" height="32.28"/><rect x="435.8" y="41.25" width="0.9" height="32.28"/><rect x="436.3" y="41.22" width="0.9" height="32.28"/><rect x="436.8" y="41.19" width="0.9" height="32.28"/><rect x="437.3" y="41.15" width="0.9" height="32.28"/><rect x="437.8" y="41.1" width="0.9" height="32.28"/><rect x="438.3" y="41.05" width="0.9" height="32.28"/><rect x="438.8" y="41" width="0.9" height="32.28"/><rect x="439.3" y="40.95" width="0.9" height="32.28"/><rect x="439.8" y="40.89" width="0.9" height="32.28"/><rect x="440.3" y="40.82" width="0.9" height="32.28"/><rect x="440.8" y="40.75" width="0.9" height="32.28"/><rect x="441.3" y="40.68" width="0.9" height="32.28"/><rect x="441.8" y="40.6" width="0.9" height="32.28"/><rect x="442.3" y="40.52" width="0.9" height="32.28"/><rect x="442.8" y="40.43" width="0.9" height="32.28"/><rect x="443.3" y="40.35" width="0.9" height="32.28"/><rect x="443.8" y="40.25" width="0.9" height="32.28"/><rect x="444.3" y="40.16" width="0.9" height="32.28"/><rect x="444.8" y="40.06" width="0.9" height="32.28"/><rect x="445.3" y="39.95" width="0.9" height="32.28"/><rect x="445.8" y="39.84" width="0.9" height="32.28"/><rect x="446.3" y="39.73" width="0.9" height="32.28"/><rect x="446.8" y="39.62" width="0.9" height="32.28"/><rect x="447.3" y="39.5" width="0.9" height="32.28"/><rect x="447.8" y="39.38" width="0.9" height="32.28"/><rect x="448.3" y="39.25" width="0.9" height="32.28"/><rect x="448.8" y="39.13" width="0.9" height="32.28"/><rect x="449.3" y="39" width="0.9" height="32.28"/><rect x="449.8" y="38.86" width="0.9" height="32.28"/><rect x="450.3" y="38.73" width="0.9" height="32.28"/><rect x="450.8" y="38.59" width="0.9" height="32.28"/><rect x="451.3" y="38.44" width="0.9" height="32.28"/><rect x="451.8" y="38.3" width="0.9" height="32.28"/><rect x="452.3" y="38.15" width="0.9" height="32.28"/><rect x="452.8" y="38" width="0.9" height="32.28"/><rect x="453.3" y="37.85" width="0.9" height="32.28"/><rect x="453.8" y="37.7" width="0.9" height="32.28"/><rect x="454.3" y="37.54" width="0.9" height="32.28"/><rect x="454.8" y="37.38" width="0.9" height="32.28"/><rect x="455.3" y="37.22" width="0.9" height="32.28"/><rect x="455.8" y="37.06" width="0.9" height="32.28"/><rect x="456.3" y="36.89" width="0.9" height="32.28"/><rect x="456.8" y="36.73" width="0.9" height="32.28"/><rect x="457.3" y="36.56" width="0.9" height="32.28"/><rect x="457.8" y="36.39" width="0.9" height="32.28"/><rect x="458.3" y="36.22" width="0.9" height="32.28"/><rect x="458.8" y="36.05" width="0.9" height="32.28"/><rect x="459.3" y="35.88" width="0.9" height="32.28"/><rect x="459.8" y="35.71" width="0.9" height="32.28"/><rect x="460.3" y="35.53" width="0.9" height="32.28"/><rect x="460.8" y="35.36" width="0.9" height="32.28"/><rect x="461.3" y="35.18" width="0.9" height="32.28"/><rect x="461.8" y="35.01" width="0.9" height="32.28"/><rect x="462.3" y="34.83" width="0.9" height="32.28"/><rect x="462.8" y="34.65" width="0.9" height="32.28"/><rect x="463.3" y="34.48" width="0.9" height="32.28"/><rect x="463.8" y="34.3" width="0.9" height="32.28"/><rect x="464.3" y="34.12" width="0.9" height="32.28"/><rect x="464.8" y="33.95" width="0.9" height="32.28"/><rect x="465.3" y="33.77" width="0.9" height="32.28"/><rect x="465.8" y="33.59" width="0.9" height="32.28"/><rect x="466.3" y="33.42" width="0.9" height="32.28"/><rect x="466.8" y="33.24" width="0.9" height="32.28"/><rect x="467.3" y="33.07" width="0.9" height="32.28"/><rect x="467.8" y="32.89" width="0.9" height="32.28"/><rect x="468.3" y="32.72" width="0.9" height="32.28"/><rect x="468.8" y="32.55" width="0.9" height="32.28"/><rect x="469.3" y="32.38" width="0.9" height="32.28"/><rect x="469.8" y="32.21" width="0.9" height="32.28"/><rect x="470.3" y="32.04" width="0.9" height="32.28"/><rect x="470.8" y="31.88" width="0.9" height="32.28"/><rect x="471.3" y="31.71" width="0.9" height="32.28"/><rect x="471.8" y="31.55" width="0.9" height="32.28"/><rect x="472.3" y="31.39" width="0.9" height="32.28"/><rect x="472.8" y="31.23" width="0.9" height="32.28"/><rect x="473.3" y="31.07" width="0.9" height="32.28"/><rect x="473.8" y="30.92" width="0.9" height="32.28"/><rect x="474.3" y="30.77" width="0.9" height="32.28"/><rect x="474.8" y="30.61" width="0.9" height="32.28"/><rect x="475.3" y="30.47" width="0.9" height="32.28"/><rect x="475.8" y="30.32" width="0.9" height="32.28"/><rect x="476.3" y="30.18" width="0.9" height="32.28"/><rect x="476.8" y="30.04" width="0.9" height="32.28"/><rect x="477.3" y="29.9" width="0.9" height="32.28"/><rect x="477.8" y="29.77" width="0.9" height="32.28"/><rect x="478.3" y="29.63" width="0.9" height="32.28"/><rect x="478.8" y="29.51" width="0.9" height="32.28"/><rect x="479.3" y="29.38" width="0.9" height="32.28"/><rect x="479.8" y="29.26" width="0.9" height="32.28"/><rect x="480.3" y="29.14" width="0.9" height="32.28"/><rect x="480.8" y="29.02" width="0.9" height="32.28"/><rect x="481.3" y="28.91" width="0.9" height="32.28"/><rect x="481.8" y="28.8" width="0.9" height="32.28"/><rect x="482.3" y="28.7" width="0.9" height="32.28"/><rect x="482.8" y="28.59" width="0.9" height="32.28"/><rect x="483.3" y="28.5" width="0.9" height="32.28"/><rect x="483.8" y="28.4" width="0.9" height="32.28"/><rect x="484.3" y="28.31" width="0.9" height="32.28"/><rect x="484.8" y="28.23" width="0.9" height="32.28"/><rect x="485.3" y="28.14" width="0.9" height="32.28"/><rect x="485.8" y="28.06" width="0.9" height="32.28"/><rect x="486.3" y="27.99" width="0.9" height="32.28"/><rect x="486.8" y="27.92" width="0.9" height="32.28"/><rect x="487.3" y="27.85" width="0.9" height="32.28"/><rect x="487.8" y="27.79" width="0.9" height="32.28"/><rect x="488.3" y="27.73" width="0.9" height="32.28"/></g><polyline points="381.3,44.46 382.37,44.66 383.45,44.88 384.52,45.11 385.6,45.36 386.67,45.63 387.74,45.91 388.82,46.2 389.89,46.51 390.97,46.82 392.04,47.15 393.11,47.49 394.19,47.84 395.26,48.19 396.34,48.55 397.41,48.92 398.48,49.29 399.56,49.67 400.63,50.05 401.71,50.43 402.78,50.81 403.85,51.19 404.93,51.56 406,51.94 407.08,52.31 408.15,52.67 409.22,53.03 410.3,53.38 411.37,53.72 412.45,54.05 413.52,54.38 414.59,54.69 415.67,54.98 416.74,55.27 417.82,55.54 418.89,55.79 419.96,56.03 421.04,56.26 422.11,56.46 423.19,56.65 424.26,56.82 425.33,56.97 426.41,57.11 427.48,57.22 428.56,57.31 429.63,57.38 430.7,57.44 431.78,57.47 432.85,57.48 433.93,57.47 435,57.44 436.07,57.39 437.15,57.32 438.22,57.23 439.3,57.12 440.37,56.98 441.44,56.83 442.52,56.67 443.59,56.48 444.67,56.27 445.74,56.05 446.81,55.81 447.89,55.56 448.96,55.29 450.04,55.01 451.11,54.71 452.18,54.4 453.26,54.08 454.33,53.75 455.41,53.41 456.48,53.06 457.55,52.7 458.63,52.34 459.7,51.97 460.78,51.59 461.85,51.22 462.92,50.84 464,50.46 465.07,50.08 466.15,49.7 467.22,49.32 468.29,48.95 469.37,48.58 470.44,48.22 471.52,47.86 472.59,47.52 473.66,47.18 474.74,46.85 475.81,46.53 476.89,46.22 477.96,45.93 479.03,45.65 480.11,45.38 481.18,45.13 482.26,44.9 483.33,44.68 484.4,44.48 485.48,44.3 486.55,44.13 487.63,43.98 488.7,43.86" fill="none" stroke="rgba(255,252,240,0.6)" stroke-width="1.0" stroke-dasharray="1.8 1.4" clip-path="url(#cp153)"/><rect x="381.3" y="3.3" width="107.4" height="85.4" fill="none" stroke="#000" stroke-width="0.6"/><line x1="381.3" y1="88.7" x2="381.3" y2="91.4" stroke="#000" stroke-width="0.65"/><text x="381.3" y="98.9" text-anchor="middle" font-size="7" fill="#141414" stroke="#141414">−50</text><line x1="408.15" y1="88.7" x2="408.15" y2="91.4" stroke="#000" stroke-width="0.65"/><text x="408.15" y="98.9" text-anchor="middle" font-size="7" fill="#141414" stroke="#141414">−25</text><line x1="435" y1="88.7" x2="435" y2="91.4" stroke="#000" stroke-width="0.65"/><text x="435" y="98.9" text-anchor="middle" font-size="7" fill="#141414" stroke="#141414">0</text><line x1="461.85" y1="88.7" x2="461.85" y2="91.4" stroke="#000" stroke-width="0.65"/><text x="461.85" y="98.9" text-anchor="middle" font-size="7" fill="#141414" stroke="#141414">25</text><line x1="488.7" y1="88.7" x2="488.7" y2="91.4" stroke="#000" stroke-width="0.65"/><text x="488.7" y="98.9" text-anchor="middle" font-size="7" fill="#141414" stroke="#141414">50</text><text x="433.9" y="108.3" text-anchor="middle" font-size="7.2" fill="#141414" stroke="#141414">Time delay (a.u.)</text><line x1="378.6" y1="88.7" x2="381.3" y2="88.7" stroke="#000" stroke-width="0.65"/><text x="376.1" y="91.2" text-anchor="end" font-size="7" fill="#141414" stroke="#141414">0.5</text><line x1="378.6" y1="67.35" x2="381.3" y2="67.35" stroke="#000" stroke-width="0.65"/><text x="376.1" y="69.85" text-anchor="end" font-size="7" fill="#141414" stroke="#141414">1.0</text><line x1="378.6" y1="46" x2="381.3" y2="46" stroke="#000" stroke-width="0.65"/><text x="376.1" y="48.5" text-anchor="end" font-size="7" fill="#141414" stroke="#141414">1.5</text><line x1="378.6" y1="24.65" x2="381.3" y2="24.65" stroke="#000" stroke-width="0.65"/><text x="376.1" y="27.15" text-anchor="end" font-size="7" fill="#141414" stroke="#141414">2.0</text><line x1="378.6" y1="3.3" x2="381.3" y2="3.3" stroke="#000" stroke-width="0.65"/><text x="376.1" y="5.8" text-anchor="end" font-size="7" fill="#141414" stroke="#141414">2.5</text><text transform="translate(358.8,46.5) rotate(-90)" text-anchor="middle" font-size="7.1" fill="#141414" stroke="#141414">Momentum (a.u.)</text><text x="385.6" y="16.6" font-size="14" font-weight="bold" fill="#fff">g</text><rect x="515.3" y="3.3" width="107.4" height="85.4" fill="#0c0a0a" stroke="none" stroke-width="0.8"/><g clip-path="url(#cp155)" fill="url(#bg154)"><rect x="515.3" y="26.42" width="0.9" height="35.87"/><rect x="515.8" y="26.43" width="0.9" height="35.87"/><rect x="516.3" y="26.44" width="0.9" height="35.87"/><rect x="516.8" y="26.46" width="0.9" height="35.87"/><rect x="517.3" y="26.48" width="0.9" height="35.87"/><rect x="517.8" y="26.52" width="0.9" height="35.87"/><rect x="518.3" y="26.55" width="0.9" height="35.87"/><rect x="518.8" y="26.59" width="0.9" height="35.87"/><rect x="519.3" y="26.64" width="0.9" height="35.87"/><rect x="519.8" y="26.69" width="0.9" height="35.87"/><rect x="520.3" y="26.75" width="0.9" height="35.87"/><rect x="520.8" y="26.81" width="0.9" height="35.87"/><rect x="521.3" y="26.88" width="0.9" height="35.87"/><rect x="521.8" y="26.95" width="0.9" height="35.87"/><rect x="522.3" y="27.03" width="0.9" height="35.87"/><rect x="522.8" y="27.11" width="0.9" height="35.87"/><rect x="523.3" y="27.2" width="0.9" height="35.87"/><rect x="523.8" y="27.29" width="0.9" height="35.87"/><rect x="524.3" y="27.39" width="0.9" height="35.87"/><rect x="524.8" y="27.49" width="0.9" height="35.87"/><rect x="525.3" y="27.6" width="0.9" height="35.87"/><rect x="525.8" y="27.71" width="0.9" height="35.87"/><rect x="526.3" y="27.83" width="0.9" height="35.87"/><rect x="526.8" y="27.95" width="0.9" height="35.87"/><rect x="527.3" y="28.07" width="0.9" height="35.87"/><rect x="527.8" y="28.2" width="0.9" height="35.87"/><rect x="528.3" y="28.33" width="0.9" height="35.87"/><rect x="528.8" y="28.47" width="0.9" height="35.87"/><rect x="529.3" y="28.61" width="0.9" height="35.87"/><rect x="529.8" y="28.75" width="0.9" height="35.87"/><rect x="530.3" y="28.9" width="0.9" height="35.87"/><rect x="530.8" y="29.05" width="0.9" height="35.87"/><rect x="531.3" y="29.21" width="0.9" height="35.87"/><rect x="531.8" y="29.36" width="0.9" height="35.87"/><rect x="532.3" y="29.52" width="0.9" height="35.87"/><rect x="532.8" y="29.69" width="0.9" height="35.87"/><rect x="533.3" y="29.85" width="0.9" height="35.87"/><rect x="533.8" y="30.02" width="0.9" height="35.87"/><rect x="534.3" y="30.19" width="0.9" height="35.87"/><rect x="534.8" y="30.37" width="0.9" height="35.87"/><rect x="535.3" y="30.54" width="0.9" height="35.87"/><rect x="535.8" y="30.72" width="0.9" height="35.87"/><rect x="536.3" y="30.9" width="0.9" height="35.87"/><rect x="536.8" y="31.09" width="0.9" height="35.87"/><rect x="537.3" y="31.27" width="0.9" height="35.87"/><rect x="537.8" y="31.45" width="0.9" height="35.87"/><rect x="538.3" y="31.64" width="0.9" height="35.87"/><rect x="538.8" y="31.83" width="0.9" height="35.87"/><rect x="539.3" y="32.02" width="0.9" height="35.87"/><rect x="539.8" y="32.21" width="0.9" height="35.87"/><rect x="540.3" y="32.4" width="0.9" height="35.87"/><rect x="540.8" y="32.59" width="0.9" height="35.87"/><rect x="541.3" y="32.78" width="0.9" height="35.87"/><rect x="541.8" y="32.97" width="0.9" height="35.87"/><rect x="542.3" y="33.16" width="0.9" height="35.87"/><rect x="542.8" y="33.35" width="0.9" height="35.87"/><rect x="543.3" y="33.54" width="0.9" height="35.87"/><rect x="543.8" y="33.73" width="0.9" height="35.87"/><rect x="544.3" y="33.92" width="0.9" height="35.87"/><rect x="544.8" y="34.11" width="0.9" height="35.87"/><rect x="545.3" y="34.3" width="0.9" height="35.87"/><rect x="545.8" y="34.48" width="0.9" height="35.87"/><rect x="546.3" y="34.67" width="0.9" height="35.87"/><rect x="546.8" y="34.85" width="0.9" height="35.87"/><rect x="547.3" y="35.04" width="0.9" height="35.87"/><rect x="547.8" y="35.22" width="0.9" height="35.87"/><rect x="548.3" y="35.4" width="0.9" height="35.87"/><rect x="548.8" y="35.57" width="0.9" height="35.87"/><rect x="549.3" y="35.75" width="0.9" height="35.87"/><rect x="549.8" y="35.92" width="0.9" height="35.87"/><rect x="550.3" y="36.09" width="0.9" height="35.87"/><rect x="550.8" y="36.26" width="0.9" height="35.87"/><rect x="551.3" y="36.43" width="0.9" height="35.87"/><rect x="551.8" y="36.59" width="0.9" height="35.87"/><rect x="552.3" y="36.75" width="0.9" height="35.87"/><rect x="552.8" y="36.9" width="0.9" height="35.87"/><rect x="553.3" y="37.06" width="0.9" height="35.87"/><rect x="553.8" y="37.2" width="0.9" height="35.87"/><rect x="554.3" y="37.35" width="0.9" height="35.87"/><rect x="554.8" y="37.49" width="0.9" height="35.87"/><rect x="555.3" y="37.63" width="0.9" height="35.87"/><rect x="555.8" y="37.77" width="0.9" height="35.87"/><rect x="556.3" y="37.9" width="0.9" height="35.87"/><rect x="556.8" y="38.02" width="0.9" height="35.87"/><rect x="557.3" y="38.15" width="0.9" height="35.87"/><rect x="557.8" y="38.26" width="0.9" height="35.87"/><rect x="558.3" y="38.38" width="0.9" height="35.87"/><rect x="558.8" y="38.49" width="0.9" height="35.87"/><rect x="559.3" y="38.59" width="0.9" height="35.87"/><rect x="559.8" y="38.69" width="0.9" height="35.87"/><rect x="560.3" y="38.79" width="0.9" height="35.87"/><rect x="560.8" y="38.88" width="0.9" height="35.87"/><rect x="561.3" y="38.96" width="0.9" height="35.87"/><rect x="561.8" y="39.04" width="0.9" height="35.87"/><rect x="562.3" y="39.12" width="0.9" height="35.87"/><rect x="562.8" y="39.19" width="0.9" height="35.87"/><rect x="563.3" y="39.25" width="0.9" height="35.87"/><rect x="563.8" y="39.31" width="0.9" height="35.87"/><rect x="564.3" y="39.37" width="0.9" height="35.87"/><rect x="564.8" y="39.42" width="0.9" height="35.87"/><rect x="565.3" y="39.46" width="0.9" height="35.87"/><rect x="565.8" y="39.5" width="0.9" height="35.87"/><rect x="566.3" y="39.53" width="0.9" height="35.87"/><rect x="566.8" y="39.56" width="0.9" height="35.87"/><rect x="567.3" y="39.58" width="0.9" height="35.87"/><rect x="567.8" y="39.6" width="0.9" height="35.87"/><rect x="568.3" y="39.61" width="0.9" height="35.87"/><rect x="568.8" y="39.62" width="0.9" height="35.87"/><rect x="569.3" y="39.62" width="0.9" height="35.87"/><rect x="569.8" y="39.61" width="0.9" height="35.87"/><rect x="570.3" y="39.6" width="0.9" height="35.87"/><rect x="570.8" y="39.58" width="0.9" height="35.87"/><rect x="571.3" y="39.56" width="0.9" height="35.87"/><rect x="571.8" y="39.53" width="0.9" height="35.87"/><rect x="572.3" y="39.5" width="0.9" height="35.87"/><rect x="572.8" y="39.46" width="0.9" height="35.87"/><rect x="573.3" y="39.42" width="0.9" height="35.87"/><rect x="573.8" y="39.37" width="0.9" height="35.87"/><rect x="574.3" y="39.31" width="0.9" height="35.87"/><rect x="574.8" y="39.25" width="0.9" height="35.87"/><rect x="575.3" y="39.19" width="0.9" height="35.87"/><rect x="575.8" y="39.12" width="0.9" height="35.87"/><rect x="576.3" y="39.04" width="0.9" height="35.87"/><rect x="576.8" y="38.96" width="0.9" height="35.87"/><rect x="577.3" y="38.88" width="0.9" height="35.87"/><rect x="577.8" y="38.79" width="0.9" height="35.87"/><rect x="578.3" y="38.69" width="0.9" height="35.87"/><rect x="578.8" y="38.59" width="0.9" height="35.87"/><rect x="579.3" y="38.49" width="0.9" height="35.87"/><rect x="579.8" y="38.38" width="0.9" height="35.87"/><rect x="580.3" y="38.26" width="0.9" height="35.87"/><rect x="580.8" y="38.15" width="0.9" height="35.87"/><rect x="581.3" y="38.02" width="0.9" height="35.87"/><rect x="581.8" y="37.9" width="0.9" height="35.87"/><rect x="582.3" y="37.77" width="0.9" height="35.87"/><rect x="582.8" y="37.63" width="0.9" height="35.87"/><rect x="583.3" y="37.49" width="0.9" height="35.87"/><rect x="583.8" y="37.35" width="0.9" height="35.87"/><rect x="584.3" y="37.21" width="0.9" height="35.87"/><rect x="584.8" y="37.06" width="0.9" height="35.87"/><rect x="585.3" y="36.9" width="0.9" height="35.87"/><rect x="585.8" y="36.75" width="0.9" height="35.87"/><rect x="586.3" y="36.59" width="0.9" height="35.87"/><rect x="586.8" y="36.43" width="0.9" height="35.87"/><rect x="587.3" y="36.26" width="0.9" height="35.87"/><rect x="587.8" y="36.09" width="0.9" height="35.87"/><rect x="588.3" y="35.92" width="0.9" height="35.87"/><rect x="588.8" y="35.75" width="0.9" height="35.87"/><rect x="589.3" y="35.57" width="0.9" height="35.87"/><rect x="589.8" y="35.4" width="0.9" height="35.87"/><rect x="590.3" y="35.22" width="0.9" height="35.87"/><rect x="590.8" y="35.04" width="0.9" height="35.87"/><rect x="591.3" y="34.85" width="0.9" height="35.87"/><rect x="591.8" y="34.67" width="0.9" height="35.87"/><rect x="592.3" y="34.48" width="0.9" height="35.87"/><rect x="592.8" y="34.3" width="0.9" height="35.87"/><rect x="593.3" y="34.11" width="0.9" height="35.87"/><rect x="593.8" y="33.92" width="0.9" height="35.87"/><rect x="594.3" y="33.73" width="0.9" height="35.87"/><rect x="594.8" y="33.54" width="0.9" height="35.87"/><rect x="595.3" y="33.35" width="0.9" height="35.87"/><rect x="595.8" y="33.16" width="0.9" height="35.87"/><rect x="596.3" y="32.97" width="0.9" height="35.87"/><rect x="596.8" y="32.78" width="0.9" height="35.87"/><rect x="597.3" y="32.59" width="0.9" height="35.87"/><rect x="597.8" y="32.4" width="0.9" height="35.87"/><rect x="598.3" y="32.21" width="0.9" height="35.87"/><rect x="598.8" y="32.02" width="0.9" height="35.87"/><rect x="599.3" y="31.83" width="0.9" height="35.87"/><rect x="599.8" y="31.64" width="0.9" height="35.87"/><rect x="600.3" y="31.45" width="0.9" height="35.87"/><rect x="600.8" y="31.27" width="0.9" height="35.87"/><rect x="601.3" y="31.09" width="0.9" height="35.87"/><rect x="601.8" y="30.9" width="0.9" height="35.87"/><rect x="602.3" y="30.72" width="0.9" height="35.87"/><rect x="602.8" y="30.55" width="0.9" height="35.87"/><rect x="603.3" y="30.37" width="0.9" height="35.87"/><rect x="603.8" y="30.2" width="0.9" height="35.87"/><rect x="604.3" y="30.02" width="0.9" height="35.87"/><rect x="604.8" y="29.85" width="0.9" height="35.87"/><rect x="605.3" y="29.69" width="0.9" height="35.87"/><rect x="605.8" y="29.52" width="0.9" height="35.87"/><rect x="606.3" y="29.36" width="0.9" height="35.87"/><rect x="606.8" y="29.21" width="0.9" height="35.87"/><rect x="607.3" y="29.05" width="0.9" height="35.87"/><rect x="607.8" y="28.9" width="0.9" height="35.87"/><rect x="608.3" y="28.75" width="0.9" height="35.87"/><rect x="608.8" y="28.61" width="0.9" height="35.87"/><rect x="609.3" y="28.47" width="0.9" height="35.87"/><rect x="609.8" y="28.33" width="0.9" height="35.87"/><rect x="610.3" y="28.2" width="0.9" height="35.87"/><rect x="610.8" y="28.07" width="0.9" height="35.87"/><rect x="611.3" y="27.95" width="0.9" height="35.87"/><rect x="611.8" y="27.83" width="0.9" height="35.87"/><rect x="612.3" y="27.71" width="0.9" height="35.87"/><rect x="612.8" y="27.6" width="0.9" height="35.87"/><rect x="613.3" y="27.49" width="0.9" height="35.87"/><rect x="613.8" y="27.39" width="0.9" height="35.87"/><rect x="614.3" y="27.29" width="0.9" height="35.87"/><rect x="614.8" y="27.2" width="0.9" height="35.87"/><rect x="615.3" y="27.11" width="0.9" height="35.87"/><rect x="615.8" y="27.03" width="0.9" height="35.87"/><rect x="616.3" y="26.95" width="0.9" height="35.87"/><rect x="616.8" y="26.88" width="0.9" height="35.87"/><rect x="617.3" y="26.81" width="0.9" height="35.87"/><rect x="617.8" y="26.75" width="0.9" height="35.87"/><rect x="618.3" y="26.69" width="0.9" height="35.87"/><rect x="618.8" y="26.64" width="0.9" height="35.87"/><rect x="619.3" y="26.59" width="0.9" height="35.87"/><rect x="619.8" y="26.55" width="0.9" height="35.87"/><rect x="620.3" y="26.52" width="0.9" height="35.87"/><rect x="620.8" y="26.48" width="0.9" height="35.87"/><rect x="621.3" y="26.46" width="0.9" height="35.87"/><rect x="621.8" y="26.44" width="0.9" height="35.87"/><rect x="622.3" y="26.43" width="0.9" height="35.87"/></g><polyline points="515.3,44.35 516.37,44.37 517.45,44.41 518.52,44.48 519.6,44.58 520.67,44.7 521.74,44.84 522.82,45.01 523.89,45.2 524.97,45.41 526.04,45.64 527.11,45.9 528.19,46.17 529.26,46.46 530.34,46.77 531.41,47.1 532.48,47.44 533.56,47.79 534.63,48.16 535.71,48.53 536.78,48.92 537.85,49.31 538.93,49.72 540,50.12 541.08,50.53 542.15,50.94 543.22,51.35 544.3,51.76 545.37,52.16 546.45,52.57 547.52,52.96 548.59,53.35 549.67,53.72 550.74,54.09 551.82,54.45 552.89,54.79 553.96,55.11 555.04,55.42 556.11,55.72 557.19,55.99 558.26,56.25 559.33,56.48 560.41,56.69 561.48,56.88 562.56,57.05 563.63,57.2 564.7,57.32 565.78,57.41 566.85,57.48 567.93,57.53 569,57.55 570.07,57.54 571.15,57.51 572.22,57.46 573.3,57.37 574.37,57.27 575.44,57.14 576.52,56.98 577.59,56.8 578.67,56.6 579.74,56.38 580.81,56.14 581.89,55.87 582.96,55.59 584.04,55.29 585.11,54.97 586.18,54.64 587.26,54.29 588.33,53.93 589.41,53.56 590.48,53.18 591.55,52.79 592.63,52.39 593.7,51.99 594.78,51.58 595.85,51.17 596.92,50.76 598,50.35 599.07,49.94 600.15,49.54 601.22,49.14 602.29,48.75 603.37,48.37 604.44,47.99 605.52,47.63 606.59,47.29 607.66,46.95 608.74,46.63 609.81,46.33 610.89,46.05 611.96,45.78 613.03,45.54 614.11,45.31 615.18,45.11 616.26,44.93 617.33,44.77 618.4,44.64 619.48,44.53 620.55,44.45 621.63,44.39 622.7,44.36" fill="none" stroke="#fff4f0" stroke-width="1.0" stroke-dasharray="1.8 1.4" clip-path="url(#cp155)"/><rect x="515.3" y="3.3" width="107.4" height="85.4" fill="none" stroke="#000" stroke-width="0.6"/><line x1="515.3" y1="88.7" x2="515.3" y2="91.4" stroke="#000" stroke-width="0.65"/><text x="515.3" y="98.9" text-anchor="middle" font-size="7" fill="#141414" stroke="#141414">−50</text><line x1="542.15" y1="88.7" x2="542.15" y2="91.4" stroke="#000" stroke-width="0.65"/><text x="542.15" y="98.9" text-anchor="middle" font-size="7" fill="#141414" stroke="#141414">−25</text><line x1="569" y1="88.7" x2="569" y2="91.4" stroke="#000" stroke-width="0.65"/><text x="569" y="98.9" text-anchor="middle" font-size="7" fill="#141414" stroke="#141414">0</text><line x1="595.85" y1="88.7" x2="595.85" y2="91.4" stroke="#000" stroke-width="0.65"/><text x="595.85" y="98.9" text-anchor="middle" font-size="7" fill="#141414" stroke="#141414">25</text><line x1="622.7" y1="88.7" x2="622.7" y2="91.4" stroke="#000" stroke-width="0.65"/><text x="622.7" y="98.9" text-anchor="middle" font-size="7" fill="#141414" stroke="#141414">50</text><text x="567.9" y="108.3" text-anchor="middle" font-size="7.2" fill="#141414" stroke="#141414">Time delay (a.u.)</text><line x1="622.7" y1="88.7" x2="625.4" y2="88.7" stroke="#000" stroke-width="0.65"/><text x="627.7" y="91.2" text-anchor="start" font-size="7" fill="#141414" stroke="#141414">0.5</text><line x1="622.7" y1="67.35" x2="625.4" y2="67.35" stroke="#000" stroke-width="0.65"/><text x="627.7" y="69.85" text-anchor="start" font-size="7" fill="#141414" stroke="#141414">1.0</text><line x1="622.7" y1="46" x2="625.4" y2="46" stroke="#000" stroke-width="0.65"/><text x="627.7" y="48.5" text-anchor="start" font-size="7" fill="#141414" stroke="#141414">1.5</text><line x1="622.7" y1="24.65" x2="625.4" y2="24.65" stroke="#000" stroke-width="0.65"/><text x="627.7" y="27.15" text-anchor="start" font-size="7" fill="#141414" stroke="#141414">2.0</text><line x1="622.7" y1="3.3" x2="625.4" y2="3.3" stroke="#000" stroke-width="0.65"/><text x="627.7" y="5.8" text-anchor="start" font-size="7" fill="#141414" stroke="#141414">2.5</text><text x="519.2" y="17.1" font-size="14" font-weight="bold" fill="#fff">h</text><rect x="381.3" y="113.3" width="107.4" height="85.7" fill="#0c0a0a" stroke="none" stroke-width="0.8"/><g clip-path="url(#cp156)"><g transform="translate(434.8,156) scale(37.300,-29.500)"><path d="M0.728 -0.007L1.272 -0.013A1.272 1.272 0 0 1 1.266 0.124L0.725 0.071A0.728 0.728 0 0 0 0.728 -0.007Z" fill="url(#r157)"/><path d="M0.726 0.056L1.268 0.098A1.272 1.272 0 0 1 1.250 0.233L0.716 0.134A0.728 0.728 0 0 0 0.726 0.056Z" fill="url(#r158)"/><path d="M0.718 0.119L1.255 0.208A1.272 1.272 0 0 1 1.225 0.341L0.702 0.196A0.728 0.728 0 0 0 0.718 0.119Z" fill="url(#r159)"/><path d="M0.706 0.182L1.231 0.317A1.271 1.271 0 0 1 1.190 0.447L0.682 0.256A0.729 0.729 0 0 0 0.706 0.182Z" fill="url(#r160)"/><path d="M0.687 0.242L1.199 0.423A1.271 1.271 0 0 1 1.147 0.549L0.658 0.315A0.729 0.729 0 0 0 0.687 0.242Z" fill="url(#r161)"/><path d="M0.664 0.302L1.157 0.525A1.271 1.271 0 0 1 1.094 0.646L0.628 0.371A0.729 0.729 0 0 0 0.664 0.302Z" fill="url(#r162)"/><path d="M0.636 0.359L1.106 0.624A1.270 1.270 0 0 1 1.033 0.739L0.594 0.425A0.730 0.730 0 0 0 0.636 0.359Z" fill="url(#r163)"/><path d="M0.603 0.413L1.047 0.718A1.270 1.270 0 0 1 0.964 0.826L0.555 0.475A0.730 0.730 0 0 0 0.603 0.413Z" fill="url(#r164)"/><path d="M0.565 0.464L0.980 0.806A1.269 1.269 0 0 1 0.888 0.906L0.512 0.522A0.731 0.731 0 0 0 0.565 0.464Z" fill="url(#r165)"/><path d="M0.523 0.512L0.906 0.888A1.268 1.268 0 0 1 0.805 0.980L0.465 0.565A0.732 0.732 0 0 0 0.523 0.512Z" fill="url(#r166)"/><path d="M0.477 0.557L0.824 0.963A1.267 1.267 0 0 1 0.716 1.045L0.414 0.604A0.733 0.733 0 0 0 0.477 0.557Z" fill="url(#r167)"/><path d="M0.427 0.597L0.737 1.030A1.266 1.266 0 0 1 0.622 1.103L0.360 0.639A0.734 0.734 0 0 0 0.427 0.597Z" fill="url(#r168)"/><path d="M0.374 0.632L0.644 1.090A1.266 1.266 0 0 1 0.523 1.152L0.304 0.669A0.734 0.734 0 0 0 0.374 0.632Z" fill="url(#r169)"/><path d="M0.317 0.663L0.546 1.141A1.265 1.265 0 0 1 0.421 1.193L0.245 0.694A0.735 0.735 0 0 0 0.317 0.663Z" fill="url(#r170)"/><path d="M0.259 0.689L0.444 1.183A1.264 1.264 0 0 1 0.315 1.224L0.183 0.713A0.736 0.736 0 0 0 0.259 0.689Z" fill="url(#r171)"/><path d="M0.198 0.710L0.339 1.216A1.263 1.263 0 0 1 0.207 1.246L0.121 0.727A0.737 0.737 0 0 0 0.198 0.710Z" fill="url(#r172)"/><path d="M0.135 0.726L0.231 1.240A1.262 1.262 0 0 1 0.097 1.258L0.057 0.736A0.738 0.738 0 0 0 0.135 0.726Z" fill="url(#r173)"/><path d="M0.072 0.736L0.122 1.255A1.261 1.261 0 0 1 -0.013 1.260L-0.007 0.739A0.739 0.739 0 0 0 0.072 0.736Z" fill="url(#r174)"/><path d="M0.007 0.739L0.013 1.260A1.261 1.261 0 0 1 -0.122 1.255L-0.072 0.736A0.739 0.739 0 0 0 0.007 0.739Z" fill="url(#r175)"/><path d="M-0.057 0.736L-0.097 1.258A1.262 1.262 0 0 1 -0.231 1.240L-0.135 0.726A0.738 0.738 0 0 0 -0.057 0.736Z" fill="url(#r176)"/><path d="M-0.121 0.727L-0.207 1.246A1.263 1.263 0 0 1 -0.339 1.216L-0.198 0.710A0.737 0.737 0 0 0 -0.121 0.727Z" fill="url(#r177)"/><path d="M-0.183 0.713L-0.315 1.224A1.264 1.264 0 0 1 -0.444 1.183L-0.259 0.689A0.736 0.736 0 0 0 -0.183 0.713Z" fill="url(#r178)"/><path d="M-0.245 0.694L-0.421 1.193A1.265 1.265 0 0 1 -0.546 1.141L-0.317 0.663A0.735 0.735 0 0 0 -0.245 0.694Z" fill="url(#r179)"/><path d="M-0.304 0.669L-0.523 1.152A1.266 1.266 0 0 1 -0.644 1.090L-0.374 0.632A0.734 0.734 0 0 0 -0.304 0.669Z" fill="url(#r180)"/><path d="M-0.360 0.639L-0.622 1.103A1.266 1.266 0 0 1 -0.737 1.030L-0.427 0.597A0.734 0.734 0 0 0 -0.360 0.639Z" fill="url(#r181)"/><path d="M-0.414 0.604L-0.716 1.045A1.267 1.267 0 0 1 -0.824 0.963L-0.477 0.557A0.733 0.733 0 0 0 -0.414 0.604Z" fill="url(#r182)"/><path d="M-0.465 0.565L-0.805 0.980A1.268 1.268 0 0 1 -0.906 0.888L-0.523 0.512A0.732 0.732 0 0 0 -0.465 0.565Z" fill="url(#r183)"/><path d="M-0.512 0.522L-0.888 0.906A1.269 1.269 0 0 1 -0.980 0.806L-0.565 0.464A0.731 0.731 0 0 0 -0.512 0.522Z" fill="url(#r184)"/><path d="M-0.555 0.475L-0.964 0.826A1.270 1.270 0 0 1 -1.047 0.718L-0.603 0.413A0.730 0.730 0 0 0 -0.555 0.475Z" fill="url(#r185)"/><path d="M-0.594 0.425L-1.033 0.739A1.270 1.270 0 0 1 -1.106 0.624L-0.636 0.359A0.730 0.730 0 0 0 -0.594 0.425Z" fill="url(#r186)"/><path d="M-0.628 0.371L-1.094 0.646A1.271 1.271 0 0 1 -1.157 0.525L-0.664 0.302A0.729 0.729 0 0 0 -0.628 0.371Z" fill="url(#r187)"/><path d="M-0.658 0.315L-1.147 0.549A1.271 1.271 0 0 1 -1.199 0.423L-0.687 0.242A0.729 0.729 0 0 0 -0.658 0.315Z" fill="url(#r188)"/><path d="M-0.682 0.256L-1.190 0.447A1.271 1.271 0 0 1 -1.231 0.317L-0.706 0.182A0.729 0.729 0 0 0 -0.682 0.256Z" fill="url(#r189)"/><path d="M-0.702 0.196L-1.225 0.341A1.272 1.272 0 0 1 -1.255 0.208L-0.718 0.119A0.728 0.728 0 0 0 -0.702 0.196Z" fill="url(#r190)"/><path d="M-0.716 0.134L-1.250 0.233A1.272 1.272 0 0 1 -1.268 0.098L-0.726 0.056A0.728 0.728 0 0 0 -0.716 0.134Z" fill="url(#r191)"/><path d="M-0.725 0.071L-1.266 0.124A1.272 1.272 0 0 1 -1.272 -0.013L-0.728 -0.007A0.728 0.728 0 0 0 -0.725 0.071Z" fill="url(#r192)"/><path d="M-0.728 0.007L-1.272 0.013A1.272 1.272 0 0 1 -1.266 -0.124L-0.725 -0.071A0.728 0.728 0 0 0 -0.728 0.007Z" fill="url(#r193)"/><path d="M-0.726 -0.056L-1.268 -0.098A1.272 1.272 0 0 1 -1.250 -0.233L-0.716 -0.134A0.728 0.728 0 0 0 -0.726 -0.056Z" fill="url(#r194)"/><path d="M-0.718 -0.119L-1.255 -0.208A1.272 1.272 0 0 1 -1.225 -0.341L-0.702 -0.196A0.728 0.728 0 0 0 -0.718 -0.119Z" fill="url(#r195)"/><path d="M-0.706 -0.182L-1.231 -0.317A1.271 1.271 0 0 1 -1.190 -0.447L-0.682 -0.256A0.729 0.729 0 0 0 -0.706 -0.182Z" fill="url(#r196)"/><path d="M-0.687 -0.242L-1.199 -0.423A1.271 1.271 0 0 1 -1.147 -0.549L-0.658 -0.315A0.729 0.729 0 0 0 -0.687 -0.242Z" fill="url(#r197)"/><path d="M-0.664 -0.302L-1.157 -0.525A1.271 1.271 0 0 1 -1.094 -0.646L-0.628 -0.371A0.729 0.729 0 0 0 -0.664 -0.302Z" fill="url(#r198)"/><path d="M-0.636 -0.359L-1.106 -0.624A1.270 1.270 0 0 1 -1.033 -0.739L-0.594 -0.425A0.730 0.730 0 0 0 -0.636 -0.359Z" fill="url(#r199)"/><path d="M-0.603 -0.413L-1.047 -0.718A1.270 1.270 0 0 1 -0.964 -0.826L-0.555 -0.475A0.730 0.730 0 0 0 -0.603 -0.413Z" fill="url(#r200)"/><path d="M-0.565 -0.464L-0.980 -0.806A1.269 1.269 0 0 1 -0.888 -0.906L-0.512 -0.522A0.731 0.731 0 0 0 -0.565 -0.464Z" fill="url(#r201)"/><path d="M-0.523 -0.512L-0.906 -0.888A1.268 1.268 0 0 1 -0.805 -0.980L-0.465 -0.565A0.732 0.732 0 0 0 -0.523 -0.512Z" fill="url(#r202)"/><path d="M-0.477 -0.557L-0.824 -0.963A1.267 1.267 0 0 1 -0.716 -1.045L-0.414 -0.604A0.733 0.733 0 0 0 -0.477 -0.557Z" fill="url(#r203)"/><path d="M-0.427 -0.597L-0.737 -1.030A1.266 1.266 0 0 1 -0.622 -1.103L-0.360 -0.639A0.734 0.734 0 0 0 -0.427 -0.597Z" fill="url(#r204)"/><path d="M-0.374 -0.632L-0.644 -1.090A1.266 1.266 0 0 1 -0.523 -1.152L-0.304 -0.669A0.734 0.734 0 0 0 -0.374 -0.632Z" fill="url(#r205)"/><path d="M-0.317 -0.663L-0.546 -1.141A1.265 1.265 0 0 1 -0.421 -1.193L-0.245 -0.694A0.735 0.735 0 0 0 -0.317 -0.663Z" fill="url(#r206)"/><path d="M-0.259 -0.689L-0.444 -1.183A1.264 1.264 0 0 1 -0.315 -1.224L-0.183 -0.713A0.736 0.736 0 0 0 -0.259 -0.689Z" fill="url(#r207)"/><path d="M-0.198 -0.710L-0.339 -1.216A1.263 1.263 0 0 1 -0.207 -1.246L-0.121 -0.727A0.737 0.737 0 0 0 -0.198 -0.710Z" fill="url(#r208)"/><path d="M-0.135 -0.726L-0.231 -1.240A1.262 1.262 0 0 1 -0.097 -1.258L-0.057 -0.736A0.738 0.738 0 0 0 -0.135 -0.726Z" fill="url(#r209)"/><path d="M-0.072 -0.736L-0.122 -1.255A1.261 1.261 0 0 1 0.013 -1.260L0.007 -0.739A0.739 0.739 0 0 0 -0.072 -0.736Z" fill="url(#r210)"/><path d="M-0.007 -0.739L-0.013 -1.260A1.261 1.261 0 0 1 0.122 -1.255L0.072 -0.736A0.739 0.739 0 0 0 -0.007 -0.739Z" fill="url(#r211)"/><path d="M0.057 -0.736L0.097 -1.258A1.262 1.262 0 0 1 0.231 -1.240L0.135 -0.726A0.738 0.738 0 0 0 0.057 -0.736Z" fill="url(#r212)"/><path d="M0.121 -0.727L0.207 -1.246A1.263 1.263 0 0 1 0.339 -1.216L0.198 -0.710A0.737 0.737 0 0 0 0.121 -0.727Z" fill="url(#r213)"/><path d="M0.183 -0.713L0.315 -1.224A1.264 1.264 0 0 1 0.444 -1.183L0.259 -0.689A0.736 0.736 0 0 0 0.183 -0.713Z" fill="url(#r214)"/><path d="M0.245 -0.694L0.421 -1.193A1.265 1.265 0 0 1 0.546 -1.141L0.317 -0.663A0.735 0.735 0 0 0 0.245 -0.694Z" fill="url(#r215)"/><path d="M0.304 -0.669L0.523 -1.152A1.266 1.266 0 0 1 0.644 -1.090L0.374 -0.632A0.734 0.734 0 0 0 0.304 -0.669Z" fill="url(#r216)"/><path d="M0.360 -0.639L0.622 -1.103A1.266 1.266 0 0 1 0.737 -1.030L0.427 -0.597A0.734 0.734 0 0 0 0.360 -0.639Z" fill="url(#r217)"/><path d="M0.414 -0.604L0.716 -1.045A1.267 1.267 0 0 1 0.824 -0.963L0.477 -0.557A0.733 0.733 0 0 0 0.414 -0.604Z" fill="url(#r218)"/><path d="M0.465 -0.565L0.805 -0.980A1.268 1.268 0 0 1 0.906 -0.888L0.523 -0.512A0.732 0.732 0 0 0 0.465 -0.565Z" fill="url(#r219)"/><path d="M0.512 -0.522L0.888 -0.906A1.269 1.269 0 0 1 0.980 -0.806L0.565 -0.464A0.731 0.731 0 0 0 0.512 -0.522Z" fill="url(#r220)"/><path d="M0.555 -0.475L0.964 -0.826A1.270 1.270 0 0 1 1.047 -0.718L0.603 -0.413A0.730 0.730 0 0 0 0.555 -0.475Z" fill="url(#r221)"/><path d="M0.594 -0.425L1.033 -0.739A1.270 1.270 0 0 1 1.106 -0.624L0.636 -0.359A0.730 0.730 0 0 0 0.594 -0.425Z" fill="url(#r222)"/><path d="M0.628 -0.371L1.094 -0.646A1.271 1.271 0 0 1 1.157 -0.525L0.664 -0.302A0.729 0.729 0 0 0 0.628 -0.371Z" fill="url(#r223)"/><path d="M0.658 -0.315L1.147 -0.549A1.271 1.271 0 0 1 1.199 -0.423L0.687 -0.242A0.729 0.729 0 0 0 0.658 -0.315Z" fill="url(#r224)"/><path d="M0.682 -0.256L1.190 -0.447A1.271 1.271 0 0 1 1.231 -0.317L0.706 -0.182A0.729 0.729 0 0 0 0.682 -0.256Z" fill="url(#r225)"/><path d="M0.702 -0.196L1.225 -0.341A1.272 1.272 0 0 1 1.255 -0.208L0.718 -0.119A0.728 0.728 0 0 0 0.702 -0.196Z" fill="url(#r226)"/><path d="M0.716 -0.134L1.250 -0.233A1.272 1.272 0 0 1 1.268 -0.098L0.726 -0.056A0.728 0.728 0 0 0 0.716 -0.134Z" fill="url(#r227)"/><path d="M0.725 -0.071L1.266 -0.124A1.272 1.272 0 0 1 1.272 0.013L0.728 0.007A0.728 0.728 0 0 0 0.725 -0.071Z" fill="url(#r228)"/></g></g><line x1="381.3" y1="156.55" x2="435.3" y2="156.55" stroke="#ffffff" stroke-width="0.85" stroke-dasharray="1.05 1.05"/><line x1="435.3" y1="113.3" x2="435.3" y2="199" stroke="#ffffff" stroke-width="0.8" stroke-dasharray="0.8 0.6"/><line x1="435.3" y1="156.55" x2="481.18" y2="156.55" stroke="#ffffff" stroke-width="0.9"/><path d="M484.14 156.55 L480.74 154.85 L480.74 158.25 Z" fill="#fff"/><rect x="381.3" y="113.3" width="107.4" height="85.7" fill="none" stroke="#000" stroke-width="0.6"/><line x1="381.3" y1="199" x2="381.3" y2="201.7" stroke="#000" stroke-width="0.65"/><text x="381.3" y="209.8" text-anchor="middle" font-size="7" fill="#141414" stroke="#141414">−2</text><line x1="378.6" y1="199" x2="381.3" y2="199" stroke="#000" stroke-width="0.65"/><text x="376.1" y="201.5" text-anchor="end" font-size="7" fill="#141414" stroke="#141414">−2</text><line x1="408.15" y1="199" x2="408.15" y2="201.7" stroke="#000" stroke-width="0.65"/><text x="408.15" y="209.8" text-anchor="middle" font-size="7" fill="#141414" stroke="#141414">−1</text><line x1="378.6" y1="177.58" x2="381.3" y2="177.58" stroke="#000" stroke-width="0.65"/><text x="376.1" y="180.08" text-anchor="end" font-size="7" fill="#141414" stroke="#141414">−1</text><line x1="435" y1="199" x2="435" y2="201.7" stroke="#000" stroke-width="0.65"/><text x="435" y="209.8" text-anchor="middle" font-size="7" fill="#141414" stroke="#141414">0</text><line x1="378.6" y1="156.15" x2="381.3" y2="156.15" stroke="#000" stroke-width="0.65"/><text x="376.1" y="158.65" text-anchor="end" font-size="7" fill="#141414" stroke="#141414">0</text><line x1="461.85" y1="199" x2="461.85" y2="201.7" stroke="#000" stroke-width="0.65"/><text x="461.85" y="209.8" text-anchor="middle" font-size="7" fill="#141414" stroke="#141414">1</text><line x1="378.6" y1="134.72" x2="381.3" y2="134.72" stroke="#000" stroke-width="0.65"/><text x="376.1" y="137.22" text-anchor="end" font-size="7" fill="#141414" stroke="#141414">1</text><line x1="488.7" y1="199" x2="488.7" y2="201.7" stroke="#000" stroke-width="0.65"/><text x="488.7" y="209.8" text-anchor="middle" font-size="7" fill="#141414" stroke="#141414">2</text><line x1="378.6" y1="113.3" x2="381.3" y2="113.3" stroke="#000" stroke-width="0.65"/><text x="376.1" y="115.8" text-anchor="end" font-size="7" fill="#141414" stroke="#141414">2</text><text x="434" y="218.6" text-anchor="middle" font-size="7.2" fill="#141414" stroke="#141414"><tspan font-style="italic">k</tspan><tspan font-size="5" font-style="italic" dy="2.3">x</tspan><tspan dy="-2.3"> (a.u.)</tspan></text><text transform="translate(358.9,156.15) rotate(-90)" text-anchor="middle" font-size="7.2" fill="#141414" stroke="#141414"><tspan font-style="italic">k</tspan><tspan font-size="5" font-style="italic" dy="2.3">y</tspan><tspan dy="-2.3"> (a.u.)</tspan></text><text x="384.8" y="128" font-size="14" font-weight="bold" fill="#fff">i</text><rect x="515.3" y="113.3" width="107.4" height="85.7" fill="#0c0a0a" stroke="none" stroke-width="0.8"/><g clip-path="url(#cp229)"><g transform="translate(568.7,155.9) scale(37.200,-29.500)"><path d="M0.744 -0.007L1.256 -0.013A1.256 1.256 0 0 1 1.250 0.122L0.740 0.072A0.744 0.744 0 0 0 0.744 -0.007Z" fill="url(#r230)"/><path d="M0.742 0.057L1.252 0.097A1.256 1.256 0 0 1 1.235 0.230L0.731 0.136A0.744 0.744 0 0 0 0.742 0.057Z" fill="url(#r231)"/><path d="M0.733 0.122L1.240 0.206A1.257 1.257 0 0 1 1.210 0.337L0.716 0.200A0.743 0.743 0 0 0 0.733 0.122Z" fill="url(#r232)"/><path d="M0.719 0.185L1.217 0.313A1.257 1.257 0 0 1 1.177 0.442L0.696 0.261A0.743 0.743 0 0 0 0.719 0.185Z" fill="url(#r233)"/><path d="M0.700 0.247L1.186 0.418A1.258 1.258 0 0 1 1.135 0.543L0.669 0.320A0.742 0.742 0 0 0 0.700 0.247Z" fill="url(#r234)"/><path d="M0.675 0.307L1.146 0.520A1.259 1.259 0 0 1 1.084 0.640L0.638 0.377A0.741 0.741 0 0 0 0.675 0.307Z" fill="url(#r235)"/><path d="M0.645 0.364L1.097 0.619A1.260 1.260 0 0 1 1.025 0.733L0.602 0.431A0.740 0.740 0 0 0 0.645 0.364Z" fill="url(#r236)"/><path d="M0.610 0.418L1.040 0.713A1.261 1.261 0 0 1 0.958 0.820L0.562 0.481A0.739 0.739 0 0 0 0.610 0.418Z" fill="url(#r237)"/><path d="M0.570 0.469L0.975 0.801A1.262 1.262 0 0 1 0.883 0.901L0.517 0.527A0.738 0.738 0 0 0 0.570 0.469Z" fill="url(#r238)"/><path d="M0.526 0.516L0.902 0.884A1.263 1.263 0 0 1 0.802 0.976L0.468 0.569A0.737 0.737 0 0 0 0.526 0.516Z" fill="url(#r239)"/><path d="M0.478 0.559L0.822 0.960A1.264 1.264 0 0 1 0.715 1.043L0.416 0.607A0.736 0.736 0 0 0 0.478 0.559Z" fill="url(#r240)"/><path d="M0.427 0.597L0.736 1.029A1.266 1.266 0 0 1 0.622 1.102L0.361 0.640A0.734 0.734 0 0 0 0.427 0.597Z" fill="url(#r241)"/><path d="M0.373 0.631L0.644 1.091A1.267 1.267 0 0 1 0.524 1.154L0.303 0.667A0.733 0.733 0 0 0 0.373 0.631Z" fill="url(#r242)"/><path d="M0.316 0.660L0.547 1.144A1.268 1.268 0 0 1 0.422 1.196L0.243 0.690A0.732 0.732 0 0 0 0.316 0.660Z" fill="url(#r243)"/><path d="M0.257 0.684L0.446 1.188A1.269 1.269 0 0 1 0.316 1.229L0.182 0.708A0.731 0.731 0 0 0 0.257 0.684Z" fill="url(#r244)"/><path d="M0.196 0.703L0.341 1.224A1.270 1.270 0 0 1 0.208 1.253L0.120 0.720A0.730 0.730 0 0 0 0.196 0.703Z" fill="url(#r245)"/><path d="M0.134 0.716L0.233 1.250A1.271 1.271 0 0 1 0.098 1.267L0.056 0.727A0.729 0.729 0 0 0 0.134 0.716Z" fill="url(#r246)"/><path d="M0.071 0.725L0.124 1.266A1.272 1.272 0 0 1 -0.013 1.272L-0.007 0.728A0.728 0.728 0 0 0 0.071 0.725Z" fill="url(#r247)"/><path d="M0.007 0.728L0.013 1.272A1.272 1.272 0 0 1 -0.124 1.266L-0.071 0.725A0.728 0.728 0 0 0 0.007 0.728Z" fill="url(#r248)"/><path d="M-0.056 0.727L-0.098 1.267A1.271 1.271 0 0 1 -0.233 1.250L-0.134 0.716A0.729 0.729 0 0 0 -0.056 0.727Z" fill="url(#r249)"/><path d="M-0.120 0.720L-0.208 1.253A1.270 1.270 0 0 1 -0.341 1.224L-0.196 0.703A0.730 0.730 0 0 0 -0.120 0.720Z" fill="url(#r250)"/><path d="M-0.182 0.708L-0.316 1.229A1.269 1.269 0 0 1 -0.446 1.188L-0.257 0.684A0.731 0.731 0 0 0 -0.182 0.708Z" fill="url(#r251)"/><path d="M-0.243 0.690L-0.422 1.196A1.268 1.268 0 0 1 -0.547 1.144L-0.316 0.660A0.732 0.732 0 0 0 -0.243 0.690Z" fill="url(#r252)"/><path d="M-0.303 0.667L-0.524 1.154A1.267 1.267 0 0 1 -0.644 1.091L-0.373 0.631A0.733 0.733 0 0 0 -0.303 0.667Z" fill="url(#r253)"/><path d="M-0.361 0.640L-0.622 1.102A1.266 1.266 0 0 1 -0.736 1.029L-0.427 0.597A0.734 0.734 0 0 0 -0.361 0.640Z" fill="url(#r254)"/><path d="M-0.416 0.607L-0.715 1.043A1.264 1.264 0 0 1 -0.822 0.960L-0.478 0.559A0.736 0.736 0 0 0 -0.416 0.607Z" fill="url(#r255)"/><path d="M-0.468 0.569L-0.802 0.976A1.263 1.263 0 0 1 -0.902 0.884L-0.526 0.516A0.737 0.737 0 0 0 -0.468 0.569Z" fill="url(#r256)"/><path d="M-0.517 0.527L-0.883 0.901A1.262 1.262 0 0 1 -0.975 0.801L-0.570 0.469A0.738 0.738 0 0 0 -0.517 0.527Z" fill="url(#r257)"/><path d="M-0.562 0.481L-0.958 0.820A1.261 1.261 0 0 1 -1.040 0.713L-0.610 0.418A0.739 0.739 0 0 0 -0.562 0.481Z" fill="url(#r258)"/><path d="M-0.602 0.431L-1.025 0.733A1.260 1.260 0 0 1 -1.097 0.619L-0.645 0.364A0.740 0.740 0 0 0 -0.602 0.431Z" fill="url(#r259)"/><path d="M-0.638 0.377L-1.084 0.640A1.259 1.259 0 0 1 -1.146 0.520L-0.675 0.307A0.741 0.741 0 0 0 -0.638 0.377Z" fill="url(#r260)"/><path d="M-0.669 0.320L-1.135 0.543A1.258 1.258 0 0 1 -1.186 0.418L-0.700 0.247A0.742 0.742 0 0 0 -0.669 0.320Z" fill="url(#r261)"/><path d="M-0.696 0.261L-1.177 0.442A1.257 1.257 0 0 1 -1.217 0.313L-0.719 0.185A0.743 0.743 0 0 0 -0.696 0.261Z" fill="url(#r262)"/><path d="M-0.716 0.200L-1.210 0.337A1.257 1.257 0 0 1 -1.240 0.206L-0.733 0.122A0.743 0.743 0 0 0 -0.716 0.200Z" fill="url(#r263)"/><path d="M-0.731 0.136L-1.235 0.230A1.256 1.256 0 0 1 -1.252 0.097L-0.742 0.057A0.744 0.744 0 0 0 -0.731 0.136Z" fill="url(#r264)"/><path d="M-0.740 0.072L-1.250 0.122A1.256 1.256 0 0 1 -1.256 -0.013L-0.744 -0.007A0.744 0.744 0 0 0 -0.740 0.072Z" fill="url(#r265)"/><path d="M-0.744 0.007L-1.256 0.013A1.256 1.256 0 0 1 -1.250 -0.122L-0.740 -0.072A0.744 0.744 0 0 0 -0.744 0.007Z" fill="url(#r266)"/><path d="M-0.742 -0.057L-1.252 -0.097A1.256 1.256 0 0 1 -1.235 -0.230L-0.731 -0.136A0.744 0.744 0 0 0 -0.742 -0.057Z" fill="url(#r267)"/><path d="M-0.733 -0.122L-1.240 -0.206A1.257 1.257 0 0 1 -1.210 -0.337L-0.716 -0.200A0.743 0.743 0 0 0 -0.733 -0.122Z" fill="url(#r268)"/><path d="M-0.719 -0.185L-1.217 -0.313A1.257 1.257 0 0 1 -1.177 -0.442L-0.696 -0.261A0.743 0.743 0 0 0 -0.719 -0.185Z" fill="url(#r269)"/><path d="M-0.700 -0.247L-1.186 -0.418A1.258 1.258 0 0 1 -1.135 -0.543L-0.669 -0.320A0.742 0.742 0 0 0 -0.700 -0.247Z" fill="url(#r270)"/><path d="M-0.675 -0.307L-1.146 -0.520A1.259 1.259 0 0 1 -1.084 -0.640L-0.638 -0.377A0.741 0.741 0 0 0 -0.675 -0.307Z" fill="url(#r271)"/><path d="M-0.645 -0.364L-1.097 -0.619A1.260 1.260 0 0 1 -1.025 -0.733L-0.602 -0.431A0.740 0.740 0 0 0 -0.645 -0.364Z" fill="url(#r272)"/><path d="M-0.610 -0.418L-1.040 -0.713A1.261 1.261 0 0 1 -0.958 -0.820L-0.562 -0.481A0.739 0.739 0 0 0 -0.610 -0.418Z" fill="url(#r273)"/><path d="M-0.570 -0.469L-0.975 -0.801A1.262 1.262 0 0 1 -0.883 -0.901L-0.517 -0.527A0.738 0.738 0 0 0 -0.570 -0.469Z" fill="url(#r274)"/><path d="M-0.526 -0.516L-0.902 -0.884A1.263 1.263 0 0 1 -0.802 -0.976L-0.468 -0.569A0.737 0.737 0 0 0 -0.526 -0.516Z" fill="url(#r275)"/><path d="M-0.478 -0.559L-0.822 -0.960A1.264 1.264 0 0 1 -0.715 -1.043L-0.416 -0.607A0.736 0.736 0 0 0 -0.478 -0.559Z" fill="url(#r276)"/><path d="M-0.427 -0.597L-0.736 -1.029A1.266 1.266 0 0 1 -0.622 -1.102L-0.361 -0.640A0.734 0.734 0 0 0 -0.427 -0.597Z" fill="url(#r277)"/><path d="M-0.373 -0.631L-0.644 -1.091A1.267 1.267 0 0 1 -0.524 -1.154L-0.303 -0.667A0.733 0.733 0 0 0 -0.373 -0.631Z" fill="url(#r278)"/><path d="M-0.316 -0.660L-0.547 -1.144A1.268 1.268 0 0 1 -0.422 -1.196L-0.243 -0.690A0.732 0.732 0 0 0 -0.316 -0.660Z" fill="url(#r279)"/><path d="M-0.257 -0.684L-0.446 -1.188A1.269 1.269 0 0 1 -0.316 -1.229L-0.182 -0.708A0.731 0.731 0 0 0 -0.257 -0.684Z" fill="url(#r280)"/><path d="M-0.196 -0.703L-0.341 -1.224A1.270 1.270 0 0 1 -0.208 -1.253L-0.120 -0.720A0.730 0.730 0 0 0 -0.196 -0.703Z" fill="url(#r281)"/><path d="M-0.134 -0.716L-0.233 -1.250A1.271 1.271 0 0 1 -0.098 -1.267L-0.056 -0.727A0.729 0.729 0 0 0 -0.134 -0.716Z" fill="url(#r282)"/><path d="M-0.071 -0.725L-0.124 -1.266A1.272 1.272 0 0 1 0.013 -1.272L0.007 -0.728A0.728 0.728 0 0 0 -0.071 -0.725Z" fill="url(#r283)"/><path d="M-0.007 -0.728L-0.013 -1.272A1.272 1.272 0 0 1 0.124 -1.266L0.071 -0.725A0.728 0.728 0 0 0 -0.007 -0.728Z" fill="url(#r284)"/><path d="M0.056 -0.727L0.098 -1.267A1.271 1.271 0 0 1 0.233 -1.250L0.134 -0.716A0.729 0.729 0 0 0 0.056 -0.727Z" fill="url(#r285)"/><path d="M0.120 -0.720L0.208 -1.253A1.270 1.270 0 0 1 0.341 -1.224L0.196 -0.703A0.730 0.730 0 0 0 0.120 -0.720Z" fill="url(#r286)"/><path d="M0.182 -0.708L0.316 -1.229A1.269 1.269 0 0 1 0.446 -1.188L0.257 -0.684A0.731 0.731 0 0 0 0.182 -0.708Z" fill="url(#r287)"/><path d="M0.243 -0.690L0.422 -1.196A1.268 1.268 0 0 1 0.547 -1.144L0.316 -0.660A0.732 0.732 0 0 0 0.243 -0.690Z" fill="url(#r288)"/><path d="M0.303 -0.667L0.524 -1.154A1.267 1.267 0 0 1 0.644 -1.091L0.373 -0.631A0.733 0.733 0 0 0 0.303 -0.667Z" fill="url(#r289)"/><path d="M0.361 -0.640L0.622 -1.102A1.266 1.266 0 0 1 0.736 -1.029L0.427 -0.597A0.734 0.734 0 0 0 0.361 -0.640Z" fill="url(#r290)"/><path d="M0.416 -0.607L0.715 -1.043A1.264 1.264 0 0 1 0.822 -0.960L0.478 -0.559A0.736 0.736 0 0 0 0.416 -0.607Z" fill="url(#r291)"/><path d="M0.468 -0.569L0.802 -0.976A1.263 1.263 0 0 1 0.902 -0.884L0.526 -0.516A0.737 0.737 0 0 0 0.468 -0.569Z" fill="url(#r292)"/><path d="M0.517 -0.527L0.883 -0.901A1.262 1.262 0 0 1 0.975 -0.801L0.570 -0.469A0.738 0.738 0 0 0 0.517 -0.527Z" fill="url(#r293)"/><path d="M0.562 -0.481L0.958 -0.820A1.261 1.261 0 0 1 1.040 -0.713L0.610 -0.418A0.739 0.739 0 0 0 0.562 -0.481Z" fill="url(#r294)"/><path d="M0.602 -0.431L1.025 -0.733A1.260 1.260 0 0 1 1.097 -0.619L0.645 -0.364A0.740 0.740 0 0 0 0.602 -0.431Z" fill="url(#r295)"/><path d="M0.638 -0.377L1.084 -0.640A1.259 1.259 0 0 1 1.146 -0.520L0.675 -0.307A0.741 0.741 0 0 0 0.638 -0.377Z" fill="url(#r296)"/><path d="M0.669 -0.320L1.135 -0.543A1.258 1.258 0 0 1 1.186 -0.418L0.700 -0.247A0.742 0.742 0 0 0 0.669 -0.320Z" fill="url(#r297)"/><path d="M0.696 -0.261L1.177 -0.442A1.257 1.257 0 0 1 1.217 -0.313L0.719 -0.185A0.743 0.743 0 0 0 0.696 -0.261Z" fill="url(#r298)"/><path d="M0.716 -0.200L1.210 -0.337A1.257 1.257 0 0 1 1.240 -0.206L0.733 -0.122A0.743 0.743 0 0 0 0.716 -0.200Z" fill="url(#r299)"/><path d="M0.731 -0.136L1.235 -0.230A1.256 1.256 0 0 1 1.252 -0.097L0.742 -0.057A0.744 0.744 0 0 0 0.731 -0.136Z" fill="url(#r300)"/><path d="M0.740 -0.072L1.250 -0.122A1.256 1.256 0 0 1 1.256 0.013L0.744 0.007A0.744 0.744 0 0 0 0.740 -0.072Z" fill="url(#r301)"/></g></g><line x1="515.3" y1="156.55" x2="622.7" y2="156.55" stroke="#ffffff" stroke-width="0.85" stroke-dasharray="1.05 1.05"/><line x1="569.3" y1="156.55" x2="569.3" y2="199" stroke="#ffffff" stroke-width="0.8" stroke-dasharray="0.8 0.6"/><line x1="569.3" y1="156.55" x2="569.3" y2="119.73" stroke="#f0f0f0" stroke-width="0.9"/><path d="M569.3 116.94 L567.5 120.34 L571.1 120.34 Z" fill="#fff"/><rect x="515.3" y="113.3" width="107.4" height="85.7" fill="none" stroke="#000" stroke-width="0.6"/><line x1="515.3" y1="199" x2="515.3" y2="201.7" stroke="#000" stroke-width="0.65"/><text x="515.3" y="209.8" text-anchor="middle" font-size="7" fill="#141414" stroke="#141414">−2</text><line x1="622.7" y1="199" x2="625.4" y2="199" stroke="#000" stroke-width="0.65"/><text x="627.7" y="201.5" text-anchor="start" font-size="7" fill="#141414" stroke="#141414">−2</text><line x1="542.15" y1="199" x2="542.15" y2="201.7" stroke="#000" stroke-width="0.65"/><text x="542.15" y="209.8" text-anchor="middle" font-size="7" fill="#141414" stroke="#141414">−1</text><line x1="622.7" y1="177.58" x2="625.4" y2="177.58" stroke="#000" stroke-width="0.65"/><text x="627.7" y="180.08" text-anchor="start" font-size="7" fill="#141414" stroke="#141414">−1</text><line x1="569" y1="199" x2="569" y2="201.7" stroke="#000" stroke-width="0.65"/><text x="569" y="209.8" text-anchor="middle" font-size="7" fill="#141414" stroke="#141414">0</text><line x1="622.7" y1="156.15" x2="625.4" y2="156.15" stroke="#000" stroke-width="0.65"/><text x="627.7" y="158.65" text-anchor="start" font-size="7" fill="#141414" stroke="#141414">0</text><line x1="595.85" y1="199" x2="595.85" y2="201.7" stroke="#000" stroke-width="0.65"/><text x="595.85" y="209.8" text-anchor="middle" font-size="7" fill="#141414" stroke="#141414">1</text><line x1="622.7" y1="134.72" x2="625.4" y2="134.72" stroke="#000" stroke-width="0.65"/><text x="627.7" y="137.22" text-anchor="start" font-size="7" fill="#141414" stroke="#141414">1</text><line x1="622.7" y1="199" x2="622.7" y2="201.7" stroke="#000" stroke-width="0.65"/><text x="622.7" y="209.8" text-anchor="middle" font-size="7" fill="#141414" stroke="#141414">2</text><line x1="622.7" y1="113.3" x2="625.4" y2="113.3" stroke="#000" stroke-width="0.65"/><text x="627.7" y="115.8" text-anchor="start" font-size="7" fill="#141414" stroke="#141414">2</text><text x="568" y="218.6" text-anchor="middle" font-size="7.2" fill="#141414" stroke="#141414"><tspan font-style="italic">k</tspan><tspan font-size="5" font-style="italic" dy="2.3">x</tspan><tspan dy="-2.3"> (a.u.)</tspan></text><text x="519.2" y="128.1" font-size="14" font-weight="bold" fill="#fff">j</text><rect x="642.2" y="3.3" width="10.5" height="192.3" fill="url(#cb302)" stroke="#000" stroke-width="0.8"/><line x1="652.7" y1="195.6" x2="655.3" y2="195.6" stroke="#000" stroke-width="0.65"/><text x="658.2" y="198.1" text-anchor="start" font-size="7" fill="#141414" stroke="#141414">0.00</text><line x1="652.7" y1="147.53" x2="655.3" y2="147.53" stroke="#000" stroke-width="0.65"/><text x="658.2" y="150.03" text-anchor="start" font-size="7" fill="#141414" stroke="#141414">0.25</text><line x1="652.7" y1="99.45" x2="655.3" y2="99.45" stroke="#000" stroke-width="0.65"/><text x="658.2" y="101.95" text-anchor="start" font-size="7" fill="#141414" stroke="#141414">0.50</text><line x1="652.7" y1="51.38" x2="655.3" y2="51.38" stroke="#000" stroke-width="0.65"/><text x="658.2" y="53.88" text-anchor="start" font-size="7" fill="#141414" stroke="#141414">0.75</text><line x1="652.7" y1="3.3" x2="655.3" y2="3.3" stroke="#000" stroke-width="0.65"/><text x="658.2" y="5.8" text-anchor="start" font-size="7" fill="#141414" stroke="#141414">1.00</text><text transform="translate(683.4,99.45) rotate(-90)" text-anchor="middle" font-size="7.1" fill="#141414" stroke="#141414">Normalized signal</text><polyline points="386.4,314.89 387.01,314.89 387.62,314.89 388.23,314.89 388.84,314.88 389.45,314.88 390.06,314.88 390.67,314.87 391.28,314.86 391.89,314.85 392.5,314.84 393.11,314.83 393.72,314.81 394.33,314.79 394.94,314.77 395.55,314.74 396.16,314.7 396.77,314.66 397.38,314.62 397.99,314.56 398.6,314.49 399.21,314.41 399.82,314.32 400.43,314.21 401.04,314.08 401.65,313.94 402.26,313.77 402.87,313.57 403.48,313.35 404.09,313.09 404.7,312.8 405.31,312.46 405.92,312.09 406.53,311.66 407.14,311.18 407.75,310.65 408.36,310.05 408.97,309.38 409.58,308.65 410.19,307.83 410.8,306.94 411.41,305.95 412.02,304.88 412.63,303.71 413.24,302.45 413.85,301.08 414.46,299.61 415.07,298.04 415.68,296.36 416.29,294.58 416.9,292.69 417.51,290.7 418.12,288.61 418.73,286.43 419.34,284.17 419.95,281.82 420.56,279.4 421.17,276.93 421.78,274.4 422.39,271.84 423,269.25 423.61,266.66 424.22,264.07 424.83,261.51 425.44,258.99 426.05,256.54 426.66,254.15 427.27,251.87 427.88,249.7 428.49,247.66 429.1,245.76 429.71,244.03 430.32,242.48 430.93,241.12 431.54,239.96 432.15,239.02 432.76,238.29 433.37,237.8 433.98,237.54 434.59,237.52 435.2,237.73 435.81,238.18 436.42,238.85 437.03,239.75 437.64,240.87 438.25,242.19 438.86,243.71 439.47,245.4 440.08,247.26 440.69,249.28 441.3,251.43 441.91,253.69 442.52,256.05 443.13,258.5 443.74,261.01 444.35,263.56 444.96,266.14 445.57,268.73 446.18,271.32 446.79,273.89 447.4,276.42 448.01,278.91 448.62,281.34 449.23,283.7 449.84,285.99 450.45,288.18 451.06,290.29 451.67,292.3 452.28,294.21 452.89,296.01 453.5,297.71 454.11,299.31 454.72,300.8 455.33,302.18 455.94,303.47 456.55,304.65 457.16,305.75 457.77,306.75 458.38,307.66 458.99,308.49 459.6,309.24 460.21,309.92 460.82,310.53 461.43,311.08 462.04,311.57 462.65,312 463.26,312.39 463.87,312.73 464.48,313.03 465.09,313.3 465.7,313.53 466.31,313.73 466.92,313.9 467.53,314.05 468.14,314.18 468.75,314.3 469.36,314.39 469.97,314.48 470.58,314.55 471.19,314.6 471.8,314.65 472.41,314.7 473.02,314.73 473.63,314.76 474.24,314.79 474.85,314.81 475.46,314.82 476.07,314.84 476.68,314.85 477.29,314.86 477.9,314.87 478.51,314.87 479.12,314.88 479.73,314.88 480.34,314.89 480.95,314.89 481.56,314.89 482.17,314.89 482.78,314.89 483.39,314.9 484,314.9" fill="none" stroke="#3f80bb" stroke-width="0.95"/><line x1="418" y1="237.3" x2="453.38" y2="315.3" stroke="#e0923a" stroke-width="0.95"/><rect x="381.6" y="233.6" width="106.8" height="85.2" fill="none" stroke="#000" stroke-width="1.1"/><line x1="386.4" y1="318.8" x2="386.4" y2="321.5" stroke="#000" stroke-width="0.65"/><text x="386.4" y="329.7" text-anchor="middle" font-size="7" fill="#141414" stroke="#141414">1.00</text><line x1="416.9" y1="318.8" x2="416.9" y2="321.5" stroke="#000" stroke-width="0.65"/><text x="416.9" y="329.7" text-anchor="middle" font-size="7" fill="#141414" stroke="#141414">1.25</text><line x1="447.4" y1="318.8" x2="447.4" y2="321.5" stroke="#000" stroke-width="0.65"/><text x="447.4" y="329.7" text-anchor="middle" font-size="7" fill="#141414" stroke="#141414">1.50</text><line x1="477.9" y1="318.8" x2="477.9" y2="321.5" stroke="#000" stroke-width="0.65"/><text x="477.9" y="329.7" text-anchor="middle" font-size="7" fill="#141414" stroke="#141414">1.75</text><text x="434.5" y="341.2" text-anchor="middle" font-size="7.2" fill="#141414" stroke="#141414">Momentum (a.u.)</text><line x1="378.9" y1="314.9" x2="381.6" y2="314.9" stroke="#000" stroke-width="0.65"/><text x="376.1" y="317.4" text-anchor="end" font-size="7" fill="#6a9fd0" stroke="#6a9fd0">0.00</text><line x1="378.9" y1="295.55" x2="381.6" y2="295.55" stroke="#000" stroke-width="0.65"/><text x="376.1" y="298.05" text-anchor="end" font-size="7" fill="#6a9fd0" stroke="#6a9fd0">0.25</text><line x1="378.9" y1="276.2" x2="381.6" y2="276.2" stroke="#000" stroke-width="0.65"/><text x="376.1" y="278.7" text-anchor="end" font-size="7" fill="#6a9fd0" stroke="#6a9fd0">0.50</text><line x1="378.9" y1="256.85" x2="381.6" y2="256.85" stroke="#000" stroke-width="0.65"/><text x="376.1" y="259.35" text-anchor="end" font-size="7" fill="#6a9fd0" stroke="#6a9fd0">0.75</text><line x1="378.9" y1="237.5" x2="381.6" y2="237.5" stroke="#000" stroke-width="0.65"/><text x="376.1" y="240" text-anchor="end" font-size="7" fill="#6a9fd0" stroke="#6a9fd0">1.00</text><text transform="translate(357.3,276.5) rotate(-90)" text-anchor="middle" font-size="7" fill="#6a9fd0" stroke="#6a9fd0">Norm. signal (arb.u.)</text><text x="386.1" y="248.6" font-size="14" font-weight="bold" fill="#000">k</text><polyline points="520.5,314.89 521.11,314.89 521.72,314.89 522.33,314.89 522.94,314.88 523.55,314.88 524.16,314.88 524.77,314.87 525.38,314.86 525.99,314.85 526.6,314.84 527.21,314.83 527.82,314.81 528.43,314.79 529.04,314.77 529.65,314.74 530.26,314.7 530.87,314.66 531.48,314.62 532.09,314.56 532.7,314.49 533.31,314.41 533.92,314.32 534.53,314.21 535.14,314.08 535.75,313.94 536.36,313.77 536.97,313.57 537.58,313.35 538.19,313.09 538.8,312.8 539.41,312.46 540.02,312.09 540.63,311.66 541.24,311.18 541.85,310.65 542.46,310.05 543.07,309.38 543.68,308.65 544.29,307.83 544.9,306.94 545.51,305.95 546.12,304.88 546.73,303.71 547.34,302.45 547.95,301.08 548.56,299.61 549.17,298.04 549.78,296.36 550.39,294.58 551,292.69 551.61,290.7 552.22,288.61 552.83,286.43 553.44,284.17 554.05,281.82 554.66,279.4 555.27,276.93 555.88,274.4 556.49,271.84 557.1,269.25 557.71,266.66 558.32,264.07 558.93,261.51 559.54,258.99 560.15,256.54 560.76,254.15 561.37,251.87 561.98,249.7 562.59,247.66 563.2,245.76 563.81,244.03 564.42,242.48 565.03,241.12 565.64,239.96 566.25,239.02 566.86,238.29 567.47,237.8 568.08,237.54 568.69,237.52 569.3,237.73 569.91,238.18 570.52,238.85 571.13,239.75 571.74,240.87 572.35,242.19 572.96,243.71 573.57,245.4 574.18,247.26 574.79,249.28 575.4,251.43 576.01,253.69 576.62,256.05 577.23,258.5 577.84,261.01 578.45,263.56 579.06,266.14 579.67,268.73 580.28,271.32 580.89,273.89 581.5,276.42 582.11,278.91 582.72,281.34 583.33,283.7 583.94,285.99 584.55,288.18 585.16,290.29 585.77,292.3 586.38,294.21 586.99,296.01 587.6,297.71 588.21,299.31 588.82,300.8 589.43,302.18 590.04,303.47 590.65,304.65 591.26,305.75 591.87,306.75 592.48,307.66 593.09,308.49 593.7,309.24 594.31,309.92 594.92,310.53 595.53,311.08 596.14,311.57 596.75,312 597.36,312.39 597.97,312.73 598.58,313.03 599.19,313.3 599.8,313.53 600.41,313.73 601.02,313.9 601.63,314.05 602.24,314.18 602.85,314.3 603.46,314.39 604.07,314.48 604.68,314.55 605.29,314.6 605.9,314.65 606.51,314.7 607.12,314.73 607.73,314.76 608.34,314.79 608.95,314.81 609.56,314.82 610.17,314.84 610.78,314.85 611.39,314.86 612,314.87 612.61,314.87 613.22,314.88 613.83,314.88 614.44,314.89 615.05,314.89 615.66,314.89 616.27,314.89 616.88,314.89 617.49,314.9 618.1,314.9" fill="none" stroke="#3f80bb" stroke-width="0.95"/><line x1="552.22" y1="252.5" x2="586.38" y2="296.6" stroke="#e0923a" stroke-width="0.95"/><rect x="515.7" y="233.6" width="106.8" height="85.2" fill="none" stroke="#000" stroke-width="1.1"/><line x1="520.5" y1="318.8" x2="520.5" y2="321.5" stroke="#000" stroke-width="0.65"/><text x="520.5" y="329.7" text-anchor="middle" font-size="7" fill="#141414" stroke="#141414">1.00</text><line x1="551" y1="318.8" x2="551" y2="321.5" stroke="#000" stroke-width="0.65"/><text x="551" y="329.7" text-anchor="middle" font-size="7" fill="#141414" stroke="#141414">1.25</text><line x1="581.5" y1="318.8" x2="581.5" y2="321.5" stroke="#000" stroke-width="0.65"/><text x="581.5" y="329.7" text-anchor="middle" font-size="7" fill="#141414" stroke="#141414">1.50</text><line x1="612" y1="318.8" x2="612" y2="321.5" stroke="#000" stroke-width="0.65"/><text x="612" y="329.7" text-anchor="middle" font-size="7" fill="#141414" stroke="#141414">1.75</text><text x="568.6" y="341.2" text-anchor="middle" font-size="7.2" fill="#141414" stroke="#141414">Momentum (a.u.)</text><line x1="622.5" y1="237.3" x2="625.2" y2="237.3" stroke="#000" stroke-width="0.65"/><text x="627.5" y="239.8" text-anchor="start" font-size="7" fill="#e6a04e" stroke="#e6a04e">0.2</text><line x1="622.5" y1="255.12" x2="625.2" y2="255.12" stroke="#000" stroke-width="0.65"/><text x="627.5" y="257.62" text-anchor="start" font-size="7" fill="#e6a04e" stroke="#e6a04e">0.1</text><line x1="622.5" y1="272.95" x2="625.2" y2="272.95" stroke="#000" stroke-width="0.65"/><text x="627.5" y="275.45" text-anchor="start" font-size="7" fill="#e6a04e" stroke="#e6a04e">0.0</text><line x1="622.5" y1="290.77" x2="625.2" y2="290.77" stroke="#000" stroke-width="0.65"/><text x="627.5" y="293.27" text-anchor="start" font-size="7" fill="#e6a04e" stroke="#e6a04e">−0.1</text><line x1="622.5" y1="308.6" x2="625.2" y2="308.6" stroke="#000" stroke-width="0.65"/><text x="627.5" y="311.1" text-anchor="start" font-size="7" fill="#e6a04e" stroke="#e6a04e">−0.2</text><text transform="translate(651.1,277.5) rotate(-90)" text-anchor="middle" font-size="7" fill="#e6a04e" stroke="#e6a04e">Asymmetry</text><text x="520.5" y="248.1" font-size="14" font-weight="bold" fill="#000">l</text></svg></body></html>
